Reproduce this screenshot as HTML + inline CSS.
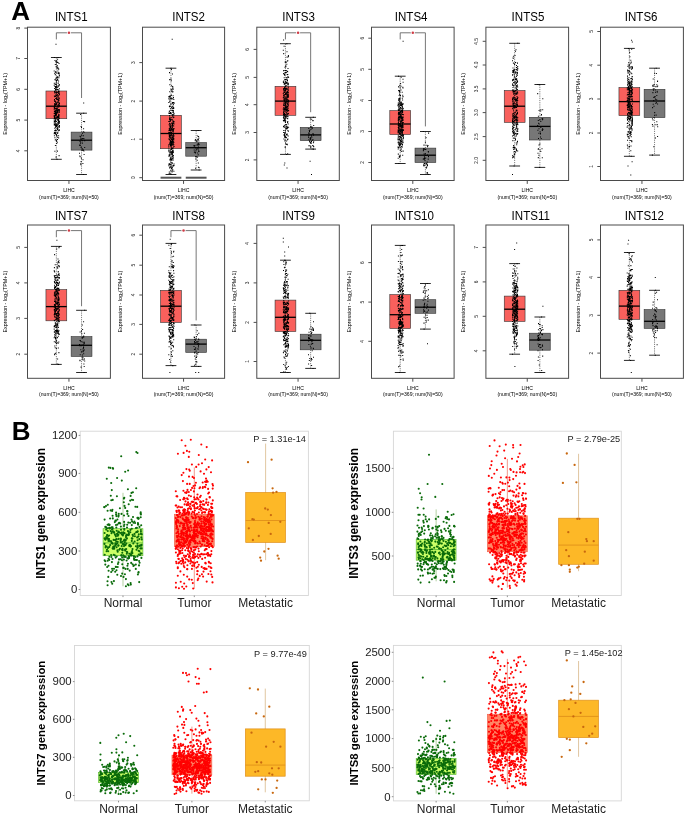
<!DOCTYPE html>
<html><head><meta charset="utf-8"><style>
html,body{margin:0;padding:0;background:#fff;width:685px;height:814px;overflow:hidden}
svg{display:block;will-change:transform;filter:blur(0.3px)}
</style></head><body><svg width="685" height="814" viewBox="0 0 685 814" font-family='"Liberation Sans", sans-serif'><text transform="translate(54.9,20.7) scale(0.94,1)" font-size="12.3" fill="#000">INTS1</text><line x1="24.3" y1="28.1" x2="27.5" y2="28.1" stroke="#222" stroke-width="0.8"/><text transform="translate(19.7,28.1) rotate(-90)" font-size="4.8" text-anchor="middle" fill="#222">8</text><line x1="24.3" y1="58.5" x2="27.5" y2="58.5" stroke="#222" stroke-width="0.8"/><text transform="translate(19.7,58.5) rotate(-90)" font-size="4.8" text-anchor="middle" fill="#222">7</text><line x1="24.3" y1="89.3" x2="27.5" y2="89.3" stroke="#222" stroke-width="0.8"/><text transform="translate(19.7,89.3) rotate(-90)" font-size="4.8" text-anchor="middle" fill="#222">6</text><line x1="24.3" y1="120.1" x2="27.5" y2="120.1" stroke="#222" stroke-width="0.8"/><text transform="translate(19.7,120.1) rotate(-90)" font-size="4.8" text-anchor="middle" fill="#222">5</text><line x1="24.3" y1="150.8" x2="27.5" y2="150.8" stroke="#222" stroke-width="0.8"/><text transform="translate(19.7,150.8) rotate(-90)" font-size="4.8" text-anchor="middle" fill="#222">4</text><text transform="translate(6.7,103.85) rotate(-90)" font-size="5.4" text-anchor="middle" fill="#000">Expression - log<tspan font-size="3.6" dy="1">2</tspan><tspan dy="-1">(TPM+1)</tspan></text><line x1="68.95" y1="180.5" x2="68.95" y2="183.9" stroke="#222" stroke-width="0.8"/><text x="68.95" y="192.1" font-size="5.1" text-anchor="middle" fill="#000">LIHC</text><text x="68.95" y="198.6" font-size="5.1" text-anchor="middle" fill="#000">(num(T)=369; num(N)=50)</text><line x1="56.35" y1="57.5" x2="56.35" y2="91" stroke="#000" stroke-width="0.5" stroke-dasharray="1.2,1"/><line x1="56.35" y1="118.7" x2="56.35" y2="159.3" stroke="#000" stroke-width="0.5" stroke-dasharray="1.2,1"/><line x1="50.95" y1="57.5" x2="61.75" y2="57.5" stroke="#000" stroke-width="0.85"/><line x1="50.95" y1="159.3" x2="61.75" y2="159.3" stroke="#000" stroke-width="0.85"/><rect x="45.95" y="91" width="20.8" height="27.7" fill="#F9605C" stroke="#333" stroke-width="0.6"/><line x1="45.95" y1="106.2" x2="66.75" y2="106.2" stroke="#000" stroke-width="1.3"/><path d="M57.6 57.5h1M56.6 159.3h1M54.7 101.1h1M56.2 99.1h1M58.7 85.2h1M54.2 101.4h1M58.1 126.8h1M56.0 114.1h1M56.3 125.4h1M58.2 110.8h1M55.8 113.5h1M56.4 109.6h1M57.4 68.7h1M59.0 122.0h1M55.5 115.6h1M58.1 115.4h1M57.5 68.1h1M57.1 66.9h1M55.8 86.2h1M55.5 95.6h1M53.9 111.9h1M54.4 105.2h1M54.0 115.9h1M57.7 91.7h1M55.0 111.9h1M54.5 113.5h1M54.1 91.3h1M58.2 138.0h1M58.4 116.5h1M57.3 128.4h1M55.2 92.2h1M55.0 89.5h1M55.2 98.4h1M56.1 103.8h1M54.5 117.9h1M56.1 110.8h1M55.1 96.1h1M58.8 84.6h1M58.9 94.5h1M56.6 128.8h1M55.0 88.0h1M58.9 110.7h1M55.3 114.1h1M55.6 72.6h1M53.7 107.1h1M55.7 130.4h1M56.2 60.8h1M56.4 99.0h1M54.7 103.8h1M56.4 87.8h1M53.7 115.4h1M55.1 104.8h1M54.1 73.2h1M55.8 121.5h1M53.9 118.6h1M53.8 123.7h1M55.3 132.9h1M54.9 112.9h1M56.8 108.4h1M56.5 76.9h1M57.7 117.6h1M57.2 92.4h1M57.5 96.0h1M58.4 77.7h1M55.8 84.4h1M55.4 94.2h1M59.0 130.1h1M54.5 60.4h1M57.6 73.4h1M57.1 110.6h1M53.9 132.9h1M58.2 116.9h1M58.5 63.4h1M57.0 112.8h1M57.6 89.6h1M58.0 81.0h1M54.4 124.3h1M56.5 126.6h1M56.4 109.1h1M58.2 110.8h1M58.0 114.2h1M58.1 135.7h1M56.8 117.7h1M58.5 115.8h1M57.3 116.4h1M57.4 70.9h1M54.9 130.0h1M53.8 123.9h1M54.4 116.0h1M55.6 61.7h1M54.2 91.9h1M58.2 121.8h1M56.7 65.4h1M57.0 102.1h1M57.0 125.1h1M57.3 76.7h1M56.3 136.0h1M53.7 116.4h1M58.0 102.8h1M57.7 112.2h1M56.4 118.2h1M56.5 108.4h1M57.2 127.4h1M54.0 91.3h1M57.6 96.9h1M55.0 125.5h1M54.1 106.7h1M55.1 86.4h1M57.6 123.7h1M54.8 133.4h1M57.6 96.2h1M58.9 75.1h1M56.3 103.2h1M55.7 102.8h1M56.2 99.5h1M57.3 132.2h1M57.8 83.1h1M57.0 129.6h1M57.1 77.6h1M54.1 88.5h1M54.4 117.9h1M55.0 127.1h1M57.7 122.1h1M55.3 112.6h1M56.7 108.8h1M53.7 109.0h1M54.0 116.9h1M55.1 102.2h1M57.3 111.3h1M57.4 116.8h1M57.3 106.2h1M55.2 120.4h1M56.4 116.7h1M56.2 143.5h1M56.2 112.2h1M54.3 96.6h1M58.5 97.8h1M54.7 105.9h1M58.9 123.3h1M58.7 98.6h1M53.7 113.4h1M56.1 140.2h1M58.1 80.9h1M58.9 110.7h1M56.1 113.6h1M55.1 110.6h1M54.8 96.5h1M58.8 118.3h1M54.8 111.4h1M56.8 94.4h1M54.4 151.2h1M56.5 112.8h1M58.8 93.7h1M54.4 104.0h1M58.1 101.1h1M56.4 104.8h1M58.4 95.2h1M57.4 124.9h1M54.9 79.9h1M58.5 104.7h1M56.3 123.9h1M53.8 122.1h1M53.7 133.8h1M56.3 67.9h1M56.1 98.2h1M55.3 98.5h1M54.4 117.8h1M55.5 126.4h1M55.4 126.4h1M58.2 73.6h1M53.7 118.9h1M57.7 72.6h1M58.2 109.5h1M54.3 128.3h1M58.7 102.8h1M57.5 109.7h1M58.5 121.0h1M55.2 108.8h1M55.7 104.2h1M55.8 134.6h1M59.0 125.6h1M56.8 99.6h1M55.6 157.1h1M56.0 80.4h1M55.1 123.1h1M53.9 100.2h1M54.2 108.7h1M58.2 119.3h1M55.2 110.3h1M58.7 118.0h1M55.0 71.8h1M55.1 72.2h1M56.4 117.6h1M54.7 84.5h1M55.7 83.1h1M58.8 73.1h1M58.4 129.7h1M58.0 120.0h1M57.1 133.5h1M58.6 85.1h1M58.7 106.2h1M56.6 80.5h1M57.5 120.4h1M53.9 135.7h1M57.6 86.1h1M56.1 135.1h1M57.7 124.5h1M57.1 102.2h1M55.2 61.8h1M53.9 132.3h1M58.7 104.0h1M54.3 92.6h1M56.2 113.6h1M55.5 113.8h1M55.3 134.0h1M57.6 83.2h1M58.9 127.3h1M55.1 133.8h1M57.2 133.1h1M55.3 102.1h1M56.7 89.4h1M55.8 125.1h1M54.6 108.3h1M54.5 108.5h1M54.8 132.6h1M58.5 100.3h1M56.3 97.5h1M54.8 64.4h1M58.5 121.4h1M59.0 112.1h1M56.1 92.4h1M54.4 106.0h1M54.7 121.6h1M54.1 107.7h1M55.5 130.8h1M54.1 104.8h1M54.9 125.5h1M55.0 133.8h1M56.7 136.0h1M58.4 91.1h1M57.7 122.5h1M55.9 63.9h1M55.9 81.8h1M56.5 62.0h1M55.7 126.0h1M55.5 78.4h1M54.0 105.9h1M55.1 101.9h1M58.9 105.6h1M54.3 92.9h1M56.4 110.5h1M57.0 139.4h1M58.3 107.0h1M54.8 116.0h1M55.1 124.7h1M55.0 101.7h1M55.8 77.8h1M56.1 93.7h1M58.8 126.1h1M58.2 69.1h1M58.4 92.7h1M53.8 124.9h1M53.8 120.9h1M57.5 106.3h1M58.5 121.1h1M56.2 109.3h1M56.8 79.6h1M53.7 71.0h1M55.8 91.8h1M58.7 123.3h1M58.1 93.5h1M58.3 85.9h1M58.9 88.8h1M55.0 71.7h1M54.2 103.6h1M54.5 79.6h1M56.5 112.9h1M57.3 112.3h1M58.7 91.7h1M57.5 62.4h1M57.1 119.6h1M57.8 100.0h1M56.1 86.5h1M56.6 111.6h1M53.9 95.9h1M57.9 120.7h1M54.9 120.1h1M58.6 118.5h1M57.1 112.3h1M55.3 130.9h1M54.3 118.4h1M55.0 114.6h1M57.1 59.2h1M57.4 122.8h1M54.3 130.5h1M54.0 99.5h1M56.5 95.6h1M56.8 142.2h1M55.7 66.6h1M54.9 114.9h1M56.9 151.1h1M53.7 85.3h1M55.3 119.0h1M56.1 141.2h1M58.8 103.5h1M57.1 116.6h1M58.4 122.9h1M56.2 85.8h1M54.9 104.2h1M55.0 111.6h1M58.8 121.5h1M57.5 105.4h1M55.3 101.8h1M53.8 83.3h1M56.3 98.1h1M57.3 122.7h1M55.9 108.1h1M55.0 87.0h1M57.3 87.2h1M58.6 155.6h1M54.9 127.3h1M53.8 118.0h1M55.5 117.7h1M55.9 115.1h1M57.3 137.4h1M54.7 114.1h1M58.0 104.7h1M57.6 115.9h1M56.4 62.4h1M54.8 125.3h1M58.9 112.2h1M55.3 90.4h1M58.1 130.8h1M54.9 139.7h1M54.8 74.6h1M57.8 91.2h1M55.2 111.6h1M58.8 109.6h1M56.3 97.2h1M54.7 84.2h1M54.9 145.5h1M55.9 125.4h1M57.2 79.3h1M58.8 75.9h1M54.4 137.8h1M55.8 124.5h1M54.8 139.9h1M58.9 121.2h1M54.4 86.5h1M53.9 111.0h1M54.0 57.5h1M55.8 89.3h1M58.5 104.9h1M58.4 115.9h1M57.6 89.8h1M59.0 103.4h1M58.7 114.7h1M55.4 113.2h1M54.7 118.0h1M58.7 110.1h1M57.7 98.9h1M53.8 120.8h1M57.2 107.1h1M55.7 87.6h1M55.7 92.1h1M55.4 106.2h1M54.6 103.7h1M53.7 109.1h1M55.2 106.2h1M55.5 44.3h1" stroke="#000" stroke-width="1.05" fill="none"/><line x1="81.55" y1="113.2" x2="81.55" y2="132.1" stroke="#000" stroke-width="0.5" stroke-dasharray="1.2,1"/><line x1="81.55" y1="150.1" x2="81.55" y2="174.5" stroke="#000" stroke-width="0.5" stroke-dasharray="1.2,1"/><line x1="76.15" y1="113.2" x2="86.95" y2="113.2" stroke="#000" stroke-width="0.85"/><line x1="76.15" y1="174.5" x2="86.95" y2="174.5" stroke="#000" stroke-width="0.85"/><rect x="71.15" y="132.1" width="20.8" height="18" fill="#777777" stroke="#333" stroke-width="0.6"/><line x1="71.15" y1="140.2" x2="91.95" y2="140.2" stroke="#000" stroke-width="1.3"/><path d="M83.2 113.2h1M82.8 174.5h1M83.3 138.5h1M83.0 150.0h1M82.1 138.4h1M80.6 126.4h1M80.6 161.6h1M80.8 147.0h1M83.1 128.7h1M79.3 156.0h1M79.9 145.3h1M82.9 121.4h1M80.2 163.8h1M79.2 145.1h1M79.0 153.3h1M81.8 143.1h1M80.6 138.4h1M84.1 121.6h1M83.6 154.5h1M84.2 140.6h1M80.3 136.8h1M79.3 145.4h1M79.4 141.3h1M81.5 150.1h1M82.7 135.7h1M81.3 139.8h1M80.1 114.5h1M81.1 135.1h1M82.2 150.1h1M82.5 159.8h1M82.9 135.8h1M83.4 138.7h1M82.4 163.4h1M79.5 136.3h1M83.4 151.0h1M80.4 164.8h1M81.9 140.8h1M80.9 158.2h1M82.8 131.7h1M79.9 143.2h1M80.2 139.3h1M80.2 141.9h1M79.7 156.8h1M83.6 132.2h1M82.0 133.3h1M80.6 147.5h1M81.0 127.5h1M84.2 147.5h1M81.6 148.6h1M80.1 136.9h1M83.2 103.0h1" stroke="#000" stroke-width="1.05" fill="none"/><path d="M56.35 39.4V32.8H81.55V98" fill="none" stroke="#666" stroke-width="0.9"/><circle cx="68.95" cy="32.8" r="2.1" fill="#fff"/><circle cx="68.95" cy="32.8" r="1.25" fill="#d03a44"/><rect x="27.5" y="27.2" width="82.9" height="153.3" fill="none" stroke="#4a4a4a" stroke-width="1"/><text transform="translate(172.2,20.7) scale(0.94,1)" font-size="12.3" fill="#000">INTS2</text><line x1="139.3" y1="62.6" x2="142.5" y2="62.6" stroke="#222" stroke-width="0.8"/><text transform="translate(134.7,62.6) rotate(-90)" font-size="4.8" text-anchor="middle" fill="#222">3</text><line x1="139.3" y1="101.1" x2="142.5" y2="101.1" stroke="#222" stroke-width="0.8"/><text transform="translate(134.7,101.1) rotate(-90)" font-size="4.8" text-anchor="middle" fill="#222">2</text><line x1="139.3" y1="139.2" x2="142.5" y2="139.2" stroke="#222" stroke-width="0.8"/><text transform="translate(134.7,139.2) rotate(-90)" font-size="4.8" text-anchor="middle" fill="#222">1</text><line x1="139.3" y1="177.7" x2="142.5" y2="177.7" stroke="#222" stroke-width="0.8"/><text transform="translate(134.7,177.7) rotate(-90)" font-size="4.8" text-anchor="middle" fill="#222">0</text><text transform="translate(121.7,103.85) rotate(-90)" font-size="5.4" text-anchor="middle" fill="#000">Expression - log<tspan font-size="3.6" dy="1">2</tspan><tspan dy="-1">(TPM+1)</tspan></text><line x1="183.55" y1="180.5" x2="183.55" y2="183.9" stroke="#222" stroke-width="0.8"/><text x="183.55" y="192.1" font-size="5.1" text-anchor="middle" fill="#000">LIHC</text><text x="183.55" y="198.6" font-size="5.1" text-anchor="middle" fill="#000">(num(T)=369; num(N)=50)</text><line x1="170.95" y1="68.2" x2="170.95" y2="115.3" stroke="#000" stroke-width="0.5" stroke-dasharray="1.2,1"/><line x1="170.95" y1="148.7" x2="170.95" y2="174.5" stroke="#000" stroke-width="0.5" stroke-dasharray="1.2,1"/><line x1="165.55" y1="68.2" x2="176.35" y2="68.2" stroke="#000" stroke-width="0.85"/><line x1="165.55" y1="174.5" x2="176.35" y2="174.5" stroke="#000" stroke-width="0.85"/><rect x="160.55" y="115.3" width="20.8" height="33.4" fill="#F9605C" stroke="#333" stroke-width="0.6"/><line x1="160.55" y1="133.5" x2="181.35" y2="133.5" stroke="#000" stroke-width="1.3"/><path d="M170.5 68.2h1M170.6 174.5h1M172.4 148.8h1M170.1 151.7h1M172.1 86.6h1M171.2 139.1h1M169.4 129.5h1M172.9 129.8h1M168.7 144.4h1M172.7 155.9h1M169.2 79.6h1M168.3 102.4h1M169.3 95.9h1M172.4 166.0h1M173.5 113.6h1M168.3 139.0h1M170.9 142.9h1M170.9 69.4h1M172.6 157.4h1M169.2 152.2h1M170.9 119.7h1M170.1 120.6h1M172.7 123.4h1M169.7 142.6h1M173.3 138.4h1M169.8 150.1h1M169.4 101.7h1M172.0 110.6h1M170.9 134.5h1M168.8 136.8h1M171.7 114.5h1M168.7 163.5h1M172.5 141.2h1M172.0 151.4h1M172.5 145.1h1M171.6 171.9h1M170.2 124.2h1M170.4 130.6h1M170.4 151.7h1M173.1 146.9h1M168.7 96.9h1M173.0 121.6h1M168.4 144.8h1M169.4 140.8h1M169.7 124.2h1M173.1 107.4h1M171.0 128.7h1M170.3 152.4h1M173.0 152.2h1M169.5 126.7h1M170.7 110.3h1M171.1 123.2h1M172.3 86.8h1M172.3 156.1h1M171.7 154.9h1M170.1 133.0h1M170.0 145.3h1M169.1 167.9h1M172.8 134.2h1M171.8 135.8h1M172.3 152.8h1M169.2 117.1h1M170.6 143.3h1M172.4 108.6h1M171.4 152.1h1M168.9 113.4h1M170.7 135.5h1M173.0 136.8h1M169.5 96.9h1M169.3 121.2h1M169.9 141.7h1M172.0 127.2h1M172.8 114.8h1M169.1 115.5h1M169.1 118.4h1M169.6 133.1h1M170.0 126.7h1M171.1 160.3h1M169.1 143.2h1M170.0 127.7h1M169.3 84.8h1M173.5 135.9h1M172.2 148.1h1M168.8 129.8h1M173.4 171.3h1M168.8 172.0h1M170.3 159.1h1M173.6 128.8h1M172.5 150.4h1M172.2 89.0h1M170.6 165.1h1M169.3 96.9h1M171.7 99.0h1M168.8 154.6h1M169.4 166.9h1M170.3 137.5h1M168.4 156.1h1M170.4 157.6h1M172.5 91.8h1M172.0 140.0h1M171.0 147.9h1M171.7 107.2h1M170.8 149.5h1M169.0 123.2h1M171.5 141.2h1M170.4 134.2h1M172.3 169.7h1M173.2 138.7h1M170.6 128.8h1M171.3 91.5h1M172.3 116.2h1M170.5 143.7h1M169.5 156.0h1M172.1 154.1h1M173.0 97.5h1M172.4 121.8h1M172.0 123.8h1M172.9 155.6h1M171.9 108.8h1M171.7 119.4h1M170.7 117.6h1M169.9 108.8h1M171.6 128.1h1M168.8 135.4h1M170.5 110.5h1M172.5 112.2h1M172.1 137.0h1M171.6 171.6h1M169.6 138.2h1M170.5 104.2h1M170.7 144.4h1M171.6 156.6h1M170.5 142.7h1M171.9 140.9h1M173.3 122.8h1M169.2 137.7h1M171.8 103.4h1M172.5 143.1h1M170.3 164.5h1M170.9 141.6h1M173.5 165.4h1M168.5 151.6h1M171.2 138.2h1M169.1 101.7h1M172.5 158.6h1M173.3 142.4h1M171.1 85.8h1M168.8 171.9h1M171.4 162.6h1M171.2 167.1h1M172.1 170.1h1M171.0 132.4h1M171.7 139.4h1M172.7 117.2h1M171.1 159.6h1M170.5 129.9h1M173.4 117.3h1M169.4 153.7h1M171.9 167.7h1M170.4 141.0h1M172.4 129.3h1M168.9 106.6h1M173.6 164.0h1M170.2 159.5h1M168.6 173.8h1M169.7 125.7h1M170.4 174.4h1M168.3 150.0h1M170.5 154.4h1M170.5 147.0h1M172.0 124.6h1M170.2 130.9h1M169.7 160.2h1M169.5 130.4h1M172.3 139.1h1M173.3 139.0h1M171.1 145.7h1M169.4 164.8h1M172.6 117.7h1M170.4 144.3h1M169.4 123.5h1M168.9 135.9h1M172.4 120.5h1M172.6 95.8h1M171.7 126.1h1M170.8 98.6h1M171.3 168.8h1M169.5 100.1h1M173.5 121.4h1M170.2 141.3h1M171.7 125.0h1M172.7 165.2h1M172.7 131.8h1M170.8 95.5h1M169.8 158.3h1M171.2 125.9h1M168.9 111.0h1M172.8 121.6h1M170.2 135.7h1M172.8 104.5h1M169.7 150.0h1M170.3 166.8h1M169.6 173.3h1M170.6 146.0h1M169.3 132.6h1M168.3 165.7h1M172.1 163.3h1M169.8 129.9h1M169.6 121.4h1M169.9 113.5h1M170.8 139.4h1M170.6 133.6h1M171.7 151.9h1M171.8 158.7h1M170.2 104.0h1M173.3 144.7h1M172.9 143.0h1M168.6 124.7h1M172.7 138.2h1M173.1 166.0h1M172.5 135.1h1M169.0 133.7h1M172.7 125.7h1M171.7 141.9h1M168.3 121.5h1M168.3 146.1h1M173.4 102.4h1M171.8 115.5h1M169.6 142.4h1M168.8 163.7h1M169.0 119.2h1M169.5 135.4h1M172.4 149.0h1M170.1 125.7h1M169.1 139.5h1M173.1 141.7h1M172.5 98.2h1M169.2 91.8h1M173.1 138.1h1M171.5 106.7h1M172.5 133.1h1M171.9 136.9h1M173.1 112.2h1M172.5 106.1h1M172.8 110.6h1M169.3 159.7h1M172.0 73.9h1M171.1 151.8h1M172.3 131.4h1M170.6 113.2h1M173.0 139.1h1M171.2 128.9h1M169.7 106.5h1M169.5 128.1h1M169.0 134.1h1M170.9 141.3h1M168.6 134.1h1M170.8 129.3h1M169.0 72.6h1M170.9 113.3h1M170.9 142.9h1M171.2 145.2h1M172.9 108.5h1M168.3 113.3h1M172.8 102.4h1M170.8 95.1h1M171.3 142.3h1M171.8 150.8h1M172.8 130.9h1M170.3 140.3h1M170.5 163.7h1M173.4 103.3h1M168.7 132.8h1M171.7 130.5h1M171.7 154.3h1M168.4 96.5h1M171.5 90.2h1M171.9 141.5h1M173.3 115.0h1M170.0 138.2h1M173.6 146.4h1M171.0 143.6h1M170.9 153.3h1M173.1 138.4h1M168.4 133.4h1M172.1 91.9h1M171.6 153.5h1M170.1 98.4h1M172.9 130.1h1M170.2 162.0h1M170.8 89.7h1M171.1 149.0h1M172.4 112.5h1M169.4 130.4h1M170.6 89.6h1M170.5 79.1h1M171.2 143.1h1M172.7 150.9h1M169.8 135.2h1M172.7 136.7h1M170.4 170.6h1M171.0 168.6h1M169.7 118.3h1M171.0 107.7h1M173.5 124.0h1M171.8 148.2h1M172.5 160.1h1M170.0 112.6h1M170.0 119.5h1M169.9 96.1h1M171.4 158.7h1M171.7 129.5h1M172.5 152.1h1M168.5 98.2h1M172.2 148.6h1M173.0 110.9h1M171.2 127.9h1M168.5 98.9h1M169.9 126.9h1M168.3 148.0h1M169.3 125.7h1M173.2 125.9h1M171.5 144.2h1M171.8 125.5h1M172.5 144.1h1M173.2 135.3h1M171.6 152.2h1M171.6 122.8h1M171.6 136.9h1M172.0 137.7h1M171.5 166.9h1M171.9 142.5h1M169.4 105.7h1M171.9 102.4h1M170.7 132.7h1M172.4 123.6h1M168.8 111.9h1M169.2 119.7h1M168.4 150.7h1M172.4 88.0h1M173.2 140.0h1M171.8 127.2h1M170.2 167.2h1M172.7 89.3h1M172.5 143.6h1M171.3 129.1h1M169.6 136.5h1M169.9 144.1h1M170.5 142.9h1M170.0 145.6h1M170.6 98.1h1M171.7 148.0h1M173.3 99.5h1M168.5 130.6h1M171.3 143.6h1M168.5 164.5h1M168.9 155.4h1M172.6 139.0h1M171.4 152.5h1M173.2 128.6h1M170.7 135.6h1M168.3 132.6h1M170.3 151.8h1M171.4 128.0h1M173.3 108.2h1M173.5 103.5h1M170.8 80.8h1M170.5 132.3h1M168.8 128.5h1M171.7 39.3h1" stroke="#000" stroke-width="1.05" fill="none"/><line x1="196.15" y1="130.5" x2="196.15" y2="142.6" stroke="#000" stroke-width="0.5" stroke-dasharray="1.2,1"/><line x1="196.15" y1="156.2" x2="196.15" y2="170" stroke="#000" stroke-width="0.5" stroke-dasharray="1.2,1"/><line x1="190.75" y1="130.5" x2="201.55" y2="130.5" stroke="#000" stroke-width="0.85"/><line x1="190.75" y1="170" x2="201.55" y2="170" stroke="#000" stroke-width="0.85"/><rect x="185.75" y="142.6" width="20.8" height="13.6" fill="#777777" stroke="#333" stroke-width="0.6"/><line x1="185.75" y1="147.7" x2="206.55" y2="147.7" stroke="#000" stroke-width="1.3"/><path d="M197.7 130.5h1M198.6 170.0h1M197.7 154.7h1M196.5 148.9h1M195.0 147.8h1M193.8 146.1h1M198.7 144.2h1M197.2 153.0h1M197.9 147.0h1M195.2 152.2h1M196.7 144.8h1M198.7 167.7h1M197.9 149.9h1M196.7 148.7h1M195.1 168.2h1M195.8 149.2h1M198.2 151.4h1M195.5 150.7h1M197.1 135.9h1M196.7 160.2h1M198.3 138.1h1M197.8 163.0h1M195.0 156.7h1M193.5 145.6h1M194.9 139.6h1M195.7 156.5h1M196.6 145.3h1M197.9 167.2h1M198.2 145.0h1M193.7 149.9h1M197.9 147.9h1M197.8 139.6h1M198.1 136.4h1M196.5 157.2h1M194.9 152.9h1M198.0 147.1h1M197.8 143.2h1M197.1 157.0h1M198.4 141.0h1M195.3 158.9h1M193.9 152.1h1M196.4 140.5h1M197.8 144.0h1M194.5 145.8h1M197.5 143.9h1M198.5 151.2h1M194.7 140.8h1M196.7 141.2h1M197.1 139.3h1M196.0 141.2h1" stroke="#000" stroke-width="1.05" fill="none"/><line x1="160.55" y1="177.7" x2="181.35" y2="177.7" stroke="#555" stroke-width="2"/><line x1="185.75" y1="177.7" x2="206.55" y2="177.7" stroke="#555" stroke-width="2"/><rect x="142.5" y="27.2" width="82.1" height="153.3" fill="none" stroke="#4a4a4a" stroke-width="1"/><text transform="translate(282.2,20.7) scale(0.94,1)" font-size="12.3" fill="#000">INTS3</text><line x1="253.6" y1="49.4" x2="256.8" y2="49.4" stroke="#222" stroke-width="0.8"/><text transform="translate(249,49.4) rotate(-90)" font-size="4.8" text-anchor="middle" fill="#222">6</text><line x1="253.6" y1="77.4" x2="256.8" y2="77.4" stroke="#222" stroke-width="0.8"/><text transform="translate(249,77.4) rotate(-90)" font-size="4.8" text-anchor="middle" fill="#222">5</text><line x1="253.6" y1="104.7" x2="256.8" y2="104.7" stroke="#222" stroke-width="0.8"/><text transform="translate(249,104.7) rotate(-90)" font-size="4.8" text-anchor="middle" fill="#222">4</text><line x1="253.6" y1="132.5" x2="256.8" y2="132.5" stroke="#222" stroke-width="0.8"/><text transform="translate(249,132.5) rotate(-90)" font-size="4.8" text-anchor="middle" fill="#222">3</text><line x1="253.6" y1="159.9" x2="256.8" y2="159.9" stroke="#222" stroke-width="0.8"/><text transform="translate(249,159.9) rotate(-90)" font-size="4.8" text-anchor="middle" fill="#222">2</text><text transform="translate(236,103.85) rotate(-90)" font-size="5.4" text-anchor="middle" fill="#000">Expression - log<tspan font-size="3.6" dy="1">2</tspan><tspan dy="-1">(TPM+1)</tspan></text><line x1="298.05" y1="180.5" x2="298.05" y2="183.9" stroke="#222" stroke-width="0.8"/><text x="298.05" y="192.1" font-size="5.1" text-anchor="middle" fill="#000">LIHC</text><text x="298.05" y="198.6" font-size="5.1" text-anchor="middle" fill="#000">(num(T)=369; num(N)=50)</text><line x1="285.45" y1="43.7" x2="285.45" y2="86.3" stroke="#000" stroke-width="0.5" stroke-dasharray="1.2,1"/><line x1="285.45" y1="115.3" x2="285.45" y2="154.4" stroke="#000" stroke-width="0.5" stroke-dasharray="1.2,1"/><line x1="280.05" y1="43.7" x2="290.85" y2="43.7" stroke="#000" stroke-width="0.85"/><line x1="280.05" y1="154.4" x2="290.85" y2="154.4" stroke="#000" stroke-width="0.85"/><rect x="275.05" y="86.3" width="20.8" height="29" fill="#F9605C" stroke="#333" stroke-width="0.6"/><line x1="275.05" y1="101.1" x2="295.85" y2="101.1" stroke="#000" stroke-width="1.3"/><path d="M286.4 43.7h1M286.1 154.4h1M287.3 116.6h1M287.2 101.4h1M285.5 62.2h1M286.7 92.0h1M286.8 103.4h1M286.9 113.7h1M285.3 65.7h1M287.0 104.1h1M286.6 128.7h1M287.7 136.0h1M283.4 73.6h1M287.5 76.4h1M282.8 97.7h1M286.9 89.1h1M285.9 93.5h1M285.4 105.8h1M287.9 113.5h1M285.8 94.8h1M285.0 81.2h1M287.0 80.6h1M287.5 92.3h1M286.0 88.7h1M284.8 99.8h1M285.2 121.0h1M285.2 93.8h1M286.7 108.2h1M284.3 75.2h1M284.9 72.5h1M285.7 116.9h1M284.8 124.7h1M284.5 86.2h1M287.0 122.2h1M287.3 106.6h1M285.4 101.8h1M285.1 143.2h1M283.7 98.4h1M284.4 72.8h1M283.5 103.4h1M285.9 98.3h1M285.9 137.6h1M283.2 53.6h1M287.7 124.0h1M284.5 105.3h1M287.3 60.8h1M287.3 116.8h1M287.9 97.3h1M283.9 114.8h1M285.1 104.4h1M287.7 104.8h1M282.8 109.1h1M283.0 126.6h1M285.8 109.6h1M285.4 117.1h1M287.7 83.5h1M286.9 144.8h1M285.7 85.4h1M288.1 127.2h1M285.5 112.3h1M285.5 92.2h1M286.5 107.5h1M284.9 116.8h1M284.7 96.8h1M286.0 72.2h1M284.6 88.7h1M287.9 131.3h1M286.4 92.3h1M285.6 82.4h1M283.3 115.4h1M284.8 130.5h1M284.9 147.2h1M285.8 116.0h1M285.8 100.3h1M287.5 116.8h1M288.0 105.0h1M285.4 72.8h1M285.1 137.5h1M286.1 134.2h1M288.1 77.5h1M284.6 136.5h1M285.6 111.9h1M287.2 93.2h1M283.7 70.5h1M284.5 108.2h1M288.0 100.4h1M287.2 122.8h1M285.5 129.0h1M283.3 130.5h1M287.6 88.8h1M286.5 92.2h1M287.2 128.0h1M288.1 101.6h1M287.5 90.8h1M285.0 93.5h1M283.6 115.6h1M284.3 118.2h1M285.5 118.1h1M285.5 108.7h1M283.8 114.6h1M283.7 120.8h1M286.2 125.9h1M286.0 134.5h1M284.7 103.7h1M288.1 103.0h1M286.2 106.5h1M283.0 114.5h1M285.0 94.3h1M287.0 139.8h1M284.4 83.3h1M286.5 109.9h1M282.8 93.4h1M284.4 91.7h1M287.3 104.2h1M285.9 137.6h1M286.4 82.9h1M283.8 84.4h1M285.4 83.7h1M285.7 79.3h1M284.2 134.2h1M286.2 70.5h1M285.6 105.3h1M288.1 110.4h1M285.9 112.7h1M285.0 132.3h1M283.4 112.7h1M283.6 89.5h1M286.9 97.1h1M283.3 112.5h1M283.3 88.6h1M283.7 90.2h1M285.6 107.5h1M287.2 95.5h1M286.1 141.0h1M287.1 94.4h1M283.1 112.1h1M282.8 81.9h1M286.9 102.1h1M284.5 109.6h1M286.6 94.9h1M284.7 108.2h1M283.7 100.1h1M284.2 125.8h1M283.3 81.1h1M287.6 106.9h1M285.9 124.4h1M284.6 97.3h1M285.2 116.9h1M284.8 107.1h1M283.0 120.2h1M287.6 96.7h1M285.9 109.6h1M287.9 96.6h1M285.1 89.6h1M286.1 144.5h1M284.1 132.8h1M283.0 113.1h1M287.8 84.7h1M287.4 139.1h1M284.4 104.9h1M287.6 94.6h1M287.2 110.8h1M284.4 140.9h1M286.0 101.6h1M287.9 87.2h1M285.4 98.8h1M287.9 56.7h1M284.1 119.5h1M284.9 106.5h1M286.6 128.0h1M283.9 109.7h1M284.4 111.2h1M287.5 105.4h1M285.4 66.8h1M287.0 103.9h1M284.1 109.2h1M283.7 125.7h1M284.7 116.2h1M283.8 83.6h1M288.0 101.6h1M284.3 109.0h1M285.8 129.0h1M283.4 90.6h1M285.6 62.4h1M284.8 88.3h1M284.9 93.8h1M283.1 132.4h1M283.4 114.8h1M287.2 71.7h1M284.6 119.5h1M284.1 137.2h1M283.8 114.2h1M284.3 79.6h1M284.0 135.9h1M282.9 117.3h1M286.3 81.9h1M284.6 147.1h1M283.6 105.6h1M286.6 57.1h1M283.3 107.4h1M284.2 99.7h1M287.3 114.5h1M283.4 111.0h1M285.1 82.8h1M287.3 111.6h1M287.1 118.5h1M283.6 99.3h1M284.7 99.9h1M286.7 77.4h1M284.8 98.1h1M287.9 90.0h1M283.9 100.0h1M287.9 92.2h1M285.5 61.7h1M284.0 113.4h1M285.2 86.7h1M283.5 95.9h1M286.6 80.2h1M284.2 101.2h1M287.6 93.3h1M285.9 137.5h1M284.7 62.1h1M284.1 74.8h1M286.0 101.9h1M283.9 74.4h1M287.5 95.9h1M283.4 108.2h1M285.5 103.3h1M285.7 114.3h1M284.2 113.9h1M286.9 110.7h1M284.8 103.2h1M286.3 96.2h1M285.8 127.9h1M284.4 119.7h1M284.9 102.4h1M283.2 104.8h1M283.7 77.8h1M287.3 84.3h1M284.5 67.3h1M286.3 96.2h1M283.3 135.0h1M285.8 126.7h1M284.7 99.7h1M285.5 94.6h1M284.4 118.7h1M283.1 118.3h1M284.4 83.3h1M284.0 101.0h1M283.4 116.6h1M286.6 116.0h1M284.3 119.5h1M284.9 122.5h1M287.7 108.7h1M286.9 91.6h1M287.5 68.5h1M287.4 85.0h1M283.5 121.3h1M284.2 134.9h1M282.9 120.4h1M286.4 92.8h1M286.3 64.2h1M284.6 120.4h1M285.0 79.4h1M286.3 97.6h1M286.5 135.1h1M284.1 87.4h1M287.3 92.5h1M284.7 114.4h1M286.1 89.1h1M283.7 120.5h1M283.4 138.9h1M287.7 96.4h1M286.7 134.1h1M286.6 80.1h1M283.0 105.1h1M283.0 95.1h1M283.6 46.2h1M283.8 95.1h1M284.4 115.7h1M284.8 94.4h1M283.0 73.7h1M284.4 115.1h1M286.2 83.3h1M283.7 120.6h1M287.3 121.4h1M285.8 110.6h1M286.6 96.6h1M284.1 101.0h1M285.1 136.7h1M286.4 143.9h1M284.6 109.3h1M282.8 50.2h1M287.3 74.4h1M286.9 71.4h1M284.3 133.8h1M283.0 70.8h1M287.4 130.6h1M286.0 107.6h1M283.0 97.8h1M284.1 132.7h1M283.4 97.1h1M287.0 127.1h1M283.9 127.2h1M287.7 87.1h1M286.8 101.0h1M283.2 126.6h1M286.5 51.8h1M284.9 122.0h1M286.8 96.7h1M287.2 118.6h1M284.3 94.4h1M283.2 92.2h1M287.9 55.6h1M285.0 70.5h1M287.8 83.8h1M286.5 99.6h1M286.7 74.6h1M287.2 106.5h1M286.1 107.6h1M285.2 109.8h1M283.0 113.0h1M286.5 114.0h1M285.1 86.0h1M285.5 110.7h1M287.8 101.5h1M283.4 110.1h1M286.9 60.9h1M283.0 89.1h1M286.5 79.1h1M287.1 82.9h1M284.2 92.5h1M285.7 89.2h1M288.0 95.1h1M286.2 77.5h1M285.7 72.2h1M284.1 92.1h1M283.1 82.5h1M284.7 104.6h1M285.0 101.8h1M283.8 116.0h1M284.4 79.6h1M283.5 99.4h1M286.6 98.2h1M286.4 99.4h1M284.0 74.9h1M284.1 134.6h1M285.5 103.0h1M285.2 127.9h1M287.8 83.2h1M284.6 102.0h1M284.4 118.7h1M287.5 99.7h1M283.5 102.8h1M285.8 88.3h1M284.6 140.0h1M287.2 118.5h1M285.7 93.8h1M286.9 103.9h1M283.7 83.1h1M286.3 115.8h1M286.0 100.1h1M285.2 90.6h1M286.9 109.4h1M287.2 153.7h1M283.4 100.2h1M284.3 88.4h1M284.7 90.5h1M283.9 117.9h1M283.1 40.0h1M284.3 163.0h1M283.8 165.0h1M286.5 168.0h1" stroke="#000" stroke-width="1.05" fill="none"/><line x1="310.65" y1="117.3" x2="310.65" y2="127.4" stroke="#000" stroke-width="0.5" stroke-dasharray="1.2,1"/><line x1="310.65" y1="140.6" x2="310.65" y2="149.1" stroke="#000" stroke-width="0.5" stroke-dasharray="1.2,1"/><line x1="305.25" y1="117.3" x2="316.05" y2="117.3" stroke="#000" stroke-width="0.85"/><line x1="305.25" y1="149.1" x2="316.05" y2="149.1" stroke="#000" stroke-width="0.85"/><rect x="300.25" y="127.4" width="20.8" height="13.2" fill="#777777" stroke="#333" stroke-width="0.6"/><line x1="300.25" y1="134.9" x2="321.05" y2="134.9" stroke="#000" stroke-width="1.3"/><path d="M312.8 117.3h1M313.1 149.1h1M310.6 129.3h1M310.6 143.4h1M308.8 130.5h1M309.6 138.8h1M311.1 136.0h1M308.4 135.4h1M311.7 149.0h1M308.8 134.0h1M310.3 146.5h1M313.2 141.7h1M308.4 145.7h1M308.2 133.1h1M310.3 142.5h1M309.0 141.1h1M311.9 128.3h1M308.0 137.1h1M312.5 133.5h1M312.6 134.5h1M312.2 145.5h1M310.2 127.2h1M309.5 130.0h1M311.5 128.0h1M310.7 135.0h1M310.2 139.5h1M309.8 137.4h1M310.3 138.7h1M311.5 127.0h1M312.4 139.6h1M312.8 146.0h1M308.8 145.8h1M309.5 142.2h1M310.3 147.8h1M311.0 141.6h1M309.8 118.9h1M309.0 131.6h1M308.4 139.7h1M309.7 138.3h1M310.4 126.2h1M313.2 125.4h1M312.9 142.8h1M312.6 120.6h1M313.2 146.6h1M313.1 135.1h1M311.3 137.3h1M312.3 120.6h1M308.3 128.5h1M311.6 140.5h1M311.2 119.2h1M309.6 161.3h1M311.0 174.5h1" stroke="#000" stroke-width="1.05" fill="none"/><path d="M285.45 39.4V32.8H310.65V112.2" fill="none" stroke="#666" stroke-width="0.9"/><circle cx="298.05" cy="32.8" r="2.1" fill="#fff"/><circle cx="298.05" cy="32.8" r="1.25" fill="#d03a44"/><rect x="256.8" y="27.2" width="82.5" height="153.3" fill="none" stroke="#4a4a4a" stroke-width="1"/><text transform="translate(394.8,20.7) scale(0.94,1)" font-size="12.3" fill="#000">INTS4</text><line x1="368.3" y1="38.2" x2="371.5" y2="38.2" stroke="#222" stroke-width="0.8"/><text transform="translate(363.7,38.2) rotate(-90)" font-size="4.8" text-anchor="middle" fill="#222">6</text><line x1="368.3" y1="69.3" x2="371.5" y2="69.3" stroke="#222" stroke-width="0.8"/><text transform="translate(363.7,69.3) rotate(-90)" font-size="4.8" text-anchor="middle" fill="#222">5</text><line x1="368.3" y1="100.5" x2="371.5" y2="100.5" stroke="#222" stroke-width="0.8"/><text transform="translate(363.7,100.5) rotate(-90)" font-size="4.8" text-anchor="middle" fill="#222">4</text><line x1="368.3" y1="131.5" x2="371.5" y2="131.5" stroke="#222" stroke-width="0.8"/><text transform="translate(363.7,131.5) rotate(-90)" font-size="4.8" text-anchor="middle" fill="#222">3</text><line x1="368.3" y1="162.5" x2="371.5" y2="162.5" stroke="#222" stroke-width="0.8"/><text transform="translate(363.7,162.5) rotate(-90)" font-size="4.8" text-anchor="middle" fill="#222">2</text><text transform="translate(350.7,103.85) rotate(-90)" font-size="5.4" text-anchor="middle" fill="#000">Expression - log<tspan font-size="3.6" dy="1">2</tspan><tspan dy="-1">(TPM+1)</tspan></text><line x1="412.8" y1="180.5" x2="412.8" y2="183.9" stroke="#222" stroke-width="0.8"/><text x="412.8" y="192.1" font-size="5.1" text-anchor="middle" fill="#000">LIHC</text><text x="412.8" y="198.6" font-size="5.1" text-anchor="middle" fill="#000">(num(T)=369; num(N)=50)</text><line x1="400.2" y1="76.2" x2="400.2" y2="110.6" stroke="#000" stroke-width="0.5" stroke-dasharray="1.2,1"/><line x1="400.2" y1="134.5" x2="400.2" y2="163.5" stroke="#000" stroke-width="0.5" stroke-dasharray="1.2,1"/><line x1="394.8" y1="76.2" x2="405.6" y2="76.2" stroke="#000" stroke-width="0.85"/><line x1="394.8" y1="163.5" x2="405.6" y2="163.5" stroke="#000" stroke-width="0.85"/><rect x="389.8" y="110.6" width="20.8" height="23.9" fill="#F9605C" stroke="#333" stroke-width="0.6"/><line x1="389.8" y1="124" x2="410.6" y2="124" stroke="#000" stroke-width="1.3"/><path d="M398.0 76.2h1M398.4 163.5h1M401.2 113.9h1M398.0 110.6h1M399.3 101.1h1M402.5 151.0h1M401.4 133.9h1M402.3 125.8h1M402.8 114.6h1M397.7 104.5h1M398.8 143.7h1M401.8 135.7h1M401.2 105.8h1M397.7 138.8h1M400.2 102.9h1M398.8 133.6h1M399.8 105.7h1M398.1 116.1h1M397.6 131.4h1M402.9 130.5h1M399.2 139.1h1M402.2 108.0h1M398.2 147.6h1M400.1 144.1h1M398.2 123.8h1M399.8 131.0h1M398.5 109.2h1M401.2 121.1h1M398.3 98.8h1M401.5 125.3h1M400.2 127.0h1M398.1 144.1h1M399.4 138.2h1M400.2 136.2h1M402.5 117.1h1M399.4 119.7h1M398.7 117.5h1M402.7 127.3h1M402.3 87.2h1M401.4 135.5h1M399.0 94.1h1M398.5 114.2h1M398.9 124.3h1M397.9 114.2h1M397.7 148.9h1M400.2 122.1h1M399.7 147.5h1M400.5 141.5h1M399.5 114.5h1M397.6 130.0h1M401.2 143.4h1M401.0 117.6h1M400.4 125.3h1M400.5 113.4h1M401.2 124.9h1M402.8 117.3h1M402.2 125.2h1M401.4 139.0h1M399.7 144.8h1M399.2 126.0h1M399.8 127.0h1M402.8 136.8h1M399.6 118.5h1M399.6 103.8h1M399.7 140.6h1M398.3 106.2h1M402.9 137.9h1M397.5 105.6h1M400.8 151.4h1M402.5 104.1h1M398.9 136.7h1M400.8 146.4h1M399.5 105.7h1M398.8 146.2h1M398.6 108.3h1M398.1 90.4h1M402.1 134.8h1M401.7 134.5h1M402.4 120.1h1M397.8 123.0h1M401.2 118.2h1M399.3 116.8h1M401.0 118.5h1M400.5 89.9h1M399.2 113.2h1M402.7 150.9h1M397.5 147.1h1M401.5 117.1h1M402.1 110.4h1M400.3 129.9h1M400.7 139.9h1M402.9 134.8h1M398.8 101.7h1M400.9 126.4h1M401.5 126.1h1M399.5 145.5h1M401.3 141.9h1M399.6 131.8h1M400.3 142.2h1M400.8 116.5h1M401.2 147.0h1M399.2 115.9h1M400.9 129.9h1M400.4 137.7h1M398.7 106.6h1M400.8 110.6h1M398.9 90.5h1M402.4 126.5h1M400.1 123.0h1M401.4 117.8h1M400.3 131.4h1M400.1 83.6h1M398.7 123.5h1M398.3 125.3h1M402.5 118.9h1M400.4 135.9h1M400.3 150.2h1M400.3 115.5h1M401.9 106.1h1M398.8 112.5h1M398.4 125.4h1M401.9 132.8h1M400.0 107.6h1M401.0 138.9h1M402.0 104.5h1M402.3 136.4h1M402.2 130.4h1M397.7 130.9h1M399.6 156.2h1M402.0 119.0h1M401.9 120.8h1M398.2 131.1h1M398.3 136.9h1M398.9 98.5h1M398.1 128.1h1M399.4 109.9h1M401.8 133.4h1M400.3 144.5h1M399.9 124.8h1M398.0 122.0h1M399.6 126.7h1M402.9 135.5h1M401.3 132.4h1M399.9 126.5h1M400.1 116.4h1M401.8 110.1h1M401.6 120.6h1M398.3 142.1h1M401.2 122.0h1M399.5 144.1h1M400.3 115.2h1M398.8 128.1h1M399.5 123.7h1M399.3 92.3h1M399.6 111.3h1M397.6 142.7h1M398.6 99.4h1M400.6 105.1h1M397.8 103.1h1M398.5 113.5h1M401.4 133.6h1M399.0 132.9h1M399.2 85.3h1M398.8 145.8h1M402.0 112.7h1M398.0 112.8h1M400.9 148.9h1M402.1 122.4h1M398.6 100.4h1M399.8 111.8h1M401.8 110.1h1M400.8 104.7h1M399.5 117.6h1M397.7 137.1h1M399.9 129.2h1M399.5 97.7h1M401.3 105.1h1M399.1 125.7h1M399.7 124.5h1M401.0 135.4h1M401.9 117.7h1M399.4 130.8h1M399.6 155.5h1M400.6 125.4h1M402.5 103.4h1M398.5 128.9h1M402.7 108.7h1M401.3 116.9h1M399.5 126.8h1M401.1 129.0h1M399.3 118.6h1M397.9 136.7h1M401.6 120.3h1M399.5 99.1h1M400.3 137.1h1M400.2 117.1h1M402.4 142.1h1M401.6 111.5h1M397.6 132.6h1M400.7 128.7h1M400.0 95.5h1M400.0 102.7h1M402.0 145.0h1M399.7 88.0h1M400.1 137.7h1M402.3 140.3h1M399.9 131.4h1M400.2 134.1h1M400.3 114.5h1M402.0 123.8h1M401.1 127.4h1M401.5 130.3h1M399.7 134.6h1M397.7 120.1h1M401.2 110.6h1M400.5 113.3h1M401.7 130.1h1M401.7 92.3h1M398.1 100.1h1M398.7 116.1h1M397.9 113.5h1M401.9 118.8h1M398.0 117.5h1M398.0 119.2h1M401.6 135.6h1M400.5 86.2h1M397.8 118.2h1M401.2 131.1h1M401.3 131.3h1M400.1 141.9h1M397.8 139.8h1M401.2 104.0h1M399.8 133.5h1M400.7 117.6h1M402.9 108.7h1M401.9 146.9h1M402.2 112.0h1M398.3 107.7h1M399.3 116.2h1M400.3 107.7h1M397.5 139.1h1M402.8 129.7h1M399.0 145.0h1M398.9 130.2h1M399.2 112.3h1M398.9 139.7h1M402.1 111.5h1M400.5 115.2h1M400.3 120.8h1M399.8 124.6h1M397.8 141.9h1M399.1 112.4h1M402.2 129.3h1M401.8 123.5h1M402.1 99.9h1M398.9 103.1h1M398.6 119.8h1M397.8 130.1h1M400.4 128.8h1M399.5 131.2h1M400.0 124.7h1M400.1 115.4h1M400.7 130.4h1M399.5 104.8h1M401.8 98.3h1M398.6 117.6h1M402.5 96.6h1M400.5 114.2h1M397.8 109.7h1M399.2 113.4h1M400.4 123.1h1M399.7 108.7h1M400.6 115.9h1M399.2 91.3h1M399.0 126.2h1M401.8 107.1h1M399.1 130.1h1M401.3 108.6h1M401.8 127.6h1M400.7 77.2h1M400.0 117.1h1M402.5 125.4h1M399.9 125.5h1M402.2 95.3h1M397.8 127.4h1M399.8 126.2h1M401.0 105.4h1M397.8 135.2h1M402.2 123.1h1M397.9 124.3h1M400.7 115.4h1M398.5 132.2h1M402.5 125.5h1M400.5 141.1h1M401.8 130.8h1M400.2 112.2h1M401.1 119.7h1M401.1 137.8h1M399.1 117.0h1M398.6 129.8h1M402.0 131.8h1M398.3 120.6h1M402.5 79.3h1M398.6 126.0h1M398.0 127.2h1M398.0 126.0h1M401.7 109.4h1M402.6 142.2h1M399.7 121.4h1M401.1 112.0h1M398.9 110.2h1M402.4 129.4h1M401.2 103.0h1M398.3 104.8h1M397.8 154.1h1M401.3 143.7h1M397.7 139.9h1M402.0 144.5h1M399.1 133.0h1M398.8 91.6h1M400.6 142.0h1M399.2 142.7h1M400.5 131.4h1M398.3 86.4h1M402.4 142.7h1M399.3 144.6h1M402.0 114.5h1M398.3 125.9h1M401.8 135.7h1M402.8 122.4h1M399.6 140.6h1M397.7 125.2h1M399.6 134.4h1M401.0 125.3h1M398.7 95.5h1M400.4 104.8h1M398.0 128.2h1M400.0 143.8h1M401.4 141.2h1M399.8 149.9h1M401.2 132.4h1M398.1 112.5h1M402.0 124.3h1M398.2 87.0h1M402.5 120.4h1M402.9 137.7h1M402.6 82.3h1M400.3 127.0h1M399.1 136.4h1M399.4 144.0h1M401.6 106.2h1M400.2 111.4h1M402.5 87.9h1M398.0 104.4h1M400.1 132.1h1M402.2 155.3h1M400.7 101.9h1M400.4 144.8h1M398.0 130.5h1M398.3 114.5h1M399.0 157.2h1M402.3 122.7h1M402.1 127.3h1M398.7 156.2h1M402.5 151.2h1M397.7 158.2h1M400.7 126.0h1M402.7 138.8h1M399.4 144.6h1M402.6 41.3h1" stroke="#000" stroke-width="1.05" fill="none"/><line x1="425.4" y1="131.5" x2="425.4" y2="148.1" stroke="#000" stroke-width="0.5" stroke-dasharray="1.2,1"/><line x1="425.4" y1="162.5" x2="425.4" y2="174.5" stroke="#000" stroke-width="0.5" stroke-dasharray="1.2,1"/><line x1="420" y1="131.5" x2="430.8" y2="131.5" stroke="#000" stroke-width="0.85"/><line x1="420" y1="174.5" x2="430.8" y2="174.5" stroke="#000" stroke-width="0.85"/><rect x="415" y="148.1" width="20.8" height="14.4" fill="#777777" stroke="#333" stroke-width="0.6"/><line x1="415" y1="155.2" x2="435.8" y2="155.2" stroke="#000" stroke-width="1.3"/><path d="M422.8 131.5h1M427.8 174.5h1M425.3 149.5h1M427.0 165.5h1M425.8 155.5h1M426.4 173.0h1M423.9 163.4h1M426.8 172.4h1M423.5 154.0h1M424.1 159.1h1M422.9 150.8h1M424.8 153.5h1M425.5 137.6h1M424.3 149.3h1M427.5 145.5h1M423.2 148.6h1M425.8 167.9h1M424.0 157.9h1M425.9 168.0h1M426.9 164.2h1M426.5 164.8h1M423.0 165.7h1M424.0 149.1h1M425.9 163.6h1M428.0 151.9h1M422.9 149.8h1M426.0 167.7h1M426.4 145.3h1M427.1 173.3h1M424.5 163.9h1M427.1 146.6h1M425.2 158.1h1M427.7 159.1h1M422.8 159.1h1M427.8 151.6h1M424.9 142.2h1M424.9 155.5h1M423.2 164.2h1M424.0 163.4h1M426.7 162.1h1M426.4 166.7h1M423.5 145.1h1M424.6 154.8h1M423.5 158.8h1M423.8 165.6h1M423.9 156.8h1M424.5 160.6h1M428.0 156.6h1M428.1 133.1h1M427.0 155.0h1" stroke="#000" stroke-width="1.05" fill="none"/><path d="M400.2 39.4V32.8H425.4V126.4" fill="none" stroke="#666" stroke-width="0.9"/><circle cx="412.8" cy="32.8" r="2.1" fill="#fff"/><circle cx="412.8" cy="32.8" r="1.25" fill="#d03a44"/><rect x="371.5" y="27.2" width="82.6" height="153.3" fill="none" stroke="#4a4a4a" stroke-width="1"/><text transform="translate(511.6,20.7) scale(0.94,1)" font-size="12.3" fill="#000">INTS5</text><line x1="482.7" y1="41.3" x2="485.9" y2="41.3" stroke="#222" stroke-width="0.8"/><text transform="translate(478.1,41.3) rotate(-90)" font-size="4.8" text-anchor="middle" fill="#222">4.5</text><line x1="482.7" y1="65" x2="485.9" y2="65" stroke="#222" stroke-width="0.8"/><text transform="translate(478.1,65) rotate(-90)" font-size="4.8" text-anchor="middle" fill="#222">4.0</text><line x1="482.7" y1="88.9" x2="485.9" y2="88.9" stroke="#222" stroke-width="0.8"/><text transform="translate(478.1,88.9) rotate(-90)" font-size="4.8" text-anchor="middle" fill="#222">3.5</text><line x1="482.7" y1="112.6" x2="485.9" y2="112.6" stroke="#222" stroke-width="0.8"/><text transform="translate(478.1,112.6) rotate(-90)" font-size="4.8" text-anchor="middle" fill="#222">3.0</text><line x1="482.7" y1="136.6" x2="485.9" y2="136.6" stroke="#222" stroke-width="0.8"/><text transform="translate(478.1,136.6) rotate(-90)" font-size="4.8" text-anchor="middle" fill="#222">2.5</text><line x1="482.7" y1="160.3" x2="485.9" y2="160.3" stroke="#222" stroke-width="0.8"/><text transform="translate(478.1,160.3) rotate(-90)" font-size="4.8" text-anchor="middle" fill="#222">2.0</text><text transform="translate(465.1,103.85) rotate(-90)" font-size="5.4" text-anchor="middle" fill="#000">Expression - log<tspan font-size="3.6" dy="1">2</tspan><tspan dy="-1">(TPM+1)</tspan></text><line x1="527.25" y1="180.5" x2="527.25" y2="183.9" stroke="#222" stroke-width="0.8"/><text x="527.25" y="192.1" font-size="5.1" text-anchor="middle" fill="#000">LIHC</text><text x="527.25" y="198.6" font-size="5.1" text-anchor="middle" fill="#000">(num(T)=369; num(N)=50)</text><line x1="514.65" y1="43.3" x2="514.65" y2="90.5" stroke="#000" stroke-width="0.5" stroke-dasharray="1.2,1"/><line x1="514.65" y1="122.4" x2="514.65" y2="166" stroke="#000" stroke-width="0.5" stroke-dasharray="1.2,1"/><line x1="509.25" y1="43.3" x2="520.05" y2="43.3" stroke="#000" stroke-width="0.85"/><line x1="509.25" y1="166" x2="520.05" y2="166" stroke="#000" stroke-width="0.85"/><rect x="504.25" y="90.5" width="20.8" height="31.9" fill="#F9605C" stroke="#333" stroke-width="0.6"/><line x1="504.25" y1="106.2" x2="525.05" y2="106.2" stroke="#000" stroke-width="1.3"/><path d="M517.3 43.3h1M513.6 166.0h1M512.2 115.8h1M512.9 56.2h1M513.9 106.5h1M516.8 73.1h1M516.3 116.8h1M514.4 138.1h1M512.5 130.1h1M512.5 72.5h1M512.8 138.1h1M516.1 127.1h1M514.5 98.1h1M517.3 117.8h1M516.9 141.3h1M516.2 98.8h1M514.5 105.9h1M516.4 93.7h1M512.6 132.9h1M512.5 58.0h1M515.0 139.0h1M514.7 84.5h1M513.1 127.6h1M513.3 69.8h1M512.1 85.2h1M516.9 92.8h1M515.8 125.3h1M517.1 69.9h1M517.2 120.1h1M514.3 92.0h1M515.9 134.9h1M514.0 99.2h1M516.3 117.4h1M516.5 102.4h1M512.7 147.6h1M512.0 98.1h1M513.1 105.6h1M515.1 152.1h1M514.0 108.0h1M512.0 122.1h1M516.4 89.7h1M516.2 110.8h1M514.5 55.4h1M512.2 108.6h1M516.8 91.7h1M514.8 72.5h1M512.3 74.5h1M513.7 132.6h1M515.3 116.1h1M516.7 72.2h1M514.6 148.1h1M515.4 90.6h1M513.1 97.9h1M513.3 111.9h1M516.8 80.7h1M514.0 70.0h1M512.5 89.5h1M515.1 133.5h1M512.6 128.2h1M513.0 70.8h1M514.4 134.0h1M515.1 107.0h1M515.4 117.8h1M515.8 107.4h1M514.3 115.8h1M512.3 83.8h1M515.9 85.8h1M512.2 90.5h1M514.5 97.9h1M514.1 120.5h1M515.6 79.0h1M515.8 143.0h1M513.2 92.0h1M515.5 93.0h1M515.7 122.5h1M514.5 116.2h1M512.7 98.6h1M516.9 82.2h1M515.2 83.8h1M512.3 70.4h1M513.2 132.6h1M517.3 131.2h1M513.2 149.4h1M514.1 117.7h1M516.2 113.9h1M516.4 123.7h1M515.4 128.2h1M516.0 100.4h1M512.2 114.3h1M512.5 156.0h1M517.2 68.3h1M516.3 74.7h1M512.2 84.6h1M512.2 123.6h1M513.2 133.7h1M517.0 98.6h1M513.1 121.7h1M515.6 105.1h1M517.0 113.1h1M515.4 94.1h1M516.9 105.6h1M513.4 106.1h1M512.8 132.3h1M512.0 157.8h1M516.0 65.5h1M512.5 118.5h1M517.2 106.1h1M515.8 128.6h1M513.0 130.7h1M516.3 124.2h1M512.8 124.9h1M514.7 84.9h1M512.5 68.0h1M516.2 144.8h1M516.8 134.2h1M516.9 84.9h1M512.0 136.0h1M516.5 121.6h1M515.0 51.2h1M516.4 127.0h1M514.7 84.1h1M515.3 133.2h1M515.2 90.9h1M516.3 89.5h1M512.4 71.6h1M512.2 101.3h1M514.9 129.7h1M513.5 91.1h1M514.1 64.5h1M512.0 155.8h1M516.0 148.9h1M512.1 122.2h1M516.4 94.1h1M516.3 79.0h1M514.4 69.5h1M512.6 119.1h1M515.5 136.3h1M513.1 82.4h1M514.3 106.2h1M512.5 100.0h1M517.2 100.4h1M514.9 117.8h1M513.9 154.6h1M512.5 91.9h1M515.9 125.9h1M516.5 131.4h1M516.5 99.8h1M512.5 102.9h1M513.9 76.1h1M513.6 131.2h1M516.1 94.3h1M512.7 91.5h1M515.2 107.8h1M517.2 86.9h1M516.1 82.8h1M512.0 99.5h1M512.4 140.6h1M512.6 101.6h1M515.7 118.4h1M515.2 73.3h1M514.8 62.5h1M514.4 148.3h1M514.1 97.3h1M515.2 71.7h1M515.5 103.8h1M516.9 120.3h1M515.9 67.4h1M516.3 86.4h1M516.9 112.2h1M516.5 85.5h1M515.8 124.7h1M512.1 128.5h1M515.6 116.5h1M516.5 96.6h1M514.3 105.2h1M516.7 92.0h1M512.9 103.3h1M517.0 113.6h1M514.3 99.5h1M515.8 128.8h1M513.3 93.9h1M513.6 114.2h1M513.8 125.3h1M513.7 121.1h1M512.5 100.9h1M514.3 95.4h1M517.2 129.5h1M515.5 120.7h1M517.0 117.9h1M516.1 88.1h1M516.5 120.8h1M517.3 124.6h1M516.0 102.0h1M513.4 121.2h1M513.3 156.6h1M514.2 64.0h1M512.1 120.3h1M513.2 79.9h1M516.7 75.5h1M516.9 100.9h1M513.7 118.9h1M516.1 107.4h1M516.1 80.0h1M516.8 73.8h1M516.2 93.7h1M514.8 106.5h1M512.5 87.5h1M516.4 72.4h1M513.6 146.9h1M515.3 87.3h1M513.9 102.7h1M514.9 93.9h1M517.2 93.0h1M512.8 107.1h1M514.8 99.5h1M515.5 120.6h1M514.9 79.5h1M517.0 72.7h1M514.2 151.5h1M516.9 104.5h1M515.7 124.1h1M517.2 133.6h1M512.4 119.1h1M513.1 107.0h1M513.5 71.2h1M516.8 70.1h1M512.0 128.9h1M513.4 121.9h1M515.8 119.4h1M517.3 68.8h1M512.9 58.2h1M514.3 82.4h1M515.7 79.6h1M515.7 109.9h1M516.0 83.2h1M516.0 143.0h1M513.3 92.2h1M513.3 93.5h1M512.1 126.3h1M515.7 113.8h1M513.1 85.9h1M513.4 125.3h1M517.2 151.0h1M515.4 78.5h1M515.1 100.6h1M515.5 81.9h1M515.2 62.4h1M515.7 120.8h1M513.6 122.5h1M512.3 128.9h1M512.3 116.2h1M512.0 60.7h1M513.9 105.6h1M512.7 91.1h1M512.6 79.6h1M514.6 81.2h1M517.2 124.0h1M515.7 99.5h1M513.4 152.0h1M516.1 117.2h1M512.9 63.1h1M512.5 127.1h1M513.6 135.3h1M514.2 106.9h1M515.7 78.8h1M514.4 147.5h1M515.9 76.5h1M512.5 104.3h1M517.0 63.1h1M513.8 77.8h1M516.4 67.7h1M512.1 131.6h1M516.4 133.7h1M513.2 97.0h1M516.6 75.5h1M516.3 104.8h1M515.6 115.1h1M513.4 71.6h1M512.0 80.0h1M513.0 103.9h1M516.8 122.7h1M512.8 107.9h1M515.5 116.7h1M515.1 77.9h1M515.5 49.7h1M512.9 113.5h1M512.7 85.4h1M512.5 103.4h1M517.3 97.6h1M514.0 117.5h1M515.5 88.7h1M515.0 140.0h1M513.2 106.9h1M512.3 118.6h1M512.0 120.9h1M516.6 130.5h1M512.7 115.7h1M517.2 66.4h1M513.9 91.9h1M515.9 149.8h1M512.7 117.3h1M516.2 119.4h1M513.3 117.2h1M513.9 91.6h1M514.8 90.8h1M512.6 91.5h1M513.3 133.4h1M516.2 114.8h1M513.5 148.0h1M514.0 117.9h1M516.1 150.6h1M513.2 117.0h1M513.0 79.3h1M513.1 147.1h1M514.0 114.1h1M513.9 134.2h1M515.4 111.2h1M514.5 98.7h1M516.6 110.2h1M512.2 80.6h1M515.5 79.0h1M516.5 85.9h1M513.2 94.2h1M512.1 75.3h1M514.3 103.8h1M512.6 113.4h1M514.4 154.0h1M515.8 149.6h1M512.5 105.1h1M512.6 127.0h1M514.5 101.2h1M512.9 115.4h1M513.2 105.4h1M514.3 93.8h1M512.6 108.0h1M512.3 72.4h1M513.9 116.6h1M514.5 99.6h1M517.0 81.4h1M514.9 98.0h1M512.3 119.3h1M513.2 90.7h1M516.0 117.4h1M515.0 119.7h1M516.6 143.0h1M517.1 81.3h1M516.6 103.7h1M512.5 118.3h1M517.0 141.7h1M514.8 112.4h1M513.2 124.0h1M512.9 72.6h1M516.6 92.8h1M513.1 145.5h1M512.4 99.7h1M513.4 157.4h1M516.9 89.5h1M514.4 99.8h1M515.9 69.6h1M512.4 121.2h1M514.4 112.5h1M513.7 154.0h1M513.1 110.1h1M515.5 100.5h1M513.9 73.9h1M512.6 104.3h1M517.3 128.6h1M514.6 123.7h1M512.9 135.3h1M512.0 174.5h1" stroke="#000" stroke-width="1.05" fill="none"/><line x1="539.85" y1="84.5" x2="539.85" y2="117.3" stroke="#000" stroke-width="0.5" stroke-dasharray="1.2,1"/><line x1="539.85" y1="140" x2="539.85" y2="167.4" stroke="#000" stroke-width="0.5" stroke-dasharray="1.2,1"/><line x1="534.45" y1="84.5" x2="545.25" y2="84.5" stroke="#000" stroke-width="0.85"/><line x1="534.45" y1="167.4" x2="545.25" y2="167.4" stroke="#000" stroke-width="0.85"/><rect x="529.45" y="117.3" width="20.8" height="22.7" fill="#777777" stroke="#333" stroke-width="0.6"/><line x1="529.45" y1="126.4" x2="550.25" y2="126.4" stroke="#000" stroke-width="1.3"/><path d="M537.3 84.5h1M539.2 167.4h1M538.0 148.9h1M541.6 129.9h1M537.2 125.4h1M540.4 109.7h1M538.5 128.8h1M539.6 150.0h1M540.2 110.9h1M541.0 114.4h1M537.9 148.7h1M538.4 155.2h1M537.8 157.6h1M542.3 119.0h1M538.0 138.5h1M537.9 116.3h1M540.0 136.9h1M540.3 121.5h1M541.9 130.3h1M537.5 153.3h1M538.4 133.2h1M538.1 123.2h1M540.3 127.5h1M539.6 131.7h1M539.4 119.5h1M541.9 130.5h1M540.7 138.4h1M541.8 157.7h1M542.3 98.7h1M538.6 110.4h1M542.2 109.8h1M539.4 144.0h1M537.4 130.3h1M542.1 128.8h1M537.7 149.2h1M537.2 93.6h1M538.7 124.0h1M538.7 84.6h1M542.4 129.5h1M541.9 119.6h1M539.4 119.9h1M540.0 133.2h1M541.7 118.6h1M541.5 148.7h1M540.7 126.4h1M539.9 134.0h1M537.8 120.4h1M538.5 145.0h1M540.7 115.3h1M540.3 151.4h1" stroke="#000" stroke-width="1.05" fill="none"/><rect x="485.9" y="27.2" width="82.7" height="153.3" fill="none" stroke="#4a4a4a" stroke-width="1"/><text transform="translate(624.8,20.7) scale(0.94,1)" font-size="12.3" fill="#000">INTS6</text><line x1="597.3" y1="31.5" x2="600.5" y2="31.5" stroke="#222" stroke-width="0.8"/><text transform="translate(592.7,31.5) rotate(-90)" font-size="4.8" text-anchor="middle" fill="#222">5</text><line x1="597.3" y1="65.2" x2="600.5" y2="65.2" stroke="#222" stroke-width="0.8"/><text transform="translate(592.7,65.2) rotate(-90)" font-size="4.8" text-anchor="middle" fill="#222">4</text><line x1="597.3" y1="99" x2="600.5" y2="99" stroke="#222" stroke-width="0.8"/><text transform="translate(592.7,99) rotate(-90)" font-size="4.8" text-anchor="middle" fill="#222">3</text><line x1="597.3" y1="133" x2="600.5" y2="133" stroke="#222" stroke-width="0.8"/><text transform="translate(592.7,133) rotate(-90)" font-size="4.8" text-anchor="middle" fill="#222">2</text><line x1="597.3" y1="166.5" x2="600.5" y2="166.5" stroke="#222" stroke-width="0.8"/><text transform="translate(592.7,166.5) rotate(-90)" font-size="4.8" text-anchor="middle" fill="#222">1</text><text transform="translate(579.7,103.85) rotate(-90)" font-size="5.4" text-anchor="middle" fill="#000">Expression - log<tspan font-size="3.6" dy="1">2</tspan><tspan dy="-1">(TPM+1)</tspan></text><line x1="641.95" y1="180.5" x2="641.95" y2="183.9" stroke="#222" stroke-width="0.8"/><text x="641.95" y="192.1" font-size="5.1" text-anchor="middle" fill="#000">LIHC</text><text x="641.95" y="198.6" font-size="5.1" text-anchor="middle" fill="#000">(num(T)=369; num(N)=50)</text><line x1="629.35" y1="48.4" x2="629.35" y2="87.5" stroke="#000" stroke-width="0.5" stroke-dasharray="1.2,1"/><line x1="629.35" y1="115.6" x2="629.35" y2="156.3" stroke="#000" stroke-width="0.5" stroke-dasharray="1.2,1"/><line x1="623.95" y1="48.4" x2="634.75" y2="48.4" stroke="#000" stroke-width="0.85"/><line x1="623.95" y1="156.3" x2="634.75" y2="156.3" stroke="#000" stroke-width="0.85"/><rect x="618.95" y="87.5" width="20.8" height="28.1" fill="#F9605C" stroke="#333" stroke-width="0.6"/><line x1="618.95" y1="101.6" x2="639.75" y2="101.6" stroke="#000" stroke-width="1.3"/><path d="M627.9 48.4h1M630.7 156.3h1M631.0 114.8h1M627.8 98.4h1M631.4 140.9h1M632.0 122.0h1M629.0 89.6h1M628.7 95.9h1M630.5 95.9h1M631.7 86.6h1M627.7 103.3h1M628.3 121.4h1M628.4 70.5h1M630.6 96.9h1M627.7 132.2h1M629.6 116.8h1M629.4 84.8h1M630.3 85.0h1M627.4 84.0h1M631.8 68.5h1M632.0 125.1h1M629.7 103.0h1M630.9 87.2h1M627.6 72.1h1M631.6 93.7h1M629.6 91.1h1M630.8 136.8h1M631.3 92.1h1M628.6 104.0h1M631.6 123.5h1M627.8 115.3h1M626.8 97.9h1M629.4 56.7h1M631.5 130.2h1M631.5 113.8h1M631.8 92.7h1M629.4 99.8h1M631.7 81.9h1M629.7 83.1h1M627.4 71.1h1M630.1 111.8h1M631.0 112.2h1M628.9 105.2h1M629.9 117.5h1M628.0 112.5h1M628.1 104.1h1M628.9 83.4h1M629.4 113.7h1M629.2 125.8h1M627.1 114.5h1M626.7 127.1h1M628.5 91.9h1M630.5 81.5h1M630.7 127.1h1M627.9 89.6h1M628.0 106.6h1M629.4 97.7h1M627.6 102.0h1M629.9 96.0h1M631.5 90.5h1M627.7 65.0h1M629.8 140.4h1M630.5 105.7h1M630.7 62.1h1M630.5 83.0h1M630.5 78.5h1M628.1 86.4h1M631.2 49.3h1M631.6 113.3h1M626.9 135.0h1M631.7 96.6h1M629.0 116.7h1M627.1 113.8h1M627.0 76.1h1M631.0 126.4h1M630.3 67.0h1M627.4 89.8h1M629.1 94.2h1M630.1 127.2h1M632.0 104.0h1M628.5 99.1h1M630.8 85.1h1M628.0 103.4h1M627.7 102.5h1M627.5 116.5h1M628.9 130.0h1M630.0 116.6h1M628.3 102.0h1M627.5 98.5h1M627.8 134.2h1M627.1 105.7h1M627.7 101.3h1M628.4 138.1h1M629.4 133.5h1M627.6 113.2h1M629.2 99.4h1M629.0 88.6h1M631.9 123.3h1M629.3 92.3h1M631.8 121.1h1M629.2 85.6h1M627.7 103.7h1M629.8 109.8h1M627.4 104.5h1M627.6 106.4h1M627.0 109.3h1M630.4 78.6h1M631.9 78.9h1M628.8 98.6h1M628.6 138.2h1M628.9 99.1h1M628.6 82.7h1M630.4 88.1h1M628.8 102.3h1M627.5 125.6h1M631.3 90.0h1M629.7 113.0h1M626.7 105.4h1M631.2 94.3h1M630.6 82.3h1M628.6 98.5h1M630.1 86.8h1M631.6 112.5h1M628.8 65.6h1M629.0 124.5h1M628.3 117.0h1M629.6 113.3h1M630.2 132.0h1M630.6 113.8h1M631.8 66.7h1M627.4 102.7h1M628.6 110.7h1M631.2 87.6h1M630.9 78.5h1M629.8 110.4h1M630.3 112.0h1M628.5 92.9h1M631.8 96.7h1M629.6 91.3h1M628.8 90.0h1M627.6 100.4h1M627.3 123.4h1M631.5 68.8h1M631.0 94.7h1M626.8 134.3h1M628.4 108.0h1M629.2 104.7h1M629.3 118.5h1M628.6 81.1h1M631.5 76.9h1M628.5 67.8h1M629.5 71.9h1M631.7 106.6h1M630.1 118.8h1M629.2 93.1h1M628.4 87.7h1M628.7 109.8h1M629.9 114.0h1M630.9 106.8h1M628.1 62.8h1M628.7 90.5h1M628.7 50.0h1M628.6 106.5h1M631.6 84.3h1M629.6 88.2h1M628.1 132.0h1M628.4 128.3h1M631.1 111.3h1M627.5 107.2h1M630.4 105.1h1M626.8 89.7h1M627.7 100.6h1M627.0 140.3h1M631.0 83.8h1M627.4 88.1h1M627.9 104.9h1M627.0 119.6h1M628.1 118.4h1M630.6 81.9h1M630.5 99.0h1M631.6 96.2h1M631.8 76.5h1M629.6 103.2h1M631.6 91.8h1M627.1 120.2h1M631.6 110.3h1M629.0 85.7h1M627.7 103.2h1M630.7 94.3h1M631.3 88.7h1M628.7 91.7h1M627.2 123.1h1M631.4 93.2h1M630.7 66.7h1M629.9 85.9h1M631.9 117.9h1M626.9 145.1h1M627.0 80.2h1M627.3 94.4h1M626.8 94.9h1M630.5 73.0h1M630.1 109.7h1M627.3 100.6h1M627.5 107.2h1M627.6 146.8h1M629.9 96.2h1M630.3 117.6h1M631.9 118.4h1M628.6 88.7h1M631.9 89.6h1M629.0 133.0h1M628.8 116.0h1M628.0 104.5h1M627.9 79.4h1M631.9 119.4h1M632.0 112.3h1M630.5 146.0h1M627.6 131.4h1M627.6 117.8h1M627.5 107.0h1M628.5 102.9h1M630.6 90.4h1M627.0 107.8h1M629.5 106.5h1M630.3 114.8h1M626.8 123.5h1M629.0 107.9h1M630.9 90.6h1M629.8 117.9h1M629.1 132.9h1M631.4 84.6h1M629.9 110.1h1M628.5 112.7h1M628.8 112.4h1M631.7 111.8h1M631.3 99.8h1M631.6 99.5h1M629.7 135.6h1M627.4 136.6h1M627.6 73.1h1M628.7 50.0h1M630.4 110.4h1M626.7 87.9h1M631.0 91.1h1M630.9 69.2h1M629.4 108.7h1M626.7 100.5h1M631.0 90.6h1M628.9 119.7h1M630.3 150.7h1M629.7 131.4h1M630.6 125.3h1M628.9 93.2h1M631.8 114.9h1M631.8 100.8h1M631.7 124.9h1M630.0 113.3h1M628.4 100.9h1M628.7 112.8h1M628.1 87.0h1M631.5 117.6h1M630.9 131.9h1M630.9 94.3h1M631.1 112.8h1M632.0 67.8h1M630.4 120.5h1M628.4 119.3h1M630.7 80.9h1M628.1 136.8h1M629.9 103.9h1M627.5 66.5h1M631.3 73.8h1M629.3 119.2h1M628.1 96.1h1M631.6 123.9h1M627.1 70.1h1M631.7 99.6h1M630.7 121.3h1M627.5 87.8h1M630.8 115.3h1M629.7 94.3h1M631.5 108.5h1M629.8 108.1h1M629.0 146.6h1M631.7 76.5h1M627.1 117.3h1M630.8 128.1h1M627.2 78.8h1M628.1 103.2h1M627.3 148.2h1M631.4 122.8h1M629.0 96.8h1M630.6 66.9h1M628.0 107.7h1M630.6 86.9h1M630.2 90.2h1M627.2 84.6h1M629.3 107.5h1M630.5 92.1h1M627.8 83.2h1M630.2 97.0h1M628.2 109.8h1M628.7 84.2h1M631.6 124.0h1M631.7 67.9h1M632.0 109.8h1M629.0 93.7h1M629.7 133.3h1M631.0 88.5h1M630.7 88.1h1M629.1 74.4h1M631.3 141.6h1M628.8 114.1h1M631.8 79.6h1M629.2 94.8h1M627.3 82.2h1M630.7 132.3h1M627.4 110.0h1M630.3 60.2h1M626.9 105.8h1M632.0 120.1h1M629.6 101.6h1M630.6 111.1h1M627.4 99.4h1M630.1 105.8h1M628.7 105.9h1M628.0 87.2h1M631.1 108.6h1M626.8 104.9h1M629.2 100.8h1M627.1 87.7h1M631.2 81.0h1M631.5 106.6h1M626.8 118.3h1M629.2 52.5h1M629.2 90.7h1M630.5 128.9h1M630.6 120.1h1M628.5 87.1h1M631.7 128.9h1M627.7 81.6h1M627.4 85.6h1M631.0 140.7h1M627.3 92.7h1M627.7 97.2h1M629.4 68.1h1M628.5 81.1h1M627.5 77.7h1M631.7 98.8h1M629.2 64.3h1M630.9 123.0h1M628.0 94.4h1M631.6 89.3h1M627.8 88.7h1M631.5 116.6h1M630.0 132.6h1M631.9 93.3h1M630.8 134.2h1M630.1 134.1h1M629.5 128.7h1M631.3 107.6h1M629.0 71.3h1M627.2 115.2h1M631.6 93.3h1M631.0 105.5h1M630.3 63.3h1M630.7 95.9h1M627.9 106.3h1M629.2 82.6h1M631.1 40.3h1M631.8 42.0h1M631.6 161.8h1M627.5 166.0h1M630.3 175.0h1" stroke="#000" stroke-width="1.05" fill="none"/><line x1="654.55" y1="68.2" x2="654.55" y2="89.3" stroke="#000" stroke-width="0.5" stroke-dasharray="1.2,1"/><line x1="654.55" y1="117.6" x2="654.55" y2="155.1" stroke="#000" stroke-width="0.5" stroke-dasharray="1.2,1"/><line x1="649.15" y1="68.2" x2="659.95" y2="68.2" stroke="#000" stroke-width="0.85"/><line x1="649.15" y1="155.1" x2="659.95" y2="155.1" stroke="#000" stroke-width="0.85"/><rect x="644.15" y="89.3" width="20.8" height="28.3" fill="#777777" stroke="#333" stroke-width="0.6"/><line x1="644.15" y1="101" x2="664.95" y2="101" stroke="#000" stroke-width="1.3"/><path d="M655.7 68.2h1M651.9 155.1h1M652.1 107.6h1M654.2 112.6h1M657.1 81.1h1M653.5 106.3h1M654.9 99.1h1M651.9 124.4h1M654.1 73.3h1M656.7 91.2h1M655.0 92.3h1M656.3 95.5h1M651.9 118.8h1M652.9 90.1h1M652.8 88.7h1M656.3 121.7h1M652.4 126.1h1M656.9 124.7h1M653.3 97.5h1M656.6 86.6h1M654.6 96.6h1M653.6 117.4h1M657.1 104.0h1M654.0 115.3h1M655.6 115.1h1M652.2 85.7h1M656.3 84.8h1M657.1 136.5h1M652.4 92.6h1M655.9 73.5h1M653.3 146.8h1M652.6 86.5h1M653.8 84.8h1M655.4 124.8h1M657.0 81.4h1M657.2 85.9h1M657.2 126.8h1M655.2 86.8h1M655.4 103.4h1M652.7 104.2h1M655.8 102.4h1M654.8 89.9h1M653.8 97.1h1M656.7 92.3h1M653.2 100.6h1M652.6 120.0h1M652.7 78.9h1M652.7 85.1h1M655.0 138.0h1M656.2 99.7h1" stroke="#000" stroke-width="1.05" fill="none"/><rect x="600.5" y="27.2" width="82.9" height="153.3" fill="none" stroke="#4a4a4a" stroke-width="1"/><text transform="translate(54.9,219.5) scale(0.94,1)" font-size="12.3" fill="#000">INTS7</text><line x1="24.3" y1="247.4" x2="27.5" y2="247.4" stroke="#222" stroke-width="0.8"/><text transform="translate(19.7,247.4) rotate(-90)" font-size="4.8" text-anchor="middle" fill="#222">5</text><line x1="24.3" y1="282.9" x2="27.5" y2="282.9" stroke="#222" stroke-width="0.8"/><text transform="translate(19.7,282.9) rotate(-90)" font-size="4.8" text-anchor="middle" fill="#222">4</text><line x1="24.3" y1="318.4" x2="27.5" y2="318.4" stroke="#222" stroke-width="0.8"/><text transform="translate(19.7,318.4) rotate(-90)" font-size="4.8" text-anchor="middle" fill="#222">3</text><line x1="24.3" y1="354.2" x2="27.5" y2="354.2" stroke="#222" stroke-width="0.8"/><text transform="translate(19.7,354.2) rotate(-90)" font-size="4.8" text-anchor="middle" fill="#222">2</text><text transform="translate(6.7,301.65) rotate(-90)" font-size="5.4" text-anchor="middle" fill="#000">Expression - log<tspan font-size="3.6" dy="1">2</tspan><tspan dy="-1">(TPM+1)</tspan></text><line x1="68.95" y1="378.3" x2="68.95" y2="381.7" stroke="#222" stroke-width="0.8"/><text x="68.95" y="389.9" font-size="5.1" text-anchor="middle" fill="#000">LIHC</text><text x="68.95" y="396.4" font-size="5.1" text-anchor="middle" fill="#000">(num(T)=369; num(N)=50)</text><line x1="56.35" y1="246.4" x2="56.35" y2="289.6" stroke="#000" stroke-width="0.5" stroke-dasharray="1.2,1"/><line x1="56.35" y1="320.8" x2="56.35" y2="364.4" stroke="#000" stroke-width="0.5" stroke-dasharray="1.2,1"/><line x1="50.95" y1="246.4" x2="61.75" y2="246.4" stroke="#000" stroke-width="0.85"/><line x1="50.95" y1="364.4" x2="61.75" y2="364.4" stroke="#000" stroke-width="0.85"/><rect x="45.95" y="289.6" width="20.8" height="31.2" fill="#F9605C" stroke="#333" stroke-width="0.6"/><line x1="45.95" y1="306.6" x2="66.75" y2="306.6" stroke="#000" stroke-width="1.3"/><path d="M58.9 246.4h1M58.1 364.4h1M57.2 277.8h1M54.2 292.0h1M57.0 279.7h1M53.8 320.3h1M58.7 313.9h1M58.9 307.3h1M57.6 290.2h1M55.1 313.8h1M58.2 307.3h1M54.6 287.9h1M58.1 313.6h1M56.5 289.8h1M53.7 326.6h1M58.5 319.8h1M56.0 289.3h1M58.1 319.0h1M57.4 308.0h1M56.5 288.8h1M58.3 283.6h1M54.7 264.7h1M58.5 278.1h1M55.5 313.9h1M53.8 332.0h1M55.5 290.8h1M54.0 310.0h1M54.0 313.8h1M57.0 323.0h1M54.3 315.9h1M54.5 332.4h1M55.2 322.7h1M55.2 287.4h1M58.6 315.0h1M58.5 247.6h1M58.3 302.1h1M59.0 307.0h1M56.0 318.8h1M57.9 299.0h1M55.2 324.1h1M58.7 334.4h1M58.0 285.4h1M57.6 292.9h1M54.9 312.1h1M54.1 316.9h1M58.6 309.6h1M56.6 324.1h1M57.0 276.8h1M58.3 322.9h1M54.4 331.2h1M57.4 330.0h1M56.2 315.6h1M57.9 300.6h1M56.1 315.0h1M54.7 304.7h1M58.8 266.6h1M55.2 291.3h1M57.7 305.6h1M58.1 293.6h1M55.0 283.1h1M57.4 300.8h1M55.8 297.2h1M54.9 308.1h1M54.8 305.4h1M58.8 310.2h1M55.6 327.5h1M56.4 309.5h1M56.4 315.2h1M53.8 275.8h1M57.7 296.5h1M57.7 320.9h1M58.4 298.0h1M55.6 290.9h1M54.8 275.4h1M55.5 325.4h1M57.6 293.3h1M57.2 311.8h1M55.8 330.4h1M56.5 317.9h1M54.5 353.8h1M58.6 303.3h1M56.2 326.7h1M56.4 321.2h1M57.9 290.1h1M54.7 307.6h1M57.6 292.4h1M55.6 280.8h1M58.0 312.9h1M54.2 287.1h1M55.1 342.0h1M57.1 287.9h1M56.3 292.9h1M55.7 308.5h1M56.8 293.5h1M54.8 307.7h1M56.0 291.3h1M53.7 270.8h1M58.0 274.1h1M55.0 338.6h1M58.1 316.0h1M56.6 309.8h1M56.9 294.9h1M57.0 302.9h1M54.3 312.9h1M57.8 271.6h1M55.2 286.5h1M58.3 284.2h1M57.9 333.1h1M57.3 280.0h1M58.1 331.3h1M56.0 294.9h1M57.3 364.0h1M58.8 304.6h1M54.7 307.3h1M54.2 335.0h1M55.9 325.0h1M56.4 326.4h1M54.5 279.7h1M54.8 330.5h1M58.3 342.0h1M55.7 304.0h1M54.5 294.4h1M54.6 279.1h1M56.8 328.0h1M54.7 312.8h1M56.2 306.7h1M56.6 275.5h1M56.0 340.7h1M56.4 325.0h1M58.2 306.1h1M53.7 337.7h1M58.7 282.6h1M54.7 325.2h1M53.9 281.4h1M57.8 336.3h1M56.7 299.7h1M56.6 332.3h1M54.8 296.1h1M57.9 315.0h1M55.3 330.6h1M57.6 283.9h1M54.9 308.6h1M56.7 285.5h1M57.2 324.5h1M55.7 291.4h1M56.2 297.2h1M54.0 301.5h1M57.1 331.1h1M57.4 280.4h1M54.5 306.0h1M56.6 298.3h1M57.6 292.7h1M54.2 286.8h1M58.2 302.6h1M58.4 310.7h1M53.9 267.6h1M55.0 311.5h1M54.1 276.8h1M55.0 306.9h1M54.1 354.6h1M56.3 282.2h1M55.0 304.9h1M55.3 300.2h1M56.1 327.3h1M55.7 294.6h1M57.9 261.6h1M57.6 266.0h1M54.3 310.3h1M54.9 311.9h1M53.7 329.1h1M55.4 293.1h1M54.2 320.6h1M57.4 279.8h1M57.9 333.9h1M59.0 304.8h1M54.8 289.5h1M53.8 310.3h1M57.7 343.3h1M55.9 285.2h1M58.7 275.4h1M55.8 281.0h1M55.3 277.5h1M54.0 305.3h1M58.8 314.0h1M56.4 302.5h1M56.0 310.7h1M56.0 331.6h1M57.8 299.3h1M58.1 275.0h1M56.2 249.0h1M54.6 311.7h1M55.8 289.5h1M58.5 300.3h1M55.9 315.2h1M57.2 316.3h1M56.7 267.1h1M56.1 282.5h1M56.8 308.2h1M55.0 303.0h1M56.7 330.7h1M58.3 294.0h1M54.1 254.6h1M55.6 331.2h1M58.4 265.4h1M58.9 282.1h1M53.7 314.8h1M57.0 279.9h1M57.1 359.0h1M58.2 311.6h1M56.2 317.9h1M54.4 295.6h1M55.3 353.3h1M57.5 318.0h1M57.6 288.5h1M54.8 333.0h1M57.1 264.0h1M57.2 291.8h1M57.2 312.7h1M53.8 309.5h1M56.0 282.4h1M55.4 339.9h1M56.9 337.6h1M55.5 283.0h1M54.3 314.5h1M57.3 290.6h1M55.2 295.7h1M57.9 327.4h1M55.3 309.3h1M56.6 303.9h1M58.0 308.8h1M54.3 277.1h1M57.6 332.3h1M54.0 287.7h1M58.7 334.1h1M53.8 295.1h1M57.6 295.1h1M55.6 337.9h1M54.6 310.6h1M55.8 290.5h1M56.4 293.1h1M55.9 319.3h1M54.3 346.0h1M56.5 319.5h1M55.3 296.7h1M58.9 278.3h1M55.7 289.6h1M56.0 303.6h1M54.9 311.8h1M58.9 290.1h1M55.4 333.5h1M57.1 282.5h1M58.1 288.6h1M55.8 317.1h1M57.7 316.7h1M55.2 296.8h1M54.2 326.8h1M53.9 271.1h1M56.1 341.0h1M58.4 352.6h1M54.7 347.7h1M56.0 309.1h1M57.8 348.0h1M55.1 307.7h1M54.5 334.6h1M56.5 301.6h1M55.9 310.7h1M58.7 317.6h1M58.5 262.6h1M54.9 301.4h1M56.7 342.8h1M55.9 314.7h1M53.8 326.0h1M56.0 313.5h1M58.6 310.7h1M55.3 335.8h1M56.8 313.7h1M57.5 258.9h1M54.0 282.8h1M58.6 299.1h1M54.2 309.6h1M55.3 295.3h1M57.5 304.0h1M53.8 341.7h1M55.7 330.8h1M54.3 326.3h1M56.2 319.3h1M53.7 306.9h1M54.5 307.9h1M54.9 314.3h1M54.1 311.7h1M54.1 288.4h1M54.7 323.0h1M56.4 285.8h1M54.4 305.6h1M58.1 297.6h1M55.9 277.6h1M55.0 319.3h1M55.0 304.9h1M58.2 277.3h1M53.9 304.6h1M57.7 271.9h1M54.2 336.8h1M58.8 317.5h1M55.9 348.4h1M56.9 292.3h1M58.3 321.4h1M54.2 282.2h1M54.0 285.2h1M57.4 304.4h1M56.8 315.2h1M57.5 326.0h1M55.2 299.9h1M56.3 329.8h1M54.7 326.9h1M56.0 284.6h1M55.2 302.1h1M56.8 283.6h1M55.3 342.4h1M55.1 292.8h1M57.1 325.2h1M54.1 325.8h1M58.0 300.2h1M56.3 294.4h1M54.9 313.8h1M54.3 287.1h1M56.4 274.8h1M56.4 282.3h1M57.5 313.7h1M55.7 310.6h1M55.9 343.6h1M58.5 260.7h1M55.1 317.2h1M58.9 277.6h1M58.5 330.8h1M59.0 321.2h1M58.7 309.3h1M55.0 337.5h1M58.0 297.2h1M57.0 293.3h1M54.8 280.2h1M59.0 290.1h1M57.1 309.0h1M58.0 320.7h1M56.7 333.4h1M54.1 299.9h1M58.3 288.3h1M54.6 298.2h1M55.0 295.8h1M57.0 294.9h1M54.7 296.5h1M56.1 284.8h1M57.5 305.3h1M54.2 293.8h1M57.2 302.4h1M54.2 271.9h1M56.2 309.6h1M57.2 318.6h1M57.4 320.2h1M53.9 292.9h1M54.7 278.1h1M58.8 274.0h1M55.8 277.2h1M55.9 290.5h1M55.7 298.8h1M57.4 262.2h1M57.6 320.6h1M57.2 268.1h1M55.8 289.4h1M56.7 288.5h1M56.4 240.3h1" stroke="#000" stroke-width="1.05" fill="none"/><line x1="81.55" y1="310.3" x2="81.55" y2="336.6" stroke="#000" stroke-width="0.5" stroke-dasharray="1.2,1"/><line x1="81.55" y1="356.5" x2="81.55" y2="372.5" stroke="#000" stroke-width="0.5" stroke-dasharray="1.2,1"/><line x1="76.15" y1="310.3" x2="86.95" y2="310.3" stroke="#000" stroke-width="0.85"/><line x1="76.15" y1="372.5" x2="86.95" y2="372.5" stroke="#000" stroke-width="0.85"/><rect x="71.15" y="336.6" width="20.8" height="19.9" fill="#777777" stroke="#333" stroke-width="0.6"/><line x1="71.15" y1="345.3" x2="91.95" y2="345.3" stroke="#000" stroke-width="1.3"/><path d="M84.2 310.3h1M83.6 372.5h1M79.5 340.4h1M83.4 363.9h1M79.0 344.6h1M82.7 351.8h1M83.2 337.2h1M82.6 344.4h1M81.8 324.9h1M83.2 336.1h1M79.7 354.8h1M81.8 338.3h1M80.3 349.7h1M81.0 331.1h1M79.9 340.6h1M82.7 360.0h1M81.9 355.0h1M83.1 321.7h1M82.2 359.1h1M82.1 329.4h1M83.8 349.9h1M83.2 353.8h1M81.9 337.2h1M80.6 341.6h1M83.9 342.2h1M80.9 351.9h1M79.4 360.2h1M80.6 367.1h1M82.7 350.6h1M83.9 333.3h1M82.3 342.0h1M82.4 357.7h1M83.9 343.7h1M83.1 346.9h1M81.3 333.7h1M81.3 351.7h1M83.0 347.9h1M80.6 345.0h1M79.4 345.6h1M82.2 356.9h1M83.2 343.0h1M80.2 345.2h1M82.5 349.0h1M83.7 366.5h1M79.5 360.6h1M79.6 332.0h1M81.5 337.8h1M80.7 345.6h1M84.0 358.9h1M84.2 361.0h1" stroke="#000" stroke-width="1.05" fill="none"/><path d="M56.35 237.2V230.6H81.55V306.2" fill="none" stroke="#666" stroke-width="0.9"/><circle cx="68.95" cy="230.6" r="2.1" fill="#fff"/><circle cx="68.95" cy="230.6" r="1.25" fill="#d03a44"/><rect x="27.5" y="225" width="82.9" height="153.3" fill="none" stroke="#4a4a4a" stroke-width="1"/><text transform="translate(172.2,219.5) scale(0.94,1)" font-size="12.3" fill="#000">INTS8</text><line x1="139.3" y1="235.2" x2="142.5" y2="235.2" stroke="#222" stroke-width="0.8"/><text transform="translate(134.7,235.2) rotate(-90)" font-size="4.8" text-anchor="middle" fill="#222">6</text><line x1="139.3" y1="265.2" x2="142.5" y2="265.2" stroke="#222" stroke-width="0.8"/><text transform="translate(134.7,265.2) rotate(-90)" font-size="4.8" text-anchor="middle" fill="#222">5</text><line x1="139.3" y1="295" x2="142.5" y2="295" stroke="#222" stroke-width="0.8"/><text transform="translate(134.7,295) rotate(-90)" font-size="4.8" text-anchor="middle" fill="#222">4</text><line x1="139.3" y1="324.4" x2="142.5" y2="324.4" stroke="#222" stroke-width="0.8"/><text transform="translate(134.7,324.4) rotate(-90)" font-size="4.8" text-anchor="middle" fill="#222">3</text><line x1="139.3" y1="354.2" x2="142.5" y2="354.2" stroke="#222" stroke-width="0.8"/><text transform="translate(134.7,354.2) rotate(-90)" font-size="4.8" text-anchor="middle" fill="#222">2</text><text transform="translate(121.7,301.65) rotate(-90)" font-size="5.4" text-anchor="middle" fill="#000">Expression - log<tspan font-size="3.6" dy="1">2</tspan><tspan dy="-1">(TPM+1)</tspan></text><line x1="183.55" y1="378.3" x2="183.55" y2="381.7" stroke="#222" stroke-width="0.8"/><text x="183.55" y="389.9" font-size="5.1" text-anchor="middle" fill="#000">LIHC</text><text x="183.55" y="396.4" font-size="5.1" text-anchor="middle" fill="#000">(num(T)=369; num(N)=50)</text><line x1="170.95" y1="243.4" x2="170.95" y2="290.4" stroke="#000" stroke-width="0.5" stroke-dasharray="1.2,1"/><line x1="170.95" y1="322.4" x2="170.95" y2="365.6" stroke="#000" stroke-width="0.5" stroke-dasharray="1.2,1"/><line x1="165.55" y1="243.4" x2="176.35" y2="243.4" stroke="#000" stroke-width="0.85"/><line x1="165.55" y1="365.6" x2="176.35" y2="365.6" stroke="#000" stroke-width="0.85"/><rect x="160.55" y="290.4" width="20.8" height="32" fill="#F9605C" stroke="#333" stroke-width="0.6"/><line x1="160.55" y1="306.2" x2="181.35" y2="306.2" stroke="#000" stroke-width="1.3"/><path d="M171.2 243.4h1M172.3 365.6h1M170.9 320.5h1M168.4 296.4h1M172.4 295.6h1M169.4 320.8h1M170.8 303.6h1M168.3 329.6h1M169.6 318.3h1M171.8 333.5h1M172.4 309.3h1M171.7 256.7h1M170.6 337.5h1M172.2 267.1h1M171.9 330.3h1M169.4 312.1h1M171.1 275.6h1M171.5 307.8h1M172.2 326.6h1M169.3 282.7h1M169.9 307.5h1M170.1 289.2h1M168.8 284.2h1M170.1 292.0h1M172.2 335.6h1M171.4 322.4h1M169.2 305.9h1M172.2 304.3h1M168.9 309.4h1M172.3 312.9h1M169.0 310.7h1M168.8 266.8h1M169.6 327.5h1M171.0 286.5h1M169.7 248.5h1M173.0 322.8h1M173.3 279.6h1M169.8 302.9h1M172.3 304.4h1M172.0 292.6h1M171.3 318.7h1M169.6 299.9h1M173.4 300.3h1M173.4 284.3h1M168.3 300.2h1M170.0 282.4h1M170.0 307.4h1M169.3 337.4h1M170.6 329.5h1M173.1 316.3h1M168.4 276.1h1M172.8 330.5h1M169.9 327.8h1M168.3 354.8h1M173.1 256.3h1M169.7 306.6h1M169.4 299.0h1M168.9 331.9h1M170.2 282.2h1M168.9 297.5h1M169.2 359.4h1M169.6 329.7h1M171.4 262.0h1M170.7 306.7h1M169.9 337.7h1M171.1 292.0h1M172.4 320.1h1M172.2 308.5h1M170.1 273.8h1M173.2 291.8h1M172.5 332.4h1M171.3 334.2h1M170.8 293.0h1M170.0 332.8h1M169.0 290.5h1M173.0 312.0h1M171.5 305.9h1M168.8 277.4h1M173.2 313.8h1M173.0 297.2h1M168.4 245.2h1M172.0 287.1h1M169.5 287.5h1M171.1 287.0h1M172.8 284.6h1M170.1 290.3h1M170.9 251.7h1M171.8 327.2h1M169.3 308.0h1M171.6 312.2h1M170.5 300.4h1M173.6 307.7h1M169.3 300.5h1M172.1 281.1h1M168.5 272.5h1M169.7 308.0h1M168.9 329.7h1M169.1 311.7h1M171.1 343.3h1M169.2 274.8h1M172.5 300.5h1M168.8 292.0h1M171.6 334.6h1M172.9 346.2h1M168.9 294.7h1M169.4 323.5h1M172.4 300.9h1M170.8 283.2h1M173.3 303.9h1M170.1 282.2h1M170.4 341.9h1M173.4 320.1h1M170.1 333.6h1M173.5 314.7h1M173.1 252.0h1M169.3 325.2h1M171.2 308.4h1M173.3 251.3h1M168.9 308.7h1M172.8 330.1h1M172.4 345.6h1M172.3 282.6h1M171.5 324.4h1M168.8 314.1h1M173.4 302.5h1M168.8 299.7h1M172.5 318.5h1M172.2 319.8h1M170.0 321.4h1M171.9 296.8h1M170.5 276.8h1M172.3 337.3h1M168.5 336.1h1M173.3 293.2h1M170.3 305.6h1M172.6 325.3h1M170.8 267.0h1M172.6 318.0h1M169.9 361.9h1M171.2 312.6h1M168.4 290.5h1M170.9 354.5h1M168.7 306.5h1M172.9 311.2h1M171.9 296.8h1M170.5 310.5h1M173.5 266.1h1M173.4 276.7h1M173.4 273.2h1M168.7 327.5h1M172.1 304.2h1M172.2 333.4h1M171.5 260.6h1M168.3 292.4h1M173.2 339.8h1M170.6 287.9h1M171.5 264.5h1M172.6 289.0h1M169.7 298.5h1M168.4 305.9h1M173.2 336.2h1M169.7 337.6h1M168.5 342.0h1M169.0 319.9h1M173.6 295.0h1M172.2 294.8h1M169.4 273.1h1M169.0 336.3h1M173.1 335.1h1M171.8 308.3h1M171.4 286.3h1M169.0 322.1h1M170.5 317.5h1M173.4 309.8h1M168.3 280.2h1M170.5 311.9h1M168.6 293.5h1M173.6 323.7h1M168.8 320.0h1M173.4 316.6h1M172.8 296.7h1M172.2 342.2h1M168.5 324.1h1M172.0 336.1h1M170.9 325.6h1M170.9 321.9h1M169.0 315.3h1M171.0 281.6h1M172.6 265.4h1M169.0 284.7h1M173.0 320.4h1M170.5 327.7h1M169.7 310.5h1M169.5 308.3h1M170.7 348.5h1M171.7 297.1h1M171.3 266.2h1M173.1 270.6h1M171.0 299.0h1M171.0 322.7h1M173.6 323.2h1M169.4 301.1h1M168.3 325.1h1M170.0 305.1h1M169.9 290.0h1M168.9 297.5h1M170.5 323.6h1M168.4 328.7h1M173.2 281.0h1M170.9 283.5h1M173.0 309.1h1M172.0 356.3h1M172.2 280.0h1M172.3 277.4h1M169.9 315.9h1M172.2 318.2h1M169.4 292.5h1M171.2 305.6h1M171.5 317.4h1M172.4 266.1h1M169.2 305.7h1M170.1 320.4h1M172.7 327.5h1M172.6 333.7h1M173.5 304.6h1M168.9 273.1h1M169.4 337.1h1M168.8 324.4h1M172.2 291.9h1M172.3 330.6h1M171.7 330.1h1M172.5 303.0h1M171.0 253.2h1M171.3 295.4h1M173.2 289.2h1M171.8 287.0h1M171.8 304.4h1M171.4 281.4h1M170.9 315.2h1M172.3 350.7h1M171.3 279.5h1M168.9 330.7h1M170.5 294.3h1M170.5 319.0h1M170.6 303.4h1M171.3 336.4h1M170.2 290.3h1M170.4 323.5h1M170.6 288.8h1M170.3 311.6h1M173.5 305.9h1M168.7 331.8h1M168.3 270.8h1M172.1 275.2h1M170.4 338.3h1M170.7 315.3h1M171.4 345.3h1M170.2 282.6h1M169.5 311.1h1M168.3 320.4h1M173.0 346.9h1M173.3 305.0h1M169.8 296.2h1M170.8 323.0h1M170.0 303.9h1M168.6 289.0h1M173.1 323.8h1M172.8 262.5h1M169.6 283.4h1M169.6 338.2h1M172.0 295.0h1M172.6 298.8h1M170.8 314.8h1M170.3 332.6h1M169.5 318.4h1M172.6 284.1h1M172.9 293.5h1M172.9 330.9h1M168.9 303.5h1M171.5 291.7h1M173.6 326.3h1M172.1 333.0h1M170.7 356.3h1M169.0 281.6h1M168.6 290.3h1M172.2 290.3h1M168.6 314.4h1M172.6 295.3h1M171.8 331.9h1M170.8 244.6h1M173.1 328.4h1M173.3 291.5h1M171.6 300.0h1M168.8 319.5h1M171.4 310.9h1M170.5 283.0h1M169.6 340.8h1M173.3 319.7h1M172.2 295.2h1M168.9 311.1h1M169.5 281.4h1M170.1 278.1h1M171.3 299.5h1M170.0 314.8h1M170.6 308.5h1M172.6 288.5h1M169.2 275.1h1M172.1 267.8h1M170.0 343.0h1M173.4 314.9h1M173.4 288.2h1M170.0 334.0h1M171.5 318.6h1M168.8 296.8h1M170.5 292.4h1M171.6 332.9h1M171.7 313.7h1M170.1 344.5h1M168.4 314.6h1M168.9 292.8h1M171.3 292.8h1M169.2 290.1h1M169.9 312.1h1M171.6 312.2h1M173.1 320.2h1M171.0 316.8h1M169.6 282.6h1M171.4 301.5h1M169.7 285.1h1M172.5 317.5h1M169.1 276.7h1M169.7 292.9h1M170.6 286.9h1M173.2 292.1h1M169.1 300.4h1M169.3 341.6h1M169.0 300.5h1M169.4 273.5h1M170.0 299.4h1M170.4 323.7h1M172.4 319.0h1M170.4 311.8h1M170.8 352.1h1M170.4 332.2h1M172.4 308.3h1M173.1 334.6h1M170.5 276.1h1M173.2 302.3h1M169.6 286.7h1M173.5 310.4h1M171.1 343.5h1M171.9 294.9h1M170.3 342.9h1M169.7 282.9h1M169.0 339.1h1M173.0 267.6h1M170.2 287.1h1M172.0 329.5h1M170.7 304.1h1M171.1 309.6h1M169.4 305.9h1M169.2 310.4h1M170.1 302.2h1M171.9 283.9h1M171.2 299.7h1M168.3 308.8h1M172.1 286.0h1M170.6 317.1h1M168.6 346.8h1M169.7 239.3h1M169.4 372.5h1" stroke="#000" stroke-width="1.05" fill="none"/><line x1="196.15" y1="325" x2="196.15" y2="339.2" stroke="#000" stroke-width="0.5" stroke-dasharray="1.2,1"/><line x1="196.15" y1="352.4" x2="196.15" y2="366.4" stroke="#000" stroke-width="0.5" stroke-dasharray="1.2,1"/><line x1="190.75" y1="325" x2="201.55" y2="325" stroke="#000" stroke-width="0.85"/><line x1="190.75" y1="366.4" x2="201.55" y2="366.4" stroke="#000" stroke-width="0.85"/><rect x="185.75" y="339.2" width="20.8" height="13.2" fill="#777777" stroke="#333" stroke-width="0.6"/><line x1="185.75" y1="344.1" x2="206.55" y2="344.1" stroke="#000" stroke-width="1.3"/><path d="M194.4 325.0h1M198.2 366.4h1M194.0 341.6h1M194.4 352.3h1M194.8 342.6h1M196.2 353.7h1M196.0 336.8h1M196.4 362.0h1M197.4 348.7h1M198.3 333.2h1M196.0 357.5h1M193.7 337.1h1M197.9 346.9h1M193.5 346.5h1M195.2 349.0h1M194.2 352.3h1M196.7 330.8h1M197.7 341.7h1M194.1 337.5h1M195.0 340.1h1M198.0 345.8h1M197.2 344.3h1M194.0 337.5h1M197.2 354.0h1M197.7 343.6h1M195.7 357.4h1M194.3 356.1h1M197.0 334.7h1M195.2 364.3h1M194.2 343.1h1M194.3 349.5h1M195.6 351.1h1M194.1 365.2h1M195.5 361.6h1M196.4 342.7h1M196.4 341.6h1M195.6 338.7h1M197.8 343.7h1M193.9 349.3h1M195.2 347.7h1M198.5 343.9h1M198.1 339.0h1M198.4 339.7h1M197.6 349.2h1M196.3 356.2h1M197.7 352.5h1M196.5 341.8h1M194.1 353.0h1M194.8 359.0h1M194.0 339.3h1M198.2 372.5h1M195.2 372.5h1" stroke="#000" stroke-width="1.05" fill="none"/><path d="M170.95 237.2V230.6H196.15V320.4" fill="none" stroke="#666" stroke-width="0.9"/><circle cx="183.55" cy="230.6" r="2.1" fill="#fff"/><circle cx="183.55" cy="230.6" r="1.25" fill="#d03a44"/><rect x="142.5" y="225" width="82.1" height="153.3" fill="none" stroke="#4a4a4a" stroke-width="1"/><text transform="translate(282.2,219.5) scale(0.94,1)" font-size="12.3" fill="#000">INTS9</text><line x1="253.6" y1="243.4" x2="256.8" y2="243.4" stroke="#222" stroke-width="0.8"/><text transform="translate(249,243.4) rotate(-90)" font-size="4.8" text-anchor="middle" fill="#222">4</text><line x1="253.6" y1="282.9" x2="256.8" y2="282.9" stroke="#222" stroke-width="0.8"/><text transform="translate(249,282.9) rotate(-90)" font-size="4.8" text-anchor="middle" fill="#222">3</text><line x1="253.6" y1="322.4" x2="256.8" y2="322.4" stroke="#222" stroke-width="0.8"/><text transform="translate(249,322.4) rotate(-90)" font-size="4.8" text-anchor="middle" fill="#222">2</text><line x1="253.6" y1="361.5" x2="256.8" y2="361.5" stroke="#222" stroke-width="0.8"/><text transform="translate(249,361.5) rotate(-90)" font-size="4.8" text-anchor="middle" fill="#222">1</text><text transform="translate(236,301.65) rotate(-90)" font-size="5.4" text-anchor="middle" fill="#000">Expression - log<tspan font-size="3.6" dy="1">2</tspan><tspan dy="-1">(TPM+1)</tspan></text><line x1="298.05" y1="378.3" x2="298.05" y2="381.7" stroke="#222" stroke-width="0.8"/><text x="298.05" y="389.9" font-size="5.1" text-anchor="middle" fill="#000">LIHC</text><text x="298.05" y="396.4" font-size="5.1" text-anchor="middle" fill="#000">(num(T)=369; num(N)=50)</text><line x1="285.45" y1="260.2" x2="285.45" y2="300.1" stroke="#000" stroke-width="0.5" stroke-dasharray="1.2,1"/><line x1="285.45" y1="331.5" x2="285.45" y2="372.5" stroke="#000" stroke-width="0.5" stroke-dasharray="1.2,1"/><line x1="280.05" y1="260.2" x2="290.85" y2="260.2" stroke="#000" stroke-width="0.85"/><line x1="280.05" y1="372.5" x2="290.85" y2="372.5" stroke="#000" stroke-width="0.85"/><rect x="275.05" y="300.1" width="20.8" height="31.4" fill="#F9605C" stroke="#333" stroke-width="0.6"/><line x1="275.05" y1="317.3" x2="295.85" y2="317.3" stroke="#000" stroke-width="1.3"/><path d="M284.0 260.2h1M287.4 372.5h1M283.4 331.7h1M284.5 343.8h1M282.8 336.8h1M288.1 327.9h1M285.0 273.7h1M286.9 330.8h1M287.1 302.2h1M285.9 339.1h1M288.1 345.5h1M286.9 308.7h1M287.8 294.3h1M288.0 309.2h1M283.2 327.4h1M286.8 328.8h1M284.0 292.6h1M284.5 324.6h1M284.6 295.8h1M288.1 304.1h1M283.1 340.1h1M285.1 315.8h1M283.4 264.5h1M288.1 293.6h1M285.4 343.1h1M286.5 275.6h1M285.6 341.1h1M286.9 319.0h1M284.6 284.9h1M285.0 304.1h1M286.8 330.1h1M286.5 345.7h1M287.5 287.0h1M284.4 313.7h1M287.3 325.6h1M286.7 335.7h1M285.8 368.4h1M285.0 354.5h1M285.8 326.7h1M283.2 285.4h1M283.3 311.4h1M284.4 291.9h1M283.4 310.9h1M283.0 306.9h1M286.6 313.4h1M286.7 325.9h1M286.1 311.6h1M283.9 337.5h1M286.6 341.4h1M287.2 288.0h1M286.1 281.5h1M284.0 296.5h1M285.8 262.2h1M284.9 320.2h1M284.2 318.3h1M283.6 320.3h1M287.4 353.8h1M286.2 332.2h1M287.8 338.5h1M283.7 318.9h1M284.2 302.6h1M285.5 263.3h1M283.1 307.9h1M284.4 316.9h1M285.7 291.6h1M285.4 296.9h1M287.7 319.5h1M285.9 353.0h1M286.2 306.4h1M285.9 308.1h1M287.0 297.6h1M284.7 313.9h1M282.8 288.0h1M288.0 323.3h1M287.0 294.2h1M283.4 340.8h1M283.4 291.1h1M284.0 286.1h1M286.3 325.6h1M283.5 326.0h1M282.9 287.8h1M285.4 319.8h1M282.8 316.5h1M284.1 343.9h1M284.8 293.0h1M283.9 267.7h1M282.8 320.0h1M284.2 328.6h1M284.1 332.7h1M284.5 306.6h1M285.0 271.0h1M284.7 260.3h1M284.5 365.7h1M282.9 312.7h1M287.3 311.1h1M286.7 323.3h1M285.4 323.2h1M282.8 297.0h1M284.0 307.7h1M287.6 315.4h1M285.2 340.2h1M283.9 357.9h1M287.2 339.0h1M287.6 331.5h1M283.4 289.6h1M285.5 296.7h1M285.8 323.5h1M283.4 298.5h1M284.5 303.1h1M286.1 369.3h1M286.4 307.5h1M286.1 310.3h1M286.1 270.1h1M284.8 326.9h1M283.1 322.2h1M282.8 309.8h1M287.3 326.3h1M287.4 346.1h1M287.6 344.2h1M283.2 261.8h1M286.9 319.9h1M283.7 332.0h1M284.6 334.0h1M283.8 319.8h1M287.4 341.5h1M287.2 326.3h1M287.2 305.4h1M284.8 347.2h1M287.8 285.4h1M284.2 304.4h1M285.9 304.5h1M286.4 349.9h1M284.0 302.2h1M284.8 279.8h1M283.3 289.3h1M287.1 321.5h1M283.7 315.7h1M283.5 323.2h1M284.3 282.8h1M286.2 323.5h1M286.2 333.6h1M285.6 355.7h1M287.4 347.2h1M286.8 282.9h1M283.9 327.1h1M285.6 290.3h1M283.7 324.8h1M284.1 332.3h1M283.5 311.6h1M283.2 319.1h1M284.6 318.8h1M287.5 303.0h1M286.3 332.8h1M283.2 307.1h1M283.9 310.1h1M285.9 327.9h1M285.6 298.0h1M282.9 333.1h1M283.3 304.9h1M285.8 311.9h1M286.0 329.6h1M283.2 344.7h1M286.9 310.0h1M284.0 320.8h1M285.9 309.1h1M285.6 277.4h1M284.6 306.3h1M287.9 366.5h1M284.9 311.2h1M285.0 333.5h1M285.7 329.7h1M287.3 343.3h1M288.1 317.1h1M286.9 332.8h1M285.7 312.1h1M286.6 367.5h1M286.2 325.4h1M287.9 314.5h1M288.0 344.2h1M286.9 295.9h1M283.9 338.5h1M285.8 364.0h1M285.1 292.3h1M284.0 328.9h1M287.0 303.6h1M283.9 319.0h1M286.6 312.9h1M285.4 264.3h1M285.1 342.7h1M286.6 316.6h1M286.7 337.4h1M288.1 301.0h1M288.1 308.1h1M287.1 307.7h1M284.2 281.5h1M286.4 356.4h1M285.4 343.9h1M287.8 346.6h1M285.2 331.4h1M284.7 309.1h1M282.9 326.9h1M285.3 351.9h1M285.6 324.5h1M284.4 290.4h1M283.3 332.7h1M285.4 340.5h1M283.1 303.3h1M283.7 312.5h1M285.1 342.4h1M284.6 351.1h1M285.5 312.5h1M285.6 293.6h1M284.8 274.3h1M283.5 289.9h1M282.8 331.9h1M285.8 325.5h1M288.0 303.5h1M284.3 320.3h1M284.6 312.9h1M284.5 284.8h1M286.8 309.6h1M285.4 346.1h1M287.0 355.1h1M282.8 302.2h1M283.5 322.3h1M283.9 288.3h1M284.7 332.2h1M284.9 315.5h1M284.8 318.0h1M288.0 345.1h1M285.1 335.5h1M285.9 328.2h1M288.0 329.2h1M286.2 332.1h1M286.0 269.9h1M287.2 326.9h1M284.6 306.6h1M282.9 352.6h1M287.9 318.4h1M285.6 297.6h1M285.9 303.2h1M283.1 339.5h1M286.8 319.9h1M284.8 319.6h1M286.2 345.2h1M284.3 331.6h1M287.7 315.2h1M284.7 346.2h1M284.2 332.0h1M287.6 329.0h1M284.0 326.7h1M284.2 340.2h1M285.4 307.3h1M288.0 333.7h1M283.4 302.3h1M283.9 319.2h1M287.0 284.9h1M283.2 336.1h1M285.0 296.9h1M287.0 350.9h1M286.6 321.2h1M287.0 326.2h1M283.4 297.8h1M287.6 297.2h1M284.7 325.9h1M287.1 311.4h1M285.3 316.4h1M287.6 279.3h1M285.3 308.1h1M284.1 325.3h1M283.6 284.5h1M285.4 289.5h1M283.0 288.9h1M283.6 321.4h1M287.5 303.6h1M285.8 285.1h1M287.4 302.8h1M283.6 323.6h1M285.3 285.9h1M285.3 323.3h1M283.3 371.7h1M284.2 267.2h1M287.7 296.0h1M286.7 309.4h1M285.5 322.4h1M286.0 346.6h1M287.4 315.9h1M287.9 298.1h1M286.0 282.0h1M283.0 270.5h1M287.5 348.7h1M283.6 283.1h1M284.0 329.2h1M283.5 326.8h1M285.5 304.5h1M285.9 275.8h1M285.2 367.3h1M285.3 333.8h1M283.5 324.5h1M286.6 275.6h1M285.7 322.4h1M284.4 277.2h1M287.3 274.3h1M287.8 316.6h1M287.7 316.1h1M288.1 322.5h1M283.1 319.8h1M284.8 311.9h1M285.2 319.4h1M284.1 281.7h1M286.8 311.4h1M287.6 329.5h1M283.5 356.9h1M285.5 261.9h1M288.0 344.9h1M287.5 295.1h1M285.2 340.1h1M283.3 298.1h1M285.2 312.1h1M285.5 317.7h1M287.0 315.1h1M283.8 317.3h1M284.3 335.8h1M288.1 335.6h1M282.8 297.0h1M286.0 334.6h1M283.3 321.3h1M286.8 281.5h1M285.0 287.8h1M287.7 345.6h1M284.0 340.5h1M287.5 293.3h1M284.0 333.6h1M283.0 293.2h1M283.2 328.1h1M283.2 364.4h1M284.8 313.9h1M288.0 347.2h1M284.7 296.8h1M286.6 313.0h1M282.9 303.9h1M285.5 356.0h1M285.7 326.0h1M283.3 300.6h1M285.9 285.4h1M285.2 309.6h1M284.5 332.6h1M287.2 340.1h1M286.5 302.3h1M283.4 336.4h1M283.3 319.7h1M283.0 311.7h1M284.2 323.7h1M286.2 362.3h1M288.0 309.7h1M288.0 318.1h1M287.4 315.1h1M283.4 306.5h1M287.0 322.4h1M286.9 310.3h1M285.3 271.4h1M288.1 326.4h1M286.0 273.5h1M283.4 319.8h1M283.9 319.7h1M283.5 351.1h1M286.0 339.6h1M286.1 329.4h1M287.4 290.3h1M282.8 238.3h1M282.8 242.0h1M288.0 247.0h1M284.2 252.0h1M284.2 256.0h1" stroke="#000" stroke-width="1.05" fill="none"/><line x1="310.65" y1="313.3" x2="310.65" y2="334.2" stroke="#000" stroke-width="0.5" stroke-dasharray="1.2,1"/><line x1="310.65" y1="349.8" x2="310.65" y2="368.4" stroke="#000" stroke-width="0.5" stroke-dasharray="1.2,1"/><line x1="305.25" y1="313.3" x2="316.05" y2="313.3" stroke="#000" stroke-width="0.85"/><line x1="305.25" y1="368.4" x2="316.05" y2="368.4" stroke="#000" stroke-width="0.85"/><rect x="300.25" y="334.2" width="20.8" height="15.6" fill="#777777" stroke="#333" stroke-width="0.6"/><line x1="300.25" y1="340.3" x2="321.05" y2="340.3" stroke="#000" stroke-width="1.3"/><path d="M309.3 313.3h1M312.5 368.4h1M312.8 348.3h1M313.0 321.7h1M309.3 328.9h1M308.3 335.6h1M311.4 359.5h1M308.1 341.0h1M312.6 328.6h1M311.6 330.1h1M309.8 335.9h1M310.3 339.8h1M311.6 343.8h1M308.8 360.5h1M309.9 346.2h1M312.2 343.5h1M311.6 340.2h1M311.1 365.4h1M308.5 332.2h1M309.1 337.9h1M309.3 358.4h1M308.1 337.6h1M311.4 341.6h1M311.0 358.4h1M312.9 348.6h1M310.9 333.5h1M312.9 329.4h1M310.5 347.7h1M310.7 360.3h1M309.5 339.3h1M310.5 348.1h1M313.0 357.2h1M310.6 335.9h1M308.0 354.7h1M309.9 339.9h1M309.0 338.5h1M311.3 332.5h1M310.7 339.9h1M310.5 326.7h1M313.0 330.5h1M312.1 327.8h1M308.4 344.4h1M308.1 338.6h1M311.7 350.8h1M311.2 329.2h1M311.5 339.6h1M310.7 344.3h1M308.1 363.9h1M310.4 331.8h1M312.5 340.3h1" stroke="#000" stroke-width="1.05" fill="none"/><rect x="256.8" y="225" width="82.5" height="153.3" fill="none" stroke="#4a4a4a" stroke-width="1"/><text transform="translate(394.8,219.5) scale(0.94,1)" font-size="12.3" fill="#000">INTS10</text><line x1="368.3" y1="262.6" x2="371.5" y2="262.6" stroke="#222" stroke-width="0.8"/><text transform="translate(363.7,262.6) rotate(-90)" font-size="4.8" text-anchor="middle" fill="#222">6</text><line x1="368.3" y1="302.1" x2="371.5" y2="302.1" stroke="#222" stroke-width="0.8"/><text transform="translate(363.7,302.1) rotate(-90)" font-size="4.8" text-anchor="middle" fill="#222">5</text><line x1="368.3" y1="341.3" x2="371.5" y2="341.3" stroke="#222" stroke-width="0.8"/><text transform="translate(363.7,341.3) rotate(-90)" font-size="4.8" text-anchor="middle" fill="#222">4</text><text transform="translate(350.7,301.65) rotate(-90)" font-size="5.4" text-anchor="middle" fill="#000">Expression - log<tspan font-size="3.6" dy="1">2</tspan><tspan dy="-1">(TPM+1)</tspan></text><line x1="412.8" y1="378.3" x2="412.8" y2="381.7" stroke="#222" stroke-width="0.8"/><text x="412.8" y="389.9" font-size="5.1" text-anchor="middle" fill="#000">LIHC</text><text x="412.8" y="396.4" font-size="5.1" text-anchor="middle" fill="#000">(num(T)=369; num(N)=50)</text><line x1="400.2" y1="245.4" x2="400.2" y2="294.6" stroke="#000" stroke-width="0.5" stroke-dasharray="1.2,1"/><line x1="400.2" y1="328.5" x2="400.2" y2="372.5" stroke="#000" stroke-width="0.5" stroke-dasharray="1.2,1"/><line x1="394.8" y1="245.4" x2="405.6" y2="245.4" stroke="#000" stroke-width="0.85"/><line x1="394.8" y1="372.5" x2="405.6" y2="372.5" stroke="#000" stroke-width="0.85"/><rect x="389.8" y="294.6" width="20.8" height="33.9" fill="#F9605C" stroke="#333" stroke-width="0.6"/><line x1="389.8" y1="314.7" x2="410.6" y2="314.7" stroke="#000" stroke-width="1.3"/><path d="M400.7 245.4h1M398.9 372.5h1M402.4 346.2h1M402.7 346.0h1M402.6 297.5h1M399.3 309.7h1M401.9 296.5h1M401.2 249.4h1M402.0 334.2h1M401.8 282.5h1M400.0 317.8h1M399.6 302.8h1M401.8 261.8h1M401.0 323.2h1M400.4 305.7h1M402.2 324.3h1M397.7 335.9h1M397.6 279.9h1M400.0 322.1h1M398.0 315.0h1M402.0 245.5h1M398.0 288.7h1M402.3 269.7h1M398.7 273.6h1M398.2 335.9h1M401.6 331.1h1M401.2 322.3h1M399.7 331.4h1M400.7 328.2h1M400.5 333.1h1M402.6 343.4h1M400.2 323.3h1M400.4 275.5h1M400.0 263.3h1M399.7 315.6h1M401.2 303.0h1M398.1 332.1h1M401.2 287.3h1M402.5 336.6h1M401.6 301.2h1M400.4 342.6h1M399.4 330.3h1M398.0 342.0h1M398.0 366.8h1M400.4 252.4h1M402.3 299.0h1M402.2 288.2h1M398.5 315.5h1M401.5 290.2h1M401.9 274.8h1M400.1 291.5h1M402.1 318.8h1M398.5 273.3h1M399.3 330.2h1M400.3 316.3h1M401.4 326.6h1M399.9 271.3h1M399.1 317.7h1M402.2 329.6h1M399.6 321.3h1M399.8 330.6h1M398.7 310.5h1M400.1 317.1h1M401.3 289.5h1M399.5 335.0h1M401.1 326.8h1M400.2 338.9h1M397.6 277.0h1M402.7 345.2h1M399.1 324.2h1M400.4 289.9h1M402.7 291.2h1M398.6 296.2h1M397.8 283.6h1M398.6 327.6h1M398.3 343.5h1M402.1 326.9h1M400.3 327.5h1M397.7 330.5h1M399.0 283.7h1M400.3 267.9h1M398.4 311.4h1M399.2 285.4h1M402.4 315.7h1M399.9 308.7h1M398.8 312.7h1M400.7 309.7h1M398.1 319.4h1M400.3 359.4h1M401.0 313.0h1M398.0 304.8h1M400.5 300.3h1M399.2 324.9h1M401.5 295.5h1M400.8 324.7h1M402.4 274.0h1M400.8 276.0h1M398.5 284.7h1M398.5 308.5h1M401.3 353.3h1M401.9 266.4h1M397.8 301.5h1M399.8 323.1h1M399.0 295.4h1M400.0 290.8h1M402.2 325.0h1M400.5 351.7h1M401.5 334.1h1M401.6 301.1h1M399.0 282.9h1M400.8 255.8h1M399.5 297.5h1M400.1 332.1h1M400.4 322.9h1M401.1 300.3h1M398.4 280.7h1M402.0 291.6h1M398.4 315.0h1M399.2 319.8h1M402.1 344.7h1M402.8 276.7h1M399.5 355.2h1M402.6 359.0h1M397.7 269.0h1M402.7 308.7h1M398.6 339.0h1M397.7 330.0h1M401.6 326.5h1M398.4 336.2h1M401.6 325.6h1M397.5 348.1h1M398.2 301.2h1M399.4 299.0h1M398.0 327.1h1M400.0 320.8h1M399.4 310.6h1M401.5 337.3h1M400.2 266.2h1M402.7 360.3h1M402.1 335.8h1M398.4 296.7h1M402.5 291.2h1M402.3 278.3h1M400.6 327.4h1M400.3 255.6h1M398.4 304.6h1M399.2 329.1h1M398.7 298.5h1M398.6 350.2h1M400.8 316.6h1M399.3 288.6h1M401.6 279.9h1M400.6 322.0h1M402.0 318.4h1M398.0 330.3h1M402.1 297.8h1M400.2 324.1h1M400.9 324.5h1M398.8 342.0h1M401.3 339.0h1M399.7 324.6h1M401.4 313.5h1M400.7 297.3h1M398.3 318.0h1M399.1 331.3h1M401.6 267.9h1M397.6 345.4h1M400.9 299.3h1M400.4 261.6h1M401.4 298.3h1M399.3 324.7h1M400.1 275.3h1M400.1 305.6h1M401.5 298.4h1M397.9 300.8h1M400.3 330.1h1M398.9 337.2h1M400.7 274.4h1M398.9 290.6h1M398.6 321.5h1M398.8 317.4h1M402.3 309.1h1M399.5 321.9h1M402.3 333.0h1M401.5 306.0h1M399.0 270.0h1M400.5 340.7h1M397.5 273.5h1M402.5 306.1h1M400.9 283.9h1M398.1 323.1h1M400.3 330.6h1M400.2 308.3h1M401.1 281.1h1M399.1 309.3h1M402.4 322.0h1M400.9 323.6h1M397.9 261.4h1M401.9 312.5h1M402.3 305.2h1M399.1 317.7h1M401.3 324.9h1M402.1 308.3h1M402.3 319.3h1M397.9 308.7h1M402.0 304.8h1M398.8 301.2h1M401.8 312.7h1M401.2 336.1h1M400.0 315.4h1M402.4 282.9h1M401.8 288.4h1M402.9 324.9h1M402.7 290.7h1M400.6 311.6h1M401.5 327.4h1M401.1 309.1h1M399.7 332.1h1M400.2 333.8h1M400.2 286.4h1M398.7 341.0h1M398.9 344.5h1M402.1 322.3h1M402.1 269.8h1M401.3 350.0h1M401.2 304.9h1M400.3 335.4h1M400.6 299.6h1M401.1 337.7h1M397.5 306.1h1M399.9 344.6h1M402.7 275.0h1M398.6 331.6h1M400.0 306.2h1M397.9 336.5h1M398.9 270.3h1M402.0 298.0h1M397.7 296.5h1M401.8 288.9h1M401.8 323.3h1M402.2 319.8h1M398.9 322.6h1M402.5 325.1h1M399.5 326.9h1M399.9 342.2h1M402.6 279.5h1M400.4 352.3h1M401.2 316.2h1M398.1 330.0h1M397.5 319.4h1M398.9 325.1h1M398.1 298.5h1M401.9 279.0h1M398.8 314.3h1M402.7 352.0h1M401.2 300.5h1M398.5 286.5h1M401.3 280.7h1M399.2 287.4h1M400.3 302.5h1M397.9 318.0h1M402.0 267.2h1M401.8 351.9h1M400.6 284.9h1M401.2 335.5h1M399.3 344.7h1M398.2 333.3h1M399.3 327.7h1M401.5 293.0h1M400.5 289.9h1M398.2 332.4h1M398.8 314.4h1M400.1 328.7h1M397.6 336.2h1M397.7 337.2h1M399.9 310.3h1M398.2 355.2h1M402.3 300.5h1M398.2 351.4h1M401.5 295.3h1M401.8 325.4h1M399.2 316.4h1M400.4 355.9h1M402.9 305.6h1M400.8 283.8h1M399.6 287.1h1M402.8 285.8h1M398.9 323.1h1M402.7 330.4h1M399.2 335.1h1M399.8 312.3h1M399.2 325.0h1M401.0 333.1h1M402.3 286.4h1M401.2 326.9h1M398.5 297.2h1M402.8 293.4h1M401.4 303.6h1M400.2 321.5h1M402.1 296.9h1M398.1 292.0h1M400.7 284.4h1M401.7 309.1h1M401.7 322.1h1M401.1 278.6h1M397.8 316.8h1M400.1 320.4h1M399.0 296.4h1M400.8 321.6h1M399.6 330.7h1M400.0 319.5h1M400.4 294.2h1M400.7 309.6h1M402.3 309.0h1M399.0 342.6h1M399.0 330.6h1M398.5 300.1h1M398.1 314.9h1M402.1 322.9h1M402.5 285.2h1M398.2 331.2h1M399.4 283.7h1M402.4 326.4h1M402.2 355.5h1M402.8 326.1h1M402.9 290.6h1M399.1 301.5h1M397.9 310.6h1M398.8 327.6h1M400.2 350.6h1M397.6 291.6h1M398.9 285.4h1M400.1 333.9h1M401.2 295.9h1M398.3 308.2h1M398.2 347.3h1M399.3 321.6h1M398.0 328.5h1M398.2 337.2h1M398.1 319.0h1M401.8 315.2h1M402.2 330.0h1M397.7 340.3h1M401.8 255.1h1M402.1 295.3h1M401.0 284.1h1M399.1 366.0h1M401.9 319.0h1M397.9 256.0h1M397.8 317.5h1M402.7 352.2h1M398.7 324.8h1M402.4 294.1h1M401.6 316.9h1M397.8 304.9h1M398.0 319.2h1M401.0 296.4h1M398.3 304.5h1M401.1 309.2h1M401.1 297.1h1M398.7 299.5h1M400.1 276.3h1M398.6 297.3h1M402.2 302.0h1M400.9 344.5h1M401.2 264.3h1M400.9 340.8h1M397.8 330.5h1M402.3 269.6h1" stroke="#000" stroke-width="1.05" fill="none"/><line x1="425.4" y1="283.5" x2="425.4" y2="299.7" stroke="#000" stroke-width="0.5" stroke-dasharray="1.2,1"/><line x1="425.4" y1="313.3" x2="425.4" y2="329.1" stroke="#000" stroke-width="0.5" stroke-dasharray="1.2,1"/><line x1="420" y1="283.5" x2="430.8" y2="283.5" stroke="#000" stroke-width="0.85"/><line x1="420" y1="329.1" x2="430.8" y2="329.1" stroke="#000" stroke-width="0.85"/><rect x="415" y="299.7" width="20.8" height="13.6" fill="#777777" stroke="#333" stroke-width="0.6"/><line x1="415" y1="307.2" x2="435.8" y2="307.2" stroke="#000" stroke-width="1.3"/><path d="M426.8 283.5h1M423.6 329.1h1M424.7 296.3h1M422.7 300.2h1M423.8 307.6h1M424.5 293.5h1M423.7 304.9h1M425.3 317.9h1M423.4 307.4h1M426.2 308.1h1M424.9 284.9h1M424.0 304.3h1M426.4 305.7h1M424.5 299.7h1M422.8 292.5h1M427.2 306.4h1M426.8 296.4h1M427.4 301.3h1M424.3 290.3h1M424.1 306.2h1M426.5 315.2h1M423.5 298.1h1M427.9 310.1h1M426.2 290.8h1M425.7 312.3h1M423.0 312.0h1M424.2 303.2h1M425.0 315.0h1M428.0 297.9h1M423.5 307.6h1M425.9 321.9h1M423.1 307.0h1M427.9 295.3h1M426.7 317.4h1M427.1 311.9h1M426.7 304.2h1M423.7 287.9h1M424.0 286.8h1M422.9 291.1h1M425.7 320.3h1M423.1 309.8h1M423.7 298.0h1M423.6 317.3h1M427.7 320.1h1M427.0 298.3h1M424.2 311.5h1M427.9 289.7h1M423.6 310.5h1M423.5 323.1h1M424.8 291.9h1M427.0 343.7h1" stroke="#000" stroke-width="1.05" fill="none"/><rect x="371.5" y="225" width="82.6" height="153.3" fill="none" stroke="#4a4a4a" stroke-width="1"/><text transform="translate(511.6,219.5) scale(0.94,1)" font-size="12.3" fill="#000">INTS11</text><line x1="482.7" y1="247.4" x2="485.9" y2="247.4" stroke="#222" stroke-width="0.8"/><text transform="translate(478.1,247.4) rotate(-90)" font-size="4.8" text-anchor="middle" fill="#222">7</text><line x1="482.7" y1="281.9" x2="485.9" y2="281.9" stroke="#222" stroke-width="0.8"/><text transform="translate(478.1,281.9) rotate(-90)" font-size="4.8" text-anchor="middle" fill="#222">6</text><line x1="482.7" y1="316.3" x2="485.9" y2="316.3" stroke="#222" stroke-width="0.8"/><text transform="translate(478.1,316.3) rotate(-90)" font-size="4.8" text-anchor="middle" fill="#222">5</text><line x1="482.7" y1="350.8" x2="485.9" y2="350.8" stroke="#222" stroke-width="0.8"/><text transform="translate(478.1,350.8) rotate(-90)" font-size="4.8" text-anchor="middle" fill="#222">4</text><text transform="translate(465.1,301.65) rotate(-90)" font-size="5.4" text-anchor="middle" fill="#000">Expression - log<tspan font-size="3.6" dy="1">2</tspan><tspan dy="-1">(TPM+1)</tspan></text><line x1="527.25" y1="378.3" x2="527.25" y2="381.7" stroke="#222" stroke-width="0.8"/><text x="527.25" y="389.9" font-size="5.1" text-anchor="middle" fill="#000">LIHC</text><text x="527.25" y="396.4" font-size="5.1" text-anchor="middle" fill="#000">(num(T)=369; num(N)=50)</text><line x1="514.65" y1="263.6" x2="514.65" y2="296.1" stroke="#000" stroke-width="0.5" stroke-dasharray="1.2,1"/><line x1="514.65" y1="321.4" x2="514.65" y2="354.2" stroke="#000" stroke-width="0.5" stroke-dasharray="1.2,1"/><line x1="509.25" y1="263.6" x2="520.05" y2="263.6" stroke="#000" stroke-width="0.85"/><line x1="509.25" y1="354.2" x2="520.05" y2="354.2" stroke="#000" stroke-width="0.85"/><rect x="504.25" y="296.1" width="20.8" height="25.3" fill="#F9605C" stroke="#333" stroke-width="0.6"/><line x1="504.25" y1="309.2" x2="525.05" y2="309.2" stroke="#000" stroke-width="1.3"/><path d="M516.6 263.6h1M512.0 354.2h1M512.6 275.8h1M512.0 299.7h1M514.9 306.3h1M514.8 313.7h1M513.2 332.8h1M514.8 326.1h1M512.0 276.2h1M512.1 307.7h1M517.1 313.8h1M516.7 323.1h1M512.3 317.6h1M515.5 343.5h1M514.7 305.9h1M514.9 298.4h1M516.5 308.4h1M515.4 303.8h1M517.0 294.6h1M515.6 312.1h1M516.9 311.8h1M512.6 278.4h1M516.4 304.0h1M513.7 297.4h1M516.9 334.1h1M516.2 316.1h1M517.2 308.3h1M516.0 306.7h1M514.1 329.6h1M514.8 274.0h1M516.2 294.1h1M512.3 325.9h1M514.9 283.4h1M515.0 273.2h1M515.8 295.4h1M513.8 290.3h1M515.2 311.7h1M515.9 286.8h1M514.0 331.5h1M515.6 313.9h1M516.8 294.2h1M513.9 317.6h1M514.8 298.4h1M514.6 317.1h1M516.5 297.0h1M513.4 337.0h1M513.5 324.2h1M514.1 295.1h1M515.5 314.5h1M512.8 300.9h1M517.2 277.3h1M514.7 306.0h1M515.9 312.7h1M514.2 290.3h1M512.1 331.9h1M514.0 349.2h1M515.0 287.3h1M512.4 291.3h1M517.2 303.8h1M515.1 316.5h1M514.4 291.3h1M512.1 300.7h1M513.3 329.8h1M513.8 290.9h1M515.5 310.0h1M512.9 284.0h1M514.6 309.4h1M513.4 298.8h1M515.0 333.0h1M515.7 308.6h1M514.7 298.9h1M516.0 302.0h1M515.3 333.0h1M512.4 324.5h1M515.5 304.9h1M514.6 280.7h1M516.0 308.5h1M517.0 330.1h1M513.8 312.1h1M516.5 281.6h1M513.2 315.8h1M515.5 304.7h1M512.0 309.7h1M516.4 306.1h1M514.4 292.2h1M514.4 292.2h1M514.6 326.0h1M514.0 317.7h1M513.2 290.0h1M515.7 275.2h1M515.3 328.3h1M512.2 319.3h1M513.4 311.7h1M517.0 299.9h1M513.5 342.6h1M513.5 280.5h1M515.1 301.9h1M514.0 319.5h1M517.1 317.0h1M517.3 319.3h1M512.6 282.6h1M513.2 323.0h1M512.9 330.5h1M514.4 299.6h1M513.5 327.5h1M515.6 303.3h1M516.7 309.0h1M512.3 308.9h1M512.1 305.6h1M512.6 311.1h1M513.6 331.4h1M512.7 333.5h1M514.3 320.7h1M513.9 319.3h1M515.9 285.8h1M517.2 305.3h1M517.2 317.8h1M514.2 310.9h1M515.4 300.4h1M512.7 291.5h1M515.2 326.5h1M516.7 320.5h1M516.7 320.1h1M512.7 312.6h1M512.8 329.6h1M516.8 319.6h1M515.7 339.6h1M516.1 300.9h1M512.3 326.4h1M515.3 323.8h1M512.1 275.7h1M515.9 348.0h1M516.2 302.1h1M513.7 283.7h1M512.0 308.3h1M515.9 328.6h1M517.3 290.5h1M515.3 306.0h1M513.9 301.4h1M513.7 305.9h1M516.3 334.7h1M517.2 290.6h1M513.9 321.9h1M513.1 309.9h1M517.3 273.7h1M514.3 307.6h1M514.3 290.2h1M513.6 306.1h1M515.9 296.6h1M517.3 306.6h1M514.5 306.9h1M516.6 313.2h1M514.1 319.7h1M514.2 290.2h1M516.3 332.9h1M517.2 345.9h1M516.0 314.0h1M515.8 346.4h1M516.4 333.4h1M516.9 332.9h1M517.1 300.8h1M514.8 332.4h1M514.0 270.3h1M512.0 273.0h1M514.8 320.7h1M513.9 340.0h1M512.0 316.0h1M517.3 289.1h1M513.6 282.2h1M517.0 313.7h1M512.0 315.3h1M513.9 283.0h1M516.2 305.4h1M515.6 304.5h1M515.6 297.9h1M514.6 288.0h1M512.4 308.5h1M516.4 342.7h1M516.1 335.4h1M514.5 302.1h1M515.0 290.4h1M516.3 316.1h1M514.6 299.4h1M514.5 311.1h1M514.6 322.3h1M515.9 315.8h1M515.9 327.1h1M513.8 343.6h1M516.1 283.5h1M514.0 337.3h1M515.6 270.9h1M514.0 293.2h1M516.8 331.9h1M517.0 290.7h1M516.1 295.4h1M514.0 313.5h1M513.8 293.8h1M514.3 302.6h1M515.2 311.7h1M512.1 304.1h1M514.9 297.7h1M517.0 295.8h1M512.3 287.9h1M516.8 320.1h1M515.0 302.4h1M517.3 278.8h1M515.9 344.7h1M515.8 330.5h1M516.0 302.7h1M514.2 297.3h1M512.6 304.2h1M516.6 314.3h1M516.7 287.5h1M515.8 312.3h1M513.1 265.5h1M514.6 287.8h1M514.7 288.2h1M513.9 299.4h1M514.6 306.1h1M514.4 302.5h1M517.2 310.9h1M515.3 330.6h1M517.2 301.6h1M516.9 315.9h1M512.9 302.9h1M516.1 311.7h1M514.0 298.3h1M515.2 300.5h1M515.0 314.4h1M515.9 334.4h1M513.6 311.9h1M515.6 307.7h1M513.9 303.6h1M516.2 284.2h1M514.6 289.0h1M515.4 310.8h1M517.3 326.0h1M513.5 310.4h1M512.0 291.8h1M516.8 306.6h1M514.8 325.7h1M515.4 308.5h1M516.4 327.9h1M516.8 280.0h1M514.0 315.0h1M517.3 287.5h1M514.1 271.8h1M515.9 309.3h1M516.4 318.7h1M513.9 317.9h1M514.2 330.2h1M513.9 310.9h1M513.8 322.2h1M514.2 325.9h1M516.5 300.9h1M512.3 300.1h1M517.3 309.4h1M516.2 309.6h1M515.0 285.7h1M515.4 327.5h1M513.6 341.4h1M516.1 320.6h1M516.7 312.3h1M514.0 318.0h1M514.6 318.4h1M513.1 320.1h1M513.3 313.4h1M516.6 292.2h1M515.4 312.4h1M514.4 307.6h1M515.4 310.4h1M513.0 324.7h1M512.0 314.1h1M513.9 301.8h1M515.1 290.6h1M512.9 273.2h1M514.9 341.5h1M513.7 303.5h1M513.4 328.9h1M515.9 315.7h1M513.9 311.0h1M516.0 318.2h1M516.0 310.5h1M514.0 338.7h1M512.1 300.1h1M516.5 304.5h1M514.9 307.6h1M515.1 315.7h1M515.7 336.3h1M514.9 294.6h1M516.8 317.2h1M512.0 321.4h1M517.2 307.4h1M515.3 308.9h1M514.1 321.0h1M516.8 291.1h1M516.8 290.4h1M515.2 275.9h1M512.0 305.3h1M515.3 292.6h1M514.2 306.1h1M515.0 286.0h1M516.4 267.9h1M512.7 329.1h1M516.5 315.6h1M513.6 328.4h1M513.3 332.3h1M512.2 275.5h1M512.5 323.6h1M513.4 285.4h1M514.8 266.2h1M517.0 286.3h1M512.9 296.7h1M513.5 341.4h1M514.0 303.6h1M515.4 304.4h1M513.9 316.4h1M515.6 315.0h1M512.8 305.9h1M512.2 346.5h1M515.1 288.3h1M515.9 284.2h1M512.7 269.0h1M512.2 284.1h1M515.6 289.1h1M512.3 297.9h1M516.9 301.4h1M515.7 335.4h1M512.8 323.4h1M514.2 299.6h1M512.3 312.0h1M512.4 295.0h1M513.9 303.7h1M516.7 306.1h1M516.9 346.1h1M516.0 285.5h1M515.4 287.4h1M515.1 317.1h1M514.7 290.2h1M515.5 289.5h1M514.6 315.0h1M514.1 288.1h1M516.5 333.7h1M513.6 320.6h1M514.1 298.3h1M515.6 305.9h1M517.2 296.1h1M513.8 336.7h1M514.3 310.6h1M514.1 311.9h1M513.1 292.1h1M513.9 338.0h1M516.2 308.2h1M513.0 295.0h1M514.5 336.8h1M513.5 314.7h1M515.1 300.3h1M516.1 325.6h1M512.6 298.3h1M514.6 306.3h1M513.0 326.6h1M515.4 285.8h1M515.6 305.0h1M513.1 307.3h1M513.2 315.3h1M513.6 288.2h1M513.7 286.6h1M516.8 302.6h1M516.7 290.8h1M516.2 243.0h1M514.1 249.4h1M514.4 366.4h1" stroke="#000" stroke-width="1.05" fill="none"/><line x1="539.85" y1="317" x2="539.85" y2="333.2" stroke="#000" stroke-width="0.5" stroke-dasharray="1.2,1"/><line x1="539.85" y1="350.2" x2="539.85" y2="372.5" stroke="#000" stroke-width="0.5" stroke-dasharray="1.2,1"/><line x1="534.45" y1="317" x2="545.25" y2="317" stroke="#000" stroke-width="0.85"/><line x1="534.45" y1="372.5" x2="545.25" y2="372.5" stroke="#000" stroke-width="0.85"/><rect x="529.45" y="333.2" width="20.8" height="17" fill="#777777" stroke="#333" stroke-width="0.6"/><line x1="529.45" y1="340" x2="550.25" y2="340" stroke="#000" stroke-width="1.3"/><path d="M541.1 317.0h1M540.5 372.5h1M542.1 346.3h1M537.5 338.7h1M538.9 334.8h1M538.0 346.1h1M540.6 347.2h1M538.3 332.9h1M537.3 336.7h1M537.9 340.4h1M538.1 335.6h1M540.1 328.7h1M539.6 347.6h1M539.7 324.7h1M537.2 339.7h1M540.0 332.1h1M538.5 339.9h1M537.6 360.4h1M537.5 350.8h1M538.0 337.8h1M539.3 328.4h1M538.1 337.4h1M539.7 344.6h1M538.0 323.6h1M541.1 334.2h1M541.9 345.1h1M538.9 344.6h1M537.5 335.5h1M542.4 329.6h1M537.6 344.0h1M540.7 330.0h1M541.2 370.5h1M539.8 337.7h1M542.0 334.6h1M537.9 356.9h1M541.0 330.6h1M542.0 334.3h1M542.0 349.8h1M541.7 325.7h1M539.5 344.8h1M539.9 333.0h1M541.7 327.4h1M539.2 339.6h1M538.5 338.4h1M537.3 339.1h1M538.3 346.3h1M537.9 329.8h1M542.2 356.1h1M538.8 365.0h1M539.1 324.5h1M542.4 306.2h1" stroke="#000" stroke-width="1.05" fill="none"/><rect x="485.9" y="225" width="82.7" height="153.3" fill="none" stroke="#4a4a4a" stroke-width="1"/><text transform="translate(624.8,219.5) scale(0.94,1)" font-size="12.3" fill="#000">INTS12</text><line x1="597.3" y1="239.9" x2="600.5" y2="239.9" stroke="#222" stroke-width="0.8"/><text transform="translate(592.7,239.9) rotate(-90)" font-size="4.8" text-anchor="middle" fill="#222">5</text><line x1="597.3" y1="277.4" x2="600.5" y2="277.4" stroke="#222" stroke-width="0.8"/><text transform="translate(592.7,277.4) rotate(-90)" font-size="4.8" text-anchor="middle" fill="#222">4</text><line x1="597.3" y1="315.3" x2="600.5" y2="315.3" stroke="#222" stroke-width="0.8"/><text transform="translate(592.7,315.3) rotate(-90)" font-size="4.8" text-anchor="middle" fill="#222">3</text><line x1="597.3" y1="353.1" x2="600.5" y2="353.1" stroke="#222" stroke-width="0.8"/><text transform="translate(592.7,353.1) rotate(-90)" font-size="4.8" text-anchor="middle" fill="#222">2</text><text transform="translate(579.7,301.65) rotate(-90)" font-size="5.4" text-anchor="middle" fill="#000">Expression - log<tspan font-size="3.6" dy="1">2</tspan><tspan dy="-1">(TPM+1)</tspan></text><line x1="641.95" y1="378.3" x2="641.95" y2="381.7" stroke="#222" stroke-width="0.8"/><text x="641.95" y="389.9" font-size="5.1" text-anchor="middle" fill="#000">LIHC</text><text x="641.95" y="396.4" font-size="5.1" text-anchor="middle" fill="#000">(num(T)=369; num(N)=50)</text><line x1="629.35" y1="252.5" x2="629.35" y2="290.3" stroke="#000" stroke-width="0.5" stroke-dasharray="1.2,1"/><line x1="629.35" y1="319.3" x2="629.35" y2="360.4" stroke="#000" stroke-width="0.5" stroke-dasharray="1.2,1"/><line x1="623.95" y1="252.5" x2="634.75" y2="252.5" stroke="#000" stroke-width="0.85"/><line x1="623.95" y1="360.4" x2="634.75" y2="360.4" stroke="#000" stroke-width="0.85"/><rect x="618.95" y="290.3" width="20.8" height="29" fill="#F9605C" stroke="#333" stroke-width="0.6"/><line x1="618.95" y1="306.1" x2="639.75" y2="306.1" stroke="#000" stroke-width="1.3"/><path d="M626.9 252.5h1M630.1 360.4h1M630.4 282.8h1M627.3 320.8h1M628.9 317.6h1M631.3 291.6h1M628.1 352.2h1M629.5 331.2h1M628.5 305.2h1M629.6 312.2h1M628.8 312.3h1M628.5 300.6h1M631.6 312.3h1M630.4 275.5h1M632.0 296.7h1M628.5 342.4h1M629.2 330.3h1M628.6 253.6h1M631.3 286.1h1M628.6 323.3h1M630.3 296.5h1M627.6 292.5h1M629.6 270.8h1M628.1 303.2h1M631.6 301.9h1M628.6 291.1h1M631.8 269.4h1M629.7 309.1h1M628.5 314.3h1M629.6 328.5h1M631.7 316.2h1M630.4 335.9h1M631.1 329.6h1M629.7 338.8h1M630.0 303.6h1M627.4 281.5h1M631.1 314.6h1M630.1 324.9h1M630.2 269.7h1M628.3 277.1h1M630.8 319.6h1M629.5 293.1h1M628.4 334.7h1M632.0 310.3h1M630.8 293.1h1M630.3 274.9h1M631.2 317.8h1M630.4 265.6h1M628.7 275.4h1M631.8 275.3h1M631.5 339.5h1M630.3 339.6h1M629.0 300.9h1M629.4 297.1h1M626.9 319.8h1M631.5 330.5h1M631.1 287.1h1M629.9 349.3h1M629.2 301.2h1M631.0 328.3h1M626.8 304.8h1M628.8 289.7h1M628.0 345.1h1M629.9 301.0h1M628.6 276.1h1M629.9 344.4h1M631.5 290.0h1M628.9 306.0h1M627.3 276.7h1M626.7 319.4h1M631.2 309.9h1M629.2 299.3h1M629.0 296.6h1M626.8 292.7h1M627.2 289.2h1M626.7 273.0h1M631.5 329.8h1M626.9 323.6h1M628.4 273.4h1M629.2 278.7h1M629.7 314.1h1M627.9 350.6h1M630.1 301.3h1M630.1 298.7h1M632.0 300.2h1M627.2 311.0h1M628.2 302.0h1M627.2 327.4h1M628.2 325.4h1M627.8 316.9h1M626.8 337.0h1M631.0 300.6h1M628.1 293.1h1M630.7 260.7h1M631.0 269.4h1M630.9 313.1h1M626.8 280.9h1M629.8 326.9h1M631.2 256.7h1M630.1 302.8h1M629.9 296.9h1M628.9 280.7h1M631.1 328.0h1M629.5 296.7h1M628.6 314.9h1M629.3 293.7h1M629.2 309.0h1M627.7 295.5h1M630.3 307.5h1M631.2 303.7h1M630.2 290.1h1M626.7 314.7h1M628.8 301.7h1M630.8 283.3h1M627.4 281.4h1M629.4 314.8h1M630.3 332.2h1M629.5 275.2h1M628.4 296.2h1M626.7 314.9h1M630.5 326.5h1M627.5 320.1h1M629.9 278.2h1M629.5 306.8h1M630.6 323.7h1M627.3 310.8h1M631.9 300.8h1M630.7 278.3h1M631.4 309.3h1M627.6 304.6h1M630.5 306.7h1M628.7 335.6h1M630.4 329.4h1M630.4 287.4h1M628.9 310.6h1M631.8 298.8h1M629.0 308.0h1M629.2 338.2h1M630.5 324.1h1M627.5 306.9h1M631.5 290.6h1M628.4 302.2h1M631.4 313.2h1M627.4 294.3h1M627.3 327.7h1M629.8 306.5h1M627.9 278.3h1M629.0 346.3h1M627.7 299.7h1M630.6 303.2h1M630.6 325.5h1M630.4 328.0h1M627.4 334.7h1M626.9 336.7h1M629.8 312.3h1M627.1 308.3h1M630.5 326.1h1M629.6 305.5h1M631.7 276.4h1M631.1 295.4h1M630.2 319.1h1M631.1 318.1h1M629.4 280.1h1M628.2 329.6h1M627.0 312.2h1M630.4 270.8h1M630.2 315.3h1M630.1 325.8h1M629.4 316.6h1M629.1 298.8h1M631.6 287.2h1M628.7 328.1h1M627.4 310.5h1M631.8 305.9h1M630.8 296.7h1M631.5 281.8h1M632.0 262.0h1M629.0 298.0h1M627.5 327.9h1M629.3 321.1h1M629.3 290.0h1M628.7 336.1h1M630.9 300.7h1M628.0 282.4h1M631.9 325.3h1M627.8 333.3h1M628.2 296.9h1M631.1 277.4h1M627.9 304.6h1M630.6 307.1h1M628.1 336.0h1M628.9 311.5h1M629.2 288.8h1M628.0 320.0h1M631.1 294.5h1M631.7 331.0h1M631.6 297.7h1M627.5 346.2h1M626.8 297.8h1M629.0 309.9h1M630.6 284.0h1M629.6 276.0h1M631.8 312.9h1M632.0 313.0h1M630.3 283.2h1M628.1 317.1h1M628.8 296.4h1M627.0 293.1h1M628.8 304.4h1M630.7 313.8h1M628.4 320.4h1M627.6 330.4h1M629.6 313.6h1M631.5 289.0h1M630.1 290.0h1M627.2 313.4h1M629.0 278.0h1M627.9 302.1h1M631.0 297.1h1M628.9 303.8h1M629.0 309.7h1M631.4 326.5h1M628.3 338.3h1M629.1 323.5h1M631.9 325.9h1M628.3 281.0h1M629.6 326.4h1M630.2 331.6h1M628.5 274.3h1M630.0 355.7h1M628.9 292.8h1M631.1 340.7h1M629.7 307.4h1M630.6 287.3h1M629.7 292.6h1M630.4 327.1h1M628.8 311.1h1M627.4 297.3h1M628.6 328.7h1M628.4 284.1h1M626.7 286.1h1M630.8 292.9h1M629.5 288.5h1M629.2 319.6h1M630.5 300.7h1M627.0 281.4h1M627.3 295.3h1M630.5 259.5h1M626.9 309.4h1M631.3 308.1h1M629.4 318.1h1M631.9 300.6h1M631.3 313.9h1M628.9 284.1h1M628.5 306.6h1M629.0 309.1h1M630.8 277.5h1M629.1 317.6h1M630.5 308.9h1M632.0 307.1h1M630.7 294.9h1M629.4 345.4h1M630.7 306.1h1M629.3 288.1h1M629.8 286.1h1M628.9 317.7h1M631.7 301.2h1M632.0 287.6h1M629.7 289.1h1M629.7 324.4h1M627.2 307.8h1M629.7 326.8h1M631.7 305.7h1M628.0 278.3h1M630.8 323.1h1M628.0 312.3h1M630.5 290.7h1M628.2 298.8h1M629.9 283.3h1M630.8 322.4h1M626.8 296.3h1M631.2 315.5h1M629.5 311.2h1M628.0 300.0h1M628.3 313.4h1M629.6 300.3h1M630.7 278.4h1M627.6 296.3h1M627.0 278.4h1M627.9 320.9h1M630.1 318.9h1M628.8 292.4h1M630.8 318.2h1M630.6 310.9h1M628.6 325.2h1M629.8 284.2h1M627.4 306.6h1M629.9 282.8h1M630.1 290.1h1M627.9 332.9h1M630.2 259.0h1M627.4 284.6h1M631.9 315.7h1M629.6 321.3h1M631.6 287.7h1M630.3 258.5h1M627.8 265.8h1M630.6 313.3h1M630.0 327.7h1M628.7 323.9h1M630.4 288.9h1M630.8 332.5h1M630.3 301.7h1M627.8 318.1h1M631.9 301.6h1M631.6 337.3h1M629.0 294.0h1M631.7 255.8h1M632.0 298.7h1M628.5 309.8h1M627.7 311.5h1M628.0 289.3h1M629.3 300.7h1M627.4 279.5h1M627.9 300.6h1M630.6 307.8h1M626.8 310.8h1M630.0 338.3h1M628.9 259.2h1M630.5 316.2h1M628.0 314.6h1M629.2 279.0h1M627.8 307.5h1M626.7 305.9h1M631.3 282.6h1M628.6 320.2h1M628.2 343.5h1M631.7 319.3h1M628.6 321.3h1M629.6 326.9h1M627.4 303.1h1M628.9 325.1h1M631.4 287.2h1M631.1 309.6h1M631.1 319.9h1M631.6 331.6h1M627.9 299.4h1M626.9 299.3h1M627.4 315.2h1M630.2 304.2h1M629.6 308.8h1M628.6 321.8h1M630.5 288.2h1M627.8 323.2h1M629.9 313.5h1M628.9 299.9h1M627.4 276.8h1M630.8 291.4h1M627.6 305.1h1M631.0 324.4h1M630.8 260.1h1M629.0 320.0h1M629.1 309.9h1M627.8 279.7h1M627.4 322.8h1M630.4 313.8h1M628.7 314.6h1M629.7 283.3h1M628.6 280.2h1M628.1 240.3h1M627.5 244.0h1M630.8 372.4h1" stroke="#000" stroke-width="1.05" fill="none"/><line x1="654.55" y1="290.3" x2="654.55" y2="309.6" stroke="#000" stroke-width="0.5" stroke-dasharray="1.2,1"/><line x1="654.55" y1="328.4" x2="654.55" y2="355.2" stroke="#000" stroke-width="0.5" stroke-dasharray="1.2,1"/><line x1="649.15" y1="290.3" x2="659.95" y2="290.3" stroke="#000" stroke-width="0.85"/><line x1="649.15" y1="355.2" x2="659.95" y2="355.2" stroke="#000" stroke-width="0.85"/><rect x="644.15" y="309.6" width="20.8" height="18.8" fill="#777777" stroke="#333" stroke-width="0.6"/><line x1="644.15" y1="321.3" x2="664.95" y2="321.3" stroke="#000" stroke-width="1.3"/><path d="M655.1 290.3h1M654.8 355.2h1M652.1 323.8h1M652.5 325.6h1M654.1 314.1h1M652.6 322.1h1M654.8 327.4h1M655.1 293.3h1M655.2 310.3h1M656.6 344.8h1M655.1 325.9h1M656.0 311.7h1M652.5 304.9h1M656.6 326.6h1M656.9 328.1h1M655.0 325.9h1M656.3 327.2h1M654.8 311.0h1M654.2 337.5h1M652.7 302.1h1M654.4 326.4h1M655.7 316.7h1M656.1 292.2h1M656.7 330.6h1M654.6 316.4h1M657.0 328.6h1M653.9 334.2h1M652.0 323.0h1M654.2 309.9h1M654.8 317.6h1M656.0 319.9h1M653.1 336.2h1M652.0 329.9h1M655.8 337.7h1M652.9 328.9h1M656.4 308.3h1M654.9 330.7h1M652.6 331.3h1M654.7 319.0h1M656.0 326.1h1M653.1 315.7h1M657.0 299.8h1M652.2 319.5h1M652.7 329.2h1M655.1 315.0h1M655.5 307.6h1M655.1 332.5h1M656.8 323.5h1M652.9 332.9h1M652.1 308.3h1M654.8 277.4h1" stroke="#000" stroke-width="1.05" fill="none"/><rect x="600.5" y="225" width="82.9" height="153.3" fill="none" stroke="#4a4a4a" stroke-width="1"/><text x="11.3" y="19.6" font-size="26" font-weight="bold" fill="#000">A</text><text x="11.7" y="439.7" font-size="26" font-weight="bold" fill="#000">B</text><rect x="80.2" y="431.2" width="228.2" height="164.3" fill="none" stroke="#d6d6d6" stroke-width="0.9"/><line x1="78.6" y1="589.5" x2="80.2" y2="589.5" stroke="#777" stroke-width="0.8"/><text x="77.3" y="593.3" font-size="11.4" text-anchor="end" fill="#222">0</text><line x1="78.6" y1="551" x2="80.2" y2="551" stroke="#777" stroke-width="0.8"/><text x="77.3" y="554.8" font-size="11.4" text-anchor="end" fill="#222">300</text><line x1="78.6" y1="512.3" x2="80.2" y2="512.3" stroke="#777" stroke-width="0.8"/><text x="77.3" y="516.1" font-size="11.4" text-anchor="end" fill="#222">600</text><line x1="78.6" y1="473.4" x2="80.2" y2="473.4" stroke="#777" stroke-width="0.8"/><text x="77.3" y="477.2" font-size="11.4" text-anchor="end" fill="#222">900</text><line x1="78.6" y1="435.4" x2="80.2" y2="435.4" stroke="#777" stroke-width="0.8"/><text x="77.3" y="439.2" font-size="11.4" text-anchor="end" fill="#222">1200</text><line x1="122.99" y1="595.5" x2="122.99" y2="597.1" stroke="#777" stroke-width="0.8"/><text x="122.99" y="607.4" font-size="12" text-anchor="middle" fill="#222">Normal</text><line x1="194.3" y1="595.5" x2="194.3" y2="597.1" stroke="#777" stroke-width="0.8"/><text x="194.3" y="607.4" font-size="12" text-anchor="middle" fill="#222">Tumor</text><line x1="265.61" y1="595.5" x2="265.61" y2="597.1" stroke="#777" stroke-width="0.8"/><text x="265.61" y="607.4" font-size="12" text-anchor="middle" fill="#222">Metastatic</text><text transform="translate(45.2,513.35) rotate(-90)" font-size="11.9" font-weight="bold" text-anchor="middle" fill="#000">INTS1 gene expression</text><text x="305.9" y="442.2" font-size="9.2" text-anchor="end" fill="#222">P = 1.31e-14</text><line x1="122.99" y1="492.8" x2="122.99" y2="586.3" stroke="#9fc48a" stroke-width="0.8"/><rect x="103.09" y="528.7" width="39.8" height="27" fill="#CCFF66" stroke="#5DBB3A" stroke-width="0.7"/><line x1="103.09" y1="542.9" x2="142.89" y2="542.9" stroke="#5DBB3A" stroke-width="0.9"/><g fill="#0a6b0a"><circle cx="136.3" cy="452.0" r="1.05"/><circle cx="125.9" cy="586.3" r="1.05"/><circle cx="114.2" cy="548.7" r="1.05"/><circle cx="112.2" cy="583.8" r="1.05"/><circle cx="125.2" cy="471.8" r="1.05"/><circle cx="123.3" cy="567.9" r="1.05"/><circle cx="138.2" cy="518.8" r="1.05"/><circle cx="110.6" cy="510.4" r="1.05"/><circle cx="121.7" cy="532.6" r="1.05"/><circle cx="121.0" cy="576.0" r="1.05"/><circle cx="118.4" cy="534.7" r="1.05"/><circle cx="111.2" cy="483.0" r="1.05"/><circle cx="118.6" cy="531.5" r="1.05"/><circle cx="124.6" cy="533.3" r="1.05"/><circle cx="111.5" cy="582.0" r="1.05"/><circle cx="116.2" cy="544.3" r="1.05"/><circle cx="124.0" cy="526.1" r="1.05"/><circle cx="139.5" cy="526.9" r="1.05"/><circle cx="122.3" cy="552.8" r="1.05"/><circle cx="117.2" cy="534.0" r="1.05"/><circle cx="105.5" cy="539.1" r="1.05"/><circle cx="123.7" cy="567.9" r="1.05"/><circle cx="117.1" cy="478.0" r="1.05"/><circle cx="108.5" cy="565.8" r="1.05"/><circle cx="122.0" cy="560.2" r="1.05"/><circle cx="127.4" cy="513.9" r="1.05"/><circle cx="117.4" cy="550.4" r="1.05"/><circle cx="131.8" cy="555.5" r="1.05"/><circle cx="127.9" cy="531.1" r="1.05"/><circle cx="106.5" cy="537.3" r="1.05"/><circle cx="106.0" cy="506.0" r="1.05"/><circle cx="123.9" cy="540.8" r="1.05"/><circle cx="126.9" cy="534.6" r="1.05"/><circle cx="125.1" cy="545.2" r="1.05"/><circle cx="112.8" cy="468.1" r="1.05"/><circle cx="117.1" cy="533.7" r="1.05"/><circle cx="131.2" cy="562.9" r="1.05"/><circle cx="119.1" cy="532.6" r="1.05"/><circle cx="124.1" cy="521.9" r="1.05"/><circle cx="112.8" cy="518.4" r="1.05"/><circle cx="127.8" cy="584.2" r="1.05"/><circle cx="122.2" cy="557.4" r="1.05"/><circle cx="104.3" cy="507.0" r="1.05"/><circle cx="132.6" cy="564.2" r="1.05"/><circle cx="134.4" cy="521.5" r="1.05"/><circle cx="141.3" cy="537.4" r="1.05"/><circle cx="139.6" cy="562.8" r="1.05"/><circle cx="130.6" cy="583.1" r="1.05"/><circle cx="121.7" cy="546.1" r="1.05"/><circle cx="114.2" cy="548.0" r="1.05"/><circle cx="130.6" cy="495.9" r="1.05"/><circle cx="119.9" cy="508.2" r="1.05"/><circle cx="116.3" cy="527.5" r="1.05"/><circle cx="108.6" cy="570.7" r="1.05"/><circle cx="127.0" cy="527.5" r="1.05"/><circle cx="130.9" cy="546.1" r="1.05"/><circle cx="133.1" cy="500.0" r="1.05"/><circle cx="109.9" cy="527.8" r="1.05"/><circle cx="111.9" cy="562.1" r="1.05"/><circle cx="128.1" cy="470.5" r="1.05"/><circle cx="109.1" cy="535.5" r="1.05"/><circle cx="137.5" cy="453.0" r="1.05"/><circle cx="139.1" cy="561.0" r="1.05"/><circle cx="127.9" cy="489.2" r="1.05"/><circle cx="114.0" cy="568.7" r="1.05"/><circle cx="125.3" cy="540.5" r="1.05"/><circle cx="133.0" cy="536.0" r="1.05"/><circle cx="117.2" cy="543.4" r="1.05"/><circle cx="128.6" cy="534.8" r="1.05"/><circle cx="126.8" cy="553.7" r="1.05"/><circle cx="138.4" cy="536.4" r="1.05"/><circle cx="133.4" cy="566.0" r="1.05"/><circle cx="129.3" cy="545.9" r="1.05"/><circle cx="124.7" cy="556.2" r="1.05"/><circle cx="137.6" cy="540.3" r="1.05"/><circle cx="126.8" cy="551.7" r="1.05"/><circle cx="130.1" cy="522.8" r="1.05"/><circle cx="115.9" cy="520.8" r="1.05"/><circle cx="108.2" cy="551.2" r="1.05"/><circle cx="125.2" cy="550.6" r="1.05"/><circle cx="112.6" cy="527.3" r="1.05"/><circle cx="140.6" cy="513.5" r="1.05"/><circle cx="112.5" cy="559.0" r="1.05"/><circle cx="137.9" cy="523.1" r="1.05"/><circle cx="116.7" cy="556.5" r="1.05"/><circle cx="111.4" cy="543.1" r="1.05"/><circle cx="125.9" cy="537.1" r="1.05"/><circle cx="116.3" cy="541.5" r="1.05"/><circle cx="141.6" cy="553.5" r="1.05"/><circle cx="127.4" cy="565.7" r="1.05"/><circle cx="108.0" cy="547.9" r="1.05"/><circle cx="115.8" cy="566.8" r="1.05"/><circle cx="108.4" cy="539.4" r="1.05"/><circle cx="122.7" cy="550.2" r="1.05"/><circle cx="124.0" cy="546.1" r="1.05"/><circle cx="116.1" cy="512.5" r="1.05"/><circle cx="129.5" cy="545.1" r="1.05"/><circle cx="120.9" cy="526.6" r="1.05"/><circle cx="135.0" cy="559.9" r="1.05"/><circle cx="129.7" cy="570.6" r="1.05"/><circle cx="113.9" cy="532.4" r="1.05"/><circle cx="135.4" cy="506.7" r="1.05"/><circle cx="105.3" cy="561.2" r="1.05"/><circle cx="113.0" cy="548.7" r="1.05"/><circle cx="105.3" cy="526.9" r="1.05"/><circle cx="140.0" cy="555.1" r="1.05"/><circle cx="124.3" cy="497.7" r="1.05"/><circle cx="135.8" cy="564.6" r="1.05"/><circle cx="141.4" cy="534.2" r="1.05"/><circle cx="107.6" cy="510.8" r="1.05"/><circle cx="138.0" cy="524.4" r="1.05"/><circle cx="105.0" cy="538.8" r="1.05"/><circle cx="130.5" cy="546.4" r="1.05"/><circle cx="134.0" cy="558.4" r="1.05"/><circle cx="118.7" cy="538.9" r="1.05"/><circle cx="137.7" cy="547.1" r="1.05"/><circle cx="133.0" cy="517.0" r="1.05"/><circle cx="122.9" cy="535.4" r="1.05"/><circle cx="114.8" cy="522.1" r="1.05"/><circle cx="110.2" cy="545.1" r="1.05"/><circle cx="107.1" cy="528.3" r="1.05"/><circle cx="124.5" cy="505.9" r="1.05"/><circle cx="123.9" cy="498.6" r="1.05"/><circle cx="111.2" cy="541.3" r="1.05"/><circle cx="124.1" cy="556.9" r="1.05"/><circle cx="107.2" cy="567.0" r="1.05"/><circle cx="115.5" cy="545.8" r="1.05"/><circle cx="129.3" cy="553.7" r="1.05"/><circle cx="109.9" cy="541.0" r="1.05"/><circle cx="123.9" cy="559.6" r="1.05"/><circle cx="109.2" cy="559.9" r="1.05"/><circle cx="137.4" cy="543.8" r="1.05"/><circle cx="112.1" cy="568.7" r="1.05"/><circle cx="139.2" cy="582.1" r="1.05"/><circle cx="138.7" cy="554.5" r="1.05"/><circle cx="140.5" cy="553.3" r="1.05"/><circle cx="114.8" cy="555.4" r="1.05"/><circle cx="129.8" cy="545.3" r="1.05"/><circle cx="106.8" cy="478.7" r="1.05"/><circle cx="140.7" cy="517.3" r="1.05"/><circle cx="130.2" cy="545.2" r="1.05"/><circle cx="105.6" cy="547.5" r="1.05"/><circle cx="109.4" cy="556.7" r="1.05"/><circle cx="108.2" cy="538.6" r="1.05"/><circle cx="117.3" cy="574.7" r="1.05"/><circle cx="139.4" cy="551.3" r="1.05"/><circle cx="133.9" cy="556.3" r="1.05"/><circle cx="116.4" cy="539.0" r="1.05"/><circle cx="134.6" cy="541.5" r="1.05"/><circle cx="104.6" cy="538.3" r="1.05"/><circle cx="124.7" cy="542.4" r="1.05"/><circle cx="118.8" cy="523.3" r="1.05"/><circle cx="107.0" cy="549.8" r="1.05"/><circle cx="138.8" cy="534.3" r="1.05"/><circle cx="128.9" cy="533.7" r="1.05"/><circle cx="141.6" cy="544.9" r="1.05"/><circle cx="128.3" cy="522.6" r="1.05"/><circle cx="127.5" cy="558.2" r="1.05"/><circle cx="109.0" cy="528.0" r="1.05"/><circle cx="122.1" cy="549.8" r="1.05"/><circle cx="137.9" cy="574.5" r="1.05"/><circle cx="125.2" cy="507.9" r="1.05"/><circle cx="128.2" cy="558.6" r="1.05"/><circle cx="121.5" cy="513.9" r="1.05"/><circle cx="117.7" cy="541.8" r="1.05"/><circle cx="104.6" cy="519.6" r="1.05"/><circle cx="112.4" cy="509.7" r="1.05"/><circle cx="111.2" cy="572.0" r="1.05"/><circle cx="107.6" cy="585.2" r="1.05"/><circle cx="106.2" cy="527.4" r="1.05"/><circle cx="132.6" cy="534.8" r="1.05"/><circle cx="141.6" cy="534.3" r="1.05"/><circle cx="130.4" cy="529.9" r="1.05"/><circle cx="135.4" cy="557.0" r="1.05"/><circle cx="112.1" cy="510.9" r="1.05"/><circle cx="136.1" cy="532.2" r="1.05"/><circle cx="118.5" cy="545.2" r="1.05"/><circle cx="136.3" cy="560.0" r="1.05"/><circle cx="113.1" cy="468.8" r="1.05"/><circle cx="115.4" cy="535.3" r="1.05"/><circle cx="124.0" cy="515.5" r="1.05"/><circle cx="112.6" cy="548.2" r="1.05"/><circle cx="113.9" cy="581.1" r="1.05"/><circle cx="131.5" cy="492.9" r="1.05"/><circle cx="133.9" cy="556.6" r="1.05"/><circle cx="141.1" cy="545.8" r="1.05"/><circle cx="128.8" cy="531.9" r="1.05"/><circle cx="117.4" cy="519.5" r="1.05"/><circle cx="121.8" cy="534.4" r="1.05"/><circle cx="126.2" cy="549.0" r="1.05"/><circle cx="126.5" cy="535.6" r="1.05"/><circle cx="138.7" cy="518.6" r="1.05"/><circle cx="125.5" cy="568.9" r="1.05"/><circle cx="140.3" cy="545.4" r="1.05"/><circle cx="122.2" cy="573.6" r="1.05"/><circle cx="121.0" cy="542.5" r="1.05"/><circle cx="105.3" cy="564.6" r="1.05"/><circle cx="116.4" cy="516.1" r="1.05"/><circle cx="122.3" cy="564.3" r="1.05"/><circle cx="104.6" cy="533.0" r="1.05"/><circle cx="120.7" cy="559.3" r="1.05"/><circle cx="108.5" cy="540.9" r="1.05"/><circle cx="114.2" cy="532.4" r="1.05"/><circle cx="137.4" cy="517.9" r="1.05"/><circle cx="138.6" cy="550.8" r="1.05"/><circle cx="108.5" cy="558.8" r="1.05"/><circle cx="126.3" cy="543.6" r="1.05"/><circle cx="122.5" cy="548.9" r="1.05"/><circle cx="106.2" cy="529.6" r="1.05"/><circle cx="115.4" cy="543.4" r="1.05"/><circle cx="124.3" cy="528.8" r="1.05"/><circle cx="120.2" cy="523.4" r="1.05"/><circle cx="125.6" cy="540.4" r="1.05"/><circle cx="106.7" cy="546.5" r="1.05"/><circle cx="127.2" cy="524.8" r="1.05"/><circle cx="127.2" cy="511.1" r="1.05"/><circle cx="111.3" cy="500.3" r="1.05"/><circle cx="125.5" cy="545.0" r="1.05"/><circle cx="139.3" cy="545.9" r="1.05"/><circle cx="137.7" cy="531.4" r="1.05"/><circle cx="127.4" cy="511.4" r="1.05"/><circle cx="123.8" cy="502.3" r="1.05"/><circle cx="132.4" cy="538.6" r="1.05"/><circle cx="121.3" cy="555.4" r="1.05"/><circle cx="130.8" cy="584.6" r="1.05"/><circle cx="118.2" cy="532.2" r="1.05"/><circle cx="125.1" cy="549.6" r="1.05"/><circle cx="131.8" cy="528.8" r="1.05"/><circle cx="126.2" cy="535.4" r="1.05"/><circle cx="126.9" cy="538.3" r="1.05"/><circle cx="118.6" cy="515.4" r="1.05"/><circle cx="117.4" cy="524.6" r="1.05"/><circle cx="128.8" cy="556.2" r="1.05"/><circle cx="121.0" cy="529.8" r="1.05"/><circle cx="120.8" cy="538.6" r="1.05"/><circle cx="118.4" cy="516.6" r="1.05"/><circle cx="115.1" cy="540.1" r="1.05"/><circle cx="127.7" cy="568.9" r="1.05"/><circle cx="137.2" cy="537.4" r="1.05"/><circle cx="111.5" cy="533.2" r="1.05"/><circle cx="128.6" cy="585.3" r="1.05"/><circle cx="124.2" cy="533.1" r="1.05"/><circle cx="128.1" cy="535.1" r="1.05"/><circle cx="129.1" cy="557.9" r="1.05"/><circle cx="119.2" cy="522.9" r="1.05"/><circle cx="104.6" cy="560.2" r="1.05"/><circle cx="117.8" cy="535.7" r="1.05"/><circle cx="123.8" cy="544.1" r="1.05"/><circle cx="127.9" cy="563.7" r="1.05"/><circle cx="139.0" cy="565.4" r="1.05"/><circle cx="128.9" cy="556.6" r="1.05"/><circle cx="128.7" cy="534.7" r="1.05"/><circle cx="117.4" cy="535.4" r="1.05"/><circle cx="134.1" cy="559.8" r="1.05"/><circle cx="109.1" cy="539.1" r="1.05"/><circle cx="137.5" cy="556.4" r="1.05"/><circle cx="122.6" cy="544.0" r="1.05"/><circle cx="121.2" cy="456.3" r="1.05"/><circle cx="130.2" cy="500.6" r="1.05"/><circle cx="124.6" cy="539.5" r="1.05"/><circle cx="141.6" cy="548.4" r="1.05"/><circle cx="108.7" cy="524.3" r="1.05"/><circle cx="106.6" cy="551.3" r="1.05"/><circle cx="126.6" cy="560.5" r="1.05"/><circle cx="112.7" cy="528.7" r="1.05"/><circle cx="112.7" cy="543.7" r="1.05"/><circle cx="141.7" cy="539.4" r="1.05"/><circle cx="124.1" cy="540.3" r="1.05"/><circle cx="115.2" cy="571.8" r="1.05"/><circle cx="117.9" cy="564.0" r="1.05"/><circle cx="112.7" cy="499.9" r="1.05"/><circle cx="113.7" cy="554.8" r="1.05"/><circle cx="109.3" cy="546.9" r="1.05"/><circle cx="140.9" cy="530.0" r="1.05"/><circle cx="131.8" cy="540.9" r="1.05"/><circle cx="117.7" cy="567.0" r="1.05"/><circle cx="108.3" cy="576.9" r="1.05"/><circle cx="140.9" cy="514.4" r="1.05"/><circle cx="137.6" cy="545.7" r="1.05"/><circle cx="107.8" cy="531.0" r="1.05"/><circle cx="136.9" cy="560.0" r="1.05"/><circle cx="124.9" cy="574.3" r="1.05"/><circle cx="141.2" cy="525.3" r="1.05"/><circle cx="120.7" cy="533.0" r="1.05"/><circle cx="120.6" cy="540.9" r="1.05"/><circle cx="104.5" cy="543.9" r="1.05"/><circle cx="125.9" cy="579.1" r="1.05"/><circle cx="113.2" cy="546.9" r="1.05"/><circle cx="137.3" cy="531.7" r="1.05"/><circle cx="112.6" cy="570.5" r="1.05"/><circle cx="137.4" cy="547.9" r="1.05"/><circle cx="116.7" cy="530.8" r="1.05"/><circle cx="134.5" cy="533.9" r="1.05"/><circle cx="131.0" cy="554.0" r="1.05"/><circle cx="139.3" cy="539.1" r="1.05"/><circle cx="125.8" cy="557.0" r="1.05"/><circle cx="117.7" cy="551.7" r="1.05"/><circle cx="114.1" cy="546.4" r="1.05"/><circle cx="113.0" cy="531.2" r="1.05"/><circle cx="108.1" cy="536.0" r="1.05"/><circle cx="115.4" cy="544.6" r="1.05"/><circle cx="116.1" cy="514.4" r="1.05"/><circle cx="135.1" cy="523.0" r="1.05"/><circle cx="104.4" cy="507.3" r="1.05"/><circle cx="123.1" cy="533.0" r="1.05"/><circle cx="123.3" cy="555.3" r="1.05"/><circle cx="110.1" cy="518.5" r="1.05"/><circle cx="130.3" cy="532.3" r="1.05"/><circle cx="112.0" cy="529.6" r="1.05"/><circle cx="132.1" cy="551.0" r="1.05"/><circle cx="110.6" cy="531.1" r="1.05"/><circle cx="137.2" cy="506.9" r="1.05"/><circle cx="115.9" cy="536.5" r="1.05"/><circle cx="107.7" cy="560.7" r="1.05"/><circle cx="109.8" cy="528.4" r="1.05"/><circle cx="111.9" cy="532.0" r="1.05"/><circle cx="109.2" cy="525.3" r="1.05"/><circle cx="116.0" cy="525.0" r="1.05"/><circle cx="140.7" cy="512.2" r="1.05"/><circle cx="118.3" cy="545.7" r="1.05"/><circle cx="119.0" cy="559.4" r="1.05"/><circle cx="132.5" cy="549.1" r="1.05"/><circle cx="107.0" cy="538.0" r="1.05"/><circle cx="107.5" cy="581.3" r="1.05"/><circle cx="136.9" cy="532.0" r="1.05"/><circle cx="116.5" cy="570.2" r="1.05"/><circle cx="110.8" cy="495.7" r="1.05"/><circle cx="111.1" cy="555.0" r="1.05"/><circle cx="132.1" cy="521.4" r="1.05"/><circle cx="140.9" cy="533.7" r="1.05"/><circle cx="119.2" cy="549.8" r="1.05"/><circle cx="130.9" cy="555.1" r="1.05"/><circle cx="121.5" cy="555.4" r="1.05"/><circle cx="111.9" cy="542.9" r="1.05"/><circle cx="116.0" cy="567.0" r="1.05"/><circle cx="116.9" cy="496.2" r="1.05"/><circle cx="113.6" cy="539.9" r="1.05"/><circle cx="134.0" cy="565.3" r="1.05"/><circle cx="107.6" cy="524.8" r="1.05"/><circle cx="118.7" cy="513.7" r="1.05"/><circle cx="131.8" cy="538.4" r="1.05"/><circle cx="105.4" cy="539.7" r="1.05"/><circle cx="140.4" cy="548.4" r="1.05"/><circle cx="127.3" cy="552.3" r="1.05"/><circle cx="128.7" cy="504.2" r="1.05"/><circle cx="111.4" cy="557.0" r="1.05"/><circle cx="111.8" cy="490.1" r="1.05"/><circle cx="135.9" cy="528.0" r="1.05"/><circle cx="140.9" cy="531.7" r="1.05"/><circle cx="104.7" cy="554.7" r="1.05"/><circle cx="134.9" cy="536.3" r="1.05"/><circle cx="111.7" cy="527.4" r="1.05"/><circle cx="107.1" cy="535.2" r="1.05"/><circle cx="126.6" cy="538.8" r="1.05"/><circle cx="107.8" cy="504.8" r="1.05"/><circle cx="135.8" cy="568.9" r="1.05"/><circle cx="135.9" cy="546.3" r="1.05"/><circle cx="114.9" cy="534.2" r="1.05"/><circle cx="109.6" cy="524.7" r="1.05"/><circle cx="123.5" cy="576.9" r="1.05"/><circle cx="132.4" cy="553.1" r="1.05"/><circle cx="105.6" cy="546.1" r="1.05"/><circle cx="130.7" cy="555.5" r="1.05"/><circle cx="108.8" cy="467.6" r="1.05"/><circle cx="118.4" cy="562.4" r="1.05"/><circle cx="110.4" cy="467.9" r="1.05"/><circle cx="107.2" cy="535.1" r="1.05"/><circle cx="124.3" cy="529.8" r="1.05"/><circle cx="115.4" cy="520.5" r="1.05"/><circle cx="138.4" cy="572.8" r="1.05"/><circle cx="138.2" cy="517.7" r="1.05"/><circle cx="131.5" cy="552.4" r="1.05"/><circle cx="123.4" cy="532.3" r="1.05"/><circle cx="128.5" cy="516.0" r="1.05"/><circle cx="116.7" cy="539.3" r="1.05"/><circle cx="121.8" cy="480.6" r="1.05"/><circle cx="124.8" cy="544.7" r="1.05"/><circle cx="120.0" cy="548.7" r="1.05"/><circle cx="120.9" cy="539.3" r="1.05"/><circle cx="136.2" cy="488.3" r="1.05"/><circle cx="141.4" cy="557.9" r="1.05"/><circle cx="131.9" cy="499.8" r="1.05"/><circle cx="136.5" cy="549.8" r="1.05"/><circle cx="115.7" cy="557.6" r="1.05"/><circle cx="107.0" cy="538.5" r="1.05"/><circle cx="112.6" cy="515.8" r="1.05"/><circle cx="123.0" cy="534.5" r="1.05"/><circle cx="132.9" cy="492.3" r="1.05"/><circle cx="131.8" cy="525.1" r="1.05"/><circle cx="138.6" cy="572.0" r="1.05"/><circle cx="133.5" cy="522.8" r="1.05"/><circle cx="115.4" cy="540.1" r="1.05"/><circle cx="106.3" cy="537.0" r="1.05"/><circle cx="122.3" cy="541.7" r="1.05"/><circle cx="116.6" cy="547.2" r="1.05"/><circle cx="136.9" cy="527.8" r="1.05"/><circle cx="138.2" cy="524.4" r="1.05"/><circle cx="124.4" cy="524.5" r="1.05"/><circle cx="133.3" cy="543.4" r="1.05"/><circle cx="131.5" cy="519.6" r="1.05"/></g><line x1="194.3" y1="467.4" x2="194.3" y2="588.8" stroke="#f08070" stroke-width="0.8"/><rect x="174.4" y="514.3" width="39.8" height="32.2" fill="#FF8566" stroke="#F26450" stroke-width="0.7"/><line x1="174.4" y1="530" x2="214.2" y2="530" stroke="#F26450" stroke-width="0.9"/><g fill="#FF0000"><circle cx="190.8" cy="439.8" r="1.05"/><circle cx="184.0" cy="588.8" r="1.05"/><circle cx="190.9" cy="509.3" r="1.05"/><circle cx="177.4" cy="545.5" r="1.05"/><circle cx="178.0" cy="539.8" r="1.05"/><circle cx="184.4" cy="520.6" r="1.05"/><circle cx="176.5" cy="522.8" r="1.05"/><circle cx="184.5" cy="538.7" r="1.05"/><circle cx="183.0" cy="543.6" r="1.05"/><circle cx="188.8" cy="536.5" r="1.05"/><circle cx="197.8" cy="507.1" r="1.05"/><circle cx="212.8" cy="500.4" r="1.05"/><circle cx="202.0" cy="544.7" r="1.05"/><circle cx="206.3" cy="533.6" r="1.05"/><circle cx="196.5" cy="526.1" r="1.05"/><circle cx="204.1" cy="504.6" r="1.05"/><circle cx="199.2" cy="509.2" r="1.05"/><circle cx="175.8" cy="491.3" r="1.05"/><circle cx="189.3" cy="512.3" r="1.05"/><circle cx="180.4" cy="550.9" r="1.05"/><circle cx="201.3" cy="444.5" r="1.05"/><circle cx="189.2" cy="469.5" r="1.05"/><circle cx="191.8" cy="530.2" r="1.05"/><circle cx="181.3" cy="531.5" r="1.05"/><circle cx="212.0" cy="511.3" r="1.05"/><circle cx="185.9" cy="556.3" r="1.05"/><circle cx="180.8" cy="544.4" r="1.05"/><circle cx="189.5" cy="530.7" r="1.05"/><circle cx="187.4" cy="565.3" r="1.05"/><circle cx="182.6" cy="518.3" r="1.05"/><circle cx="201.7" cy="530.2" r="1.05"/><circle cx="191.7" cy="538.1" r="1.05"/><circle cx="175.9" cy="582.8" r="1.05"/><circle cx="211.2" cy="533.3" r="1.05"/><circle cx="180.1" cy="551.7" r="1.05"/><circle cx="208.1" cy="520.3" r="1.05"/><circle cx="212.6" cy="538.9" r="1.05"/><circle cx="196.0" cy="547.5" r="1.05"/><circle cx="204.3" cy="541.2" r="1.05"/><circle cx="175.7" cy="505.5" r="1.05"/><circle cx="183.1" cy="519.3" r="1.05"/><circle cx="205.3" cy="509.2" r="1.05"/><circle cx="201.6" cy="507.2" r="1.05"/><circle cx="180.0" cy="542.3" r="1.05"/><circle cx="185.5" cy="536.0" r="1.05"/><circle cx="178.4" cy="558.7" r="1.05"/><circle cx="205.3" cy="562.9" r="1.05"/><circle cx="199.6" cy="541.5" r="1.05"/><circle cx="188.6" cy="550.8" r="1.05"/><circle cx="196.8" cy="527.1" r="1.05"/><circle cx="194.3" cy="566.0" r="1.05"/><circle cx="185.3" cy="521.3" r="1.05"/><circle cx="195.6" cy="517.8" r="1.05"/><circle cx="175.8" cy="518.1" r="1.05"/><circle cx="202.5" cy="528.3" r="1.05"/><circle cx="211.5" cy="519.5" r="1.05"/><circle cx="181.7" cy="530.5" r="1.05"/><circle cx="191.9" cy="464.5" r="1.05"/><circle cx="197.8" cy="566.8" r="1.05"/><circle cx="201.2" cy="521.2" r="1.05"/><circle cx="204.6" cy="522.5" r="1.05"/><circle cx="187.9" cy="518.1" r="1.05"/><circle cx="203.8" cy="537.5" r="1.05"/><circle cx="189.0" cy="522.0" r="1.05"/><circle cx="204.8" cy="519.6" r="1.05"/><circle cx="194.6" cy="527.3" r="1.05"/><circle cx="197.1" cy="508.2" r="1.05"/><circle cx="209.1" cy="520.9" r="1.05"/><circle cx="182.2" cy="586.8" r="1.05"/><circle cx="194.2" cy="497.3" r="1.05"/><circle cx="188.5" cy="561.3" r="1.05"/><circle cx="177.8" cy="575.8" r="1.05"/><circle cx="204.8" cy="569.0" r="1.05"/><circle cx="182.9" cy="481.1" r="1.05"/><circle cx="181.7" cy="475.1" r="1.05"/><circle cx="180.6" cy="561.1" r="1.05"/><circle cx="204.8" cy="554.3" r="1.05"/><circle cx="202.0" cy="534.2" r="1.05"/><circle cx="187.8" cy="499.3" r="1.05"/><circle cx="193.9" cy="550.3" r="1.05"/><circle cx="188.9" cy="556.9" r="1.05"/><circle cx="194.0" cy="530.4" r="1.05"/><circle cx="176.9" cy="515.0" r="1.05"/><circle cx="186.3" cy="493.0" r="1.05"/><circle cx="211.5" cy="546.1" r="1.05"/><circle cx="187.5" cy="539.1" r="1.05"/><circle cx="201.8" cy="518.7" r="1.05"/><circle cx="198.8" cy="564.7" r="1.05"/><circle cx="193.0" cy="501.9" r="1.05"/><circle cx="198.8" cy="551.2" r="1.05"/><circle cx="201.7" cy="566.9" r="1.05"/><circle cx="197.1" cy="543.1" r="1.05"/><circle cx="205.1" cy="557.7" r="1.05"/><circle cx="186.8" cy="520.9" r="1.05"/><circle cx="184.1" cy="515.1" r="1.05"/><circle cx="192.8" cy="538.8" r="1.05"/><circle cx="205.1" cy="524.4" r="1.05"/><circle cx="194.2" cy="533.9" r="1.05"/><circle cx="175.7" cy="548.8" r="1.05"/><circle cx="192.9" cy="517.9" r="1.05"/><circle cx="209.2" cy="544.3" r="1.05"/><circle cx="181.8" cy="546.5" r="1.05"/><circle cx="197.0" cy="556.2" r="1.05"/><circle cx="186.2" cy="523.1" r="1.05"/><circle cx="195.9" cy="547.3" r="1.05"/><circle cx="204.2" cy="504.7" r="1.05"/><circle cx="187.9" cy="530.4" r="1.05"/><circle cx="182.0" cy="507.2" r="1.05"/><circle cx="192.3" cy="557.6" r="1.05"/><circle cx="212.5" cy="534.4" r="1.05"/><circle cx="176.5" cy="496.3" r="1.05"/><circle cx="186.9" cy="450.9" r="1.05"/><circle cx="183.7" cy="540.8" r="1.05"/><circle cx="193.3" cy="518.2" r="1.05"/><circle cx="205.1" cy="512.4" r="1.05"/><circle cx="196.6" cy="524.4" r="1.05"/><circle cx="197.6" cy="527.8" r="1.05"/><circle cx="183.9" cy="532.6" r="1.05"/><circle cx="195.5" cy="503.1" r="1.05"/><circle cx="203.7" cy="508.9" r="1.05"/><circle cx="188.0" cy="502.9" r="1.05"/><circle cx="176.2" cy="521.6" r="1.05"/><circle cx="212.0" cy="546.0" r="1.05"/><circle cx="194.5" cy="557.6" r="1.05"/><circle cx="211.8" cy="512.4" r="1.05"/><circle cx="198.5" cy="499.5" r="1.05"/><circle cx="188.3" cy="520.0" r="1.05"/><circle cx="182.2" cy="558.2" r="1.05"/><circle cx="210.6" cy="514.4" r="1.05"/><circle cx="204.2" cy="526.3" r="1.05"/><circle cx="197.1" cy="497.5" r="1.05"/><circle cx="176.2" cy="561.8" r="1.05"/><circle cx="186.8" cy="548.0" r="1.05"/><circle cx="191.4" cy="549.2" r="1.05"/><circle cx="179.0" cy="542.0" r="1.05"/><circle cx="193.3" cy="547.2" r="1.05"/><circle cx="193.2" cy="588.5" r="1.05"/><circle cx="183.2" cy="529.3" r="1.05"/><circle cx="195.3" cy="515.7" r="1.05"/><circle cx="211.3" cy="529.3" r="1.05"/><circle cx="208.3" cy="530.3" r="1.05"/><circle cx="206.4" cy="531.4" r="1.05"/><circle cx="186.9" cy="505.2" r="1.05"/><circle cx="184.3" cy="513.6" r="1.05"/><circle cx="193.5" cy="486.0" r="1.05"/><circle cx="210.6" cy="514.7" r="1.05"/><circle cx="183.5" cy="499.2" r="1.05"/><circle cx="178.3" cy="546.8" r="1.05"/><circle cx="207.5" cy="553.2" r="1.05"/><circle cx="175.9" cy="548.6" r="1.05"/><circle cx="194.7" cy="538.4" r="1.05"/><circle cx="212.5" cy="582.4" r="1.05"/><circle cx="197.0" cy="514.1" r="1.05"/><circle cx="175.8" cy="546.7" r="1.05"/><circle cx="186.9" cy="532.1" r="1.05"/><circle cx="203.7" cy="517.1" r="1.05"/><circle cx="201.0" cy="529.9" r="1.05"/><circle cx="178.7" cy="554.2" r="1.05"/><circle cx="192.9" cy="557.1" r="1.05"/><circle cx="193.6" cy="537.9" r="1.05"/><circle cx="181.7" cy="515.5" r="1.05"/><circle cx="180.4" cy="571.4" r="1.05"/><circle cx="187.2" cy="569.2" r="1.05"/><circle cx="190.5" cy="542.6" r="1.05"/><circle cx="211.3" cy="574.5" r="1.05"/><circle cx="187.8" cy="554.2" r="1.05"/><circle cx="209.1" cy="562.6" r="1.05"/><circle cx="176.3" cy="505.5" r="1.05"/><circle cx="193.1" cy="554.9" r="1.05"/><circle cx="181.1" cy="533.2" r="1.05"/><circle cx="177.8" cy="536.7" r="1.05"/><circle cx="186.4" cy="539.3" r="1.05"/><circle cx="201.6" cy="536.5" r="1.05"/><circle cx="198.3" cy="578.6" r="1.05"/><circle cx="186.3" cy="586.5" r="1.05"/><circle cx="202.9" cy="487.0" r="1.05"/><circle cx="202.0" cy="513.0" r="1.05"/><circle cx="208.0" cy="540.1" r="1.05"/><circle cx="201.5" cy="528.9" r="1.05"/><circle cx="178.9" cy="541.1" r="1.05"/><circle cx="204.9" cy="517.6" r="1.05"/><circle cx="211.4" cy="525.6" r="1.05"/><circle cx="208.5" cy="554.6" r="1.05"/><circle cx="200.2" cy="502.1" r="1.05"/><circle cx="180.2" cy="523.6" r="1.05"/><circle cx="208.1" cy="526.8" r="1.05"/><circle cx="194.1" cy="530.8" r="1.05"/><circle cx="202.9" cy="539.3" r="1.05"/><circle cx="210.3" cy="544.0" r="1.05"/><circle cx="183.5" cy="537.8" r="1.05"/><circle cx="176.4" cy="533.2" r="1.05"/><circle cx="210.7" cy="535.4" r="1.05"/><circle cx="209.0" cy="511.4" r="1.05"/><circle cx="178.7" cy="516.5" r="1.05"/><circle cx="192.7" cy="565.6" r="1.05"/><circle cx="207.8" cy="543.0" r="1.05"/><circle cx="198.6" cy="464.5" r="1.05"/><circle cx="195.1" cy="522.7" r="1.05"/><circle cx="213.0" cy="531.4" r="1.05"/><circle cx="176.6" cy="541.6" r="1.05"/><circle cx="189.5" cy="522.8" r="1.05"/><circle cx="181.4" cy="535.5" r="1.05"/><circle cx="211.7" cy="530.7" r="1.05"/><circle cx="197.5" cy="494.5" r="1.05"/><circle cx="185.3" cy="540.9" r="1.05"/><circle cx="208.2" cy="493.5" r="1.05"/><circle cx="209.9" cy="527.5" r="1.05"/><circle cx="193.6" cy="527.7" r="1.05"/><circle cx="211.3" cy="526.0" r="1.05"/><circle cx="183.6" cy="533.9" r="1.05"/><circle cx="201.5" cy="516.2" r="1.05"/><circle cx="212.9" cy="515.6" r="1.05"/><circle cx="184.2" cy="519.8" r="1.05"/><circle cx="201.9" cy="544.6" r="1.05"/><circle cx="206.7" cy="534.9" r="1.05"/><circle cx="208.0" cy="545.5" r="1.05"/><circle cx="185.5" cy="501.4" r="1.05"/><circle cx="189.9" cy="506.4" r="1.05"/><circle cx="179.8" cy="526.1" r="1.05"/><circle cx="194.5" cy="531.2" r="1.05"/><circle cx="207.9" cy="504.9" r="1.05"/><circle cx="186.7" cy="504.4" r="1.05"/><circle cx="208.6" cy="519.5" r="1.05"/><circle cx="185.5" cy="514.4" r="1.05"/><circle cx="193.2" cy="536.4" r="1.05"/><circle cx="200.4" cy="501.3" r="1.05"/><circle cx="206.0" cy="484.7" r="1.05"/><circle cx="210.9" cy="537.0" r="1.05"/><circle cx="188.9" cy="527.4" r="1.05"/><circle cx="190.2" cy="535.3" r="1.05"/><circle cx="204.0" cy="531.6" r="1.05"/><circle cx="205.4" cy="534.3" r="1.05"/><circle cx="205.2" cy="459.5" r="1.05"/><circle cx="185.6" cy="521.2" r="1.05"/><circle cx="208.0" cy="535.8" r="1.05"/><circle cx="204.2" cy="541.3" r="1.05"/><circle cx="197.8" cy="554.3" r="1.05"/><circle cx="188.1" cy="502.2" r="1.05"/><circle cx="202.7" cy="504.4" r="1.05"/><circle cx="178.1" cy="529.3" r="1.05"/><circle cx="203.3" cy="530.1" r="1.05"/><circle cx="191.2" cy="551.0" r="1.05"/><circle cx="204.1" cy="523.1" r="1.05"/><circle cx="197.6" cy="537.3" r="1.05"/><circle cx="189.0" cy="476.6" r="1.05"/><circle cx="187.4" cy="528.3" r="1.05"/><circle cx="194.4" cy="535.4" r="1.05"/><circle cx="180.6" cy="537.2" r="1.05"/><circle cx="185.2" cy="533.6" r="1.05"/><circle cx="199.5" cy="531.9" r="1.05"/><circle cx="182.8" cy="527.8" r="1.05"/><circle cx="210.1" cy="536.2" r="1.05"/><circle cx="195.4" cy="518.4" r="1.05"/><circle cx="187.6" cy="512.8" r="1.05"/><circle cx="182.1" cy="550.2" r="1.05"/><circle cx="185.9" cy="541.6" r="1.05"/><circle cx="190.4" cy="563.5" r="1.05"/><circle cx="180.6" cy="536.8" r="1.05"/><circle cx="187.1" cy="483.9" r="1.05"/><circle cx="211.7" cy="524.4" r="1.05"/><circle cx="210.7" cy="544.2" r="1.05"/><circle cx="209.8" cy="522.1" r="1.05"/><circle cx="211.2" cy="511.0" r="1.05"/><circle cx="201.9" cy="574.2" r="1.05"/><circle cx="211.8" cy="524.6" r="1.05"/><circle cx="199.6" cy="532.6" r="1.05"/><circle cx="190.9" cy="508.2" r="1.05"/><circle cx="181.8" cy="534.2" r="1.05"/><circle cx="200.0" cy="497.1" r="1.05"/><circle cx="211.8" cy="507.9" r="1.05"/><circle cx="210.8" cy="534.4" r="1.05"/><circle cx="212.1" cy="503.8" r="1.05"/><circle cx="192.1" cy="487.9" r="1.05"/><circle cx="201.2" cy="532.5" r="1.05"/><circle cx="213.1" cy="526.5" r="1.05"/><circle cx="202.7" cy="533.5" r="1.05"/><circle cx="207.7" cy="481.7" r="1.05"/><circle cx="208.2" cy="514.8" r="1.05"/><circle cx="196.4" cy="536.2" r="1.05"/><circle cx="208.4" cy="502.5" r="1.05"/><circle cx="188.8" cy="547.3" r="1.05"/><circle cx="206.5" cy="526.9" r="1.05"/><circle cx="191.8" cy="579.7" r="1.05"/><circle cx="183.6" cy="452.9" r="1.05"/><circle cx="206.6" cy="568.9" r="1.05"/><circle cx="205.3" cy="520.6" r="1.05"/><circle cx="199.4" cy="554.7" r="1.05"/><circle cx="193.2" cy="536.1" r="1.05"/><circle cx="185.4" cy="520.1" r="1.05"/><circle cx="207.2" cy="539.1" r="1.05"/><circle cx="200.5" cy="534.2" r="1.05"/><circle cx="200.7" cy="546.5" r="1.05"/><circle cx="206.4" cy="518.9" r="1.05"/><circle cx="176.5" cy="520.9" r="1.05"/><circle cx="205.4" cy="568.7" r="1.05"/><circle cx="207.6" cy="519.6" r="1.05"/><circle cx="180.7" cy="581.8" r="1.05"/><circle cx="177.3" cy="540.9" r="1.05"/><circle cx="208.0" cy="555.8" r="1.05"/><circle cx="185.3" cy="550.2" r="1.05"/><circle cx="195.6" cy="536.3" r="1.05"/><circle cx="210.5" cy="571.2" r="1.05"/><circle cx="182.8" cy="562.1" r="1.05"/><circle cx="194.1" cy="529.9" r="1.05"/><circle cx="177.8" cy="567.2" r="1.05"/><circle cx="208.3" cy="522.6" r="1.05"/><circle cx="207.9" cy="553.1" r="1.05"/><circle cx="191.9" cy="568.9" r="1.05"/><circle cx="205.3" cy="533.6" r="1.05"/><circle cx="181.2" cy="539.6" r="1.05"/><circle cx="205.8" cy="537.7" r="1.05"/><circle cx="205.9" cy="528.0" r="1.05"/><circle cx="202.9" cy="538.3" r="1.05"/><circle cx="176.8" cy="547.4" r="1.05"/><circle cx="186.7" cy="533.6" r="1.05"/><circle cx="200.4" cy="508.7" r="1.05"/><circle cx="206.8" cy="480.5" r="1.05"/><circle cx="194.0" cy="478.0" r="1.05"/><circle cx="201.3" cy="510.5" r="1.05"/><circle cx="192.6" cy="540.4" r="1.05"/><circle cx="197.4" cy="523.5" r="1.05"/><circle cx="186.2" cy="535.8" r="1.05"/><circle cx="183.1" cy="561.4" r="1.05"/><circle cx="208.2" cy="530.8" r="1.05"/><circle cx="196.3" cy="529.9" r="1.05"/><circle cx="187.6" cy="510.9" r="1.05"/><circle cx="186.6" cy="534.3" r="1.05"/><circle cx="188.2" cy="548.4" r="1.05"/><circle cx="195.0" cy="554.1" r="1.05"/><circle cx="181.4" cy="533.6" r="1.05"/><circle cx="192.5" cy="551.7" r="1.05"/><circle cx="188.7" cy="546.2" r="1.05"/><circle cx="190.0" cy="522.7" r="1.05"/><circle cx="189.3" cy="451.8" r="1.05"/><circle cx="177.2" cy="537.6" r="1.05"/><circle cx="208.8" cy="528.6" r="1.05"/><circle cx="186.9" cy="512.7" r="1.05"/><circle cx="203.6" cy="534.3" r="1.05"/><circle cx="211.0" cy="528.3" r="1.05"/><circle cx="189.8" cy="470.7" r="1.05"/><circle cx="188.6" cy="528.6" r="1.05"/><circle cx="200.9" cy="533.1" r="1.05"/><circle cx="211.0" cy="472.3" r="1.05"/><circle cx="195.5" cy="527.3" r="1.05"/><circle cx="199.8" cy="517.6" r="1.05"/><circle cx="179.6" cy="544.6" r="1.05"/><circle cx="187.2" cy="576.6" r="1.05"/><circle cx="192.6" cy="476.9" r="1.05"/><circle cx="200.1" cy="543.3" r="1.05"/><circle cx="189.8" cy="552.2" r="1.05"/><circle cx="203.2" cy="521.6" r="1.05"/><circle cx="207.0" cy="542.9" r="1.05"/><circle cx="184.8" cy="498.5" r="1.05"/><circle cx="195.3" cy="525.2" r="1.05"/><circle cx="179.3" cy="510.6" r="1.05"/><circle cx="187.6" cy="524.9" r="1.05"/><circle cx="197.2" cy="574.2" r="1.05"/><circle cx="206.7" cy="581.6" r="1.05"/><circle cx="182.7" cy="548.5" r="1.05"/><circle cx="205.6" cy="534.5" r="1.05"/><circle cx="200.3" cy="527.8" r="1.05"/><circle cx="206.4" cy="469.4" r="1.05"/><circle cx="178.0" cy="535.8" r="1.05"/><circle cx="194.9" cy="510.5" r="1.05"/><circle cx="180.9" cy="522.5" r="1.05"/><circle cx="204.6" cy="545.3" r="1.05"/><circle cx="201.0" cy="554.2" r="1.05"/><circle cx="184.2" cy="523.9" r="1.05"/><circle cx="212.7" cy="488.6" r="1.05"/><circle cx="209.2" cy="528.4" r="1.05"/><circle cx="190.2" cy="541.2" r="1.05"/><circle cx="183.6" cy="526.9" r="1.05"/><circle cx="204.6" cy="568.1" r="1.05"/><circle cx="188.2" cy="550.3" r="1.05"/><circle cx="207.9" cy="531.0" r="1.05"/><circle cx="185.9" cy="559.1" r="1.05"/><circle cx="207.6" cy="520.2" r="1.05"/><circle cx="188.8" cy="492.0" r="1.05"/><circle cx="197.6" cy="498.4" r="1.05"/><circle cx="187.3" cy="544.8" r="1.05"/><circle cx="198.8" cy="512.5" r="1.05"/><circle cx="177.7" cy="556.0" r="1.05"/><circle cx="189.1" cy="508.2" r="1.05"/><circle cx="188.8" cy="543.1" r="1.05"/><circle cx="197.7" cy="580.1" r="1.05"/><circle cx="205.7" cy="563.4" r="1.05"/><circle cx="194.1" cy="512.4" r="1.05"/><circle cx="211.3" cy="506.9" r="1.05"/><circle cx="181.3" cy="533.8" r="1.05"/><circle cx="203.1" cy="554.4" r="1.05"/><circle cx="190.4" cy="503.9" r="1.05"/><circle cx="183.5" cy="563.8" r="1.05"/><circle cx="188.1" cy="519.9" r="1.05"/><circle cx="189.6" cy="544.3" r="1.05"/><circle cx="193.8" cy="531.5" r="1.05"/><circle cx="193.9" cy="491.4" r="1.05"/><circle cx="205.3" cy="487.3" r="1.05"/><circle cx="205.3" cy="537.5" r="1.05"/><circle cx="190.5" cy="536.9" r="1.05"/><circle cx="204.4" cy="528.9" r="1.05"/><circle cx="197.9" cy="543.5" r="1.05"/><circle cx="176.8" cy="525.9" r="1.05"/><circle cx="206.6" cy="549.1" r="1.05"/><circle cx="208.8" cy="561.9" r="1.05"/><circle cx="199.6" cy="518.5" r="1.05"/><circle cx="194.5" cy="499.2" r="1.05"/><circle cx="209.7" cy="544.0" r="1.05"/><circle cx="212.4" cy="508.0" r="1.05"/><circle cx="197.4" cy="571.0" r="1.05"/><circle cx="177.6" cy="515.0" r="1.05"/><circle cx="194.9" cy="525.7" r="1.05"/><circle cx="183.1" cy="525.4" r="1.05"/><circle cx="193.1" cy="562.5" r="1.05"/><circle cx="198.1" cy="524.1" r="1.05"/><circle cx="183.8" cy="535.2" r="1.05"/><circle cx="177.9" cy="554.8" r="1.05"/><circle cx="194.1" cy="504.9" r="1.05"/><circle cx="201.1" cy="526.2" r="1.05"/><circle cx="195.2" cy="562.7" r="1.05"/><circle cx="206.2" cy="524.1" r="1.05"/><circle cx="213.0" cy="485.6" r="1.05"/><circle cx="212.1" cy="514.9" r="1.05"/><circle cx="188.1" cy="527.5" r="1.05"/><circle cx="192.4" cy="501.9" r="1.05"/><circle cx="197.2" cy="562.1" r="1.05"/><circle cx="183.7" cy="545.0" r="1.05"/><circle cx="210.8" cy="516.6" r="1.05"/><circle cx="204.4" cy="512.2" r="1.05"/><circle cx="211.8" cy="538.1" r="1.05"/><circle cx="190.0" cy="531.6" r="1.05"/><circle cx="194.4" cy="488.3" r="1.05"/><circle cx="195.1" cy="485.4" r="1.05"/><circle cx="179.4" cy="513.9" r="1.05"/><circle cx="185.2" cy="562.4" r="1.05"/><circle cx="200.2" cy="556.6" r="1.05"/><circle cx="210.3" cy="534.4" r="1.05"/><circle cx="177.9" cy="453.7" r="1.05"/><circle cx="188.1" cy="512.1" r="1.05"/><circle cx="194.7" cy="537.0" r="1.05"/><circle cx="190.9" cy="496.3" r="1.05"/><circle cx="185.4" cy="529.2" r="1.05"/><circle cx="182.0" cy="523.4" r="1.05"/><circle cx="187.2" cy="526.0" r="1.05"/><circle cx="177.7" cy="532.5" r="1.05"/><circle cx="186.1" cy="536.4" r="1.05"/><circle cx="177.9" cy="549.3" r="1.05"/><circle cx="208.6" cy="544.8" r="1.05"/><circle cx="199.8" cy="527.0" r="1.05"/><circle cx="194.2" cy="540.0" r="1.05"/><circle cx="187.6" cy="535.9" r="1.05"/><circle cx="201.0" cy="525.8" r="1.05"/><circle cx="188.4" cy="514.7" r="1.05"/><circle cx="207.0" cy="529.8" r="1.05"/><circle cx="207.3" cy="546.0" r="1.05"/><circle cx="184.3" cy="525.4" r="1.05"/><circle cx="194.9" cy="527.4" r="1.05"/><circle cx="189.2" cy="579.4" r="1.05"/><circle cx="212.5" cy="515.0" r="1.05"/><circle cx="184.4" cy="542.9" r="1.05"/><circle cx="177.0" cy="519.6" r="1.05"/><circle cx="183.9" cy="539.1" r="1.05"/><circle cx="210.9" cy="528.1" r="1.05"/><circle cx="198.8" cy="455.0" r="1.05"/><circle cx="203.1" cy="540.7" r="1.05"/><circle cx="193.9" cy="532.5" r="1.05"/><circle cx="202.0" cy="463.3" r="1.05"/><circle cx="191.6" cy="513.6" r="1.05"/><circle cx="195.2" cy="556.6" r="1.05"/><circle cx="200.0" cy="519.3" r="1.05"/><circle cx="205.4" cy="539.0" r="1.05"/><circle cx="210.9" cy="543.6" r="1.05"/><circle cx="199.5" cy="488.3" r="1.05"/><circle cx="206.5" cy="509.7" r="1.05"/><circle cx="181.6" cy="542.3" r="1.05"/><circle cx="183.2" cy="560.0" r="1.05"/><circle cx="209.8" cy="497.4" r="1.05"/><circle cx="177.9" cy="517.1" r="1.05"/><circle cx="192.8" cy="517.9" r="1.05"/><circle cx="184.6" cy="557.3" r="1.05"/><circle cx="196.0" cy="517.3" r="1.05"/><circle cx="186.9" cy="532.1" r="1.05"/><circle cx="209.5" cy="529.7" r="1.05"/><circle cx="179.4" cy="512.2" r="1.05"/><circle cx="206.5" cy="499.4" r="1.05"/><circle cx="211.4" cy="551.1" r="1.05"/><circle cx="190.7" cy="522.0" r="1.05"/><circle cx="205.8" cy="521.1" r="1.05"/><circle cx="198.7" cy="525.4" r="1.05"/><circle cx="184.0" cy="497.7" r="1.05"/><circle cx="195.0" cy="521.1" r="1.05"/><circle cx="180.3" cy="547.9" r="1.05"/><circle cx="187.1" cy="498.4" r="1.05"/><circle cx="178.3" cy="521.1" r="1.05"/><circle cx="182.3" cy="532.8" r="1.05"/><circle cx="208.8" cy="524.3" r="1.05"/><circle cx="194.6" cy="514.1" r="1.05"/><circle cx="208.0" cy="527.3" r="1.05"/><circle cx="192.8" cy="583.1" r="1.05"/><circle cx="187.1" cy="535.1" r="1.05"/><circle cx="193.9" cy="541.4" r="1.05"/><circle cx="189.1" cy="529.8" r="1.05"/><circle cx="212.2" cy="541.2" r="1.05"/><circle cx="176.8" cy="512.1" r="1.05"/><circle cx="182.9" cy="515.5" r="1.05"/><circle cx="183.8" cy="566.0" r="1.05"/><circle cx="194.6" cy="536.0" r="1.05"/><circle cx="190.1" cy="553.7" r="1.05"/><circle cx="180.1" cy="536.6" r="1.05"/><circle cx="198.4" cy="557.9" r="1.05"/><circle cx="208.7" cy="554.7" r="1.05"/><circle cx="196.0" cy="502.9" r="1.05"/><circle cx="188.2" cy="504.9" r="1.05"/><circle cx="194.3" cy="547.0" r="1.05"/><circle cx="184.8" cy="545.8" r="1.05"/><circle cx="177.1" cy="527.4" r="1.05"/><circle cx="186.9" cy="522.3" r="1.05"/><circle cx="189.9" cy="556.7" r="1.05"/><circle cx="204.7" cy="550.3" r="1.05"/><circle cx="190.9" cy="560.7" r="1.05"/><circle cx="208.4" cy="574.0" r="1.05"/><circle cx="179.9" cy="545.4" r="1.05"/><circle cx="187.3" cy="524.4" r="1.05"/><circle cx="182.1" cy="560.5" r="1.05"/><circle cx="205.1" cy="481.8" r="1.05"/><circle cx="181.8" cy="531.4" r="1.05"/><circle cx="196.7" cy="508.3" r="1.05"/><circle cx="194.5" cy="540.9" r="1.05"/><circle cx="203.1" cy="576.6" r="1.05"/><circle cx="195.3" cy="542.2" r="1.05"/><circle cx="186.3" cy="519.0" r="1.05"/><circle cx="211.2" cy="503.7" r="1.05"/><circle cx="193.7" cy="552.7" r="1.05"/><circle cx="181.7" cy="440.3" r="1.05"/><circle cx="196.0" cy="535.2" r="1.05"/><circle cx="194.8" cy="508.2" r="1.05"/><circle cx="179.1" cy="550.5" r="1.05"/><circle cx="177.0" cy="540.5" r="1.05"/><circle cx="194.2" cy="524.2" r="1.05"/><circle cx="202.5" cy="526.4" r="1.05"/><circle cx="189.0" cy="513.6" r="1.05"/><circle cx="199.7" cy="575.9" r="1.05"/><circle cx="185.2" cy="542.0" r="1.05"/><circle cx="202.8" cy="536.2" r="1.05"/><circle cx="205.4" cy="530.5" r="1.05"/><circle cx="195.6" cy="541.3" r="1.05"/><circle cx="210.1" cy="529.9" r="1.05"/><circle cx="190.9" cy="490.0" r="1.05"/><circle cx="189.7" cy="534.3" r="1.05"/><circle cx="175.9" cy="522.6" r="1.05"/><circle cx="189.7" cy="483.9" r="1.05"/><circle cx="204.2" cy="532.2" r="1.05"/><circle cx="204.5" cy="524.0" r="1.05"/><circle cx="191.7" cy="501.7" r="1.05"/><circle cx="192.2" cy="565.8" r="1.05"/><circle cx="198.3" cy="516.7" r="1.05"/><circle cx="177.6" cy="531.8" r="1.05"/><circle cx="195.1" cy="543.5" r="1.05"/><circle cx="207.3" cy="540.8" r="1.05"/><circle cx="180.3" cy="512.8" r="1.05"/><circle cx="178.4" cy="521.4" r="1.05"/><circle cx="194.2" cy="564.0" r="1.05"/><circle cx="198.5" cy="548.6" r="1.05"/><circle cx="189.7" cy="544.9" r="1.05"/><circle cx="191.2" cy="561.7" r="1.05"/><circle cx="210.7" cy="563.3" r="1.05"/><circle cx="212.8" cy="547.3" r="1.05"/><circle cx="212.4" cy="514.7" r="1.05"/><circle cx="182.0" cy="545.9" r="1.05"/><circle cx="187.5" cy="559.8" r="1.05"/><circle cx="185.4" cy="542.7" r="1.05"/><circle cx="209.6" cy="497.0" r="1.05"/><circle cx="198.7" cy="533.3" r="1.05"/><circle cx="196.4" cy="567.8" r="1.05"/><circle cx="178.8" cy="533.9" r="1.05"/><circle cx="205.4" cy="549.3" r="1.05"/><circle cx="212.2" cy="576.9" r="1.05"/><circle cx="184.1" cy="546.8" r="1.05"/><circle cx="186.4" cy="542.1" r="1.05"/><circle cx="175.9" cy="587.4" r="1.05"/><circle cx="207.2" cy="520.7" r="1.05"/><circle cx="184.4" cy="510.4" r="1.05"/><circle cx="181.9" cy="546.7" r="1.05"/><circle cx="208.2" cy="522.3" r="1.05"/><circle cx="200.9" cy="528.2" r="1.05"/><circle cx="192.2" cy="536.7" r="1.05"/><circle cx="184.6" cy="546.1" r="1.05"/><circle cx="211.5" cy="507.2" r="1.05"/><circle cx="188.4" cy="530.5" r="1.05"/><circle cx="203.3" cy="501.0" r="1.05"/><circle cx="199.6" cy="523.6" r="1.05"/><circle cx="190.1" cy="536.6" r="1.05"/><circle cx="212.1" cy="460.4" r="1.05"/><circle cx="191.1" cy="540.3" r="1.05"/><circle cx="185.2" cy="527.7" r="1.05"/><circle cx="184.0" cy="523.5" r="1.05"/><circle cx="176.8" cy="536.0" r="1.05"/><circle cx="192.5" cy="505.6" r="1.05"/><circle cx="210.5" cy="523.3" r="1.05"/><circle cx="202.9" cy="512.2" r="1.05"/><circle cx="188.5" cy="551.2" r="1.05"/><circle cx="186.9" cy="492.0" r="1.05"/><circle cx="205.7" cy="481.6" r="1.05"/><circle cx="206.4" cy="509.6" r="1.05"/><circle cx="187.2" cy="538.1" r="1.05"/><circle cx="184.9" cy="512.0" r="1.05"/><circle cx="185.4" cy="445.7" r="1.05"/><circle cx="206.0" cy="478.6" r="1.05"/><circle cx="193.5" cy="557.9" r="1.05"/><circle cx="200.9" cy="528.2" r="1.05"/><circle cx="201.0" cy="525.2" r="1.05"/><circle cx="205.6" cy="520.4" r="1.05"/><circle cx="195.9" cy="499.2" r="1.05"/><circle cx="176.4" cy="528.4" r="1.05"/><circle cx="200.4" cy="504.5" r="1.05"/><circle cx="184.6" cy="504.4" r="1.05"/><circle cx="207.6" cy="516.8" r="1.05"/><circle cx="197.5" cy="532.2" r="1.05"/><circle cx="201.4" cy="538.3" r="1.05"/><circle cx="201.3" cy="502.0" r="1.05"/><circle cx="207.5" cy="516.2" r="1.05"/><circle cx="206.2" cy="548.9" r="1.05"/><circle cx="210.0" cy="555.3" r="1.05"/><circle cx="206.5" cy="554.3" r="1.05"/><circle cx="185.1" cy="492.5" r="1.05"/><circle cx="203.5" cy="568.2" r="1.05"/><circle cx="188.7" cy="520.0" r="1.05"/><circle cx="203.8" cy="538.9" r="1.05"/><circle cx="196.5" cy="525.4" r="1.05"/><circle cx="197.1" cy="546.5" r="1.05"/><circle cx="179.0" cy="543.9" r="1.05"/><circle cx="182.4" cy="513.8" r="1.05"/><circle cx="180.3" cy="507.2" r="1.05"/><circle cx="179.2" cy="562.4" r="1.05"/><circle cx="208.1" cy="488.9" r="1.05"/><circle cx="209.7" cy="518.0" r="1.05"/><circle cx="188.7" cy="535.9" r="1.05"/><circle cx="192.6" cy="562.2" r="1.05"/><circle cx="197.1" cy="530.1" r="1.05"/><circle cx="201.6" cy="553.8" r="1.05"/><circle cx="178.7" cy="510.7" r="1.05"/><circle cx="212.1" cy="530.4" r="1.05"/><circle cx="176.6" cy="526.3" r="1.05"/><circle cx="179.8" cy="545.3" r="1.05"/><circle cx="202.7" cy="482.5" r="1.05"/><circle cx="187.9" cy="537.9" r="1.05"/><circle cx="199.5" cy="519.7" r="1.05"/><circle cx="196.5" cy="531.0" r="1.05"/><circle cx="193.6" cy="555.3" r="1.05"/><circle cx="195.0" cy="541.1" r="1.05"/><circle cx="206.1" cy="523.8" r="1.05"/><circle cx="190.7" cy="525.9" r="1.05"/><circle cx="204.3" cy="518.9" r="1.05"/><circle cx="197.6" cy="571.2" r="1.05"/><circle cx="208.8" cy="566.5" r="1.05"/><circle cx="179.5" cy="543.6" r="1.05"/><circle cx="186.6" cy="538.2" r="1.05"/><circle cx="176.4" cy="510.9" r="1.05"/><circle cx="176.6" cy="545.5" r="1.05"/><circle cx="195.9" cy="482.7" r="1.05"/><circle cx="192.6" cy="511.9" r="1.05"/><circle cx="182.4" cy="553.0" r="1.05"/><circle cx="181.3" cy="563.8" r="1.05"/><circle cx="183.0" cy="559.8" r="1.05"/><circle cx="209.0" cy="492.5" r="1.05"/><circle cx="196.6" cy="534.0" r="1.05"/><circle cx="191.2" cy="527.8" r="1.05"/><circle cx="196.9" cy="503.9" r="1.05"/><circle cx="191.8" cy="516.5" r="1.05"/><circle cx="194.0" cy="533.2" r="1.05"/><circle cx="178.3" cy="510.5" r="1.05"/><circle cx="212.5" cy="484.1" r="1.05"/><circle cx="197.5" cy="531.3" r="1.05"/><circle cx="202.7" cy="488.0" r="1.05"/><circle cx="209.3" cy="520.2" r="1.05"/><circle cx="179.3" cy="552.1" r="1.05"/><circle cx="177.8" cy="568.3" r="1.05"/><circle cx="183.9" cy="555.6" r="1.05"/><circle cx="181.9" cy="537.7" r="1.05"/><circle cx="182.8" cy="537.2" r="1.05"/><circle cx="190.3" cy="540.4" r="1.05"/><circle cx="206.7" cy="447.1" r="1.05"/><circle cx="197.8" cy="522.3" r="1.05"/><circle cx="202.6" cy="541.0" r="1.05"/><circle cx="194.2" cy="506.6" r="1.05"/><circle cx="210.3" cy="521.3" r="1.05"/><circle cx="208.6" cy="513.0" r="1.05"/><circle cx="180.4" cy="517.1" r="1.05"/><circle cx="200.8" cy="495.8" r="1.05"/><circle cx="211.3" cy="554.3" r="1.05"/><circle cx="206.3" cy="546.0" r="1.05"/><circle cx="196.2" cy="466.9" r="1.05"/><circle cx="190.4" cy="537.2" r="1.05"/><circle cx="178.9" cy="539.2" r="1.05"/><circle cx="185.7" cy="519.9" r="1.05"/><circle cx="178.9" cy="588.3" r="1.05"/><circle cx="178.1" cy="531.4" r="1.05"/><circle cx="204.8" cy="525.5" r="1.05"/><circle cx="194.5" cy="523.5" r="1.05"/><circle cx="189.3" cy="555.5" r="1.05"/><circle cx="202.2" cy="558.9" r="1.05"/><circle cx="187.5" cy="489.9" r="1.05"/><circle cx="209.9" cy="531.0" r="1.05"/><circle cx="184.2" cy="509.4" r="1.05"/><circle cx="183.0" cy="560.6" r="1.05"/><circle cx="183.8" cy="574.8" r="1.05"/><circle cx="211.4" cy="568.0" r="1.05"/><circle cx="208.7" cy="467.1" r="1.05"/><circle cx="183.1" cy="510.2" r="1.05"/><circle cx="210.4" cy="524.8" r="1.05"/><circle cx="176.8" cy="540.8" r="1.05"/><circle cx="201.7" cy="523.4" r="1.05"/><circle cx="192.8" cy="535.4" r="1.05"/><circle cx="184.0" cy="509.7" r="1.05"/><circle cx="197.9" cy="535.6" r="1.05"/><circle cx="183.9" cy="511.9" r="1.05"/><circle cx="195.3" cy="549.6" r="1.05"/><circle cx="203.5" cy="571.6" r="1.05"/><circle cx="191.3" cy="540.0" r="1.05"/><circle cx="209.4" cy="509.3" r="1.05"/><circle cx="209.1" cy="547.3" r="1.05"/><circle cx="182.4" cy="539.2" r="1.05"/><circle cx="183.4" cy="472.7" r="1.05"/><circle cx="175.9" cy="552.5" r="1.05"/><circle cx="188.8" cy="456.9" r="1.05"/><circle cx="178.3" cy="536.1" r="1.05"/><circle cx="186.9" cy="531.1" r="1.05"/><circle cx="180.1" cy="500.0" r="1.05"/><circle cx="193.6" cy="532.2" r="1.05"/><circle cx="185.2" cy="509.8" r="1.05"/><circle cx="210.3" cy="556.1" r="1.05"/><circle cx="205.5" cy="534.4" r="1.05"/><circle cx="188.9" cy="495.5" r="1.05"/><circle cx="195.7" cy="533.9" r="1.05"/><circle cx="178.7" cy="506.6" r="1.05"/><circle cx="177.8" cy="520.0" r="1.05"/><circle cx="206.3" cy="502.3" r="1.05"/><circle cx="178.8" cy="559.0" r="1.05"/><circle cx="189.3" cy="541.4" r="1.05"/><circle cx="184.4" cy="567.2" r="1.05"/><circle cx="183.4" cy="512.1" r="1.05"/><circle cx="183.7" cy="545.0" r="1.05"/><circle cx="183.8" cy="529.4" r="1.05"/><circle cx="210.6" cy="567.4" r="1.05"/><circle cx="184.5" cy="527.9" r="1.05"/><circle cx="200.0" cy="506.0" r="1.05"/><circle cx="184.5" cy="542.0" r="1.05"/><circle cx="210.5" cy="537.6" r="1.05"/><circle cx="209.1" cy="530.6" r="1.05"/><circle cx="194.7" cy="508.2" r="1.05"/><circle cx="211.0" cy="511.3" r="1.05"/><circle cx="202.8" cy="508.5" r="1.05"/><circle cx="209.2" cy="526.1" r="1.05"/><circle cx="195.2" cy="531.5" r="1.05"/><circle cx="178.5" cy="563.2" r="1.05"/><circle cx="178.4" cy="522.5" r="1.05"/><circle cx="207.1" cy="521.8" r="1.05"/><circle cx="211.6" cy="516.6" r="1.05"/><circle cx="191.2" cy="548.6" r="1.05"/><circle cx="208.9" cy="541.4" r="1.05"/><circle cx="209.6" cy="528.4" r="1.05"/><circle cx="187.3" cy="569.1" r="1.05"/><circle cx="204.0" cy="473.8" r="1.05"/><circle cx="204.8" cy="486.8" r="1.05"/><circle cx="200.6" cy="471.4" r="1.05"/><circle cx="184.2" cy="583.5" r="1.05"/><circle cx="177.5" cy="507.5" r="1.05"/><circle cx="188.0" cy="508.9" r="1.05"/><circle cx="185.6" cy="513.9" r="1.05"/><circle cx="195.1" cy="557.1" r="1.05"/><circle cx="188.8" cy="561.1" r="1.05"/><circle cx="190.6" cy="558.9" r="1.05"/><circle cx="187.3" cy="540.6" r="1.05"/><circle cx="180.7" cy="553.3" r="1.05"/><circle cx="186.0" cy="531.8" r="1.05"/><circle cx="200.6" cy="506.7" r="1.05"/><circle cx="186.1" cy="517.3" r="1.05"/><circle cx="209.1" cy="522.3" r="1.05"/><circle cx="208.3" cy="526.8" r="1.05"/><circle cx="192.8" cy="537.6" r="1.05"/><circle cx="186.6" cy="517.6" r="1.05"/><circle cx="200.1" cy="487.2" r="1.05"/><circle cx="208.9" cy="514.0" r="1.05"/><circle cx="206.2" cy="529.4" r="1.05"/><circle cx="183.4" cy="490.8" r="1.05"/><circle cx="183.5" cy="499.3" r="1.05"/><circle cx="177.3" cy="496.4" r="1.05"/><circle cx="210.9" cy="510.8" r="1.05"/><circle cx="186.0" cy="555.7" r="1.05"/><circle cx="190.3" cy="503.7" r="1.05"/><circle cx="204.3" cy="519.9" r="1.05"/><circle cx="186.4" cy="469.1" r="1.05"/><circle cx="202.6" cy="531.2" r="1.05"/><circle cx="176.1" cy="524.1" r="1.05"/><circle cx="190.8" cy="548.1" r="1.05"/><circle cx="176.5" cy="563.3" r="1.05"/><circle cx="206.3" cy="481.9" r="1.05"/><circle cx="186.2" cy="513.5" r="1.05"/><circle cx="206.1" cy="503.0" r="1.05"/><circle cx="203.9" cy="528.2" r="1.05"/><circle cx="179.7" cy="553.5" r="1.05"/></g><line x1="265.61" y1="443.6" x2="265.61" y2="560.2" stroke="#d8b888" stroke-width="0.8"/><rect x="245.71" y="492.5" width="39.8" height="49.9" fill="#FDB827" stroke="#E0901A" stroke-width="0.7"/><line x1="245.71" y1="520.5" x2="285.51" y2="520.5" stroke="#E0901A" stroke-width="0.9"/><g fill="#C8680F"><circle cx="272.6" cy="488.3" r="1.15"/><circle cx="273.1" cy="492.7" r="1.15"/><circle cx="276.5" cy="491.9" r="1.15"/><circle cx="265.2" cy="508.5" r="1.15"/><circle cx="267.8" cy="509.6" r="1.15"/><circle cx="270.9" cy="515.1" r="1.15"/><circle cx="252.4" cy="519.2" r="1.15"/><circle cx="253.8" cy="519.6" r="1.15"/><circle cx="268.7" cy="522.9" r="1.15"/><circle cx="280.3" cy="521.8" r="1.15"/><circle cx="248.8" cy="528.3" r="1.15"/><circle cx="270.7" cy="533.9" r="1.15"/><circle cx="258.8" cy="536.0" r="1.15"/><circle cx="252.9" cy="540.0" r="1.15"/><circle cx="268.5" cy="548.8" r="1.15"/><circle cx="264.3" cy="551.5" r="1.15"/><circle cx="260.2" cy="557.6" r="1.15"/><circle cx="261.0" cy="560.7" r="1.15"/><circle cx="277.6" cy="555.7" r="1.15"/><circle cx="278.7" cy="558.7" r="1.15"/><circle cx="248.0" cy="462.2" r="1.15"/><circle cx="271.6" cy="459.7" r="1.15"/></g><rect x="393.4" y="431.2" width="227.9" height="164.3" fill="none" stroke="#d6d6d6" stroke-width="0.9"/><line x1="391.8" y1="556" x2="393.4" y2="556" stroke="#777" stroke-width="0.8"/><text x="390.5" y="559.8" font-size="11.4" text-anchor="end" fill="#222">500</text><line x1="391.8" y1="512.3" x2="393.4" y2="512.3" stroke="#777" stroke-width="0.8"/><text x="390.5" y="516.1" font-size="11.4" text-anchor="end" fill="#222">1000</text><line x1="391.8" y1="468.4" x2="393.4" y2="468.4" stroke="#777" stroke-width="0.8"/><text x="390.5" y="472.2" font-size="11.4" text-anchor="end" fill="#222">1500</text><line x1="436.13" y1="595.5" x2="436.13" y2="597.1" stroke="#777" stroke-width="0.8"/><text x="436.13" y="607.4" font-size="12" text-anchor="middle" fill="#222">Normal</text><line x1="507.35" y1="595.5" x2="507.35" y2="597.1" stroke="#777" stroke-width="0.8"/><text x="507.35" y="607.4" font-size="12" text-anchor="middle" fill="#222">Tumor</text><line x1="578.57" y1="595.5" x2="578.57" y2="597.1" stroke="#777" stroke-width="0.8"/><text x="578.57" y="607.4" font-size="12" text-anchor="middle" fill="#222">Metastatic</text><text transform="translate(358.3,513.35) rotate(-90)" font-size="11.9" font-weight="bold" text-anchor="middle" fill="#000">INTS3 gene expression</text><text x="620.2" y="442.2" font-size="9.2" text-anchor="end" fill="#222">P = 2.79e-25</text><line x1="436.13" y1="509.4" x2="436.13" y2="581.3" stroke="#9fc48a" stroke-width="0.8"/><rect x="416.23" y="539.6" width="39.8" height="20.6" fill="#CCFF66" stroke="#5DBB3A" stroke-width="0.7"/><line x1="416.23" y1="549.6" x2="456.03" y2="549.6" stroke="#5DBB3A" stroke-width="0.9"/><g fill="#0a6b0a"><circle cx="442.3" cy="484.0" r="1.05"/><circle cx="420.6" cy="582.6" r="1.05"/><circle cx="451.5" cy="554.5" r="1.05"/><circle cx="453.7" cy="546.3" r="1.05"/><circle cx="451.9" cy="539.3" r="1.05"/><circle cx="420.4" cy="575.8" r="1.05"/><circle cx="425.4" cy="558.9" r="1.05"/><circle cx="429.2" cy="552.6" r="1.05"/><circle cx="423.9" cy="526.1" r="1.05"/><circle cx="427.0" cy="556.2" r="1.05"/><circle cx="421.0" cy="569.4" r="1.05"/><circle cx="439.4" cy="540.0" r="1.05"/><circle cx="450.1" cy="571.2" r="1.05"/><circle cx="429.9" cy="547.1" r="1.05"/><circle cx="448.7" cy="560.0" r="1.05"/><circle cx="449.9" cy="555.6" r="1.05"/><circle cx="438.9" cy="553.1" r="1.05"/><circle cx="449.8" cy="543.0" r="1.05"/><circle cx="426.9" cy="543.3" r="1.05"/><circle cx="440.3" cy="539.2" r="1.05"/><circle cx="441.6" cy="550.3" r="1.05"/><circle cx="417.5" cy="525.5" r="1.05"/><circle cx="454.4" cy="542.4" r="1.05"/><circle cx="427.1" cy="558.9" r="1.05"/><circle cx="436.8" cy="546.5" r="1.05"/><circle cx="447.1" cy="561.6" r="1.05"/><circle cx="435.3" cy="496.9" r="1.05"/><circle cx="422.1" cy="529.0" r="1.05"/><circle cx="454.5" cy="553.6" r="1.05"/><circle cx="450.0" cy="557.9" r="1.05"/><circle cx="435.9" cy="566.3" r="1.05"/><circle cx="429.5" cy="560.6" r="1.05"/><circle cx="417.5" cy="538.4" r="1.05"/><circle cx="429.1" cy="543.3" r="1.05"/><circle cx="454.2" cy="559.9" r="1.05"/><circle cx="445.8" cy="530.8" r="1.05"/><circle cx="422.9" cy="575.6" r="1.05"/><circle cx="441.7" cy="536.4" r="1.05"/><circle cx="420.6" cy="549.2" r="1.05"/><circle cx="435.8" cy="526.6" r="1.05"/><circle cx="453.2" cy="551.1" r="1.05"/><circle cx="418.3" cy="579.6" r="1.05"/><circle cx="436.2" cy="568.2" r="1.05"/><circle cx="453.7" cy="570.5" r="1.05"/><circle cx="421.0" cy="549.9" r="1.05"/><circle cx="434.2" cy="571.1" r="1.05"/><circle cx="447.5" cy="543.7" r="1.05"/><circle cx="449.0" cy="554.0" r="1.05"/><circle cx="437.5" cy="535.5" r="1.05"/><circle cx="439.1" cy="548.5" r="1.05"/><circle cx="437.7" cy="542.1" r="1.05"/><circle cx="442.6" cy="562.9" r="1.05"/><circle cx="454.1" cy="557.4" r="1.05"/><circle cx="442.1" cy="559.4" r="1.05"/><circle cx="425.8" cy="562.6" r="1.05"/><circle cx="426.1" cy="546.8" r="1.05"/><circle cx="435.8" cy="557.0" r="1.05"/><circle cx="442.4" cy="553.8" r="1.05"/><circle cx="447.2" cy="553.5" r="1.05"/><circle cx="427.6" cy="484.0" r="1.05"/><circle cx="424.5" cy="544.7" r="1.05"/><circle cx="420.7" cy="534.9" r="1.05"/><circle cx="445.9" cy="541.7" r="1.05"/><circle cx="418.5" cy="549.3" r="1.05"/><circle cx="417.7" cy="507.8" r="1.05"/><circle cx="433.9" cy="573.2" r="1.05"/><circle cx="447.7" cy="511.7" r="1.05"/><circle cx="454.2" cy="558.1" r="1.05"/><circle cx="427.4" cy="540.0" r="1.05"/><circle cx="430.5" cy="553.7" r="1.05"/><circle cx="421.4" cy="556.5" r="1.05"/><circle cx="422.3" cy="559.3" r="1.05"/><circle cx="424.7" cy="569.2" r="1.05"/><circle cx="447.2" cy="519.0" r="1.05"/><circle cx="444.0" cy="580.3" r="1.05"/><circle cx="443.6" cy="521.7" r="1.05"/><circle cx="446.4" cy="565.1" r="1.05"/><circle cx="424.9" cy="545.3" r="1.05"/><circle cx="453.8" cy="571.9" r="1.05"/><circle cx="437.3" cy="533.1" r="1.05"/><circle cx="427.3" cy="558.7" r="1.05"/><circle cx="447.6" cy="552.0" r="1.05"/><circle cx="426.7" cy="547.4" r="1.05"/><circle cx="418.0" cy="552.6" r="1.05"/><circle cx="445.9" cy="566.9" r="1.05"/><circle cx="422.2" cy="531.3" r="1.05"/><circle cx="454.6" cy="563.5" r="1.05"/><circle cx="448.9" cy="542.3" r="1.05"/><circle cx="429.9" cy="551.4" r="1.05"/><circle cx="453.7" cy="543.1" r="1.05"/><circle cx="439.6" cy="543.5" r="1.05"/><circle cx="437.8" cy="534.0" r="1.05"/><circle cx="428.0" cy="573.6" r="1.05"/><circle cx="451.2" cy="560.2" r="1.05"/><circle cx="440.4" cy="561.3" r="1.05"/><circle cx="428.2" cy="564.7" r="1.05"/><circle cx="429.1" cy="519.4" r="1.05"/><circle cx="428.6" cy="560.2" r="1.05"/><circle cx="429.7" cy="558.9" r="1.05"/><circle cx="452.6" cy="559.7" r="1.05"/><circle cx="439.0" cy="542.2" r="1.05"/><circle cx="440.9" cy="558.9" r="1.05"/><circle cx="445.3" cy="550.3" r="1.05"/><circle cx="419.7" cy="514.7" r="1.05"/><circle cx="440.0" cy="561.3" r="1.05"/><circle cx="446.8" cy="557.4" r="1.05"/><circle cx="420.4" cy="541.5" r="1.05"/><circle cx="452.3" cy="575.6" r="1.05"/><circle cx="435.8" cy="518.9" r="1.05"/><circle cx="418.0" cy="552.6" r="1.05"/><circle cx="453.9" cy="552.0" r="1.05"/><circle cx="432.7" cy="527.9" r="1.05"/><circle cx="448.4" cy="540.5" r="1.05"/><circle cx="454.1" cy="555.8" r="1.05"/><circle cx="418.6" cy="547.1" r="1.05"/><circle cx="427.6" cy="564.2" r="1.05"/><circle cx="435.8" cy="576.6" r="1.05"/><circle cx="428.6" cy="541.2" r="1.05"/><circle cx="444.1" cy="554.4" r="1.05"/><circle cx="431.0" cy="555.5" r="1.05"/><circle cx="435.3" cy="557.0" r="1.05"/><circle cx="432.8" cy="552.3" r="1.05"/><circle cx="446.6" cy="522.7" r="1.05"/><circle cx="437.7" cy="530.6" r="1.05"/><circle cx="431.8" cy="545.3" r="1.05"/><circle cx="450.1" cy="558.7" r="1.05"/><circle cx="433.9" cy="555.6" r="1.05"/><circle cx="454.6" cy="526.5" r="1.05"/><circle cx="422.2" cy="543.6" r="1.05"/><circle cx="420.8" cy="563.7" r="1.05"/><circle cx="443.5" cy="537.9" r="1.05"/><circle cx="450.7" cy="536.3" r="1.05"/><circle cx="419.2" cy="533.6" r="1.05"/><circle cx="430.2" cy="553.8" r="1.05"/><circle cx="444.7" cy="545.5" r="1.05"/><circle cx="444.4" cy="575.1" r="1.05"/><circle cx="438.2" cy="561.0" r="1.05"/><circle cx="443.1" cy="547.3" r="1.05"/><circle cx="450.1" cy="533.9" r="1.05"/><circle cx="439.1" cy="538.0" r="1.05"/><circle cx="431.6" cy="541.1" r="1.05"/><circle cx="425.1" cy="549.2" r="1.05"/><circle cx="429.9" cy="560.1" r="1.05"/><circle cx="448.1" cy="528.2" r="1.05"/><circle cx="449.6" cy="539.6" r="1.05"/><circle cx="431.0" cy="560.4" r="1.05"/><circle cx="426.2" cy="558.9" r="1.05"/><circle cx="454.1" cy="525.9" r="1.05"/><circle cx="419.4" cy="549.3" r="1.05"/><circle cx="431.9" cy="579.2" r="1.05"/><circle cx="432.6" cy="558.4" r="1.05"/><circle cx="443.6" cy="561.5" r="1.05"/><circle cx="418.8" cy="557.8" r="1.05"/><circle cx="442.9" cy="555.5" r="1.05"/><circle cx="418.8" cy="535.9" r="1.05"/><circle cx="425.1" cy="539.5" r="1.05"/><circle cx="434.0" cy="555.8" r="1.05"/><circle cx="446.1" cy="517.1" r="1.05"/><circle cx="424.6" cy="542.7" r="1.05"/><circle cx="441.9" cy="538.8" r="1.05"/><circle cx="418.2" cy="569.4" r="1.05"/><circle cx="423.2" cy="556.7" r="1.05"/><circle cx="428.9" cy="529.5" r="1.05"/><circle cx="420.2" cy="558.3" r="1.05"/><circle cx="447.7" cy="548.2" r="1.05"/><circle cx="439.0" cy="537.1" r="1.05"/><circle cx="448.5" cy="553.9" r="1.05"/><circle cx="434.9" cy="563.3" r="1.05"/><circle cx="438.3" cy="516.7" r="1.05"/><circle cx="418.4" cy="514.7" r="1.05"/><circle cx="452.4" cy="544.2" r="1.05"/><circle cx="429.1" cy="542.0" r="1.05"/><circle cx="441.5" cy="532.1" r="1.05"/><circle cx="449.3" cy="559.8" r="1.05"/><circle cx="432.6" cy="569.4" r="1.05"/><circle cx="430.3" cy="567.7" r="1.05"/><circle cx="446.0" cy="567.3" r="1.05"/><circle cx="447.6" cy="556.9" r="1.05"/><circle cx="451.6" cy="515.0" r="1.05"/><circle cx="432.5" cy="573.8" r="1.05"/><circle cx="430.1" cy="558.3" r="1.05"/><circle cx="436.3" cy="529.4" r="1.05"/><circle cx="439.7" cy="543.3" r="1.05"/><circle cx="442.6" cy="556.5" r="1.05"/><circle cx="448.5" cy="558.5" r="1.05"/><circle cx="441.0" cy="548.7" r="1.05"/><circle cx="426.8" cy="563.9" r="1.05"/><circle cx="446.4" cy="563.9" r="1.05"/><circle cx="446.5" cy="545.9" r="1.05"/><circle cx="448.8" cy="558.8" r="1.05"/><circle cx="421.1" cy="532.3" r="1.05"/><circle cx="432.4" cy="528.4" r="1.05"/><circle cx="449.4" cy="559.4" r="1.05"/><circle cx="432.0" cy="549.3" r="1.05"/><circle cx="423.4" cy="552.5" r="1.05"/><circle cx="418.7" cy="554.9" r="1.05"/><circle cx="443.8" cy="564.8" r="1.05"/><circle cx="418.5" cy="520.3" r="1.05"/><circle cx="430.3" cy="560.2" r="1.05"/><circle cx="434.6" cy="568.0" r="1.05"/><circle cx="423.7" cy="522.6" r="1.05"/><circle cx="434.5" cy="577.8" r="1.05"/><circle cx="445.0" cy="553.6" r="1.05"/><circle cx="420.0" cy="565.5" r="1.05"/><circle cx="429.5" cy="568.5" r="1.05"/><circle cx="442.4" cy="550.8" r="1.05"/><circle cx="440.6" cy="580.2" r="1.05"/><circle cx="438.5" cy="561.2" r="1.05"/><circle cx="428.0" cy="559.0" r="1.05"/><circle cx="430.7" cy="545.0" r="1.05"/><circle cx="452.4" cy="577.1" r="1.05"/><circle cx="435.5" cy="577.7" r="1.05"/><circle cx="428.2" cy="525.7" r="1.05"/><circle cx="435.0" cy="559.0" r="1.05"/><circle cx="421.7" cy="527.6" r="1.05"/><circle cx="438.8" cy="563.3" r="1.05"/><circle cx="452.7" cy="552.3" r="1.05"/><circle cx="441.8" cy="543.6" r="1.05"/><circle cx="417.5" cy="565.9" r="1.05"/><circle cx="449.0" cy="519.4" r="1.05"/><circle cx="424.8" cy="530.2" r="1.05"/><circle cx="418.7" cy="559.0" r="1.05"/><circle cx="427.8" cy="572.5" r="1.05"/><circle cx="437.4" cy="558.4" r="1.05"/><circle cx="417.4" cy="531.6" r="1.05"/><circle cx="454.5" cy="541.6" r="1.05"/><circle cx="432.6" cy="561.0" r="1.05"/><circle cx="417.7" cy="563.6" r="1.05"/><circle cx="443.0" cy="568.3" r="1.05"/><circle cx="454.1" cy="581.9" r="1.05"/><circle cx="418.2" cy="543.2" r="1.05"/><circle cx="423.3" cy="520.9" r="1.05"/><circle cx="421.7" cy="567.0" r="1.05"/><circle cx="431.0" cy="556.7" r="1.05"/><circle cx="431.7" cy="566.8" r="1.05"/><circle cx="418.5" cy="557.2" r="1.05"/><circle cx="453.5" cy="569.8" r="1.05"/><circle cx="446.2" cy="582.4" r="1.05"/><circle cx="428.0" cy="539.6" r="1.05"/><circle cx="441.0" cy="530.3" r="1.05"/><circle cx="435.3" cy="551.9" r="1.05"/><circle cx="447.4" cy="543.4" r="1.05"/><circle cx="426.4" cy="553.0" r="1.05"/><circle cx="453.3" cy="536.8" r="1.05"/><circle cx="444.8" cy="575.9" r="1.05"/><circle cx="440.9" cy="560.7" r="1.05"/><circle cx="438.6" cy="540.1" r="1.05"/><circle cx="441.8" cy="536.4" r="1.05"/><circle cx="418.2" cy="544.4" r="1.05"/><circle cx="450.8" cy="546.2" r="1.05"/><circle cx="435.7" cy="534.3" r="1.05"/><circle cx="424.8" cy="561.9" r="1.05"/><circle cx="430.8" cy="533.2" r="1.05"/><circle cx="444.5" cy="528.9" r="1.05"/><circle cx="446.8" cy="562.6" r="1.05"/><circle cx="425.5" cy="558.0" r="1.05"/><circle cx="431.8" cy="540.5" r="1.05"/><circle cx="454.5" cy="545.0" r="1.05"/><circle cx="419.7" cy="533.6" r="1.05"/><circle cx="432.1" cy="552.0" r="1.05"/><circle cx="453.2" cy="550.0" r="1.05"/><circle cx="444.5" cy="567.3" r="1.05"/><circle cx="436.9" cy="564.2" r="1.05"/><circle cx="434.2" cy="547.8" r="1.05"/><circle cx="420.0" cy="556.0" r="1.05"/><circle cx="445.6" cy="518.2" r="1.05"/><circle cx="430.1" cy="552.6" r="1.05"/><circle cx="420.1" cy="493.3" r="1.05"/><circle cx="453.7" cy="549.5" r="1.05"/><circle cx="420.6" cy="561.2" r="1.05"/><circle cx="435.0" cy="567.6" r="1.05"/><circle cx="443.5" cy="541.0" r="1.05"/><circle cx="437.7" cy="568.9" r="1.05"/><circle cx="432.2" cy="535.5" r="1.05"/><circle cx="445.1" cy="569.1" r="1.05"/><circle cx="426.5" cy="551.6" r="1.05"/><circle cx="443.7" cy="552.1" r="1.05"/><circle cx="433.1" cy="569.6" r="1.05"/><circle cx="453.6" cy="539.9" r="1.05"/><circle cx="449.4" cy="525.9" r="1.05"/><circle cx="425.7" cy="519.2" r="1.05"/><circle cx="450.9" cy="534.8" r="1.05"/><circle cx="434.0" cy="553.2" r="1.05"/><circle cx="430.1" cy="535.4" r="1.05"/><circle cx="422.9" cy="554.0" r="1.05"/><circle cx="423.9" cy="562.7" r="1.05"/><circle cx="418.7" cy="534.3" r="1.05"/><circle cx="425.6" cy="516.6" r="1.05"/><circle cx="431.9" cy="556.1" r="1.05"/><circle cx="443.0" cy="552.0" r="1.05"/><circle cx="451.4" cy="543.7" r="1.05"/><circle cx="443.3" cy="559.3" r="1.05"/><circle cx="453.5" cy="514.3" r="1.05"/><circle cx="452.9" cy="553.0" r="1.05"/><circle cx="450.0" cy="542.7" r="1.05"/><circle cx="428.2" cy="527.0" r="1.05"/><circle cx="419.0" cy="527.7" r="1.05"/><circle cx="439.6" cy="552.6" r="1.05"/><circle cx="431.1" cy="538.1" r="1.05"/><circle cx="454.2" cy="526.2" r="1.05"/><circle cx="418.3" cy="539.0" r="1.05"/><circle cx="452.9" cy="554.6" r="1.05"/><circle cx="427.9" cy="569.5" r="1.05"/><circle cx="442.9" cy="553.8" r="1.05"/><circle cx="444.7" cy="566.8" r="1.05"/><circle cx="435.4" cy="567.1" r="1.05"/><circle cx="446.4" cy="576.0" r="1.05"/><circle cx="448.9" cy="531.4" r="1.05"/><circle cx="422.0" cy="570.6" r="1.05"/><circle cx="448.0" cy="573.5" r="1.05"/><circle cx="454.4" cy="541.4" r="1.05"/><circle cx="448.3" cy="545.1" r="1.05"/><circle cx="439.6" cy="542.1" r="1.05"/><circle cx="439.8" cy="540.3" r="1.05"/><circle cx="421.0" cy="544.8" r="1.05"/><circle cx="438.4" cy="544.1" r="1.05"/><circle cx="428.5" cy="526.2" r="1.05"/><circle cx="426.1" cy="562.1" r="1.05"/><circle cx="452.3" cy="537.9" r="1.05"/><circle cx="427.0" cy="521.4" r="1.05"/><circle cx="424.8" cy="541.7" r="1.05"/><circle cx="449.6" cy="539.1" r="1.05"/><circle cx="437.5" cy="527.6" r="1.05"/><circle cx="450.3" cy="532.4" r="1.05"/><circle cx="423.9" cy="560.1" r="1.05"/><circle cx="451.2" cy="558.7" r="1.05"/><circle cx="433.1" cy="566.8" r="1.05"/><circle cx="450.6" cy="530.4" r="1.05"/><circle cx="440.3" cy="569.1" r="1.05"/><circle cx="430.1" cy="573.2" r="1.05"/><circle cx="430.7" cy="539.9" r="1.05"/><circle cx="421.5" cy="499.5" r="1.05"/><circle cx="438.1" cy="562.1" r="1.05"/><circle cx="420.1" cy="551.5" r="1.05"/><circle cx="451.4" cy="572.0" r="1.05"/><circle cx="427.0" cy="550.2" r="1.05"/><circle cx="429.3" cy="552.5" r="1.05"/><circle cx="431.8" cy="564.5" r="1.05"/><circle cx="435.3" cy="541.6" r="1.05"/><circle cx="452.1" cy="560.4" r="1.05"/><circle cx="420.3" cy="560.9" r="1.05"/><circle cx="430.6" cy="543.2" r="1.05"/><circle cx="437.7" cy="526.9" r="1.05"/><circle cx="436.7" cy="537.8" r="1.05"/><circle cx="450.2" cy="555.4" r="1.05"/><circle cx="437.7" cy="546.8" r="1.05"/><circle cx="442.4" cy="563.3" r="1.05"/><circle cx="442.5" cy="557.6" r="1.05"/><circle cx="431.3" cy="559.9" r="1.05"/><circle cx="434.0" cy="556.6" r="1.05"/><circle cx="425.2" cy="550.3" r="1.05"/><circle cx="421.6" cy="552.6" r="1.05"/><circle cx="453.4" cy="555.9" r="1.05"/><circle cx="442.7" cy="560.9" r="1.05"/><circle cx="421.7" cy="497.3" r="1.05"/><circle cx="449.1" cy="552.9" r="1.05"/><circle cx="432.7" cy="538.5" r="1.05"/><circle cx="432.9" cy="537.1" r="1.05"/><circle cx="447.0" cy="568.7" r="1.05"/><circle cx="428.5" cy="559.4" r="1.05"/><circle cx="443.0" cy="554.0" r="1.05"/><circle cx="446.7" cy="581.0" r="1.05"/><circle cx="442.5" cy="539.5" r="1.05"/><circle cx="423.6" cy="508.5" r="1.05"/><circle cx="421.9" cy="566.7" r="1.05"/><circle cx="445.6" cy="546.1" r="1.05"/><circle cx="440.2" cy="554.5" r="1.05"/><circle cx="431.0" cy="540.5" r="1.05"/><circle cx="452.6" cy="569.6" r="1.05"/><circle cx="438.1" cy="537.7" r="1.05"/><circle cx="454.5" cy="545.1" r="1.05"/><circle cx="424.2" cy="533.6" r="1.05"/><circle cx="448.5" cy="570.1" r="1.05"/><circle cx="454.3" cy="549.5" r="1.05"/><circle cx="423.7" cy="514.8" r="1.05"/><circle cx="424.9" cy="546.7" r="1.05"/><circle cx="435.1" cy="536.2" r="1.05"/><circle cx="429.3" cy="553.8" r="1.05"/><circle cx="439.4" cy="548.4" r="1.05"/><circle cx="421.3" cy="550.5" r="1.05"/><circle cx="418.7" cy="488.8" r="1.05"/><circle cx="420.9" cy="545.1" r="1.05"/><circle cx="421.5" cy="546.0" r="1.05"/><circle cx="430.1" cy="549.6" r="1.05"/><circle cx="447.0" cy="517.4" r="1.05"/><circle cx="439.2" cy="526.1" r="1.05"/><circle cx="423.5" cy="564.3" r="1.05"/><circle cx="439.8" cy="539.8" r="1.05"/><circle cx="454.3" cy="552.2" r="1.05"/><circle cx="453.5" cy="537.0" r="1.05"/><circle cx="422.5" cy="551.9" r="1.05"/><circle cx="443.6" cy="568.9" r="1.05"/><circle cx="420.5" cy="566.4" r="1.05"/><circle cx="449.8" cy="539.0" r="1.05"/><circle cx="429.5" cy="545.6" r="1.05"/><circle cx="441.1" cy="563.4" r="1.05"/><circle cx="451.7" cy="551.2" r="1.05"/><circle cx="434.2" cy="568.8" r="1.05"/><circle cx="429.3" cy="582.3" r="1.05"/><circle cx="419.5" cy="545.9" r="1.05"/><circle cx="429.0" cy="454.7" r="1.05"/></g><line x1="507.35" y1="458.9" x2="507.35" y2="587.6" stroke="#f08070" stroke-width="0.8"/><rect x="487.45" y="515.8" width="39.8" height="35.9" fill="#FF8566" stroke="#F26450" stroke-width="0.7"/><line x1="487.45" y1="533" x2="527.25" y2="533" stroke="#F26450" stroke-width="0.9"/><g fill="#FF0000"><circle cx="494.5" cy="440.4" r="1.05"/><circle cx="501.8" cy="589.0" r="1.05"/><circle cx="502.2" cy="515.3" r="1.05"/><circle cx="525.8" cy="520.6" r="1.05"/><circle cx="504.3" cy="539.3" r="1.05"/><circle cx="497.9" cy="547.4" r="1.05"/><circle cx="496.5" cy="552.9" r="1.05"/><circle cx="497.6" cy="539.7" r="1.05"/><circle cx="511.0" cy="573.8" r="1.05"/><circle cx="489.4" cy="524.6" r="1.05"/><circle cx="498.3" cy="514.8" r="1.05"/><circle cx="520.0" cy="469.1" r="1.05"/><circle cx="492.2" cy="550.2" r="1.05"/><circle cx="521.2" cy="552.3" r="1.05"/><circle cx="503.0" cy="547.7" r="1.05"/><circle cx="516.6" cy="585.7" r="1.05"/><circle cx="509.1" cy="543.3" r="1.05"/><circle cx="489.3" cy="514.2" r="1.05"/><circle cx="524.1" cy="505.1" r="1.05"/><circle cx="497.2" cy="533.6" r="1.05"/><circle cx="492.8" cy="534.2" r="1.05"/><circle cx="503.0" cy="467.0" r="1.05"/><circle cx="523.0" cy="546.3" r="1.05"/><circle cx="505.1" cy="520.9" r="1.05"/><circle cx="518.2" cy="520.9" r="1.05"/><circle cx="500.7" cy="530.8" r="1.05"/><circle cx="500.2" cy="482.1" r="1.05"/><circle cx="490.9" cy="528.8" r="1.05"/><circle cx="496.9" cy="469.9" r="1.05"/><circle cx="524.4" cy="549.4" r="1.05"/><circle cx="504.7" cy="538.8" r="1.05"/><circle cx="520.9" cy="559.5" r="1.05"/><circle cx="491.3" cy="465.1" r="1.05"/><circle cx="513.4" cy="517.8" r="1.05"/><circle cx="509.6" cy="480.1" r="1.05"/><circle cx="496.7" cy="506.9" r="1.05"/><circle cx="518.6" cy="528.6" r="1.05"/><circle cx="510.5" cy="550.3" r="1.05"/><circle cx="502.6" cy="560.2" r="1.05"/><circle cx="504.1" cy="528.3" r="1.05"/><circle cx="498.9" cy="530.7" r="1.05"/><circle cx="506.8" cy="499.7" r="1.05"/><circle cx="521.1" cy="560.8" r="1.05"/><circle cx="513.0" cy="520.3" r="1.05"/><circle cx="508.8" cy="544.9" r="1.05"/><circle cx="492.7" cy="495.0" r="1.05"/><circle cx="490.5" cy="488.4" r="1.05"/><circle cx="496.5" cy="569.4" r="1.05"/><circle cx="509.7" cy="585.9" r="1.05"/><circle cx="503.3" cy="573.5" r="1.05"/><circle cx="518.8" cy="547.0" r="1.05"/><circle cx="496.7" cy="507.5" r="1.05"/><circle cx="524.7" cy="511.4" r="1.05"/><circle cx="490.7" cy="521.6" r="1.05"/><circle cx="513.8" cy="570.1" r="1.05"/><circle cx="506.5" cy="555.8" r="1.05"/><circle cx="520.6" cy="525.4" r="1.05"/><circle cx="491.6" cy="512.5" r="1.05"/><circle cx="518.2" cy="528.6" r="1.05"/><circle cx="516.4" cy="489.6" r="1.05"/><circle cx="508.7" cy="519.6" r="1.05"/><circle cx="517.0" cy="461.4" r="1.05"/><circle cx="513.5" cy="495.6" r="1.05"/><circle cx="510.2" cy="546.7" r="1.05"/><circle cx="500.7" cy="562.4" r="1.05"/><circle cx="520.3" cy="512.8" r="1.05"/><circle cx="498.0" cy="541.8" r="1.05"/><circle cx="509.1" cy="534.6" r="1.05"/><circle cx="488.6" cy="504.1" r="1.05"/><circle cx="495.5" cy="494.1" r="1.05"/><circle cx="496.5" cy="523.8" r="1.05"/><circle cx="523.0" cy="550.0" r="1.05"/><circle cx="494.0" cy="547.5" r="1.05"/><circle cx="518.3" cy="570.2" r="1.05"/><circle cx="495.7" cy="535.1" r="1.05"/><circle cx="510.0" cy="588.0" r="1.05"/><circle cx="510.8" cy="518.1" r="1.05"/><circle cx="516.7" cy="552.6" r="1.05"/><circle cx="521.6" cy="506.2" r="1.05"/><circle cx="491.2" cy="519.8" r="1.05"/><circle cx="500.4" cy="577.7" r="1.05"/><circle cx="510.9" cy="506.7" r="1.05"/><circle cx="519.8" cy="567.0" r="1.05"/><circle cx="514.6" cy="503.4" r="1.05"/><circle cx="524.4" cy="509.5" r="1.05"/><circle cx="505.9" cy="535.9" r="1.05"/><circle cx="518.6" cy="516.1" r="1.05"/><circle cx="502.3" cy="519.1" r="1.05"/><circle cx="525.7" cy="493.5" r="1.05"/><circle cx="493.6" cy="516.5" r="1.05"/><circle cx="522.3" cy="505.8" r="1.05"/><circle cx="495.6" cy="516.3" r="1.05"/><circle cx="510.0" cy="510.5" r="1.05"/><circle cx="522.4" cy="555.7" r="1.05"/><circle cx="516.7" cy="558.6" r="1.05"/><circle cx="523.4" cy="513.3" r="1.05"/><circle cx="518.4" cy="496.4" r="1.05"/><circle cx="516.0" cy="475.8" r="1.05"/><circle cx="525.2" cy="529.1" r="1.05"/><circle cx="515.6" cy="547.9" r="1.05"/><circle cx="518.4" cy="510.1" r="1.05"/><circle cx="489.6" cy="542.5" r="1.05"/><circle cx="523.6" cy="538.6" r="1.05"/><circle cx="523.2" cy="533.7" r="1.05"/><circle cx="504.0" cy="545.5" r="1.05"/><circle cx="491.8" cy="477.7" r="1.05"/><circle cx="505.8" cy="444.6" r="1.05"/><circle cx="501.5" cy="551.1" r="1.05"/><circle cx="496.3" cy="514.3" r="1.05"/><circle cx="514.9" cy="528.6" r="1.05"/><circle cx="511.6" cy="569.5" r="1.05"/><circle cx="511.4" cy="523.4" r="1.05"/><circle cx="525.0" cy="473.1" r="1.05"/><circle cx="496.2" cy="569.6" r="1.05"/><circle cx="522.0" cy="518.3" r="1.05"/><circle cx="512.9" cy="518.5" r="1.05"/><circle cx="498.4" cy="520.9" r="1.05"/><circle cx="525.5" cy="543.0" r="1.05"/><circle cx="510.8" cy="536.6" r="1.05"/><circle cx="489.0" cy="520.3" r="1.05"/><circle cx="490.8" cy="542.3" r="1.05"/><circle cx="510.4" cy="490.6" r="1.05"/><circle cx="525.5" cy="555.5" r="1.05"/><circle cx="490.5" cy="540.1" r="1.05"/><circle cx="490.7" cy="541.0" r="1.05"/><circle cx="515.5" cy="584.5" r="1.05"/><circle cx="512.0" cy="458.8" r="1.05"/><circle cx="519.4" cy="550.3" r="1.05"/><circle cx="490.5" cy="520.8" r="1.05"/><circle cx="508.7" cy="552.0" r="1.05"/><circle cx="504.2" cy="450.6" r="1.05"/><circle cx="497.3" cy="560.3" r="1.05"/><circle cx="523.0" cy="546.5" r="1.05"/><circle cx="522.0" cy="533.3" r="1.05"/><circle cx="513.1" cy="580.3" r="1.05"/><circle cx="519.5" cy="524.7" r="1.05"/><circle cx="518.7" cy="573.9" r="1.05"/><circle cx="509.3" cy="532.5" r="1.05"/><circle cx="524.6" cy="520.8" r="1.05"/><circle cx="490.8" cy="537.8" r="1.05"/><circle cx="522.0" cy="524.0" r="1.05"/><circle cx="504.1" cy="490.1" r="1.05"/><circle cx="499.4" cy="521.5" r="1.05"/><circle cx="507.9" cy="482.6" r="1.05"/><circle cx="522.2" cy="524.9" r="1.05"/><circle cx="512.8" cy="538.4" r="1.05"/><circle cx="516.2" cy="559.9" r="1.05"/><circle cx="514.1" cy="518.4" r="1.05"/><circle cx="501.5" cy="555.9" r="1.05"/><circle cx="518.2" cy="457.0" r="1.05"/><circle cx="510.9" cy="549.6" r="1.05"/><circle cx="493.8" cy="545.6" r="1.05"/><circle cx="495.0" cy="551.7" r="1.05"/><circle cx="492.6" cy="526.7" r="1.05"/><circle cx="504.9" cy="569.2" r="1.05"/><circle cx="494.5" cy="526.2" r="1.05"/><circle cx="510.0" cy="523.2" r="1.05"/><circle cx="492.8" cy="569.0" r="1.05"/><circle cx="517.3" cy="528.6" r="1.05"/><circle cx="521.1" cy="533.9" r="1.05"/><circle cx="519.0" cy="523.3" r="1.05"/><circle cx="499.0" cy="544.7" r="1.05"/><circle cx="514.6" cy="524.8" r="1.05"/><circle cx="502.0" cy="521.8" r="1.05"/><circle cx="503.0" cy="560.2" r="1.05"/><circle cx="494.0" cy="524.2" r="1.05"/><circle cx="518.3" cy="502.0" r="1.05"/><circle cx="505.0" cy="560.0" r="1.05"/><circle cx="496.0" cy="558.5" r="1.05"/><circle cx="499.1" cy="553.1" r="1.05"/><circle cx="496.5" cy="455.5" r="1.05"/><circle cx="507.6" cy="533.8" r="1.05"/><circle cx="520.5" cy="517.9" r="1.05"/><circle cx="526.1" cy="498.7" r="1.05"/><circle cx="508.0" cy="531.3" r="1.05"/><circle cx="494.3" cy="473.8" r="1.05"/><circle cx="518.8" cy="536.0" r="1.05"/><circle cx="518.9" cy="566.6" r="1.05"/><circle cx="492.3" cy="529.2" r="1.05"/><circle cx="514.2" cy="534.9" r="1.05"/><circle cx="511.3" cy="548.1" r="1.05"/><circle cx="509.8" cy="537.0" r="1.05"/><circle cx="492.6" cy="555.0" r="1.05"/><circle cx="522.4" cy="537.9" r="1.05"/><circle cx="508.2" cy="567.6" r="1.05"/><circle cx="507.8" cy="544.4" r="1.05"/><circle cx="496.8" cy="507.1" r="1.05"/><circle cx="498.9" cy="518.9" r="1.05"/><circle cx="510.8" cy="522.6" r="1.05"/><circle cx="497.8" cy="505.5" r="1.05"/><circle cx="513.5" cy="471.9" r="1.05"/><circle cx="517.0" cy="534.7" r="1.05"/><circle cx="525.2" cy="545.7" r="1.05"/><circle cx="515.8" cy="496.8" r="1.05"/><circle cx="507.1" cy="552.0" r="1.05"/><circle cx="516.9" cy="524.1" r="1.05"/><circle cx="502.4" cy="537.1" r="1.05"/><circle cx="524.4" cy="528.6" r="1.05"/><circle cx="502.9" cy="540.4" r="1.05"/><circle cx="498.9" cy="578.5" r="1.05"/><circle cx="522.8" cy="506.0" r="1.05"/><circle cx="513.2" cy="479.1" r="1.05"/><circle cx="494.3" cy="515.6" r="1.05"/><circle cx="500.5" cy="554.2" r="1.05"/><circle cx="499.7" cy="497.4" r="1.05"/><circle cx="489.5" cy="511.8" r="1.05"/><circle cx="489.9" cy="514.9" r="1.05"/><circle cx="523.3" cy="471.7" r="1.05"/><circle cx="511.1" cy="554.1" r="1.05"/><circle cx="493.6" cy="545.6" r="1.05"/><circle cx="506.8" cy="520.9" r="1.05"/><circle cx="520.1" cy="509.4" r="1.05"/><circle cx="494.9" cy="504.5" r="1.05"/><circle cx="498.6" cy="578.6" r="1.05"/><circle cx="507.2" cy="517.2" r="1.05"/><circle cx="504.3" cy="548.9" r="1.05"/><circle cx="525.9" cy="498.5" r="1.05"/><circle cx="502.5" cy="524.9" r="1.05"/><circle cx="511.3" cy="524.5" r="1.05"/><circle cx="492.6" cy="526.7" r="1.05"/><circle cx="496.9" cy="529.5" r="1.05"/><circle cx="521.7" cy="542.7" r="1.05"/><circle cx="497.5" cy="513.3" r="1.05"/><circle cx="488.8" cy="519.6" r="1.05"/><circle cx="516.9" cy="532.3" r="1.05"/><circle cx="524.7" cy="464.4" r="1.05"/><circle cx="500.6" cy="492.0" r="1.05"/><circle cx="499.6" cy="535.7" r="1.05"/><circle cx="507.4" cy="508.8" r="1.05"/><circle cx="507.5" cy="551.2" r="1.05"/><circle cx="502.9" cy="583.9" r="1.05"/><circle cx="513.9" cy="532.3" r="1.05"/><circle cx="519.4" cy="525.2" r="1.05"/><circle cx="488.7" cy="515.8" r="1.05"/><circle cx="503.8" cy="526.1" r="1.05"/><circle cx="507.6" cy="501.6" r="1.05"/><circle cx="519.6" cy="453.5" r="1.05"/><circle cx="491.1" cy="511.4" r="1.05"/><circle cx="525.0" cy="530.6" r="1.05"/><circle cx="501.0" cy="571.1" r="1.05"/><circle cx="492.0" cy="541.0" r="1.05"/><circle cx="502.9" cy="499.8" r="1.05"/><circle cx="491.0" cy="542.3" r="1.05"/><circle cx="501.0" cy="547.5" r="1.05"/><circle cx="489.6" cy="579.3" r="1.05"/><circle cx="500.8" cy="569.6" r="1.05"/><circle cx="503.6" cy="538.2" r="1.05"/><circle cx="513.2" cy="555.0" r="1.05"/><circle cx="522.4" cy="472.5" r="1.05"/><circle cx="509.7" cy="549.9" r="1.05"/><circle cx="519.3" cy="575.7" r="1.05"/><circle cx="496.7" cy="544.7" r="1.05"/><circle cx="494.9" cy="519.2" r="1.05"/><circle cx="519.6" cy="535.0" r="1.05"/><circle cx="518.5" cy="538.4" r="1.05"/><circle cx="505.0" cy="553.0" r="1.05"/><circle cx="517.6" cy="514.8" r="1.05"/><circle cx="490.6" cy="518.4" r="1.05"/><circle cx="520.5" cy="537.6" r="1.05"/><circle cx="498.6" cy="527.4" r="1.05"/><circle cx="505.4" cy="522.0" r="1.05"/><circle cx="491.8" cy="530.7" r="1.05"/><circle cx="521.0" cy="538.2" r="1.05"/><circle cx="520.5" cy="540.9" r="1.05"/><circle cx="491.2" cy="567.6" r="1.05"/><circle cx="511.4" cy="565.4" r="1.05"/><circle cx="496.9" cy="543.0" r="1.05"/><circle cx="505.6" cy="513.6" r="1.05"/><circle cx="509.4" cy="524.4" r="1.05"/><circle cx="524.5" cy="552.6" r="1.05"/><circle cx="505.8" cy="516.6" r="1.05"/><circle cx="492.9" cy="525.4" r="1.05"/><circle cx="505.0" cy="532.6" r="1.05"/><circle cx="509.7" cy="509.5" r="1.05"/><circle cx="488.8" cy="537.6" r="1.05"/><circle cx="523.4" cy="493.2" r="1.05"/><circle cx="517.6" cy="526.9" r="1.05"/><circle cx="510.6" cy="541.2" r="1.05"/><circle cx="499.1" cy="508.5" r="1.05"/><circle cx="503.4" cy="513.5" r="1.05"/><circle cx="502.6" cy="528.1" r="1.05"/><circle cx="523.6" cy="544.5" r="1.05"/><circle cx="496.5" cy="558.2" r="1.05"/><circle cx="518.8" cy="564.6" r="1.05"/><circle cx="520.8" cy="573.0" r="1.05"/><circle cx="497.7" cy="520.8" r="1.05"/><circle cx="524.4" cy="541.4" r="1.05"/><circle cx="521.3" cy="524.4" r="1.05"/><circle cx="513.1" cy="445.1" r="1.05"/><circle cx="522.4" cy="558.9" r="1.05"/><circle cx="506.4" cy="520.9" r="1.05"/><circle cx="493.7" cy="578.9" r="1.05"/><circle cx="502.6" cy="533.2" r="1.05"/><circle cx="501.8" cy="571.5" r="1.05"/><circle cx="524.1" cy="581.4" r="1.05"/><circle cx="509.2" cy="486.3" r="1.05"/><circle cx="513.3" cy="533.3" r="1.05"/><circle cx="492.9" cy="580.7" r="1.05"/><circle cx="502.7" cy="530.7" r="1.05"/><circle cx="520.6" cy="545.2" r="1.05"/><circle cx="491.5" cy="520.2" r="1.05"/><circle cx="491.2" cy="541.6" r="1.05"/><circle cx="501.7" cy="514.3" r="1.05"/><circle cx="499.5" cy="534.0" r="1.05"/><circle cx="508.3" cy="504.0" r="1.05"/><circle cx="524.0" cy="566.2" r="1.05"/><circle cx="517.7" cy="544.0" r="1.05"/><circle cx="514.7" cy="552.7" r="1.05"/><circle cx="506.6" cy="528.1" r="1.05"/><circle cx="506.3" cy="505.2" r="1.05"/><circle cx="508.3" cy="556.9" r="1.05"/><circle cx="520.3" cy="534.3" r="1.05"/><circle cx="518.5" cy="523.7" r="1.05"/><circle cx="501.2" cy="518.0" r="1.05"/><circle cx="491.7" cy="541.5" r="1.05"/><circle cx="501.3" cy="561.5" r="1.05"/><circle cx="505.3" cy="550.2" r="1.05"/><circle cx="525.8" cy="547.0" r="1.05"/><circle cx="495.5" cy="507.2" r="1.05"/><circle cx="490.4" cy="522.8" r="1.05"/><circle cx="509.6" cy="553.5" r="1.05"/><circle cx="491.7" cy="569.0" r="1.05"/><circle cx="510.5" cy="562.4" r="1.05"/><circle cx="498.8" cy="487.8" r="1.05"/><circle cx="515.9" cy="543.0" r="1.05"/><circle cx="504.0" cy="540.7" r="1.05"/><circle cx="498.6" cy="514.7" r="1.05"/><circle cx="514.7" cy="509.3" r="1.05"/><circle cx="500.9" cy="538.7" r="1.05"/><circle cx="502.8" cy="531.1" r="1.05"/><circle cx="518.5" cy="552.1" r="1.05"/><circle cx="492.7" cy="517.4" r="1.05"/><circle cx="519.1" cy="577.1" r="1.05"/><circle cx="505.3" cy="523.3" r="1.05"/><circle cx="522.0" cy="569.5" r="1.05"/><circle cx="496.7" cy="537.8" r="1.05"/><circle cx="496.1" cy="545.2" r="1.05"/><circle cx="495.3" cy="545.4" r="1.05"/><circle cx="497.0" cy="532.8" r="1.05"/><circle cx="495.5" cy="554.5" r="1.05"/><circle cx="509.2" cy="521.2" r="1.05"/><circle cx="518.8" cy="518.5" r="1.05"/><circle cx="494.0" cy="505.1" r="1.05"/><circle cx="506.4" cy="477.4" r="1.05"/><circle cx="523.1" cy="498.4" r="1.05"/><circle cx="508.9" cy="542.1" r="1.05"/><circle cx="522.8" cy="493.1" r="1.05"/><circle cx="517.0" cy="552.3" r="1.05"/><circle cx="488.8" cy="475.9" r="1.05"/><circle cx="500.2" cy="556.7" r="1.05"/><circle cx="521.0" cy="563.2" r="1.05"/><circle cx="502.9" cy="570.5" r="1.05"/><circle cx="520.1" cy="560.0" r="1.05"/><circle cx="509.6" cy="511.7" r="1.05"/><circle cx="490.1" cy="529.1" r="1.05"/><circle cx="496.8" cy="556.6" r="1.05"/><circle cx="493.3" cy="527.6" r="1.05"/><circle cx="505.5" cy="562.4" r="1.05"/><circle cx="519.1" cy="543.9" r="1.05"/><circle cx="507.6" cy="535.5" r="1.05"/><circle cx="488.9" cy="548.4" r="1.05"/><circle cx="519.4" cy="483.5" r="1.05"/><circle cx="488.8" cy="531.2" r="1.05"/><circle cx="522.2" cy="549.6" r="1.05"/><circle cx="513.0" cy="547.7" r="1.05"/><circle cx="503.6" cy="531.7" r="1.05"/><circle cx="501.7" cy="530.8" r="1.05"/><circle cx="499.0" cy="524.5" r="1.05"/><circle cx="503.3" cy="541.7" r="1.05"/><circle cx="507.8" cy="546.7" r="1.05"/><circle cx="525.6" cy="506.5" r="1.05"/><circle cx="497.6" cy="504.3" r="1.05"/><circle cx="519.6" cy="536.6" r="1.05"/><circle cx="521.8" cy="511.0" r="1.05"/><circle cx="512.4" cy="491.3" r="1.05"/><circle cx="522.3" cy="556.1" r="1.05"/><circle cx="512.1" cy="507.8" r="1.05"/><circle cx="521.3" cy="549.8" r="1.05"/><circle cx="492.9" cy="532.6" r="1.05"/><circle cx="504.0" cy="506.4" r="1.05"/><circle cx="516.3" cy="507.7" r="1.05"/><circle cx="523.3" cy="552.6" r="1.05"/><circle cx="496.2" cy="530.8" r="1.05"/><circle cx="511.8" cy="511.9" r="1.05"/><circle cx="506.6" cy="531.5" r="1.05"/><circle cx="498.6" cy="533.4" r="1.05"/><circle cx="507.4" cy="541.1" r="1.05"/><circle cx="507.9" cy="525.9" r="1.05"/><circle cx="491.9" cy="522.8" r="1.05"/><circle cx="515.0" cy="520.6" r="1.05"/><circle cx="510.3" cy="469.0" r="1.05"/><circle cx="513.6" cy="554.0" r="1.05"/><circle cx="497.4" cy="516.9" r="1.05"/><circle cx="489.5" cy="509.4" r="1.05"/><circle cx="508.9" cy="551.0" r="1.05"/><circle cx="525.9" cy="534.5" r="1.05"/><circle cx="510.5" cy="576.4" r="1.05"/><circle cx="497.2" cy="562.4" r="1.05"/><circle cx="513.6" cy="516.4" r="1.05"/><circle cx="489.8" cy="528.0" r="1.05"/><circle cx="493.0" cy="544.0" r="1.05"/><circle cx="492.3" cy="523.1" r="1.05"/><circle cx="495.5" cy="530.2" r="1.05"/><circle cx="523.3" cy="527.0" r="1.05"/><circle cx="510.5" cy="545.3" r="1.05"/><circle cx="514.0" cy="552.7" r="1.05"/><circle cx="503.5" cy="498.6" r="1.05"/><circle cx="491.6" cy="516.4" r="1.05"/><circle cx="512.6" cy="506.2" r="1.05"/><circle cx="500.6" cy="515.5" r="1.05"/><circle cx="496.2" cy="526.3" r="1.05"/><circle cx="491.0" cy="535.4" r="1.05"/><circle cx="522.3" cy="519.1" r="1.05"/><circle cx="516.4" cy="495.4" r="1.05"/><circle cx="502.4" cy="490.1" r="1.05"/><circle cx="496.6" cy="549.3" r="1.05"/><circle cx="525.4" cy="523.6" r="1.05"/><circle cx="524.7" cy="508.8" r="1.05"/><circle cx="509.1" cy="491.2" r="1.05"/><circle cx="503.9" cy="522.1" r="1.05"/><circle cx="519.5" cy="531.4" r="1.05"/><circle cx="510.0" cy="535.4" r="1.05"/><circle cx="501.5" cy="522.0" r="1.05"/><circle cx="525.1" cy="572.9" r="1.05"/><circle cx="523.2" cy="510.3" r="1.05"/><circle cx="498.4" cy="558.7" r="1.05"/><circle cx="525.3" cy="523.9" r="1.05"/><circle cx="520.5" cy="445.0" r="1.05"/><circle cx="525.7" cy="531.2" r="1.05"/><circle cx="524.5" cy="547.9" r="1.05"/><circle cx="500.1" cy="494.3" r="1.05"/><circle cx="518.7" cy="569.7" r="1.05"/><circle cx="495.6" cy="503.7" r="1.05"/><circle cx="495.3" cy="541.1" r="1.05"/><circle cx="498.1" cy="541.3" r="1.05"/><circle cx="499.9" cy="514.1" r="1.05"/><circle cx="500.9" cy="510.4" r="1.05"/><circle cx="520.3" cy="557.3" r="1.05"/><circle cx="512.4" cy="543.7" r="1.05"/><circle cx="489.1" cy="543.0" r="1.05"/><circle cx="519.5" cy="570.0" r="1.05"/><circle cx="494.7" cy="527.7" r="1.05"/><circle cx="518.0" cy="526.4" r="1.05"/><circle cx="497.9" cy="555.2" r="1.05"/><circle cx="524.5" cy="483.9" r="1.05"/><circle cx="512.6" cy="529.1" r="1.05"/><circle cx="511.7" cy="517.7" r="1.05"/><circle cx="499.0" cy="504.7" r="1.05"/><circle cx="520.6" cy="534.9" r="1.05"/><circle cx="491.4" cy="533.7" r="1.05"/><circle cx="519.6" cy="509.3" r="1.05"/><circle cx="509.6" cy="554.2" r="1.05"/><circle cx="503.9" cy="578.6" r="1.05"/><circle cx="503.7" cy="547.0" r="1.05"/><circle cx="489.5" cy="530.5" r="1.05"/><circle cx="507.0" cy="577.8" r="1.05"/><circle cx="506.5" cy="559.3" r="1.05"/><circle cx="502.5" cy="536.5" r="1.05"/><circle cx="496.1" cy="545.9" r="1.05"/><circle cx="510.4" cy="500.5" r="1.05"/><circle cx="505.5" cy="534.9" r="1.05"/><circle cx="496.6" cy="553.0" r="1.05"/><circle cx="497.2" cy="524.8" r="1.05"/><circle cx="495.0" cy="533.4" r="1.05"/><circle cx="489.4" cy="529.2" r="1.05"/><circle cx="515.5" cy="532.4" r="1.05"/><circle cx="495.4" cy="524.9" r="1.05"/><circle cx="514.1" cy="492.3" r="1.05"/><circle cx="502.7" cy="527.9" r="1.05"/><circle cx="492.4" cy="533.5" r="1.05"/><circle cx="496.7" cy="517.6" r="1.05"/><circle cx="515.7" cy="511.1" r="1.05"/><circle cx="500.8" cy="542.9" r="1.05"/><circle cx="509.7" cy="574.0" r="1.05"/><circle cx="491.7" cy="580.5" r="1.05"/><circle cx="524.3" cy="520.7" r="1.05"/><circle cx="505.7" cy="546.6" r="1.05"/><circle cx="518.7" cy="517.3" r="1.05"/><circle cx="496.9" cy="553.8" r="1.05"/><circle cx="523.9" cy="576.8" r="1.05"/><circle cx="497.3" cy="521.8" r="1.05"/><circle cx="514.3" cy="581.3" r="1.05"/><circle cx="522.3" cy="579.8" r="1.05"/><circle cx="512.3" cy="540.4" r="1.05"/><circle cx="492.7" cy="515.3" r="1.05"/><circle cx="521.2" cy="557.8" r="1.05"/><circle cx="518.0" cy="567.4" r="1.05"/><circle cx="514.1" cy="545.0" r="1.05"/><circle cx="511.9" cy="516.7" r="1.05"/><circle cx="490.6" cy="517.0" r="1.05"/><circle cx="499.9" cy="566.5" r="1.05"/><circle cx="501.1" cy="517.8" r="1.05"/><circle cx="497.3" cy="507.8" r="1.05"/><circle cx="518.7" cy="493.4" r="1.05"/><circle cx="493.3" cy="552.4" r="1.05"/><circle cx="498.4" cy="567.6" r="1.05"/><circle cx="495.1" cy="552.7" r="1.05"/><circle cx="495.1" cy="532.4" r="1.05"/><circle cx="521.4" cy="530.0" r="1.05"/><circle cx="490.0" cy="488.1" r="1.05"/><circle cx="490.3" cy="541.2" r="1.05"/><circle cx="517.5" cy="501.6" r="1.05"/><circle cx="499.8" cy="556.2" r="1.05"/><circle cx="499.5" cy="561.4" r="1.05"/><circle cx="494.7" cy="548.2" r="1.05"/><circle cx="511.3" cy="505.4" r="1.05"/><circle cx="492.7" cy="541.5" r="1.05"/><circle cx="504.7" cy="577.1" r="1.05"/><circle cx="512.5" cy="545.2" r="1.05"/><circle cx="488.6" cy="488.6" r="1.05"/><circle cx="505.1" cy="524.7" r="1.05"/><circle cx="493.6" cy="504.1" r="1.05"/><circle cx="490.0" cy="468.5" r="1.05"/><circle cx="518.4" cy="543.9" r="1.05"/><circle cx="489.5" cy="523.7" r="1.05"/><circle cx="495.5" cy="529.9" r="1.05"/><circle cx="524.5" cy="556.5" r="1.05"/><circle cx="490.3" cy="548.5" r="1.05"/><circle cx="505.0" cy="539.2" r="1.05"/><circle cx="515.1" cy="534.5" r="1.05"/><circle cx="509.9" cy="538.8" r="1.05"/><circle cx="525.0" cy="522.6" r="1.05"/><circle cx="504.7" cy="521.0" r="1.05"/><circle cx="521.8" cy="504.0" r="1.05"/><circle cx="498.4" cy="533.0" r="1.05"/><circle cx="503.1" cy="561.6" r="1.05"/><circle cx="526.0" cy="526.7" r="1.05"/><circle cx="504.5" cy="518.0" r="1.05"/><circle cx="511.2" cy="506.7" r="1.05"/><circle cx="520.4" cy="466.8" r="1.05"/><circle cx="521.5" cy="517.2" r="1.05"/><circle cx="523.1" cy="546.4" r="1.05"/><circle cx="489.4" cy="502.9" r="1.05"/><circle cx="502.2" cy="542.5" r="1.05"/><circle cx="523.8" cy="531.3" r="1.05"/><circle cx="502.3" cy="482.8" r="1.05"/><circle cx="497.2" cy="533.4" r="1.05"/><circle cx="497.8" cy="502.7" r="1.05"/><circle cx="520.2" cy="561.3" r="1.05"/><circle cx="509.8" cy="537.5" r="1.05"/><circle cx="503.0" cy="560.0" r="1.05"/><circle cx="495.7" cy="543.3" r="1.05"/><circle cx="498.7" cy="540.1" r="1.05"/><circle cx="497.9" cy="529.2" r="1.05"/><circle cx="507.1" cy="529.5" r="1.05"/><circle cx="490.6" cy="534.7" r="1.05"/><circle cx="508.7" cy="531.2" r="1.05"/><circle cx="511.0" cy="563.5" r="1.05"/><circle cx="516.7" cy="537.7" r="1.05"/><circle cx="509.1" cy="546.8" r="1.05"/><circle cx="517.2" cy="582.5" r="1.05"/><circle cx="494.9" cy="505.4" r="1.05"/><circle cx="519.8" cy="542.9" r="1.05"/><circle cx="496.6" cy="544.2" r="1.05"/><circle cx="501.5" cy="513.7" r="1.05"/><circle cx="511.2" cy="516.3" r="1.05"/><circle cx="492.5" cy="539.0" r="1.05"/><circle cx="519.3" cy="501.2" r="1.05"/><circle cx="519.1" cy="556.0" r="1.05"/><circle cx="515.5" cy="513.8" r="1.05"/><circle cx="501.0" cy="532.7" r="1.05"/><circle cx="495.4" cy="557.4" r="1.05"/><circle cx="495.8" cy="529.2" r="1.05"/><circle cx="497.0" cy="547.1" r="1.05"/><circle cx="512.3" cy="518.5" r="1.05"/><circle cx="497.5" cy="451.6" r="1.05"/><circle cx="509.8" cy="528.4" r="1.05"/><circle cx="517.5" cy="513.1" r="1.05"/><circle cx="521.8" cy="539.2" r="1.05"/><circle cx="516.6" cy="530.2" r="1.05"/><circle cx="500.9" cy="477.5" r="1.05"/><circle cx="515.9" cy="536.0" r="1.05"/><circle cx="524.3" cy="555.5" r="1.05"/><circle cx="513.1" cy="572.5" r="1.05"/><circle cx="491.7" cy="461.3" r="1.05"/><circle cx="508.6" cy="560.9" r="1.05"/><circle cx="506.4" cy="538.9" r="1.05"/><circle cx="489.1" cy="564.3" r="1.05"/><circle cx="499.5" cy="507.9" r="1.05"/><circle cx="520.7" cy="554.8" r="1.05"/><circle cx="506.3" cy="518.3" r="1.05"/><circle cx="523.2" cy="547.1" r="1.05"/><circle cx="520.6" cy="517.3" r="1.05"/><circle cx="506.3" cy="580.2" r="1.05"/><circle cx="508.7" cy="529.9" r="1.05"/><circle cx="495.4" cy="515.9" r="1.05"/><circle cx="513.1" cy="510.5" r="1.05"/><circle cx="494.0" cy="523.8" r="1.05"/><circle cx="508.7" cy="529.7" r="1.05"/><circle cx="506.6" cy="563.1" r="1.05"/><circle cx="514.7" cy="580.6" r="1.05"/><circle cx="515.2" cy="518.6" r="1.05"/><circle cx="523.2" cy="564.6" r="1.05"/><circle cx="522.1" cy="495.3" r="1.05"/><circle cx="520.1" cy="472.3" r="1.05"/><circle cx="494.1" cy="548.8" r="1.05"/><circle cx="505.3" cy="483.8" r="1.05"/><circle cx="515.0" cy="556.6" r="1.05"/><circle cx="504.3" cy="515.0" r="1.05"/><circle cx="488.6" cy="491.7" r="1.05"/><circle cx="510.7" cy="538.9" r="1.05"/><circle cx="492.6" cy="526.6" r="1.05"/><circle cx="489.4" cy="537.3" r="1.05"/><circle cx="494.9" cy="569.0" r="1.05"/><circle cx="497.2" cy="513.5" r="1.05"/><circle cx="496.9" cy="555.0" r="1.05"/><circle cx="503.8" cy="528.5" r="1.05"/><circle cx="516.6" cy="532.5" r="1.05"/><circle cx="511.3" cy="504.1" r="1.05"/><circle cx="503.6" cy="535.4" r="1.05"/><circle cx="502.8" cy="584.0" r="1.05"/><circle cx="505.8" cy="549.1" r="1.05"/><circle cx="501.5" cy="501.0" r="1.05"/><circle cx="521.9" cy="547.5" r="1.05"/><circle cx="503.5" cy="544.4" r="1.05"/><circle cx="516.6" cy="472.4" r="1.05"/><circle cx="509.4" cy="477.6" r="1.05"/><circle cx="505.1" cy="458.2" r="1.05"/><circle cx="510.8" cy="470.0" r="1.05"/><circle cx="517.9" cy="507.6" r="1.05"/><circle cx="506.4" cy="560.6" r="1.05"/><circle cx="513.5" cy="533.2" r="1.05"/><circle cx="499.3" cy="531.8" r="1.05"/><circle cx="513.9" cy="564.4" r="1.05"/><circle cx="497.2" cy="563.1" r="1.05"/><circle cx="499.2" cy="556.0" r="1.05"/><circle cx="523.6" cy="545.9" r="1.05"/><circle cx="514.6" cy="555.5" r="1.05"/><circle cx="512.6" cy="491.5" r="1.05"/><circle cx="499.8" cy="536.7" r="1.05"/><circle cx="510.1" cy="539.5" r="1.05"/><circle cx="499.7" cy="539.9" r="1.05"/><circle cx="496.8" cy="545.2" r="1.05"/><circle cx="512.7" cy="501.2" r="1.05"/><circle cx="493.6" cy="518.5" r="1.05"/><circle cx="489.7" cy="446.0" r="1.05"/><circle cx="513.5" cy="540.3" r="1.05"/><circle cx="502.0" cy="498.1" r="1.05"/><circle cx="501.4" cy="560.5" r="1.05"/><circle cx="512.3" cy="533.6" r="1.05"/><circle cx="521.6" cy="549.3" r="1.05"/><circle cx="513.2" cy="447.5" r="1.05"/><circle cx="493.3" cy="550.2" r="1.05"/><circle cx="517.2" cy="554.7" r="1.05"/><circle cx="509.1" cy="523.0" r="1.05"/><circle cx="523.5" cy="500.0" r="1.05"/><circle cx="492.5" cy="495.6" r="1.05"/><circle cx="501.8" cy="554.7" r="1.05"/><circle cx="491.6" cy="517.0" r="1.05"/><circle cx="499.9" cy="533.5" r="1.05"/><circle cx="505.9" cy="545.5" r="1.05"/><circle cx="505.4" cy="540.2" r="1.05"/><circle cx="501.6" cy="554.4" r="1.05"/><circle cx="516.3" cy="572.4" r="1.05"/><circle cx="523.6" cy="513.9" r="1.05"/><circle cx="510.2" cy="525.0" r="1.05"/><circle cx="505.8" cy="551.6" r="1.05"/><circle cx="518.7" cy="564.3" r="1.05"/><circle cx="511.6" cy="524.2" r="1.05"/><circle cx="511.6" cy="528.7" r="1.05"/><circle cx="498.1" cy="519.3" r="1.05"/><circle cx="509.5" cy="542.8" r="1.05"/><circle cx="514.6" cy="575.2" r="1.05"/><circle cx="493.2" cy="518.0" r="1.05"/><circle cx="510.7" cy="524.8" r="1.05"/><circle cx="511.2" cy="554.1" r="1.05"/><circle cx="510.0" cy="524.3" r="1.05"/><circle cx="514.8" cy="555.7" r="1.05"/><circle cx="523.4" cy="467.0" r="1.05"/><circle cx="524.2" cy="580.1" r="1.05"/><circle cx="523.7" cy="546.3" r="1.05"/><circle cx="519.8" cy="527.0" r="1.05"/><circle cx="494.6" cy="507.4" r="1.05"/><circle cx="515.6" cy="504.9" r="1.05"/><circle cx="515.5" cy="549.0" r="1.05"/><circle cx="508.3" cy="527.0" r="1.05"/><circle cx="505.5" cy="535.1" r="1.05"/><circle cx="502.8" cy="528.6" r="1.05"/><circle cx="502.7" cy="516.1" r="1.05"/><circle cx="503.8" cy="524.5" r="1.05"/><circle cx="496.2" cy="501.1" r="1.05"/><circle cx="519.0" cy="506.4" r="1.05"/><circle cx="510.5" cy="542.3" r="1.05"/><circle cx="525.1" cy="515.9" r="1.05"/><circle cx="507.8" cy="524.0" r="1.05"/><circle cx="524.7" cy="520.5" r="1.05"/><circle cx="524.5" cy="563.5" r="1.05"/><circle cx="492.3" cy="539.7" r="1.05"/><circle cx="508.5" cy="535.5" r="1.05"/><circle cx="512.2" cy="573.7" r="1.05"/><circle cx="522.9" cy="526.7" r="1.05"/><circle cx="504.3" cy="542.8" r="1.05"/><circle cx="517.2" cy="545.3" r="1.05"/><circle cx="498.0" cy="547.6" r="1.05"/><circle cx="501.9" cy="539.1" r="1.05"/><circle cx="503.8" cy="566.9" r="1.05"/><circle cx="511.0" cy="503.1" r="1.05"/><circle cx="498.5" cy="586.4" r="1.05"/><circle cx="494.7" cy="552.0" r="1.05"/><circle cx="489.6" cy="526.5" r="1.05"/><circle cx="494.9" cy="564.6" r="1.05"/><circle cx="521.3" cy="529.5" r="1.05"/><circle cx="520.6" cy="549.9" r="1.05"/><circle cx="500.1" cy="507.6" r="1.05"/><circle cx="505.6" cy="569.1" r="1.05"/><circle cx="503.7" cy="540.4" r="1.05"/><circle cx="509.7" cy="537.8" r="1.05"/><circle cx="497.5" cy="498.3" r="1.05"/><circle cx="490.1" cy="552.6" r="1.05"/><circle cx="509.5" cy="564.1" r="1.05"/><circle cx="524.8" cy="508.2" r="1.05"/><circle cx="519.7" cy="487.6" r="1.05"/><circle cx="511.7" cy="578.1" r="1.05"/><circle cx="493.0" cy="550.4" r="1.05"/><circle cx="504.2" cy="538.8" r="1.05"/><circle cx="507.1" cy="529.7" r="1.05"/><circle cx="525.7" cy="563.5" r="1.05"/><circle cx="511.9" cy="503.9" r="1.05"/><circle cx="515.4" cy="514.7" r="1.05"/><circle cx="506.3" cy="558.0" r="1.05"/><circle cx="516.5" cy="551.4" r="1.05"/><circle cx="495.3" cy="558.3" r="1.05"/><circle cx="525.4" cy="505.0" r="1.05"/><circle cx="524.2" cy="536.2" r="1.05"/><circle cx="513.9" cy="523.9" r="1.05"/><circle cx="503.9" cy="538.9" r="1.05"/><circle cx="520.7" cy="569.7" r="1.05"/><circle cx="488.9" cy="532.1" r="1.05"/><circle cx="497.7" cy="579.6" r="1.05"/><circle cx="511.7" cy="536.9" r="1.05"/><circle cx="519.5" cy="525.9" r="1.05"/><circle cx="499.0" cy="523.8" r="1.05"/><circle cx="514.7" cy="532.0" r="1.05"/><circle cx="522.7" cy="465.3" r="1.05"/><circle cx="518.5" cy="537.5" r="1.05"/><circle cx="507.8" cy="541.9" r="1.05"/><circle cx="518.6" cy="542.0" r="1.05"/><circle cx="521.4" cy="536.9" r="1.05"/><circle cx="505.8" cy="525.0" r="1.05"/><circle cx="497.4" cy="527.9" r="1.05"/><circle cx="501.3" cy="538.0" r="1.05"/><circle cx="502.4" cy="510.0" r="1.05"/><circle cx="524.6" cy="518.9" r="1.05"/><circle cx="488.8" cy="517.1" r="1.05"/><circle cx="512.0" cy="521.0" r="1.05"/><circle cx="495.3" cy="567.3" r="1.05"/><circle cx="495.0" cy="532.0" r="1.05"/><circle cx="502.6" cy="521.6" r="1.05"/><circle cx="504.6" cy="511.7" r="1.05"/><circle cx="517.2" cy="526.4" r="1.05"/><circle cx="498.4" cy="520.2" r="1.05"/><circle cx="514.4" cy="547.1" r="1.05"/><circle cx="490.4" cy="580.8" r="1.05"/><circle cx="501.6" cy="552.4" r="1.05"/><circle cx="500.5" cy="546.8" r="1.05"/><circle cx="493.9" cy="552.0" r="1.05"/><circle cx="508.3" cy="529.8" r="1.05"/><circle cx="501.7" cy="463.7" r="1.05"/><circle cx="499.4" cy="518.1" r="1.05"/><circle cx="499.0" cy="493.2" r="1.05"/><circle cx="517.7" cy="566.2" r="1.05"/><circle cx="502.8" cy="483.7" r="1.05"/><circle cx="514.2" cy="511.2" r="1.05"/><circle cx="514.9" cy="564.3" r="1.05"/><circle cx="519.3" cy="557.1" r="1.05"/><circle cx="519.7" cy="488.3" r="1.05"/><circle cx="514.3" cy="550.4" r="1.05"/><circle cx="507.8" cy="513.6" r="1.05"/><circle cx="501.2" cy="508.0" r="1.05"/><circle cx="524.3" cy="571.7" r="1.05"/><circle cx="491.6" cy="551.1" r="1.05"/><circle cx="492.4" cy="582.6" r="1.05"/><circle cx="492.4" cy="576.4" r="1.05"/><circle cx="503.5" cy="538.2" r="1.05"/><circle cx="521.9" cy="530.4" r="1.05"/><circle cx="523.7" cy="573.7" r="1.05"/><circle cx="514.3" cy="536.1" r="1.05"/><circle cx="523.7" cy="524.0" r="1.05"/><circle cx="497.4" cy="563.7" r="1.05"/><circle cx="509.3" cy="562.6" r="1.05"/><circle cx="501.2" cy="539.6" r="1.05"/><circle cx="509.3" cy="580.6" r="1.05"/><circle cx="521.8" cy="549.9" r="1.05"/><circle cx="494.6" cy="564.3" r="1.05"/><circle cx="507.9" cy="499.9" r="1.05"/><circle cx="491.5" cy="549.3" r="1.05"/><circle cx="493.1" cy="494.5" r="1.05"/><circle cx="501.6" cy="536.6" r="1.05"/><circle cx="507.5" cy="549.5" r="1.05"/><circle cx="489.7" cy="516.2" r="1.05"/><circle cx="519.9" cy="519.7" r="1.05"/><circle cx="489.0" cy="504.7" r="1.05"/><circle cx="517.5" cy="485.9" r="1.05"/><circle cx="499.6" cy="446.2" r="1.05"/><circle cx="502.1" cy="533.0" r="1.05"/><circle cx="519.1" cy="545.2" r="1.05"/><circle cx="489.7" cy="534.6" r="1.05"/><circle cx="506.0" cy="500.7" r="1.05"/><circle cx="494.4" cy="552.3" r="1.05"/><circle cx="516.5" cy="535.3" r="1.05"/></g><line x1="578.57" y1="453.8" x2="578.57" y2="571.2" stroke="#d8b888" stroke-width="0.8"/><rect x="558.67" y="518.2" width="39.8" height="46.1" fill="#FDB827" stroke="#E0901A" stroke-width="0.7"/><line x1="558.67" y1="545.1" x2="598.47" y2="545.1" stroke="#E0901A" stroke-width="0.9"/><g fill="#C8680F"><circle cx="566.8" cy="453.5" r="1.15"/><circle cx="574.6" cy="464.9" r="1.15"/><circle cx="562.9" cy="482.9" r="1.15"/><circle cx="576.4" cy="482.3" r="1.15"/><circle cx="577.3" cy="518.8" r="1.15"/><circle cx="579.4" cy="518.8" r="1.15"/><circle cx="568.3" cy="532.2" r="1.15"/><circle cx="586.3" cy="539.1" r="1.15"/><circle cx="586.9" cy="541.2" r="1.15"/><circle cx="593.7" cy="541.2" r="1.15"/><circle cx="566.2" cy="550.2" r="1.15"/><circle cx="584.8" cy="551.7" r="1.15"/><circle cx="568.9" cy="556.2" r="1.15"/><circle cx="593.7" cy="560.7" r="1.15"/><circle cx="561.4" cy="565.2" r="1.15"/><circle cx="568.9" cy="565.2" r="1.15"/><circle cx="584.2" cy="563.7" r="1.15"/><circle cx="577.3" cy="567.6" r="1.15"/><circle cx="569.8" cy="569.7" r="1.15"/><circle cx="569.8" cy="571.8" r="1.15"/><circle cx="578.8" cy="566.7" r="1.15"/></g><rect x="74.5" y="645.5" width="234.8" height="155.3" fill="none" stroke="#d6d6d6" stroke-width="0.9"/><line x1="72.9" y1="795.5" x2="74.5" y2="795.5" stroke="#777" stroke-width="0.8"/><text x="71.6" y="799.3" font-size="11.4" text-anchor="end" fill="#222">0</text><line x1="72.9" y1="757.3" x2="74.5" y2="757.3" stroke="#777" stroke-width="0.8"/><text x="71.6" y="761.1" font-size="11.4" text-anchor="end" fill="#222">300</text><line x1="72.9" y1="719.3" x2="74.5" y2="719.3" stroke="#777" stroke-width="0.8"/><text x="71.6" y="723.1" font-size="11.4" text-anchor="end" fill="#222">600</text><line x1="72.9" y1="681.6" x2="74.5" y2="681.6" stroke="#777" stroke-width="0.8"/><text x="71.6" y="685.4" font-size="11.4" text-anchor="end" fill="#222">900</text><line x1="118.53" y1="800.8" x2="118.53" y2="802.4" stroke="#777" stroke-width="0.8"/><text x="118.53" y="812.7" font-size="12" text-anchor="middle" fill="#222">Normal</text><line x1="191.9" y1="800.8" x2="191.9" y2="802.4" stroke="#777" stroke-width="0.8"/><text x="191.9" y="812.7" font-size="12" text-anchor="middle" fill="#222">Tumor</text><line x1="265.27" y1="800.8" x2="265.27" y2="802.4" stroke="#777" stroke-width="0.8"/><text x="265.27" y="812.7" font-size="12" text-anchor="middle" fill="#222">Metastatic</text><text transform="translate(45.2,723.15) rotate(-90)" font-size="11.35" font-weight="bold" text-anchor="middle" fill="#000">INTS7 gene expression</text><text x="306.8" y="656.5" font-size="9.2" text-anchor="end" fill="#222">P = 9.77e-49</text><line x1="118.53" y1="757" x2="118.53" y2="794" stroke="#9fc48a" stroke-width="0.8"/><rect x="98.62" y="772.6" width="39.8" height="10" fill="#CCFF66" stroke="#5DBB3A" stroke-width="0.7"/><line x1="98.62" y1="778.1" x2="138.43" y2="778.1" stroke="#5DBB3A" stroke-width="0.9"/><g fill="#0a6b0a"><circle cx="123.7" cy="733.8" r="1.05"/><circle cx="118.6" cy="794.0" r="1.05"/><circle cx="122.3" cy="752.4" r="1.05"/><circle cx="128.1" cy="781.9" r="1.05"/><circle cx="106.4" cy="779.1" r="1.05"/><circle cx="118.7" cy="766.5" r="1.05"/><circle cx="128.3" cy="792.9" r="1.05"/><circle cx="132.9" cy="773.7" r="1.05"/><circle cx="123.6" cy="780.2" r="1.05"/><circle cx="130.2" cy="782.8" r="1.05"/><circle cx="122.6" cy="779.2" r="1.05"/><circle cx="130.5" cy="786.6" r="1.05"/><circle cx="125.7" cy="775.4" r="1.05"/><circle cx="136.7" cy="778.6" r="1.05"/><circle cx="114.6" cy="774.9" r="1.05"/><circle cx="134.9" cy="780.8" r="1.05"/><circle cx="118.1" cy="770.0" r="1.05"/><circle cx="122.2" cy="767.5" r="1.05"/><circle cx="129.0" cy="792.5" r="1.05"/><circle cx="117.3" cy="783.4" r="1.05"/><circle cx="116.0" cy="791.1" r="1.05"/><circle cx="114.7" cy="785.2" r="1.05"/><circle cx="111.3" cy="788.4" r="1.05"/><circle cx="126.1" cy="742.2" r="1.05"/><circle cx="104.9" cy="779.6" r="1.05"/><circle cx="121.5" cy="767.5" r="1.05"/><circle cx="106.9" cy="785.5" r="1.05"/><circle cx="107.1" cy="783.9" r="1.05"/><circle cx="121.9" cy="778.3" r="1.05"/><circle cx="118.5" cy="782.8" r="1.05"/><circle cx="104.6" cy="780.5" r="1.05"/><circle cx="105.3" cy="793.3" r="1.05"/><circle cx="127.9" cy="757.8" r="1.05"/><circle cx="124.1" cy="779.8" r="1.05"/><circle cx="125.6" cy="787.8" r="1.05"/><circle cx="112.0" cy="777.1" r="1.05"/><circle cx="122.0" cy="788.2" r="1.05"/><circle cx="112.1" cy="783.7" r="1.05"/><circle cx="115.2" cy="779.1" r="1.05"/><circle cx="111.2" cy="774.2" r="1.05"/><circle cx="105.8" cy="772.8" r="1.05"/><circle cx="135.2" cy="772.2" r="1.05"/><circle cx="102.9" cy="788.5" r="1.05"/><circle cx="118.2" cy="779.5" r="1.05"/><circle cx="107.6" cy="781.5" r="1.05"/><circle cx="134.9" cy="779.2" r="1.05"/><circle cx="135.8" cy="780.7" r="1.05"/><circle cx="135.3" cy="781.1" r="1.05"/><circle cx="109.8" cy="763.5" r="1.05"/><circle cx="119.1" cy="774.9" r="1.05"/><circle cx="122.8" cy="780.7" r="1.05"/><circle cx="131.4" cy="780.4" r="1.05"/><circle cx="125.3" cy="780.8" r="1.05"/><circle cx="115.2" cy="783.2" r="1.05"/><circle cx="122.2" cy="783.8" r="1.05"/><circle cx="114.5" cy="779.2" r="1.05"/><circle cx="130.0" cy="771.1" r="1.05"/><circle cx="133.9" cy="780.9" r="1.05"/><circle cx="121.0" cy="781.3" r="1.05"/><circle cx="108.4" cy="766.3" r="1.05"/><circle cx="117.7" cy="784.6" r="1.05"/><circle cx="130.4" cy="771.6" r="1.05"/><circle cx="134.0" cy="764.7" r="1.05"/><circle cx="118.3" cy="761.0" r="1.05"/><circle cx="125.2" cy="767.1" r="1.05"/><circle cx="105.4" cy="790.4" r="1.05"/><circle cx="130.8" cy="764.0" r="1.05"/><circle cx="135.1" cy="784.2" r="1.05"/><circle cx="102.4" cy="777.9" r="1.05"/><circle cx="114.6" cy="784.6" r="1.05"/><circle cx="117.4" cy="781.3" r="1.05"/><circle cx="109.2" cy="785.6" r="1.05"/><circle cx="131.4" cy="784.4" r="1.05"/><circle cx="102.0" cy="781.3" r="1.05"/><circle cx="132.7" cy="772.7" r="1.05"/><circle cx="119.2" cy="782.7" r="1.05"/><circle cx="110.8" cy="773.1" r="1.05"/><circle cx="101.2" cy="773.3" r="1.05"/><circle cx="116.8" cy="781.3" r="1.05"/><circle cx="132.2" cy="777.7" r="1.05"/><circle cx="109.8" cy="778.7" r="1.05"/><circle cx="116.8" cy="771.5" r="1.05"/><circle cx="135.4" cy="777.9" r="1.05"/><circle cx="136.0" cy="782.4" r="1.05"/><circle cx="130.7" cy="777.8" r="1.05"/><circle cx="128.6" cy="768.7" r="1.05"/><circle cx="130.4" cy="775.5" r="1.05"/><circle cx="105.9" cy="777.1" r="1.05"/><circle cx="136.5" cy="774.7" r="1.05"/><circle cx="133.5" cy="762.9" r="1.05"/><circle cx="128.7" cy="776.0" r="1.05"/><circle cx="105.2" cy="785.8" r="1.05"/><circle cx="100.4" cy="760.1" r="1.05"/><circle cx="131.1" cy="773.2" r="1.05"/><circle cx="107.5" cy="785.8" r="1.05"/><circle cx="101.7" cy="788.1" r="1.05"/><circle cx="103.8" cy="785.9" r="1.05"/><circle cx="122.7" cy="775.9" r="1.05"/><circle cx="125.8" cy="778.9" r="1.05"/><circle cx="100.6" cy="779.5" r="1.05"/><circle cx="128.0" cy="776.0" r="1.05"/><circle cx="107.8" cy="780.4" r="1.05"/><circle cx="133.0" cy="780.2" r="1.05"/><circle cx="112.1" cy="779.5" r="1.05"/><circle cx="122.9" cy="785.5" r="1.05"/><circle cx="133.9" cy="774.1" r="1.05"/><circle cx="121.9" cy="771.8" r="1.05"/><circle cx="112.1" cy="779.9" r="1.05"/><circle cx="102.3" cy="784.2" r="1.05"/><circle cx="123.4" cy="783.4" r="1.05"/><circle cx="134.6" cy="777.3" r="1.05"/><circle cx="111.8" cy="752.7" r="1.05"/><circle cx="124.0" cy="785.1" r="1.05"/><circle cx="110.1" cy="785.5" r="1.05"/><circle cx="126.6" cy="764.6" r="1.05"/><circle cx="119.6" cy="766.4" r="1.05"/><circle cx="129.1" cy="780.4" r="1.05"/><circle cx="107.4" cy="778.9" r="1.05"/><circle cx="118.2" cy="777.9" r="1.05"/><circle cx="105.4" cy="781.6" r="1.05"/><circle cx="121.4" cy="779.5" r="1.05"/><circle cx="101.1" cy="785.5" r="1.05"/><circle cx="108.2" cy="768.6" r="1.05"/><circle cx="102.6" cy="783.8" r="1.05"/><circle cx="129.2" cy="785.6" r="1.05"/><circle cx="112.9" cy="782.0" r="1.05"/><circle cx="116.5" cy="784.6" r="1.05"/><circle cx="101.6" cy="790.5" r="1.05"/><circle cx="106.8" cy="789.4" r="1.05"/><circle cx="134.9" cy="778.8" r="1.05"/><circle cx="106.8" cy="784.2" r="1.05"/><circle cx="126.5" cy="790.4" r="1.05"/><circle cx="127.3" cy="760.8" r="1.05"/><circle cx="110.9" cy="781.2" r="1.05"/><circle cx="124.2" cy="783.9" r="1.05"/><circle cx="119.4" cy="768.6" r="1.05"/><circle cx="136.1" cy="769.3" r="1.05"/><circle cx="104.6" cy="778.6" r="1.05"/><circle cx="112.0" cy="789.5" r="1.05"/><circle cx="118.7" cy="767.8" r="1.05"/><circle cx="126.4" cy="781.9" r="1.05"/><circle cx="107.8" cy="764.7" r="1.05"/><circle cx="116.7" cy="775.4" r="1.05"/><circle cx="128.7" cy="781.4" r="1.05"/><circle cx="106.8" cy="771.7" r="1.05"/><circle cx="101.0" cy="779.9" r="1.05"/><circle cx="105.5" cy="777.3" r="1.05"/><circle cx="118.4" cy="787.7" r="1.05"/><circle cx="117.3" cy="774.7" r="1.05"/><circle cx="135.8" cy="778.5" r="1.05"/><circle cx="101.2" cy="774.4" r="1.05"/><circle cx="118.8" cy="780.7" r="1.05"/><circle cx="103.3" cy="782.4" r="1.05"/><circle cx="108.5" cy="782.9" r="1.05"/><circle cx="108.1" cy="775.7" r="1.05"/><circle cx="121.0" cy="772.7" r="1.05"/><circle cx="119.3" cy="777.8" r="1.05"/><circle cx="133.7" cy="793.2" r="1.05"/><circle cx="108.9" cy="777.1" r="1.05"/><circle cx="124.1" cy="776.3" r="1.05"/><circle cx="126.0" cy="782.3" r="1.05"/><circle cx="122.0" cy="781.9" r="1.05"/><circle cx="128.8" cy="781.9" r="1.05"/><circle cx="109.9" cy="769.9" r="1.05"/><circle cx="106.6" cy="770.4" r="1.05"/><circle cx="104.8" cy="778.9" r="1.05"/><circle cx="100.5" cy="771.2" r="1.05"/><circle cx="136.6" cy="778.1" r="1.05"/><circle cx="105.9" cy="783.8" r="1.05"/><circle cx="118.1" cy="769.0" r="1.05"/><circle cx="121.4" cy="767.6" r="1.05"/><circle cx="108.7" cy="780.9" r="1.05"/><circle cx="132.9" cy="769.1" r="1.05"/><circle cx="109.1" cy="780.8" r="1.05"/><circle cx="133.1" cy="776.4" r="1.05"/><circle cx="127.2" cy="780.2" r="1.05"/><circle cx="122.0" cy="777.2" r="1.05"/><circle cx="122.9" cy="772.5" r="1.05"/><circle cx="102.3" cy="774.0" r="1.05"/><circle cx="125.9" cy="776.5" r="1.05"/><circle cx="101.9" cy="778.5" r="1.05"/><circle cx="100.5" cy="754.5" r="1.05"/><circle cx="134.9" cy="771.7" r="1.05"/><circle cx="119.4" cy="783.3" r="1.05"/><circle cx="100.3" cy="742.9" r="1.05"/><circle cx="109.4" cy="772.4" r="1.05"/><circle cx="116.0" cy="770.5" r="1.05"/><circle cx="109.2" cy="780.0" r="1.05"/><circle cx="112.9" cy="781.6" r="1.05"/><circle cx="117.1" cy="788.1" r="1.05"/><circle cx="114.6" cy="773.0" r="1.05"/><circle cx="112.3" cy="771.4" r="1.05"/><circle cx="100.6" cy="772.0" r="1.05"/><circle cx="121.3" cy="778.9" r="1.05"/><circle cx="122.3" cy="779.8" r="1.05"/><circle cx="116.9" cy="775.8" r="1.05"/><circle cx="127.2" cy="783.2" r="1.05"/><circle cx="137.2" cy="755.3" r="1.05"/><circle cx="120.0" cy="772.2" r="1.05"/><circle cx="119.9" cy="768.9" r="1.05"/><circle cx="124.2" cy="772.8" r="1.05"/><circle cx="131.4" cy="778.3" r="1.05"/><circle cx="131.3" cy="774.5" r="1.05"/><circle cx="116.7" cy="770.9" r="1.05"/><circle cx="102.2" cy="781.6" r="1.05"/><circle cx="115.6" cy="774.2" r="1.05"/><circle cx="105.1" cy="777.2" r="1.05"/><circle cx="104.0" cy="770.5" r="1.05"/><circle cx="105.1" cy="777.8" r="1.05"/><circle cx="104.9" cy="776.9" r="1.05"/><circle cx="122.2" cy="779.7" r="1.05"/><circle cx="122.0" cy="782.8" r="1.05"/><circle cx="131.1" cy="780.8" r="1.05"/><circle cx="116.3" cy="772.6" r="1.05"/><circle cx="101.0" cy="777.7" r="1.05"/><circle cx="128.9" cy="786.3" r="1.05"/><circle cx="117.4" cy="781.7" r="1.05"/><circle cx="112.9" cy="772.3" r="1.05"/><circle cx="133.6" cy="772.3" r="1.05"/><circle cx="107.0" cy="781.7" r="1.05"/><circle cx="102.3" cy="781.3" r="1.05"/><circle cx="132.4" cy="769.3" r="1.05"/><circle cx="135.7" cy="783.5" r="1.05"/><circle cx="132.5" cy="768.2" r="1.05"/><circle cx="101.4" cy="779.6" r="1.05"/><circle cx="109.7" cy="783.4" r="1.05"/><circle cx="122.7" cy="759.2" r="1.05"/><circle cx="127.4" cy="763.4" r="1.05"/><circle cx="123.3" cy="761.2" r="1.05"/><circle cx="123.5" cy="775.7" r="1.05"/><circle cx="129.0" cy="781.4" r="1.05"/><circle cx="134.4" cy="777.1" r="1.05"/><circle cx="120.4" cy="781.9" r="1.05"/><circle cx="119.5" cy="767.6" r="1.05"/><circle cx="118.5" cy="735.3" r="1.05"/><circle cx="116.7" cy="762.6" r="1.05"/><circle cx="124.3" cy="759.2" r="1.05"/><circle cx="106.9" cy="783.0" r="1.05"/><circle cx="100.8" cy="790.0" r="1.05"/><circle cx="135.4" cy="778.7" r="1.05"/><circle cx="118.4" cy="778.5" r="1.05"/><circle cx="130.9" cy="779.4" r="1.05"/><circle cx="130.6" cy="781.5" r="1.05"/><circle cx="106.3" cy="767.6" r="1.05"/><circle cx="132.3" cy="783.1" r="1.05"/><circle cx="114.1" cy="779.1" r="1.05"/><circle cx="117.9" cy="782.9" r="1.05"/><circle cx="117.8" cy="759.4" r="1.05"/><circle cx="115.2" cy="783.4" r="1.05"/><circle cx="132.5" cy="780.4" r="1.05"/><circle cx="108.2" cy="777.8" r="1.05"/><circle cx="119.0" cy="763.4" r="1.05"/><circle cx="117.1" cy="779.9" r="1.05"/><circle cx="110.5" cy="788.8" r="1.05"/><circle cx="102.6" cy="780.3" r="1.05"/><circle cx="128.1" cy="781.7" r="1.05"/><circle cx="128.1" cy="774.4" r="1.05"/><circle cx="102.2" cy="764.8" r="1.05"/><circle cx="118.3" cy="773.7" r="1.05"/><circle cx="119.1" cy="763.7" r="1.05"/><circle cx="125.3" cy="770.8" r="1.05"/><circle cx="106.4" cy="766.4" r="1.05"/><circle cx="134.7" cy="780.6" r="1.05"/><circle cx="126.1" cy="778.5" r="1.05"/><circle cx="105.0" cy="770.8" r="1.05"/><circle cx="137.1" cy="775.0" r="1.05"/><circle cx="119.5" cy="780.0" r="1.05"/><circle cx="127.7" cy="778.0" r="1.05"/><circle cx="125.9" cy="785.0" r="1.05"/><circle cx="116.3" cy="737.7" r="1.05"/><circle cx="117.5" cy="776.2" r="1.05"/><circle cx="101.0" cy="780.0" r="1.05"/><circle cx="130.8" cy="779.2" r="1.05"/><circle cx="125.0" cy="769.2" r="1.05"/><circle cx="102.5" cy="784.9" r="1.05"/><circle cx="123.2" cy="788.5" r="1.05"/><circle cx="127.6" cy="781.3" r="1.05"/><circle cx="106.8" cy="786.8" r="1.05"/><circle cx="131.9" cy="778.1" r="1.05"/><circle cx="125.6" cy="792.6" r="1.05"/><circle cx="112.1" cy="777.1" r="1.05"/><circle cx="120.1" cy="789.8" r="1.05"/><circle cx="127.7" cy="760.1" r="1.05"/><circle cx="131.3" cy="765.8" r="1.05"/><circle cx="131.1" cy="779.3" r="1.05"/><circle cx="110.7" cy="773.8" r="1.05"/><circle cx="120.1" cy="784.5" r="1.05"/><circle cx="134.9" cy="779.9" r="1.05"/><circle cx="128.4" cy="774.6" r="1.05"/><circle cx="106.4" cy="784.7" r="1.05"/><circle cx="104.9" cy="772.3" r="1.05"/><circle cx="134.8" cy="781.8" r="1.05"/><circle cx="100.2" cy="780.3" r="1.05"/><circle cx="104.7" cy="777.9" r="1.05"/><circle cx="101.0" cy="784.9" r="1.05"/><circle cx="122.9" cy="777.6" r="1.05"/><circle cx="101.0" cy="781.0" r="1.05"/><circle cx="110.1" cy="793.1" r="1.05"/><circle cx="134.6" cy="781.3" r="1.05"/><circle cx="109.2" cy="788.7" r="1.05"/><circle cx="116.4" cy="749.2" r="1.05"/><circle cx="112.5" cy="776.0" r="1.05"/><circle cx="128.7" cy="779.5" r="1.05"/><circle cx="100.6" cy="777.5" r="1.05"/><circle cx="115.8" cy="774.7" r="1.05"/><circle cx="101.6" cy="777.3" r="1.05"/><circle cx="136.0" cy="773.6" r="1.05"/><circle cx="134.8" cy="776.2" r="1.05"/><circle cx="132.5" cy="775.0" r="1.05"/><circle cx="116.6" cy="782.3" r="1.05"/><circle cx="135.1" cy="768.4" r="1.05"/><circle cx="128.3" cy="780.2" r="1.05"/><circle cx="106.2" cy="778.8" r="1.05"/><circle cx="115.6" cy="792.7" r="1.05"/><circle cx="118.7" cy="780.6" r="1.05"/><circle cx="105.3" cy="773.2" r="1.05"/><circle cx="122.9" cy="782.0" r="1.05"/><circle cx="127.2" cy="771.6" r="1.05"/><circle cx="102.6" cy="777.4" r="1.05"/><circle cx="122.1" cy="780.2" r="1.05"/><circle cx="128.1" cy="781.0" r="1.05"/><circle cx="132.8" cy="777.3" r="1.05"/><circle cx="130.6" cy="779.6" r="1.05"/><circle cx="126.4" cy="770.4" r="1.05"/><circle cx="103.8" cy="785.5" r="1.05"/><circle cx="124.8" cy="781.3" r="1.05"/><circle cx="123.8" cy="770.4" r="1.05"/><circle cx="113.4" cy="776.1" r="1.05"/><circle cx="106.7" cy="778.5" r="1.05"/><circle cx="113.5" cy="771.0" r="1.05"/><circle cx="103.2" cy="767.0" r="1.05"/><circle cx="124.3" cy="771.1" r="1.05"/><circle cx="119.5" cy="775.6" r="1.05"/><circle cx="136.5" cy="782.2" r="1.05"/><circle cx="109.9" cy="766.4" r="1.05"/><circle cx="112.0" cy="782.8" r="1.05"/><circle cx="105.9" cy="779.8" r="1.05"/><circle cx="134.3" cy="745.8" r="1.05"/><circle cx="116.7" cy="778.8" r="1.05"/><circle cx="129.3" cy="777.9" r="1.05"/><circle cx="100.6" cy="791.5" r="1.05"/><circle cx="132.7" cy="782.6" r="1.05"/><circle cx="130.6" cy="777.6" r="1.05"/><circle cx="119.0" cy="774.2" r="1.05"/><circle cx="109.0" cy="774.7" r="1.05"/><circle cx="121.8" cy="781.9" r="1.05"/><circle cx="136.7" cy="790.9" r="1.05"/><circle cx="106.7" cy="772.4" r="1.05"/><circle cx="118.8" cy="777.0" r="1.05"/><circle cx="136.3" cy="770.2" r="1.05"/><circle cx="127.7" cy="780.0" r="1.05"/><circle cx="100.4" cy="774.2" r="1.05"/><circle cx="104.5" cy="784.1" r="1.05"/><circle cx="116.7" cy="779.9" r="1.05"/><circle cx="110.6" cy="792.6" r="1.05"/><circle cx="109.5" cy="765.3" r="1.05"/><circle cx="120.5" cy="777.4" r="1.05"/><circle cx="126.7" cy="775.0" r="1.05"/><circle cx="123.2" cy="792.1" r="1.05"/><circle cx="130.2" cy="736.1" r="1.05"/><circle cx="106.4" cy="774.5" r="1.05"/><circle cx="107.6" cy="781.5" r="1.05"/><circle cx="102.7" cy="781.4" r="1.05"/><circle cx="123.0" cy="760.8" r="1.05"/><circle cx="135.4" cy="783.8" r="1.05"/><circle cx="106.8" cy="777.7" r="1.05"/><circle cx="111.7" cy="783.3" r="1.05"/><circle cx="118.9" cy="780.4" r="1.05"/><circle cx="106.3" cy="779.3" r="1.05"/><circle cx="132.0" cy="764.3" r="1.05"/><circle cx="108.5" cy="775.6" r="1.05"/><circle cx="126.6" cy="779.6" r="1.05"/><circle cx="104.2" cy="786.3" r="1.05"/><circle cx="137.2" cy="771.1" r="1.05"/><circle cx="114.5" cy="761.4" r="1.05"/><circle cx="117.1" cy="778.4" r="1.05"/><circle cx="115.0" cy="771.9" r="1.05"/><circle cx="120.8" cy="793.9" r="1.05"/><circle cx="110.4" cy="781.5" r="1.05"/><circle cx="119.5" cy="780.3" r="1.05"/><circle cx="121.0" cy="781.3" r="1.05"/><circle cx="104.1" cy="777.8" r="1.05"/><circle cx="115.2" cy="778.2" r="1.05"/><circle cx="131.5" cy="773.4" r="1.05"/><circle cx="114.8" cy="774.3" r="1.05"/><circle cx="122.3" cy="784.6" r="1.05"/><circle cx="99.8" cy="775.5" r="1.05"/><circle cx="123.4" cy="775.8" r="1.05"/><circle cx="102.5" cy="778.4" r="1.05"/><circle cx="113.3" cy="782.9" r="1.05"/><circle cx="135.1" cy="777.8" r="1.05"/><circle cx="117.5" cy="777.3" r="1.05"/><circle cx="109.7" cy="780.3" r="1.05"/><circle cx="128.8" cy="778.9" r="1.05"/><circle cx="116.4" cy="752.6" r="1.05"/><circle cx="115.5" cy="774.3" r="1.05"/><circle cx="108.6" cy="783.0" r="1.05"/><circle cx="109.8" cy="765.1" r="1.05"/><circle cx="104.5" cy="766.8" r="1.05"/><circle cx="119.0" cy="755.4" r="1.05"/></g><line x1="191.9" y1="726.6" x2="191.9" y2="793.7" stroke="#f08070" stroke-width="0.8"/><rect x="172" y="755.2" width="39.8" height="19.5" fill="#FF8566" stroke="#F26450" stroke-width="0.7"/><line x1="172" y1="765" x2="211.8" y2="765" stroke="#F26450" stroke-width="0.9"/><g fill="#FF0000"><circle cx="197.7" cy="668.8" r="1.05"/><circle cx="174.6" cy="794.0" r="1.05"/><circle cx="173.7" cy="780.7" r="1.05"/><circle cx="206.0" cy="759.6" r="1.05"/><circle cx="197.5" cy="758.3" r="1.05"/><circle cx="184.3" cy="772.6" r="1.05"/><circle cx="175.3" cy="757.4" r="1.05"/><circle cx="201.9" cy="770.2" r="1.05"/><circle cx="201.2" cy="776.0" r="1.05"/><circle cx="204.3" cy="763.6" r="1.05"/><circle cx="177.8" cy="765.9" r="1.05"/><circle cx="179.0" cy="780.0" r="1.05"/><circle cx="208.9" cy="770.4" r="1.05"/><circle cx="190.7" cy="752.3" r="1.05"/><circle cx="198.2" cy="760.6" r="1.05"/><circle cx="200.4" cy="761.5" r="1.05"/><circle cx="208.8" cy="756.2" r="1.05"/><circle cx="181.0" cy="778.6" r="1.05"/><circle cx="209.0" cy="755.9" r="1.05"/><circle cx="184.0" cy="750.8" r="1.05"/><circle cx="203.0" cy="750.7" r="1.05"/><circle cx="175.1" cy="766.2" r="1.05"/><circle cx="200.1" cy="765.4" r="1.05"/><circle cx="181.9" cy="771.9" r="1.05"/><circle cx="203.1" cy="771.7" r="1.05"/><circle cx="192.6" cy="750.2" r="1.05"/><circle cx="203.1" cy="778.3" r="1.05"/><circle cx="189.1" cy="674.5" r="1.05"/><circle cx="189.7" cy="775.0" r="1.05"/><circle cx="181.0" cy="763.9" r="1.05"/><circle cx="175.4" cy="739.3" r="1.05"/><circle cx="181.1" cy="746.0" r="1.05"/><circle cx="207.5" cy="768.5" r="1.05"/><circle cx="173.6" cy="740.4" r="1.05"/><circle cx="198.6" cy="763.3" r="1.05"/><circle cx="183.6" cy="754.2" r="1.05"/><circle cx="195.9" cy="757.5" r="1.05"/><circle cx="180.3" cy="767.9" r="1.05"/><circle cx="190.8" cy="729.8" r="1.05"/><circle cx="189.4" cy="762.7" r="1.05"/><circle cx="210.1" cy="778.7" r="1.05"/><circle cx="203.7" cy="767.7" r="1.05"/><circle cx="209.9" cy="771.2" r="1.05"/><circle cx="181.2" cy="766.9" r="1.05"/><circle cx="176.1" cy="772.7" r="1.05"/><circle cx="188.3" cy="766.9" r="1.05"/><circle cx="206.6" cy="768.6" r="1.05"/><circle cx="203.5" cy="769.3" r="1.05"/><circle cx="189.3" cy="760.3" r="1.05"/><circle cx="192.3" cy="730.6" r="1.05"/><circle cx="184.7" cy="773.7" r="1.05"/><circle cx="202.2" cy="764.4" r="1.05"/><circle cx="177.4" cy="726.6" r="1.05"/><circle cx="181.0" cy="765.7" r="1.05"/><circle cx="195.6" cy="773.9" r="1.05"/><circle cx="208.6" cy="769.4" r="1.05"/><circle cx="173.6" cy="757.3" r="1.05"/><circle cx="176.3" cy="753.3" r="1.05"/><circle cx="207.7" cy="762.9" r="1.05"/><circle cx="191.8" cy="757.3" r="1.05"/><circle cx="175.6" cy="787.1" r="1.05"/><circle cx="193.3" cy="769.5" r="1.05"/><circle cx="179.1" cy="765.8" r="1.05"/><circle cx="198.8" cy="683.8" r="1.05"/><circle cx="186.3" cy="766.4" r="1.05"/><circle cx="207.7" cy="725.3" r="1.05"/><circle cx="183.2" cy="709.4" r="1.05"/><circle cx="195.3" cy="782.2" r="1.05"/><circle cx="187.9" cy="762.5" r="1.05"/><circle cx="192.6" cy="781.9" r="1.05"/><circle cx="188.5" cy="771.8" r="1.05"/><circle cx="199.9" cy="748.8" r="1.05"/><circle cx="185.5" cy="739.2" r="1.05"/><circle cx="174.5" cy="736.0" r="1.05"/><circle cx="187.5" cy="764.2" r="1.05"/><circle cx="174.0" cy="755.6" r="1.05"/><circle cx="184.7" cy="783.0" r="1.05"/><circle cx="203.6" cy="765.9" r="1.05"/><circle cx="200.8" cy="752.9" r="1.05"/><circle cx="184.3" cy="756.9" r="1.05"/><circle cx="188.6" cy="753.4" r="1.05"/><circle cx="188.3" cy="771.8" r="1.05"/><circle cx="180.1" cy="758.5" r="1.05"/><circle cx="197.1" cy="759.2" r="1.05"/><circle cx="208.0" cy="765.0" r="1.05"/><circle cx="186.3" cy="769.7" r="1.05"/><circle cx="208.9" cy="776.7" r="1.05"/><circle cx="205.0" cy="763.6" r="1.05"/><circle cx="188.7" cy="754.4" r="1.05"/><circle cx="209.1" cy="753.8" r="1.05"/><circle cx="176.2" cy="766.0" r="1.05"/><circle cx="205.6" cy="770.7" r="1.05"/><circle cx="178.9" cy="746.2" r="1.05"/><circle cx="182.8" cy="769.9" r="1.05"/><circle cx="189.3" cy="769.4" r="1.05"/><circle cx="174.4" cy="759.5" r="1.05"/><circle cx="183.9" cy="773.6" r="1.05"/><circle cx="174.4" cy="752.9" r="1.05"/><circle cx="180.1" cy="787.4" r="1.05"/><circle cx="203.3" cy="733.1" r="1.05"/><circle cx="188.4" cy="746.1" r="1.05"/><circle cx="183.3" cy="768.9" r="1.05"/><circle cx="197.7" cy="767.6" r="1.05"/><circle cx="180.8" cy="766.2" r="1.05"/><circle cx="177.3" cy="777.3" r="1.05"/><circle cx="176.9" cy="764.3" r="1.05"/><circle cx="205.4" cy="765.5" r="1.05"/><circle cx="176.3" cy="764.3" r="1.05"/><circle cx="207.0" cy="761.8" r="1.05"/><circle cx="207.4" cy="722.3" r="1.05"/><circle cx="205.8" cy="765.4" r="1.05"/><circle cx="174.1" cy="768.9" r="1.05"/><circle cx="178.3" cy="748.2" r="1.05"/><circle cx="190.7" cy="771.9" r="1.05"/><circle cx="200.8" cy="757.3" r="1.05"/><circle cx="176.6" cy="790.5" r="1.05"/><circle cx="175.1" cy="764.6" r="1.05"/><circle cx="173.8" cy="763.6" r="1.05"/><circle cx="177.3" cy="765.9" r="1.05"/><circle cx="209.5" cy="740.2" r="1.05"/><circle cx="202.9" cy="757.2" r="1.05"/><circle cx="201.7" cy="772.6" r="1.05"/><circle cx="201.0" cy="777.7" r="1.05"/><circle cx="184.1" cy="759.0" r="1.05"/><circle cx="179.3" cy="756.1" r="1.05"/><circle cx="178.8" cy="760.1" r="1.05"/><circle cx="184.4" cy="751.7" r="1.05"/><circle cx="179.0" cy="769.0" r="1.05"/><circle cx="174.9" cy="767.7" r="1.05"/><circle cx="184.2" cy="766.0" r="1.05"/><circle cx="202.0" cy="775.4" r="1.05"/><circle cx="193.0" cy="758.7" r="1.05"/><circle cx="187.9" cy="772.2" r="1.05"/><circle cx="188.0" cy="780.4" r="1.05"/><circle cx="201.1" cy="752.4" r="1.05"/><circle cx="192.6" cy="774.4" r="1.05"/><circle cx="174.6" cy="745.6" r="1.05"/><circle cx="186.6" cy="758.7" r="1.05"/><circle cx="206.4" cy="777.2" r="1.05"/><circle cx="185.4" cy="767.4" r="1.05"/><circle cx="194.0" cy="779.5" r="1.05"/><circle cx="174.7" cy="769.2" r="1.05"/><circle cx="173.2" cy="769.1" r="1.05"/><circle cx="200.2" cy="767.3" r="1.05"/><circle cx="181.2" cy="767.1" r="1.05"/><circle cx="178.6" cy="765.5" r="1.05"/><circle cx="185.7" cy="775.0" r="1.05"/><circle cx="207.3" cy="716.4" r="1.05"/><circle cx="210.1" cy="782.9" r="1.05"/><circle cx="200.0" cy="767.5" r="1.05"/><circle cx="185.4" cy="764.1" r="1.05"/><circle cx="199.4" cy="725.7" r="1.05"/><circle cx="195.9" cy="765.3" r="1.05"/><circle cx="187.7" cy="759.0" r="1.05"/><circle cx="193.5" cy="766.9" r="1.05"/><circle cx="194.7" cy="776.1" r="1.05"/><circle cx="179.1" cy="779.2" r="1.05"/><circle cx="174.9" cy="773.2" r="1.05"/><circle cx="186.6" cy="779.5" r="1.05"/><circle cx="209.1" cy="758.6" r="1.05"/><circle cx="175.6" cy="753.1" r="1.05"/><circle cx="203.2" cy="756.3" r="1.05"/><circle cx="176.8" cy="772.0" r="1.05"/><circle cx="210.2" cy="776.0" r="1.05"/><circle cx="196.4" cy="718.6" r="1.05"/><circle cx="194.9" cy="765.3" r="1.05"/><circle cx="180.7" cy="756.7" r="1.05"/><circle cx="204.1" cy="749.0" r="1.05"/><circle cx="180.3" cy="765.5" r="1.05"/><circle cx="174.7" cy="764.8" r="1.05"/><circle cx="201.7" cy="776.4" r="1.05"/><circle cx="174.6" cy="763.2" r="1.05"/><circle cx="181.2" cy="781.1" r="1.05"/><circle cx="194.3" cy="766.8" r="1.05"/><circle cx="190.2" cy="787.4" r="1.05"/><circle cx="175.0" cy="761.4" r="1.05"/><circle cx="179.7" cy="781.3" r="1.05"/><circle cx="199.2" cy="777.4" r="1.05"/><circle cx="197.0" cy="743.9" r="1.05"/><circle cx="188.3" cy="763.4" r="1.05"/><circle cx="187.5" cy="772.1" r="1.05"/><circle cx="187.7" cy="770.7" r="1.05"/><circle cx="210.0" cy="779.6" r="1.05"/><circle cx="193.7" cy="746.1" r="1.05"/><circle cx="209.5" cy="762.8" r="1.05"/><circle cx="209.8" cy="769.6" r="1.05"/><circle cx="198.1" cy="771.1" r="1.05"/><circle cx="200.3" cy="758.6" r="1.05"/><circle cx="203.9" cy="786.5" r="1.05"/><circle cx="187.4" cy="757.1" r="1.05"/><circle cx="178.5" cy="744.5" r="1.05"/><circle cx="190.5" cy="756.6" r="1.05"/><circle cx="182.7" cy="788.8" r="1.05"/><circle cx="196.2" cy="767.7" r="1.05"/><circle cx="183.0" cy="710.7" r="1.05"/><circle cx="184.3" cy="770.9" r="1.05"/><circle cx="198.3" cy="751.6" r="1.05"/><circle cx="177.9" cy="775.7" r="1.05"/><circle cx="204.0" cy="768.2" r="1.05"/><circle cx="196.7" cy="766.8" r="1.05"/><circle cx="199.7" cy="768.9" r="1.05"/><circle cx="193.3" cy="769.9" r="1.05"/><circle cx="187.8" cy="760.8" r="1.05"/><circle cx="179.4" cy="778.8" r="1.05"/><circle cx="202.4" cy="777.5" r="1.05"/><circle cx="188.5" cy="756.0" r="1.05"/><circle cx="202.0" cy="733.7" r="1.05"/><circle cx="196.4" cy="755.1" r="1.05"/><circle cx="179.9" cy="764.4" r="1.05"/><circle cx="204.4" cy="754.6" r="1.05"/><circle cx="204.3" cy="762.5" r="1.05"/><circle cx="179.9" cy="751.0" r="1.05"/><circle cx="207.8" cy="758.1" r="1.05"/><circle cx="207.2" cy="780.6" r="1.05"/><circle cx="198.0" cy="772.9" r="1.05"/><circle cx="179.1" cy="780.1" r="1.05"/><circle cx="180.3" cy="771.8" r="1.05"/><circle cx="185.8" cy="774.4" r="1.05"/><circle cx="204.2" cy="744.8" r="1.05"/><circle cx="182.8" cy="783.6" r="1.05"/><circle cx="190.6" cy="780.0" r="1.05"/><circle cx="199.9" cy="770.5" r="1.05"/><circle cx="177.4" cy="778.8" r="1.05"/><circle cx="185.8" cy="761.3" r="1.05"/><circle cx="183.0" cy="751.2" r="1.05"/><circle cx="180.1" cy="762.2" r="1.05"/><circle cx="196.4" cy="772.8" r="1.05"/><circle cx="196.8" cy="790.7" r="1.05"/><circle cx="208.1" cy="778.3" r="1.05"/><circle cx="209.4" cy="760.5" r="1.05"/><circle cx="184.2" cy="773.7" r="1.05"/><circle cx="175.8" cy="769.6" r="1.05"/><circle cx="197.4" cy="773.1" r="1.05"/><circle cx="186.0" cy="755.6" r="1.05"/><circle cx="175.0" cy="781.8" r="1.05"/><circle cx="199.1" cy="765.9" r="1.05"/><circle cx="187.1" cy="776.3" r="1.05"/><circle cx="204.4" cy="746.6" r="1.05"/><circle cx="177.9" cy="778.0" r="1.05"/><circle cx="199.2" cy="777.3" r="1.05"/><circle cx="173.8" cy="755.4" r="1.05"/><circle cx="192.5" cy="769.0" r="1.05"/><circle cx="194.8" cy="761.1" r="1.05"/><circle cx="203.5" cy="772.2" r="1.05"/><circle cx="187.7" cy="747.1" r="1.05"/><circle cx="206.7" cy="762.1" r="1.05"/><circle cx="185.9" cy="771.1" r="1.05"/><circle cx="205.8" cy="754.6" r="1.05"/><circle cx="210.5" cy="742.2" r="1.05"/><circle cx="178.7" cy="752.5" r="1.05"/><circle cx="206.2" cy="771.8" r="1.05"/><circle cx="203.1" cy="788.1" r="1.05"/><circle cx="187.1" cy="779.8" r="1.05"/><circle cx="182.7" cy="767.5" r="1.05"/><circle cx="205.2" cy="767.9" r="1.05"/><circle cx="184.8" cy="772.3" r="1.05"/><circle cx="177.7" cy="788.7" r="1.05"/><circle cx="202.6" cy="757.0" r="1.05"/><circle cx="175.4" cy="739.6" r="1.05"/><circle cx="181.0" cy="745.2" r="1.05"/><circle cx="198.1" cy="746.1" r="1.05"/><circle cx="207.0" cy="755.0" r="1.05"/><circle cx="207.4" cy="780.6" r="1.05"/><circle cx="196.4" cy="740.6" r="1.05"/><circle cx="176.0" cy="759.1" r="1.05"/><circle cx="208.1" cy="772.6" r="1.05"/><circle cx="193.2" cy="740.1" r="1.05"/><circle cx="195.7" cy="763.1" r="1.05"/><circle cx="184.3" cy="732.7" r="1.05"/><circle cx="181.6" cy="764.5" r="1.05"/><circle cx="179.5" cy="771.3" r="1.05"/><circle cx="203.9" cy="760.7" r="1.05"/><circle cx="191.6" cy="770.6" r="1.05"/><circle cx="185.0" cy="762.2" r="1.05"/><circle cx="210.4" cy="766.3" r="1.05"/><circle cx="201.5" cy="793.8" r="1.05"/><circle cx="185.9" cy="765.0" r="1.05"/><circle cx="206.8" cy="763.9" r="1.05"/><circle cx="201.0" cy="743.9" r="1.05"/><circle cx="184.0" cy="722.1" r="1.05"/><circle cx="192.3" cy="751.3" r="1.05"/><circle cx="180.5" cy="774.6" r="1.05"/><circle cx="203.7" cy="757.0" r="1.05"/><circle cx="181.1" cy="778.0" r="1.05"/><circle cx="182.9" cy="790.0" r="1.05"/><circle cx="192.7" cy="747.0" r="1.05"/><circle cx="182.1" cy="752.8" r="1.05"/><circle cx="174.8" cy="786.7" r="1.05"/><circle cx="201.2" cy="784.3" r="1.05"/><circle cx="201.3" cy="778.4" r="1.05"/><circle cx="187.1" cy="770.3" r="1.05"/><circle cx="179.8" cy="779.3" r="1.05"/><circle cx="207.7" cy="765.1" r="1.05"/><circle cx="180.9" cy="754.5" r="1.05"/><circle cx="201.1" cy="767.9" r="1.05"/><circle cx="204.9" cy="772.0" r="1.05"/><circle cx="186.5" cy="764.4" r="1.05"/><circle cx="207.0" cy="784.4" r="1.05"/><circle cx="186.4" cy="791.2" r="1.05"/><circle cx="181.1" cy="754.6" r="1.05"/><circle cx="195.9" cy="772.6" r="1.05"/><circle cx="177.4" cy="764.0" r="1.05"/><circle cx="174.3" cy="774.2" r="1.05"/><circle cx="194.5" cy="768.0" r="1.05"/><circle cx="195.6" cy="729.4" r="1.05"/><circle cx="201.5" cy="791.3" r="1.05"/><circle cx="197.7" cy="767.7" r="1.05"/><circle cx="177.6" cy="758.4" r="1.05"/><circle cx="191.7" cy="780.4" r="1.05"/><circle cx="203.4" cy="768.0" r="1.05"/><circle cx="182.0" cy="724.6" r="1.05"/><circle cx="196.0" cy="789.8" r="1.05"/><circle cx="196.1" cy="758.4" r="1.05"/><circle cx="204.1" cy="780.9" r="1.05"/><circle cx="176.0" cy="781.3" r="1.05"/><circle cx="191.8" cy="772.7" r="1.05"/><circle cx="198.6" cy="749.9" r="1.05"/><circle cx="197.7" cy="757.7" r="1.05"/><circle cx="199.4" cy="735.8" r="1.05"/><circle cx="193.4" cy="771.6" r="1.05"/><circle cx="174.5" cy="779.4" r="1.05"/><circle cx="203.2" cy="757.1" r="1.05"/><circle cx="201.2" cy="773.9" r="1.05"/><circle cx="182.4" cy="762.0" r="1.05"/><circle cx="179.6" cy="763.9" r="1.05"/><circle cx="205.2" cy="772.6" r="1.05"/><circle cx="186.9" cy="778.9" r="1.05"/><circle cx="192.7" cy="754.4" r="1.05"/><circle cx="183.9" cy="757.1" r="1.05"/><circle cx="183.2" cy="744.5" r="1.05"/><circle cx="177.9" cy="767.0" r="1.05"/><circle cx="193.7" cy="745.4" r="1.05"/><circle cx="203.3" cy="784.2" r="1.05"/><circle cx="183.0" cy="672.9" r="1.05"/><circle cx="174.5" cy="743.7" r="1.05"/><circle cx="203.7" cy="766.1" r="1.05"/><circle cx="206.1" cy="777.9" r="1.05"/><circle cx="198.8" cy="766.9" r="1.05"/><circle cx="180.1" cy="787.6" r="1.05"/><circle cx="198.9" cy="779.3" r="1.05"/><circle cx="188.1" cy="762.9" r="1.05"/><circle cx="184.2" cy="779.7" r="1.05"/><circle cx="180.5" cy="791.6" r="1.05"/><circle cx="177.3" cy="775.4" r="1.05"/><circle cx="174.4" cy="766.9" r="1.05"/><circle cx="184.0" cy="756.9" r="1.05"/><circle cx="206.6" cy="756.2" r="1.05"/><circle cx="190.0" cy="771.9" r="1.05"/><circle cx="199.4" cy="757.8" r="1.05"/><circle cx="180.2" cy="770.8" r="1.05"/><circle cx="184.4" cy="724.9" r="1.05"/><circle cx="187.2" cy="751.4" r="1.05"/><circle cx="181.4" cy="763.6" r="1.05"/><circle cx="193.2" cy="770.3" r="1.05"/><circle cx="187.2" cy="767.2" r="1.05"/><circle cx="210.7" cy="775.6" r="1.05"/><circle cx="192.3" cy="774.0" r="1.05"/><circle cx="175.6" cy="753.7" r="1.05"/><circle cx="201.6" cy="756.3" r="1.05"/><circle cx="190.4" cy="756.0" r="1.05"/><circle cx="184.2" cy="761.8" r="1.05"/><circle cx="190.8" cy="778.8" r="1.05"/><circle cx="185.4" cy="765.4" r="1.05"/><circle cx="206.0" cy="767.9" r="1.05"/><circle cx="202.0" cy="767.3" r="1.05"/><circle cx="203.8" cy="791.7" r="1.05"/><circle cx="207.3" cy="744.0" r="1.05"/><circle cx="188.5" cy="681.5" r="1.05"/><circle cx="190.2" cy="769.2" r="1.05"/><circle cx="183.8" cy="785.9" r="1.05"/><circle cx="202.8" cy="755.4" r="1.05"/><circle cx="197.9" cy="766.7" r="1.05"/><circle cx="200.3" cy="752.6" r="1.05"/><circle cx="202.3" cy="775.3" r="1.05"/><circle cx="201.1" cy="755.2" r="1.05"/><circle cx="196.5" cy="770.9" r="1.05"/><circle cx="185.7" cy="761.6" r="1.05"/><circle cx="193.0" cy="760.8" r="1.05"/><circle cx="194.3" cy="764.8" r="1.05"/><circle cx="198.9" cy="778.7" r="1.05"/><circle cx="176.2" cy="761.1" r="1.05"/><circle cx="203.8" cy="771.8" r="1.05"/><circle cx="188.2" cy="735.0" r="1.05"/><circle cx="200.9" cy="774.8" r="1.05"/><circle cx="203.6" cy="772.7" r="1.05"/><circle cx="190.2" cy="761.8" r="1.05"/><circle cx="195.9" cy="759.8" r="1.05"/><circle cx="188.8" cy="777.8" r="1.05"/><circle cx="191.8" cy="755.4" r="1.05"/><circle cx="174.5" cy="753.7" r="1.05"/><circle cx="201.4" cy="775.5" r="1.05"/><circle cx="196.9" cy="683.8" r="1.05"/><circle cx="179.3" cy="747.2" r="1.05"/><circle cx="206.0" cy="739.5" r="1.05"/><circle cx="204.2" cy="763.3" r="1.05"/><circle cx="186.0" cy="784.0" r="1.05"/><circle cx="201.9" cy="732.5" r="1.05"/><circle cx="176.7" cy="771.5" r="1.05"/><circle cx="186.1" cy="719.1" r="1.05"/><circle cx="198.9" cy="763.4" r="1.05"/><circle cx="181.4" cy="760.5" r="1.05"/><circle cx="197.4" cy="769.1" r="1.05"/><circle cx="184.3" cy="753.3" r="1.05"/><circle cx="190.4" cy="765.6" r="1.05"/><circle cx="180.3" cy="771.2" r="1.05"/><circle cx="186.4" cy="756.7" r="1.05"/><circle cx="209.1" cy="777.0" r="1.05"/><circle cx="194.6" cy="779.5" r="1.05"/><circle cx="201.0" cy="760.5" r="1.05"/><circle cx="204.7" cy="713.1" r="1.05"/><circle cx="173.3" cy="747.8" r="1.05"/><circle cx="198.6" cy="770.8" r="1.05"/><circle cx="177.7" cy="762.5" r="1.05"/><circle cx="205.6" cy="762.0" r="1.05"/><circle cx="189.4" cy="771.8" r="1.05"/><circle cx="206.2" cy="770.9" r="1.05"/><circle cx="182.0" cy="756.2" r="1.05"/><circle cx="177.5" cy="771.3" r="1.05"/><circle cx="199.1" cy="757.0" r="1.05"/><circle cx="180.0" cy="716.6" r="1.05"/><circle cx="208.7" cy="771.2" r="1.05"/><circle cx="200.3" cy="761.8" r="1.05"/><circle cx="176.7" cy="760.3" r="1.05"/><circle cx="201.7" cy="765.6" r="1.05"/><circle cx="194.4" cy="757.9" r="1.05"/><circle cx="204.9" cy="764.7" r="1.05"/><circle cx="176.7" cy="764.3" r="1.05"/><circle cx="204.7" cy="776.6" r="1.05"/><circle cx="209.9" cy="754.4" r="1.05"/><circle cx="205.4" cy="751.9" r="1.05"/><circle cx="181.5" cy="771.7" r="1.05"/><circle cx="182.0" cy="762.3" r="1.05"/><circle cx="207.9" cy="783.8" r="1.05"/><circle cx="191.8" cy="770.3" r="1.05"/><circle cx="198.4" cy="792.6" r="1.05"/><circle cx="190.8" cy="745.7" r="1.05"/><circle cx="190.2" cy="742.5" r="1.05"/><circle cx="191.3" cy="760.5" r="1.05"/><circle cx="203.6" cy="783.8" r="1.05"/><circle cx="205.4" cy="762.4" r="1.05"/><circle cx="186.6" cy="765.9" r="1.05"/><circle cx="177.5" cy="759.0" r="1.05"/><circle cx="193.9" cy="734.2" r="1.05"/><circle cx="183.3" cy="758.4" r="1.05"/><circle cx="199.1" cy="752.9" r="1.05"/><circle cx="181.8" cy="757.0" r="1.05"/><circle cx="173.8" cy="766.8" r="1.05"/><circle cx="208.3" cy="758.4" r="1.05"/><circle cx="175.6" cy="760.8" r="1.05"/><circle cx="190.2" cy="764.0" r="1.05"/><circle cx="203.5" cy="779.5" r="1.05"/><circle cx="201.7" cy="772.9" r="1.05"/><circle cx="192.5" cy="758.0" r="1.05"/><circle cx="209.5" cy="771.2" r="1.05"/><circle cx="210.0" cy="760.8" r="1.05"/><circle cx="181.5" cy="778.3" r="1.05"/><circle cx="199.1" cy="678.5" r="1.05"/><circle cx="210.6" cy="754.8" r="1.05"/><circle cx="206.4" cy="780.0" r="1.05"/><circle cx="175.7" cy="756.7" r="1.05"/><circle cx="179.2" cy="754.6" r="1.05"/><circle cx="190.3" cy="710.1" r="1.05"/><circle cx="183.6" cy="755.2" r="1.05"/><circle cx="187.0" cy="755.5" r="1.05"/><circle cx="196.3" cy="764.4" r="1.05"/><circle cx="208.0" cy="765.3" r="1.05"/><circle cx="205.1" cy="769.3" r="1.05"/><circle cx="203.6" cy="745.8" r="1.05"/><circle cx="180.7" cy="743.9" r="1.05"/><circle cx="209.0" cy="766.7" r="1.05"/><circle cx="201.9" cy="760.1" r="1.05"/><circle cx="184.9" cy="768.6" r="1.05"/><circle cx="177.4" cy="781.8" r="1.05"/><circle cx="208.8" cy="791.9" r="1.05"/><circle cx="196.0" cy="756.7" r="1.05"/><circle cx="200.8" cy="770.5" r="1.05"/><circle cx="193.5" cy="777.8" r="1.05"/><circle cx="183.4" cy="759.9" r="1.05"/><circle cx="204.5" cy="776.3" r="1.05"/><circle cx="205.3" cy="774.2" r="1.05"/><circle cx="201.9" cy="777.4" r="1.05"/><circle cx="204.1" cy="768.7" r="1.05"/><circle cx="198.4" cy="720.7" r="1.05"/><circle cx="210.7" cy="748.8" r="1.05"/><circle cx="204.4" cy="749.8" r="1.05"/><circle cx="183.7" cy="777.6" r="1.05"/><circle cx="191.8" cy="782.9" r="1.05"/><circle cx="194.9" cy="757.7" r="1.05"/><circle cx="176.0" cy="764.2" r="1.05"/><circle cx="179.6" cy="748.8" r="1.05"/><circle cx="191.3" cy="788.8" r="1.05"/><circle cx="179.3" cy="752.6" r="1.05"/><circle cx="197.3" cy="764.6" r="1.05"/><circle cx="195.5" cy="749.2" r="1.05"/><circle cx="208.4" cy="760.1" r="1.05"/><circle cx="193.9" cy="757.0" r="1.05"/><circle cx="197.8" cy="758.4" r="1.05"/><circle cx="202.1" cy="760.3" r="1.05"/><circle cx="190.5" cy="769.2" r="1.05"/><circle cx="203.4" cy="768.4" r="1.05"/><circle cx="206.2" cy="741.3" r="1.05"/><circle cx="199.5" cy="732.4" r="1.05"/><circle cx="182.7" cy="755.4" r="1.05"/><circle cx="188.2" cy="753.9" r="1.05"/><circle cx="179.3" cy="756.3" r="1.05"/><circle cx="181.7" cy="773.8" r="1.05"/><circle cx="208.1" cy="743.6" r="1.05"/><circle cx="206.1" cy="764.0" r="1.05"/><circle cx="185.1" cy="748.7" r="1.05"/><circle cx="181.5" cy="769.4" r="1.05"/><circle cx="173.3" cy="765.7" r="1.05"/><circle cx="202.0" cy="753.3" r="1.05"/><circle cx="189.7" cy="754.9" r="1.05"/><circle cx="185.4" cy="746.8" r="1.05"/><circle cx="200.3" cy="746.7" r="1.05"/><circle cx="195.7" cy="779.4" r="1.05"/><circle cx="200.1" cy="775.8" r="1.05"/><circle cx="209.2" cy="762.6" r="1.05"/><circle cx="195.2" cy="773.8" r="1.05"/><circle cx="188.8" cy="772.2" r="1.05"/><circle cx="195.4" cy="765.9" r="1.05"/><circle cx="206.1" cy="759.7" r="1.05"/><circle cx="200.3" cy="752.6" r="1.05"/><circle cx="196.7" cy="775.6" r="1.05"/><circle cx="194.6" cy="784.6" r="1.05"/><circle cx="205.4" cy="759.4" r="1.05"/><circle cx="207.8" cy="760.5" r="1.05"/><circle cx="191.2" cy="767.8" r="1.05"/><circle cx="194.6" cy="788.6" r="1.05"/><circle cx="189.9" cy="765.5" r="1.05"/><circle cx="185.0" cy="781.8" r="1.05"/><circle cx="203.7" cy="777.2" r="1.05"/><circle cx="192.4" cy="787.0" r="1.05"/><circle cx="208.0" cy="766.0" r="1.05"/><circle cx="195.0" cy="776.2" r="1.05"/><circle cx="175.9" cy="759.1" r="1.05"/><circle cx="202.3" cy="756.8" r="1.05"/><circle cx="209.0" cy="779.3" r="1.05"/><circle cx="205.8" cy="772.2" r="1.05"/><circle cx="173.4" cy="760.8" r="1.05"/><circle cx="193.8" cy="753.2" r="1.05"/><circle cx="204.9" cy="773.5" r="1.05"/><circle cx="204.3" cy="769.6" r="1.05"/><circle cx="176.0" cy="782.1" r="1.05"/><circle cx="205.8" cy="758.6" r="1.05"/><circle cx="189.9" cy="759.5" r="1.05"/><circle cx="193.5" cy="785.7" r="1.05"/><circle cx="205.8" cy="772.7" r="1.05"/><circle cx="198.2" cy="760.7" r="1.05"/><circle cx="205.5" cy="763.4" r="1.05"/><circle cx="205.2" cy="732.1" r="1.05"/><circle cx="193.6" cy="753.9" r="1.05"/><circle cx="182.8" cy="761.3" r="1.05"/><circle cx="199.9" cy="765.1" r="1.05"/><circle cx="207.0" cy="768.4" r="1.05"/><circle cx="181.7" cy="759.8" r="1.05"/><circle cx="178.4" cy="769.2" r="1.05"/><circle cx="180.1" cy="761.7" r="1.05"/><circle cx="174.5" cy="770.2" r="1.05"/><circle cx="203.7" cy="767.5" r="1.05"/><circle cx="177.5" cy="781.9" r="1.05"/><circle cx="181.9" cy="767.0" r="1.05"/><circle cx="188.5" cy="762.6" r="1.05"/><circle cx="175.5" cy="770.9" r="1.05"/><circle cx="196.9" cy="777.3" r="1.05"/><circle cx="180.7" cy="762.0" r="1.05"/><circle cx="206.3" cy="765.0" r="1.05"/><circle cx="196.3" cy="784.8" r="1.05"/><circle cx="183.3" cy="760.3" r="1.05"/><circle cx="209.4" cy="776.1" r="1.05"/><circle cx="183.8" cy="761.7" r="1.05"/><circle cx="207.4" cy="771.8" r="1.05"/><circle cx="182.9" cy="745.4" r="1.05"/><circle cx="177.8" cy="711.7" r="1.05"/><circle cx="194.7" cy="791.1" r="1.05"/><circle cx="206.6" cy="764.8" r="1.05"/><circle cx="187.9" cy="779.1" r="1.05"/><circle cx="176.0" cy="767.9" r="1.05"/><circle cx="190.4" cy="756.9" r="1.05"/><circle cx="206.7" cy="765.2" r="1.05"/><circle cx="182.8" cy="766.5" r="1.05"/><circle cx="207.7" cy="772.9" r="1.05"/><circle cx="200.1" cy="790.2" r="1.05"/><circle cx="177.6" cy="782.0" r="1.05"/><circle cx="188.2" cy="762.1" r="1.05"/><circle cx="179.8" cy="753.5" r="1.05"/><circle cx="195.9" cy="766.3" r="1.05"/><circle cx="174.4" cy="745.6" r="1.05"/><circle cx="193.3" cy="761.9" r="1.05"/><circle cx="173.6" cy="773.6" r="1.05"/><circle cx="208.8" cy="765.2" r="1.05"/><circle cx="205.4" cy="762.8" r="1.05"/><circle cx="197.2" cy="754.1" r="1.05"/><circle cx="183.2" cy="767.9" r="1.05"/><circle cx="180.3" cy="753.1" r="1.05"/><circle cx="197.2" cy="766.4" r="1.05"/><circle cx="184.2" cy="768.0" r="1.05"/><circle cx="206.6" cy="762.7" r="1.05"/><circle cx="183.1" cy="781.8" r="1.05"/><circle cx="187.2" cy="763.1" r="1.05"/><circle cx="186.8" cy="768.7" r="1.05"/><circle cx="201.2" cy="766.5" r="1.05"/><circle cx="191.9" cy="779.3" r="1.05"/><circle cx="175.0" cy="757.1" r="1.05"/><circle cx="198.5" cy="765.8" r="1.05"/><circle cx="188.4" cy="751.4" r="1.05"/><circle cx="181.1" cy="759.5" r="1.05"/><circle cx="210.4" cy="669.1" r="1.05"/><circle cx="189.5" cy="765.8" r="1.05"/><circle cx="198.9" cy="775.9" r="1.05"/><circle cx="210.1" cy="765.7" r="1.05"/><circle cx="208.4" cy="774.0" r="1.05"/><circle cx="174.4" cy="773.8" r="1.05"/><circle cx="176.3" cy="771.2" r="1.05"/><circle cx="173.8" cy="767.0" r="1.05"/><circle cx="195.7" cy="778.0" r="1.05"/><circle cx="181.8" cy="706.9" r="1.05"/><circle cx="206.1" cy="761.9" r="1.05"/><circle cx="203.6" cy="767.2" r="1.05"/><circle cx="197.8" cy="783.2" r="1.05"/><circle cx="190.9" cy="764.4" r="1.05"/><circle cx="180.0" cy="764.7" r="1.05"/><circle cx="204.9" cy="758.1" r="1.05"/><circle cx="187.1" cy="768.8" r="1.05"/><circle cx="182.7" cy="782.1" r="1.05"/><circle cx="197.2" cy="789.9" r="1.05"/><circle cx="202.3" cy="770.6" r="1.05"/><circle cx="207.9" cy="770.4" r="1.05"/><circle cx="203.8" cy="771.6" r="1.05"/><circle cx="207.1" cy="763.1" r="1.05"/><circle cx="206.5" cy="754.9" r="1.05"/><circle cx="198.6" cy="757.1" r="1.05"/><circle cx="174.2" cy="735.0" r="1.05"/><circle cx="205.4" cy="762.6" r="1.05"/><circle cx="191.7" cy="712.7" r="1.05"/><circle cx="196.6" cy="767.8" r="1.05"/><circle cx="195.5" cy="787.0" r="1.05"/><circle cx="205.8" cy="766.9" r="1.05"/><circle cx="209.5" cy="760.6" r="1.05"/><circle cx="193.3" cy="778.6" r="1.05"/><circle cx="195.8" cy="754.4" r="1.05"/><circle cx="193.0" cy="760.2" r="1.05"/><circle cx="190.9" cy="752.5" r="1.05"/><circle cx="174.9" cy="777.6" r="1.05"/><circle cx="174.2" cy="766.2" r="1.05"/><circle cx="204.0" cy="780.8" r="1.05"/><circle cx="196.8" cy="768.9" r="1.05"/><circle cx="209.6" cy="749.1" r="1.05"/><circle cx="180.1" cy="782.0" r="1.05"/><circle cx="201.9" cy="767.2" r="1.05"/><circle cx="186.2" cy="776.9" r="1.05"/><circle cx="196.7" cy="751.8" r="1.05"/><circle cx="185.9" cy="785.4" r="1.05"/><circle cx="175.4" cy="753.8" r="1.05"/><circle cx="206.2" cy="786.1" r="1.05"/><circle cx="199.3" cy="792.8" r="1.05"/><circle cx="197.1" cy="755.4" r="1.05"/><circle cx="187.6" cy="775.0" r="1.05"/><circle cx="178.2" cy="730.5" r="1.05"/><circle cx="180.6" cy="789.2" r="1.05"/><circle cx="200.1" cy="752.9" r="1.05"/><circle cx="182.2" cy="769.7" r="1.05"/><circle cx="195.6" cy="677.1" r="1.05"/><circle cx="193.2" cy="752.7" r="1.05"/><circle cx="174.7" cy="772.0" r="1.05"/><circle cx="207.4" cy="758.8" r="1.05"/><circle cx="198.7" cy="768.4" r="1.05"/><circle cx="209.8" cy="779.3" r="1.05"/><circle cx="209.5" cy="730.0" r="1.05"/><circle cx="208.3" cy="774.2" r="1.05"/><circle cx="205.3" cy="771.5" r="1.05"/><circle cx="200.4" cy="782.9" r="1.05"/><circle cx="179.8" cy="778.6" r="1.05"/><circle cx="180.4" cy="771.5" r="1.05"/><circle cx="184.6" cy="781.9" r="1.05"/><circle cx="176.2" cy="793.3" r="1.05"/><circle cx="199.5" cy="761.3" r="1.05"/><circle cx="203.0" cy="785.2" r="1.05"/><circle cx="189.4" cy="764.3" r="1.05"/><circle cx="184.3" cy="768.0" r="1.05"/><circle cx="209.9" cy="772.5" r="1.05"/><circle cx="188.0" cy="766.1" r="1.05"/><circle cx="198.6" cy="740.6" r="1.05"/><circle cx="194.7" cy="785.6" r="1.05"/><circle cx="180.4" cy="773.8" r="1.05"/><circle cx="206.0" cy="741.5" r="1.05"/><circle cx="197.2" cy="771.4" r="1.05"/><circle cx="195.5" cy="772.3" r="1.05"/><circle cx="183.5" cy="782.3" r="1.05"/><circle cx="192.9" cy="767.5" r="1.05"/><circle cx="197.3" cy="767.5" r="1.05"/><circle cx="175.5" cy="760.4" r="1.05"/><circle cx="184.1" cy="773.4" r="1.05"/><circle cx="174.7" cy="760.8" r="1.05"/><circle cx="190.2" cy="766.3" r="1.05"/><circle cx="195.2" cy="758.0" r="1.05"/><circle cx="176.8" cy="786.9" r="1.05"/><circle cx="197.7" cy="760.8" r="1.05"/><circle cx="186.0" cy="673.1" r="1.05"/><circle cx="184.1" cy="759.9" r="1.05"/><circle cx="199.4" cy="763.9" r="1.05"/><circle cx="174.4" cy="759.2" r="1.05"/><circle cx="178.2" cy="737.1" r="1.05"/><circle cx="191.8" cy="780.7" r="1.05"/><circle cx="204.2" cy="760.6" r="1.05"/><circle cx="192.6" cy="767.9" r="1.05"/><circle cx="184.0" cy="764.8" r="1.05"/><circle cx="185.5" cy="774.9" r="1.05"/><circle cx="210.1" cy="751.7" r="1.05"/><circle cx="197.0" cy="740.1" r="1.05"/><circle cx="175.5" cy="748.0" r="1.05"/><circle cx="197.6" cy="766.7" r="1.05"/><circle cx="208.2" cy="767.9" r="1.05"/><circle cx="177.8" cy="768.9" r="1.05"/><circle cx="186.4" cy="762.1" r="1.05"/><circle cx="175.3" cy="746.8" r="1.05"/><circle cx="174.9" cy="753.7" r="1.05"/><circle cx="191.9" cy="755.0" r="1.05"/><circle cx="200.4" cy="741.7" r="1.05"/><circle cx="189.6" cy="754.5" r="1.05"/><circle cx="195.2" cy="706.0" r="1.05"/><circle cx="201.8" cy="787.7" r="1.05"/><circle cx="179.9" cy="787.7" r="1.05"/><circle cx="202.9" cy="753.2" r="1.05"/><circle cx="207.0" cy="783.0" r="1.05"/><circle cx="183.0" cy="772.2" r="1.05"/><circle cx="201.1" cy="730.0" r="1.05"/><circle cx="190.9" cy="742.0" r="1.05"/><circle cx="180.7" cy="753.9" r="1.05"/><circle cx="202.7" cy="770.5" r="1.05"/><circle cx="192.4" cy="753.4" r="1.05"/><circle cx="179.1" cy="790.1" r="1.05"/><circle cx="197.7" cy="764.1" r="1.05"/><circle cx="202.4" cy="753.0" r="1.05"/><circle cx="190.1" cy="756.9" r="1.05"/><circle cx="189.6" cy="749.4" r="1.05"/><circle cx="183.2" cy="765.6" r="1.05"/><circle cx="176.1" cy="759.9" r="1.05"/><circle cx="202.6" cy="755.5" r="1.05"/><circle cx="179.2" cy="756.3" r="1.05"/><circle cx="196.5" cy="735.8" r="1.05"/><circle cx="180.1" cy="762.0" r="1.05"/><circle cx="208.1" cy="738.6" r="1.05"/><circle cx="179.6" cy="750.8" r="1.05"/><circle cx="184.8" cy="776.5" r="1.05"/><circle cx="175.1" cy="762.3" r="1.05"/><circle cx="187.1" cy="735.2" r="1.05"/><circle cx="189.3" cy="778.2" r="1.05"/><circle cx="204.9" cy="788.1" r="1.05"/><circle cx="174.8" cy="774.5" r="1.05"/><circle cx="206.6" cy="691.9" r="1.05"/><circle cx="185.4" cy="774.5" r="1.05"/><circle cx="202.7" cy="759.5" r="1.05"/><circle cx="188.3" cy="756.0" r="1.05"/><circle cx="203.8" cy="692.5" r="1.05"/><circle cx="187.7" cy="782.7" r="1.05"/><circle cx="207.5" cy="763.7" r="1.05"/><circle cx="176.4" cy="756.0" r="1.05"/><circle cx="191.9" cy="782.7" r="1.05"/><circle cx="207.1" cy="748.4" r="1.05"/><circle cx="193.7" cy="773.2" r="1.05"/><circle cx="186.1" cy="764.3" r="1.05"/><circle cx="204.9" cy="774.4" r="1.05"/><circle cx="185.2" cy="746.8" r="1.05"/><circle cx="183.1" cy="761.7" r="1.05"/><circle cx="184.7" cy="757.6" r="1.05"/><circle cx="206.5" cy="784.3" r="1.05"/><circle cx="183.2" cy="768.7" r="1.05"/><circle cx="204.5" cy="748.0" r="1.05"/><circle cx="206.7" cy="791.4" r="1.05"/><circle cx="195.0" cy="783.6" r="1.05"/><circle cx="195.4" cy="764.5" r="1.05"/><circle cx="183.3" cy="727.9" r="1.05"/><circle cx="194.9" cy="782.5" r="1.05"/><circle cx="203.4" cy="754.8" r="1.05"/><circle cx="186.2" cy="757.6" r="1.05"/><circle cx="186.9" cy="675.2" r="1.05"/><circle cx="174.1" cy="763.8" r="1.05"/><circle cx="175.4" cy="754.5" r="1.05"/><circle cx="209.9" cy="758.6" r="1.05"/><circle cx="186.9" cy="761.0" r="1.05"/><circle cx="174.1" cy="757.2" r="1.05"/><circle cx="173.5" cy="764.9" r="1.05"/><circle cx="188.5" cy="783.3" r="1.05"/><circle cx="199.9" cy="781.8" r="1.05"/><circle cx="178.3" cy="762.0" r="1.05"/><circle cx="205.7" cy="757.6" r="1.05"/><circle cx="183.6" cy="767.0" r="1.05"/><circle cx="207.3" cy="763.6" r="1.05"/><circle cx="181.1" cy="755.8" r="1.05"/><circle cx="189.2" cy="767.9" r="1.05"/><circle cx="185.4" cy="780.5" r="1.05"/><circle cx="174.3" cy="776.2" r="1.05"/><circle cx="180.1" cy="763.1" r="1.05"/><circle cx="190.5" cy="759.9" r="1.05"/><circle cx="185.8" cy="768.3" r="1.05"/><circle cx="178.9" cy="752.8" r="1.05"/><circle cx="179.0" cy="769.2" r="1.05"/><circle cx="194.4" cy="776.7" r="1.05"/><circle cx="204.1" cy="761.7" r="1.05"/></g><line x1="265.27" y1="688.6" x2="265.27" y2="792.3" stroke="#d8b888" stroke-width="0.8"/><rect x="245.37" y="728.9" width="39.8" height="47.3" fill="#FDB827" stroke="#E0901A" stroke-width="0.7"/><line x1="245.37" y1="765.1" x2="285.17" y2="765.1" stroke="#E0901A" stroke-width="0.9"/><g fill="#C8680F"><circle cx="249.8" cy="688.3" r="1.15"/><circle cx="258.0" cy="689.5" r="1.15"/><circle cx="269.3" cy="706.7" r="1.15"/><circle cx="256.2" cy="713.4" r="1.15"/><circle cx="263.8" cy="716.4" r="1.15"/><circle cx="251.5" cy="732.7" r="1.15"/><circle cx="273.7" cy="741.8" r="1.15"/><circle cx="266.1" cy="746.7" r="1.15"/><circle cx="280.4" cy="746.7" r="1.15"/><circle cx="256.8" cy="762.2" r="1.15"/><circle cx="261.2" cy="762.5" r="1.15"/><circle cx="255.3" cy="771.8" r="1.15"/><circle cx="258.2" cy="771.2" r="1.15"/><circle cx="272.0" cy="768.3" r="1.15"/><circle cx="278.7" cy="768.3" r="1.15"/><circle cx="269.3" cy="773.3" r="1.15"/><circle cx="272.3" cy="774.7" r="1.15"/><circle cx="261.8" cy="779.4" r="1.15"/><circle cx="265.5" cy="779.4" r="1.15"/><circle cx="277.2" cy="780.6" r="1.15"/><circle cx="258.2" cy="789.3" r="1.15"/><circle cx="276.6" cy="787.9" r="1.15"/><circle cx="272.8" cy="792.8" r="1.15"/></g><rect x="393.4" y="645.4" width="227.9" height="155.5" fill="none" stroke="#d6d6d6" stroke-width="0.9"/><line x1="391.8" y1="796.7" x2="393.4" y2="796.7" stroke="#777" stroke-width="0.8"/><text x="390.5" y="800.5" font-size="11.4" text-anchor="end" fill="#222">0</text><line x1="391.8" y1="767.7" x2="393.4" y2="767.7" stroke="#777" stroke-width="0.8"/><text x="390.5" y="771.5" font-size="11.4" text-anchor="end" fill="#222">500</text><line x1="391.8" y1="738.6" x2="393.4" y2="738.6" stroke="#777" stroke-width="0.8"/><text x="390.5" y="742.4" font-size="11.4" text-anchor="end" fill="#222">1000</text><line x1="391.8" y1="709.8" x2="393.4" y2="709.8" stroke="#777" stroke-width="0.8"/><text x="390.5" y="713.6" font-size="11.4" text-anchor="end" fill="#222">1500</text><line x1="391.8" y1="681.3" x2="393.4" y2="681.3" stroke="#777" stroke-width="0.8"/><text x="390.5" y="685.1" font-size="11.4" text-anchor="end" fill="#222">2000</text><line x1="391.8" y1="652.3" x2="393.4" y2="652.3" stroke="#777" stroke-width="0.8"/><text x="390.5" y="656.1" font-size="11.4" text-anchor="end" fill="#222">2500</text><line x1="436.13" y1="800.9" x2="436.13" y2="802.5" stroke="#777" stroke-width="0.8"/><text x="436.13" y="812.8" font-size="12" text-anchor="middle" fill="#222">Normal</text><line x1="507.35" y1="800.9" x2="507.35" y2="802.5" stroke="#777" stroke-width="0.8"/><text x="507.35" y="812.8" font-size="12" text-anchor="middle" fill="#222">Tumor</text><line x1="578.57" y1="800.9" x2="578.57" y2="802.5" stroke="#777" stroke-width="0.8"/><text x="578.57" y="812.8" font-size="12" text-anchor="middle" fill="#222">Metastatic</text><text transform="translate(358.3,723.15) rotate(-90)" font-size="11.35" font-weight="bold" text-anchor="middle" fill="#000">INTS8 gene expression</text><text x="622.6" y="656.4" font-size="9.2" text-anchor="end" fill="#222">P = 1.45e-102</text><line x1="436.13" y1="736.7" x2="436.13" y2="793.7" stroke="#9fc48a" stroke-width="0.8"/><rect x="416.23" y="758.5" width="39.8" height="15.9" fill="#CCFF66" stroke="#5DBB3A" stroke-width="0.7"/><line x1="416.23" y1="766.4" x2="456.03" y2="766.4" stroke="#5DBB3A" stroke-width="0.9"/><g fill="#0a6b0a"><circle cx="449.8" cy="720.5" r="1.05"/><circle cx="453.4" cy="793.7" r="1.05"/><circle cx="448.3" cy="758.8" r="1.05"/><circle cx="427.1" cy="772.7" r="1.05"/><circle cx="431.3" cy="766.7" r="1.05"/><circle cx="443.6" cy="762.0" r="1.05"/><circle cx="430.3" cy="755.7" r="1.05"/><circle cx="445.0" cy="744.2" r="1.05"/><circle cx="451.8" cy="779.2" r="1.05"/><circle cx="450.5" cy="761.2" r="1.05"/><circle cx="447.1" cy="770.4" r="1.05"/><circle cx="442.9" cy="741.4" r="1.05"/><circle cx="436.5" cy="768.9" r="1.05"/><circle cx="440.3" cy="788.1" r="1.05"/><circle cx="450.5" cy="767.7" r="1.05"/><circle cx="443.1" cy="770.2" r="1.05"/><circle cx="454.8" cy="754.7" r="1.05"/><circle cx="439.7" cy="787.2" r="1.05"/><circle cx="432.7" cy="767.0" r="1.05"/><circle cx="447.5" cy="760.1" r="1.05"/><circle cx="435.4" cy="768.8" r="1.05"/><circle cx="435.1" cy="753.2" r="1.05"/><circle cx="428.8" cy="777.6" r="1.05"/><circle cx="422.2" cy="773.4" r="1.05"/><circle cx="430.2" cy="758.9" r="1.05"/><circle cx="431.0" cy="764.6" r="1.05"/><circle cx="420.5" cy="759.0" r="1.05"/><circle cx="432.8" cy="768.2" r="1.05"/><circle cx="448.7" cy="776.0" r="1.05"/><circle cx="444.2" cy="773.7" r="1.05"/><circle cx="453.0" cy="772.1" r="1.05"/><circle cx="425.1" cy="763.8" r="1.05"/><circle cx="418.8" cy="757.6" r="1.05"/><circle cx="423.8" cy="762.4" r="1.05"/><circle cx="426.7" cy="747.5" r="1.05"/><circle cx="423.9" cy="751.7" r="1.05"/><circle cx="424.5" cy="763.1" r="1.05"/><circle cx="428.8" cy="788.2" r="1.05"/><circle cx="435.2" cy="774.1" r="1.05"/><circle cx="421.0" cy="790.2" r="1.05"/><circle cx="451.6" cy="755.4" r="1.05"/><circle cx="429.0" cy="769.8" r="1.05"/><circle cx="419.2" cy="773.5" r="1.05"/><circle cx="438.7" cy="774.1" r="1.05"/><circle cx="427.7" cy="773.8" r="1.05"/><circle cx="426.9" cy="765.5" r="1.05"/><circle cx="437.6" cy="776.2" r="1.05"/><circle cx="428.5" cy="759.7" r="1.05"/><circle cx="432.1" cy="756.6" r="1.05"/><circle cx="430.9" cy="771.4" r="1.05"/><circle cx="454.5" cy="761.7" r="1.05"/><circle cx="439.0" cy="781.9" r="1.05"/><circle cx="443.0" cy="778.7" r="1.05"/><circle cx="439.4" cy="787.8" r="1.05"/><circle cx="442.2" cy="765.4" r="1.05"/><circle cx="445.5" cy="782.9" r="1.05"/><circle cx="417.7" cy="767.0" r="1.05"/><circle cx="438.2" cy="747.3" r="1.05"/><circle cx="433.8" cy="777.7" r="1.05"/><circle cx="428.6" cy="750.5" r="1.05"/><circle cx="424.0" cy="763.0" r="1.05"/><circle cx="428.8" cy="768.0" r="1.05"/><circle cx="432.7" cy="770.6" r="1.05"/><circle cx="425.9" cy="768.0" r="1.05"/><circle cx="429.9" cy="768.9" r="1.05"/><circle cx="453.6" cy="749.9" r="1.05"/><circle cx="439.4" cy="785.7" r="1.05"/><circle cx="454.1" cy="752.9" r="1.05"/><circle cx="438.9" cy="789.1" r="1.05"/><circle cx="435.2" cy="752.9" r="1.05"/><circle cx="425.4" cy="743.0" r="1.05"/><circle cx="419.1" cy="765.8" r="1.05"/><circle cx="451.5" cy="782.8" r="1.05"/><circle cx="417.5" cy="767.4" r="1.05"/><circle cx="445.9" cy="759.4" r="1.05"/><circle cx="447.6" cy="745.3" r="1.05"/><circle cx="430.5" cy="725.3" r="1.05"/><circle cx="427.2" cy="766.8" r="1.05"/><circle cx="430.7" cy="773.1" r="1.05"/><circle cx="433.3" cy="753.3" r="1.05"/><circle cx="425.5" cy="774.8" r="1.05"/><circle cx="439.4" cy="742.6" r="1.05"/><circle cx="443.5" cy="763.7" r="1.05"/><circle cx="427.5" cy="771.7" r="1.05"/><circle cx="443.3" cy="760.5" r="1.05"/><circle cx="423.0" cy="763.4" r="1.05"/><circle cx="427.7" cy="760.9" r="1.05"/><circle cx="444.2" cy="772.6" r="1.05"/><circle cx="445.0" cy="758.4" r="1.05"/><circle cx="430.9" cy="784.2" r="1.05"/><circle cx="432.2" cy="774.8" r="1.05"/><circle cx="450.4" cy="783.1" r="1.05"/><circle cx="443.4" cy="768.5" r="1.05"/><circle cx="435.7" cy="786.2" r="1.05"/><circle cx="449.6" cy="768.9" r="1.05"/><circle cx="445.4" cy="735.9" r="1.05"/><circle cx="423.0" cy="772.6" r="1.05"/><circle cx="434.8" cy="784.3" r="1.05"/><circle cx="454.3" cy="742.2" r="1.05"/><circle cx="418.7" cy="764.9" r="1.05"/><circle cx="452.6" cy="761.6" r="1.05"/><circle cx="452.2" cy="783.3" r="1.05"/><circle cx="422.7" cy="786.1" r="1.05"/><circle cx="424.2" cy="776.1" r="1.05"/><circle cx="427.8" cy="778.0" r="1.05"/><circle cx="444.4" cy="759.4" r="1.05"/><circle cx="422.6" cy="753.5" r="1.05"/><circle cx="443.7" cy="760.9" r="1.05"/><circle cx="425.7" cy="736.2" r="1.05"/><circle cx="446.7" cy="762.7" r="1.05"/><circle cx="424.8" cy="757.7" r="1.05"/><circle cx="423.0" cy="790.4" r="1.05"/><circle cx="447.3" cy="767.4" r="1.05"/><circle cx="417.3" cy="764.9" r="1.05"/><circle cx="434.7" cy="749.8" r="1.05"/><circle cx="433.1" cy="741.6" r="1.05"/><circle cx="433.7" cy="759.3" r="1.05"/><circle cx="419.3" cy="758.7" r="1.05"/><circle cx="425.8" cy="774.2" r="1.05"/><circle cx="439.6" cy="771.8" r="1.05"/><circle cx="429.3" cy="772.7" r="1.05"/><circle cx="454.3" cy="771.0" r="1.05"/><circle cx="439.1" cy="774.2" r="1.05"/><circle cx="420.6" cy="755.6" r="1.05"/><circle cx="432.6" cy="746.9" r="1.05"/><circle cx="431.7" cy="755.7" r="1.05"/><circle cx="426.0" cy="755.2" r="1.05"/><circle cx="429.5" cy="772.0" r="1.05"/><circle cx="431.8" cy="778.7" r="1.05"/><circle cx="443.6" cy="784.0" r="1.05"/><circle cx="418.9" cy="740.5" r="1.05"/><circle cx="442.1" cy="764.4" r="1.05"/><circle cx="427.0" cy="751.7" r="1.05"/><circle cx="439.1" cy="765.6" r="1.05"/><circle cx="443.0" cy="767.8" r="1.05"/><circle cx="429.2" cy="745.9" r="1.05"/><circle cx="452.5" cy="763.2" r="1.05"/><circle cx="420.8" cy="777.3" r="1.05"/><circle cx="424.4" cy="791.0" r="1.05"/><circle cx="443.6" cy="751.1" r="1.05"/><circle cx="420.9" cy="766.6" r="1.05"/><circle cx="449.0" cy="762.1" r="1.05"/><circle cx="439.9" cy="757.6" r="1.05"/><circle cx="443.5" cy="782.6" r="1.05"/><circle cx="443.3" cy="757.7" r="1.05"/><circle cx="426.2" cy="772.0" r="1.05"/><circle cx="439.2" cy="767.2" r="1.05"/><circle cx="440.2" cy="752.2" r="1.05"/><circle cx="446.4" cy="779.4" r="1.05"/><circle cx="452.1" cy="767.5" r="1.05"/><circle cx="437.4" cy="755.1" r="1.05"/><circle cx="453.6" cy="767.4" r="1.05"/><circle cx="431.7" cy="772.1" r="1.05"/><circle cx="443.6" cy="765.1" r="1.05"/><circle cx="422.3" cy="755.1" r="1.05"/><circle cx="444.9" cy="791.7" r="1.05"/><circle cx="427.8" cy="779.6" r="1.05"/><circle cx="448.2" cy="761.5" r="1.05"/><circle cx="425.9" cy="771.3" r="1.05"/><circle cx="428.2" cy="751.4" r="1.05"/><circle cx="423.3" cy="778.5" r="1.05"/><circle cx="445.2" cy="768.2" r="1.05"/><circle cx="441.0" cy="751.5" r="1.05"/><circle cx="425.7" cy="759.0" r="1.05"/><circle cx="420.8" cy="736.8" r="1.05"/><circle cx="431.0" cy="776.5" r="1.05"/><circle cx="423.0" cy="778.4" r="1.05"/><circle cx="453.2" cy="767.4" r="1.05"/><circle cx="437.1" cy="761.8" r="1.05"/><circle cx="448.0" cy="772.9" r="1.05"/><circle cx="418.3" cy="770.6" r="1.05"/><circle cx="446.6" cy="720.9" r="1.05"/><circle cx="438.6" cy="763.2" r="1.05"/><circle cx="428.0" cy="744.4" r="1.05"/><circle cx="424.1" cy="789.2" r="1.05"/><circle cx="422.9" cy="765.9" r="1.05"/><circle cx="444.8" cy="764.5" r="1.05"/><circle cx="443.9" cy="768.8" r="1.05"/><circle cx="452.9" cy="765.2" r="1.05"/><circle cx="448.4" cy="768.8" r="1.05"/><circle cx="421.5" cy="771.1" r="1.05"/><circle cx="449.8" cy="772.7" r="1.05"/><circle cx="442.9" cy="765.5" r="1.05"/><circle cx="445.4" cy="755.8" r="1.05"/><circle cx="436.4" cy="749.9" r="1.05"/><circle cx="427.1" cy="762.0" r="1.05"/><circle cx="440.9" cy="772.1" r="1.05"/><circle cx="419.7" cy="770.2" r="1.05"/><circle cx="435.4" cy="768.9" r="1.05"/><circle cx="419.5" cy="761.9" r="1.05"/><circle cx="428.3" cy="762.6" r="1.05"/><circle cx="427.6" cy="765.0" r="1.05"/><circle cx="440.2" cy="765.3" r="1.05"/><circle cx="418.4" cy="769.3" r="1.05"/><circle cx="432.3" cy="750.0" r="1.05"/><circle cx="419.3" cy="750.1" r="1.05"/><circle cx="432.9" cy="749.6" r="1.05"/><circle cx="449.2" cy="764.0" r="1.05"/><circle cx="449.1" cy="748.3" r="1.05"/><circle cx="439.0" cy="761.1" r="1.05"/><circle cx="432.6" cy="750.1" r="1.05"/><circle cx="447.5" cy="762.0" r="1.05"/><circle cx="421.4" cy="755.9" r="1.05"/><circle cx="447.9" cy="778.0" r="1.05"/><circle cx="424.5" cy="769.8" r="1.05"/><circle cx="425.4" cy="766.1" r="1.05"/><circle cx="451.6" cy="785.7" r="1.05"/><circle cx="439.3" cy="776.4" r="1.05"/><circle cx="426.2" cy="764.2" r="1.05"/><circle cx="432.5" cy="773.6" r="1.05"/><circle cx="437.1" cy="755.0" r="1.05"/><circle cx="432.6" cy="763.0" r="1.05"/><circle cx="444.8" cy="760.8" r="1.05"/><circle cx="443.5" cy="764.8" r="1.05"/><circle cx="427.4" cy="722.1" r="1.05"/><circle cx="453.6" cy="754.0" r="1.05"/><circle cx="446.7" cy="753.0" r="1.05"/><circle cx="424.2" cy="767.7" r="1.05"/><circle cx="449.0" cy="760.0" r="1.05"/><circle cx="438.3" cy="773.2" r="1.05"/><circle cx="440.0" cy="730.8" r="1.05"/><circle cx="419.6" cy="769.0" r="1.05"/><circle cx="434.7" cy="752.9" r="1.05"/><circle cx="422.6" cy="771.4" r="1.05"/><circle cx="423.8" cy="754.4" r="1.05"/><circle cx="446.0" cy="773.4" r="1.05"/><circle cx="449.4" cy="728.3" r="1.05"/><circle cx="439.7" cy="760.4" r="1.05"/><circle cx="454.7" cy="760.0" r="1.05"/><circle cx="420.1" cy="793.4" r="1.05"/><circle cx="442.0" cy="784.3" r="1.05"/><circle cx="421.9" cy="758.6" r="1.05"/><circle cx="434.5" cy="764.6" r="1.05"/><circle cx="446.0" cy="783.1" r="1.05"/><circle cx="425.0" cy="749.2" r="1.05"/><circle cx="451.5" cy="769.3" r="1.05"/><circle cx="420.0" cy="776.1" r="1.05"/><circle cx="448.5" cy="786.9" r="1.05"/><circle cx="442.2" cy="766.2" r="1.05"/><circle cx="422.0" cy="777.1" r="1.05"/><circle cx="445.1" cy="762.6" r="1.05"/><circle cx="442.4" cy="771.5" r="1.05"/><circle cx="449.9" cy="767.1" r="1.05"/><circle cx="446.2" cy="773.9" r="1.05"/><circle cx="422.4" cy="747.6" r="1.05"/><circle cx="443.7" cy="775.3" r="1.05"/><circle cx="426.6" cy="754.5" r="1.05"/><circle cx="434.0" cy="765.8" r="1.05"/><circle cx="444.6" cy="755.0" r="1.05"/><circle cx="435.0" cy="762.0" r="1.05"/><circle cx="443.6" cy="752.2" r="1.05"/><circle cx="445.8" cy="760.3" r="1.05"/><circle cx="430.7" cy="775.6" r="1.05"/><circle cx="430.3" cy="757.5" r="1.05"/><circle cx="418.5" cy="774.0" r="1.05"/><circle cx="420.1" cy="773.2" r="1.05"/><circle cx="422.6" cy="768.6" r="1.05"/><circle cx="434.4" cy="770.5" r="1.05"/><circle cx="454.9" cy="766.5" r="1.05"/><circle cx="448.3" cy="752.5" r="1.05"/><circle cx="449.6" cy="783.9" r="1.05"/><circle cx="443.1" cy="737.6" r="1.05"/><circle cx="450.9" cy="767.4" r="1.05"/><circle cx="436.3" cy="775.7" r="1.05"/><circle cx="427.7" cy="762.5" r="1.05"/><circle cx="450.4" cy="759.0" r="1.05"/><circle cx="423.3" cy="772.6" r="1.05"/><circle cx="433.5" cy="760.1" r="1.05"/><circle cx="443.9" cy="754.3" r="1.05"/><circle cx="427.5" cy="763.3" r="1.05"/><circle cx="432.2" cy="761.3" r="1.05"/><circle cx="441.8" cy="770.8" r="1.05"/><circle cx="454.0" cy="772.8" r="1.05"/><circle cx="419.5" cy="767.1" r="1.05"/><circle cx="439.3" cy="777.9" r="1.05"/><circle cx="425.4" cy="774.8" r="1.05"/><circle cx="430.9" cy="771.1" r="1.05"/><circle cx="453.7" cy="755.6" r="1.05"/><circle cx="444.1" cy="777.2" r="1.05"/><circle cx="430.0" cy="765.6" r="1.05"/><circle cx="439.0" cy="793.5" r="1.05"/><circle cx="448.7" cy="775.9" r="1.05"/><circle cx="433.4" cy="769.3" r="1.05"/><circle cx="451.0" cy="777.7" r="1.05"/><circle cx="436.0" cy="756.5" r="1.05"/><circle cx="417.6" cy="759.8" r="1.05"/><circle cx="432.0" cy="763.1" r="1.05"/><circle cx="436.2" cy="739.0" r="1.05"/><circle cx="433.1" cy="758.6" r="1.05"/><circle cx="437.1" cy="757.1" r="1.05"/><circle cx="452.6" cy="765.5" r="1.05"/><circle cx="439.6" cy="780.6" r="1.05"/><circle cx="418.5" cy="781.0" r="1.05"/><circle cx="424.5" cy="740.0" r="1.05"/><circle cx="420.3" cy="773.0" r="1.05"/><circle cx="421.1" cy="756.3" r="1.05"/><circle cx="425.7" cy="759.4" r="1.05"/><circle cx="429.1" cy="779.1" r="1.05"/><circle cx="439.3" cy="762.4" r="1.05"/><circle cx="419.9" cy="771.3" r="1.05"/><circle cx="427.6" cy="763.7" r="1.05"/><circle cx="418.4" cy="793.5" r="1.05"/><circle cx="418.6" cy="762.8" r="1.05"/><circle cx="437.3" cy="735.6" r="1.05"/><circle cx="454.2" cy="768.0" r="1.05"/><circle cx="442.7" cy="772.8" r="1.05"/><circle cx="439.8" cy="788.8" r="1.05"/><circle cx="424.2" cy="786.4" r="1.05"/><circle cx="437.7" cy="763.9" r="1.05"/><circle cx="449.0" cy="777.9" r="1.05"/><circle cx="426.8" cy="765.3" r="1.05"/><circle cx="423.4" cy="769.6" r="1.05"/><circle cx="419.0" cy="757.8" r="1.05"/><circle cx="434.5" cy="772.8" r="1.05"/><circle cx="430.2" cy="764.3" r="1.05"/><circle cx="452.9" cy="769.7" r="1.05"/><circle cx="448.4" cy="767.8" r="1.05"/><circle cx="438.3" cy="763.2" r="1.05"/><circle cx="433.0" cy="780.1" r="1.05"/><circle cx="438.4" cy="753.2" r="1.05"/><circle cx="454.2" cy="766.9" r="1.05"/><circle cx="445.7" cy="778.7" r="1.05"/><circle cx="420.4" cy="767.0" r="1.05"/><circle cx="449.9" cy="768.6" r="1.05"/><circle cx="423.8" cy="761.3" r="1.05"/><circle cx="422.3" cy="770.6" r="1.05"/><circle cx="419.2" cy="758.2" r="1.05"/><circle cx="440.2" cy="739.1" r="1.05"/><circle cx="447.2" cy="774.6" r="1.05"/><circle cx="441.1" cy="762.7" r="1.05"/><circle cx="445.5" cy="759.0" r="1.05"/><circle cx="451.2" cy="783.0" r="1.05"/><circle cx="432.2" cy="760.2" r="1.05"/><circle cx="421.7" cy="768.8" r="1.05"/><circle cx="445.5" cy="768.7" r="1.05"/><circle cx="443.1" cy="740.3" r="1.05"/><circle cx="435.2" cy="769.6" r="1.05"/><circle cx="429.5" cy="746.6" r="1.05"/><circle cx="436.7" cy="756.7" r="1.05"/><circle cx="437.8" cy="745.3" r="1.05"/><circle cx="451.1" cy="764.1" r="1.05"/><circle cx="452.8" cy="749.7" r="1.05"/><circle cx="445.2" cy="763.4" r="1.05"/><circle cx="423.0" cy="760.1" r="1.05"/><circle cx="437.1" cy="756.2" r="1.05"/><circle cx="424.1" cy="773.0" r="1.05"/><circle cx="423.8" cy="767.0" r="1.05"/><circle cx="421.5" cy="781.4" r="1.05"/><circle cx="424.3" cy="771.1" r="1.05"/><circle cx="432.2" cy="771.9" r="1.05"/><circle cx="447.9" cy="768.9" r="1.05"/><circle cx="452.9" cy="778.4" r="1.05"/><circle cx="439.9" cy="772.9" r="1.05"/><circle cx="435.5" cy="778.5" r="1.05"/><circle cx="434.1" cy="756.8" r="1.05"/><circle cx="426.7" cy="759.2" r="1.05"/><circle cx="421.9" cy="769.4" r="1.05"/><circle cx="424.0" cy="737.6" r="1.05"/><circle cx="417.4" cy="792.0" r="1.05"/><circle cx="431.2" cy="772.6" r="1.05"/><circle cx="441.2" cy="775.8" r="1.05"/><circle cx="427.9" cy="757.4" r="1.05"/><circle cx="432.2" cy="781.7" r="1.05"/><circle cx="446.7" cy="758.9" r="1.05"/><circle cx="439.8" cy="775.0" r="1.05"/><circle cx="422.3" cy="770.4" r="1.05"/><circle cx="426.3" cy="766.3" r="1.05"/><circle cx="434.7" cy="764.9" r="1.05"/><circle cx="418.0" cy="754.1" r="1.05"/><circle cx="436.7" cy="771.8" r="1.05"/><circle cx="421.8" cy="758.4" r="1.05"/><circle cx="449.7" cy="768.0" r="1.05"/><circle cx="423.4" cy="758.1" r="1.05"/><circle cx="429.6" cy="763.0" r="1.05"/><circle cx="431.4" cy="751.9" r="1.05"/><circle cx="438.1" cy="765.6" r="1.05"/><circle cx="433.3" cy="741.0" r="1.05"/><circle cx="420.1" cy="765.3" r="1.05"/><circle cx="449.5" cy="766.4" r="1.05"/><circle cx="441.5" cy="763.5" r="1.05"/><circle cx="426.8" cy="779.8" r="1.05"/><circle cx="433.1" cy="762.5" r="1.05"/><circle cx="443.9" cy="765.5" r="1.05"/><circle cx="425.2" cy="755.1" r="1.05"/><circle cx="450.2" cy="762.1" r="1.05"/><circle cx="426.9" cy="748.4" r="1.05"/><circle cx="425.0" cy="765.3" r="1.05"/><circle cx="449.9" cy="792.6" r="1.05"/><circle cx="429.5" cy="763.7" r="1.05"/><circle cx="420.7" cy="764.9" r="1.05"/><circle cx="449.2" cy="779.8" r="1.05"/><circle cx="451.9" cy="767.3" r="1.05"/><circle cx="440.0" cy="739.2" r="1.05"/><circle cx="443.7" cy="736.1" r="1.05"/><circle cx="420.2" cy="781.2" r="1.05"/><circle cx="424.9" cy="762.3" r="1.05"/><circle cx="423.2" cy="772.2" r="1.05"/><circle cx="445.7" cy="766.0" r="1.05"/><circle cx="440.1" cy="736.5" r="1.05"/><circle cx="419.9" cy="760.8" r="1.05"/><circle cx="422.8" cy="677.6" r="1.05"/><circle cx="444.6" cy="681.5" r="1.05"/></g><line x1="507.35" y1="658.9" x2="507.35" y2="787.6" stroke="#f08070" stroke-width="0.8"/><rect x="487.45" y="714.3" width="39.8" height="38.3" fill="#FF8566" stroke="#F26450" stroke-width="0.7"/><line x1="487.45" y1="735.2" x2="527.25" y2="735.2" stroke="#F26450" stroke-width="0.9"/><g fill="#FF0000"><circle cx="501.7" cy="651.4" r="1.05"/><circle cx="507.6" cy="788.2" r="1.05"/><circle cx="516.0" cy="766.7" r="1.05"/><circle cx="491.8" cy="744.2" r="1.05"/><circle cx="509.1" cy="729.3" r="1.05"/><circle cx="523.4" cy="730.3" r="1.05"/><circle cx="516.5" cy="746.0" r="1.05"/><circle cx="525.4" cy="782.8" r="1.05"/><circle cx="516.9" cy="775.8" r="1.05"/><circle cx="493.8" cy="752.2" r="1.05"/><circle cx="512.8" cy="712.6" r="1.05"/><circle cx="516.5" cy="745.9" r="1.05"/><circle cx="502.1" cy="751.5" r="1.05"/><circle cx="524.9" cy="710.8" r="1.05"/><circle cx="505.5" cy="727.3" r="1.05"/><circle cx="515.2" cy="706.9" r="1.05"/><circle cx="499.7" cy="741.1" r="1.05"/><circle cx="502.0" cy="749.9" r="1.05"/><circle cx="520.7" cy="724.8" r="1.05"/><circle cx="511.5" cy="694.3" r="1.05"/><circle cx="525.3" cy="723.3" r="1.05"/><circle cx="494.3" cy="754.1" r="1.05"/><circle cx="498.4" cy="762.6" r="1.05"/><circle cx="512.6" cy="724.9" r="1.05"/><circle cx="504.5" cy="666.1" r="1.05"/><circle cx="518.4" cy="657.4" r="1.05"/><circle cx="506.3" cy="759.5" r="1.05"/><circle cx="519.1" cy="747.6" r="1.05"/><circle cx="503.1" cy="755.6" r="1.05"/><circle cx="525.3" cy="784.5" r="1.05"/><circle cx="514.5" cy="735.9" r="1.05"/><circle cx="491.3" cy="760.5" r="1.05"/><circle cx="518.1" cy="730.8" r="1.05"/><circle cx="525.1" cy="724.0" r="1.05"/><circle cx="505.2" cy="761.2" r="1.05"/><circle cx="488.7" cy="759.3" r="1.05"/><circle cx="520.1" cy="729.6" r="1.05"/><circle cx="520.8" cy="750.9" r="1.05"/><circle cx="504.9" cy="711.7" r="1.05"/><circle cx="502.2" cy="720.8" r="1.05"/><circle cx="522.3" cy="721.6" r="1.05"/><circle cx="505.8" cy="690.3" r="1.05"/><circle cx="521.0" cy="764.7" r="1.05"/><circle cx="498.4" cy="741.7" r="1.05"/><circle cx="510.7" cy="750.7" r="1.05"/><circle cx="520.8" cy="751.6" r="1.05"/><circle cx="491.7" cy="736.3" r="1.05"/><circle cx="519.3" cy="739.8" r="1.05"/><circle cx="500.3" cy="689.4" r="1.05"/><circle cx="493.4" cy="652.4" r="1.05"/><circle cx="499.3" cy="704.8" r="1.05"/><circle cx="525.1" cy="702.1" r="1.05"/><circle cx="508.7" cy="744.5" r="1.05"/><circle cx="511.2" cy="700.2" r="1.05"/><circle cx="519.6" cy="733.9" r="1.05"/><circle cx="505.3" cy="696.0" r="1.05"/><circle cx="507.1" cy="734.3" r="1.05"/><circle cx="504.5" cy="749.1" r="1.05"/><circle cx="524.1" cy="743.4" r="1.05"/><circle cx="523.9" cy="739.4" r="1.05"/><circle cx="511.0" cy="753.8" r="1.05"/><circle cx="519.6" cy="739.8" r="1.05"/><circle cx="514.6" cy="743.6" r="1.05"/><circle cx="500.9" cy="707.3" r="1.05"/><circle cx="526.0" cy="750.3" r="1.05"/><circle cx="494.0" cy="765.4" r="1.05"/><circle cx="511.5" cy="746.7" r="1.05"/><circle cx="517.1" cy="754.1" r="1.05"/><circle cx="522.4" cy="746.4" r="1.05"/><circle cx="516.4" cy="731.9" r="1.05"/><circle cx="520.3" cy="762.0" r="1.05"/><circle cx="517.8" cy="743.7" r="1.05"/><circle cx="521.9" cy="696.9" r="1.05"/><circle cx="513.7" cy="746.8" r="1.05"/><circle cx="497.9" cy="660.8" r="1.05"/><circle cx="513.2" cy="749.4" r="1.05"/><circle cx="504.7" cy="747.9" r="1.05"/><circle cx="511.6" cy="684.9" r="1.05"/><circle cx="512.0" cy="737.4" r="1.05"/><circle cx="521.5" cy="760.8" r="1.05"/><circle cx="518.2" cy="717.8" r="1.05"/><circle cx="514.3" cy="726.5" r="1.05"/><circle cx="515.1" cy="710.1" r="1.05"/><circle cx="513.8" cy="765.7" r="1.05"/><circle cx="516.6" cy="751.1" r="1.05"/><circle cx="521.2" cy="737.2" r="1.05"/><circle cx="512.5" cy="763.9" r="1.05"/><circle cx="506.2" cy="722.2" r="1.05"/><circle cx="516.3" cy="731.9" r="1.05"/><circle cx="494.1" cy="743.0" r="1.05"/><circle cx="502.5" cy="774.8" r="1.05"/><circle cx="509.7" cy="728.6" r="1.05"/><circle cx="509.5" cy="737.1" r="1.05"/><circle cx="507.9" cy="663.0" r="1.05"/><circle cx="520.9" cy="728.2" r="1.05"/><circle cx="507.8" cy="749.2" r="1.05"/><circle cx="520.2" cy="783.6" r="1.05"/><circle cx="506.0" cy="673.5" r="1.05"/><circle cx="498.5" cy="769.4" r="1.05"/><circle cx="494.6" cy="715.9" r="1.05"/><circle cx="513.1" cy="763.0" r="1.05"/><circle cx="505.5" cy="757.0" r="1.05"/><circle cx="526.0" cy="719.2" r="1.05"/><circle cx="501.4" cy="762.1" r="1.05"/><circle cx="520.0" cy="743.8" r="1.05"/><circle cx="496.5" cy="744.2" r="1.05"/><circle cx="515.8" cy="776.6" r="1.05"/><circle cx="524.4" cy="773.6" r="1.05"/><circle cx="520.0" cy="718.0" r="1.05"/><circle cx="503.9" cy="740.1" r="1.05"/><circle cx="494.0" cy="751.5" r="1.05"/><circle cx="513.3" cy="698.2" r="1.05"/><circle cx="519.1" cy="727.4" r="1.05"/><circle cx="516.2" cy="735.9" r="1.05"/><circle cx="519.5" cy="746.9" r="1.05"/><circle cx="489.0" cy="731.7" r="1.05"/><circle cx="510.0" cy="733.4" r="1.05"/><circle cx="522.7" cy="784.7" r="1.05"/><circle cx="496.1" cy="747.3" r="1.05"/><circle cx="510.3" cy="726.5" r="1.05"/><circle cx="505.3" cy="715.1" r="1.05"/><circle cx="489.4" cy="737.1" r="1.05"/><circle cx="523.5" cy="776.1" r="1.05"/><circle cx="500.6" cy="666.1" r="1.05"/><circle cx="492.7" cy="706.5" r="1.05"/><circle cx="501.5" cy="713.7" r="1.05"/><circle cx="525.9" cy="769.8" r="1.05"/><circle cx="515.8" cy="737.6" r="1.05"/><circle cx="510.2" cy="748.6" r="1.05"/><circle cx="500.0" cy="669.7" r="1.05"/><circle cx="518.0" cy="716.4" r="1.05"/><circle cx="504.6" cy="744.4" r="1.05"/><circle cx="499.4" cy="761.0" r="1.05"/><circle cx="516.0" cy="742.6" r="1.05"/><circle cx="509.0" cy="773.1" r="1.05"/><circle cx="526.1" cy="724.1" r="1.05"/><circle cx="519.8" cy="739.9" r="1.05"/><circle cx="497.0" cy="744.7" r="1.05"/><circle cx="505.2" cy="690.9" r="1.05"/><circle cx="492.1" cy="772.3" r="1.05"/><circle cx="495.7" cy="757.6" r="1.05"/><circle cx="523.4" cy="685.6" r="1.05"/><circle cx="513.8" cy="723.0" r="1.05"/><circle cx="496.3" cy="734.9" r="1.05"/><circle cx="504.4" cy="682.0" r="1.05"/><circle cx="493.8" cy="768.6" r="1.05"/><circle cx="497.1" cy="785.5" r="1.05"/><circle cx="515.8" cy="712.7" r="1.05"/><circle cx="518.6" cy="744.9" r="1.05"/><circle cx="509.2" cy="771.1" r="1.05"/><circle cx="508.4" cy="735.4" r="1.05"/><circle cx="519.7" cy="683.7" r="1.05"/><circle cx="520.4" cy="768.0" r="1.05"/><circle cx="495.4" cy="712.6" r="1.05"/><circle cx="514.3" cy="767.2" r="1.05"/><circle cx="509.2" cy="732.4" r="1.05"/><circle cx="493.9" cy="725.2" r="1.05"/><circle cx="526.1" cy="760.4" r="1.05"/><circle cx="509.8" cy="727.9" r="1.05"/><circle cx="518.2" cy="662.2" r="1.05"/><circle cx="517.5" cy="741.0" r="1.05"/><circle cx="490.9" cy="734.8" r="1.05"/><circle cx="515.4" cy="764.2" r="1.05"/><circle cx="518.5" cy="731.4" r="1.05"/><circle cx="512.0" cy="741.6" r="1.05"/><circle cx="518.3" cy="747.0" r="1.05"/><circle cx="511.7" cy="747.7" r="1.05"/><circle cx="515.4" cy="738.2" r="1.05"/><circle cx="518.1" cy="712.0" r="1.05"/><circle cx="492.6" cy="753.4" r="1.05"/><circle cx="501.9" cy="752.9" r="1.05"/><circle cx="522.9" cy="733.4" r="1.05"/><circle cx="525.5" cy="713.4" r="1.05"/><circle cx="494.2" cy="740.2" r="1.05"/><circle cx="513.5" cy="761.0" r="1.05"/><circle cx="493.5" cy="691.3" r="1.05"/><circle cx="492.1" cy="738.5" r="1.05"/><circle cx="496.9" cy="731.5" r="1.05"/><circle cx="511.6" cy="734.9" r="1.05"/><circle cx="503.1" cy="754.4" r="1.05"/><circle cx="513.3" cy="770.0" r="1.05"/><circle cx="509.9" cy="685.0" r="1.05"/><circle cx="520.0" cy="725.0" r="1.05"/><circle cx="519.6" cy="747.0" r="1.05"/><circle cx="494.7" cy="724.6" r="1.05"/><circle cx="526.1" cy="715.0" r="1.05"/><circle cx="509.8" cy="695.4" r="1.05"/><circle cx="509.3" cy="744.2" r="1.05"/><circle cx="509.0" cy="737.9" r="1.05"/><circle cx="501.9" cy="721.0" r="1.05"/><circle cx="509.2" cy="717.6" r="1.05"/><circle cx="501.4" cy="746.8" r="1.05"/><circle cx="520.5" cy="752.0" r="1.05"/><circle cx="503.8" cy="750.1" r="1.05"/><circle cx="511.9" cy="747.7" r="1.05"/><circle cx="498.2" cy="766.3" r="1.05"/><circle cx="512.4" cy="750.6" r="1.05"/><circle cx="499.1" cy="769.2" r="1.05"/><circle cx="500.6" cy="762.8" r="1.05"/><circle cx="525.7" cy="725.5" r="1.05"/><circle cx="510.6" cy="762.4" r="1.05"/><circle cx="499.3" cy="680.3" r="1.05"/><circle cx="516.4" cy="698.0" r="1.05"/><circle cx="517.7" cy="749.9" r="1.05"/><circle cx="489.9" cy="738.0" r="1.05"/><circle cx="488.7" cy="781.8" r="1.05"/><circle cx="501.2" cy="700.4" r="1.05"/><circle cx="512.2" cy="731.5" r="1.05"/><circle cx="516.8" cy="734.2" r="1.05"/><circle cx="514.7" cy="769.3" r="1.05"/><circle cx="497.3" cy="709.6" r="1.05"/><circle cx="526.1" cy="718.7" r="1.05"/><circle cx="502.1" cy="755.7" r="1.05"/><circle cx="509.2" cy="763.2" r="1.05"/><circle cx="500.5" cy="720.6" r="1.05"/><circle cx="522.4" cy="740.1" r="1.05"/><circle cx="496.4" cy="715.7" r="1.05"/><circle cx="509.0" cy="745.9" r="1.05"/><circle cx="494.8" cy="781.4" r="1.05"/><circle cx="518.5" cy="761.5" r="1.05"/><circle cx="508.3" cy="711.6" r="1.05"/><circle cx="490.0" cy="755.2" r="1.05"/><circle cx="524.5" cy="731.5" r="1.05"/><circle cx="503.7" cy="701.7" r="1.05"/><circle cx="522.6" cy="730.1" r="1.05"/><circle cx="492.3" cy="742.5" r="1.05"/><circle cx="522.0" cy="738.8" r="1.05"/><circle cx="500.8" cy="750.6" r="1.05"/><circle cx="524.5" cy="733.8" r="1.05"/><circle cx="500.9" cy="732.8" r="1.05"/><circle cx="515.0" cy="761.4" r="1.05"/><circle cx="516.7" cy="693.3" r="1.05"/><circle cx="493.3" cy="747.5" r="1.05"/><circle cx="513.9" cy="716.2" r="1.05"/><circle cx="522.4" cy="778.5" r="1.05"/><circle cx="524.1" cy="661.5" r="1.05"/><circle cx="516.7" cy="748.6" r="1.05"/><circle cx="520.7" cy="672.0" r="1.05"/><circle cx="493.2" cy="745.6" r="1.05"/><circle cx="489.1" cy="744.1" r="1.05"/><circle cx="519.7" cy="766.6" r="1.05"/><circle cx="516.8" cy="738.3" r="1.05"/><circle cx="506.0" cy="743.6" r="1.05"/><circle cx="504.4" cy="712.2" r="1.05"/><circle cx="489.5" cy="738.3" r="1.05"/><circle cx="513.6" cy="690.0" r="1.05"/><circle cx="494.5" cy="756.4" r="1.05"/><circle cx="514.3" cy="716.0" r="1.05"/><circle cx="498.4" cy="703.4" r="1.05"/><circle cx="493.1" cy="750.6" r="1.05"/><circle cx="523.2" cy="757.7" r="1.05"/><circle cx="494.3" cy="679.5" r="1.05"/><circle cx="513.5" cy="677.5" r="1.05"/><circle cx="492.0" cy="746.8" r="1.05"/><circle cx="499.4" cy="736.8" r="1.05"/><circle cx="505.9" cy="728.8" r="1.05"/><circle cx="522.0" cy="757.1" r="1.05"/><circle cx="522.8" cy="741.1" r="1.05"/><circle cx="507.2" cy="743.6" r="1.05"/><circle cx="521.6" cy="727.5" r="1.05"/><circle cx="516.1" cy="706.7" r="1.05"/><circle cx="510.0" cy="736.9" r="1.05"/><circle cx="509.5" cy="760.2" r="1.05"/><circle cx="497.7" cy="761.6" r="1.05"/><circle cx="490.5" cy="767.0" r="1.05"/><circle cx="518.5" cy="734.7" r="1.05"/><circle cx="491.7" cy="710.7" r="1.05"/><circle cx="526.0" cy="724.3" r="1.05"/><circle cx="515.9" cy="687.5" r="1.05"/><circle cx="517.9" cy="758.0" r="1.05"/><circle cx="503.3" cy="692.8" r="1.05"/><circle cx="515.4" cy="693.7" r="1.05"/><circle cx="497.3" cy="765.4" r="1.05"/><circle cx="495.0" cy="776.2" r="1.05"/><circle cx="512.7" cy="693.3" r="1.05"/><circle cx="522.5" cy="746.0" r="1.05"/><circle cx="521.1" cy="757.1" r="1.05"/><circle cx="497.4" cy="768.5" r="1.05"/><circle cx="492.0" cy="656.7" r="1.05"/><circle cx="495.5" cy="739.5" r="1.05"/><circle cx="494.4" cy="692.7" r="1.05"/><circle cx="507.7" cy="738.9" r="1.05"/><circle cx="508.1" cy="703.6" r="1.05"/><circle cx="508.9" cy="732.8" r="1.05"/><circle cx="497.5" cy="760.2" r="1.05"/><circle cx="499.9" cy="744.6" r="1.05"/><circle cx="522.2" cy="735.8" r="1.05"/><circle cx="499.2" cy="732.3" r="1.05"/><circle cx="504.8" cy="685.8" r="1.05"/><circle cx="500.1" cy="737.4" r="1.05"/><circle cx="499.3" cy="726.6" r="1.05"/><circle cx="516.9" cy="665.9" r="1.05"/><circle cx="496.5" cy="761.7" r="1.05"/><circle cx="493.9" cy="673.9" r="1.05"/><circle cx="489.5" cy="758.1" r="1.05"/><circle cx="496.6" cy="749.9" r="1.05"/><circle cx="503.7" cy="705.4" r="1.05"/><circle cx="502.0" cy="751.4" r="1.05"/><circle cx="510.5" cy="736.9" r="1.05"/><circle cx="508.1" cy="737.2" r="1.05"/><circle cx="496.2" cy="738.3" r="1.05"/><circle cx="495.6" cy="701.3" r="1.05"/><circle cx="488.8" cy="760.7" r="1.05"/><circle cx="495.4" cy="657.8" r="1.05"/><circle cx="518.0" cy="715.2" r="1.05"/><circle cx="509.3" cy="757.9" r="1.05"/><circle cx="516.8" cy="727.1" r="1.05"/><circle cx="511.4" cy="745.1" r="1.05"/><circle cx="523.4" cy="739.5" r="1.05"/><circle cx="522.5" cy="717.5" r="1.05"/><circle cx="523.9" cy="784.0" r="1.05"/><circle cx="521.6" cy="742.9" r="1.05"/><circle cx="509.9" cy="739.1" r="1.05"/><circle cx="515.0" cy="739.4" r="1.05"/><circle cx="520.0" cy="700.7" r="1.05"/><circle cx="502.8" cy="770.5" r="1.05"/><circle cx="492.7" cy="766.4" r="1.05"/><circle cx="493.3" cy="701.9" r="1.05"/><circle cx="504.0" cy="747.3" r="1.05"/><circle cx="498.5" cy="732.7" r="1.05"/><circle cx="511.7" cy="701.9" r="1.05"/><circle cx="520.2" cy="713.0" r="1.05"/><circle cx="490.4" cy="771.0" r="1.05"/><circle cx="515.3" cy="709.3" r="1.05"/><circle cx="518.5" cy="737.9" r="1.05"/><circle cx="518.2" cy="723.3" r="1.05"/><circle cx="496.0" cy="768.5" r="1.05"/><circle cx="500.8" cy="760.9" r="1.05"/><circle cx="490.6" cy="738.4" r="1.05"/><circle cx="513.5" cy="736.4" r="1.05"/><circle cx="520.2" cy="777.6" r="1.05"/><circle cx="524.3" cy="709.5" r="1.05"/><circle cx="516.1" cy="774.0" r="1.05"/><circle cx="520.5" cy="719.0" r="1.05"/><circle cx="498.6" cy="750.2" r="1.05"/><circle cx="492.3" cy="746.5" r="1.05"/><circle cx="500.7" cy="696.9" r="1.05"/><circle cx="504.7" cy="715.3" r="1.05"/><circle cx="526.0" cy="700.6" r="1.05"/><circle cx="511.2" cy="716.1" r="1.05"/><circle cx="490.2" cy="742.8" r="1.05"/><circle cx="523.5" cy="728.8" r="1.05"/><circle cx="515.1" cy="765.2" r="1.05"/><circle cx="498.1" cy="759.2" r="1.05"/><circle cx="495.0" cy="688.0" r="1.05"/><circle cx="524.3" cy="767.2" r="1.05"/><circle cx="493.5" cy="749.7" r="1.05"/><circle cx="507.2" cy="728.6" r="1.05"/><circle cx="524.1" cy="724.7" r="1.05"/><circle cx="504.6" cy="723.7" r="1.05"/><circle cx="525.8" cy="735.0" r="1.05"/><circle cx="511.0" cy="667.6" r="1.05"/><circle cx="506.8" cy="741.3" r="1.05"/><circle cx="491.8" cy="745.6" r="1.05"/><circle cx="490.7" cy="748.6" r="1.05"/><circle cx="515.4" cy="745.2" r="1.05"/><circle cx="490.4" cy="764.2" r="1.05"/><circle cx="502.3" cy="737.5" r="1.05"/><circle cx="500.4" cy="765.1" r="1.05"/><circle cx="504.6" cy="778.7" r="1.05"/><circle cx="492.0" cy="760.1" r="1.05"/><circle cx="525.7" cy="726.5" r="1.05"/><circle cx="509.7" cy="734.0" r="1.05"/><circle cx="519.1" cy="717.4" r="1.05"/><circle cx="489.1" cy="736.1" r="1.05"/><circle cx="512.3" cy="735.7" r="1.05"/><circle cx="502.4" cy="732.0" r="1.05"/><circle cx="503.4" cy="707.3" r="1.05"/><circle cx="517.0" cy="745.2" r="1.05"/><circle cx="519.6" cy="733.7" r="1.05"/><circle cx="497.7" cy="763.2" r="1.05"/><circle cx="509.6" cy="738.8" r="1.05"/><circle cx="509.8" cy="762.9" r="1.05"/><circle cx="508.8" cy="737.5" r="1.05"/><circle cx="507.3" cy="703.2" r="1.05"/><circle cx="509.7" cy="775.4" r="1.05"/><circle cx="514.6" cy="711.1" r="1.05"/><circle cx="509.3" cy="738.3" r="1.05"/><circle cx="519.4" cy="726.7" r="1.05"/><circle cx="507.6" cy="746.3" r="1.05"/><circle cx="514.8" cy="702.5" r="1.05"/><circle cx="489.2" cy="741.6" r="1.05"/><circle cx="502.9" cy="767.6" r="1.05"/><circle cx="520.9" cy="759.2" r="1.05"/><circle cx="506.7" cy="727.0" r="1.05"/><circle cx="503.4" cy="719.7" r="1.05"/><circle cx="494.9" cy="720.4" r="1.05"/><circle cx="492.4" cy="780.7" r="1.05"/><circle cx="495.7" cy="712.8" r="1.05"/><circle cx="506.0" cy="725.2" r="1.05"/><circle cx="491.7" cy="749.1" r="1.05"/><circle cx="520.3" cy="747.2" r="1.05"/><circle cx="494.5" cy="730.0" r="1.05"/><circle cx="503.8" cy="767.8" r="1.05"/><circle cx="499.8" cy="747.9" r="1.05"/><circle cx="509.4" cy="765.9" r="1.05"/><circle cx="510.8" cy="725.5" r="1.05"/><circle cx="488.9" cy="722.0" r="1.05"/><circle cx="493.2" cy="731.9" r="1.05"/><circle cx="507.3" cy="740.5" r="1.05"/><circle cx="491.9" cy="715.6" r="1.05"/><circle cx="516.3" cy="735.4" r="1.05"/><circle cx="496.9" cy="696.1" r="1.05"/><circle cx="493.7" cy="751.4" r="1.05"/><circle cx="523.7" cy="748.1" r="1.05"/><circle cx="497.3" cy="736.4" r="1.05"/><circle cx="513.2" cy="740.2" r="1.05"/><circle cx="504.0" cy="734.3" r="1.05"/><circle cx="491.8" cy="783.8" r="1.05"/><circle cx="524.7" cy="764.1" r="1.05"/><circle cx="489.9" cy="746.4" r="1.05"/><circle cx="505.8" cy="708.4" r="1.05"/><circle cx="515.5" cy="702.0" r="1.05"/><circle cx="499.9" cy="750.3" r="1.05"/><circle cx="510.4" cy="717.8" r="1.05"/><circle cx="521.3" cy="686.4" r="1.05"/><circle cx="506.0" cy="716.6" r="1.05"/><circle cx="516.0" cy="781.2" r="1.05"/><circle cx="522.4" cy="754.3" r="1.05"/><circle cx="505.1" cy="724.1" r="1.05"/><circle cx="505.6" cy="687.2" r="1.05"/><circle cx="516.9" cy="721.9" r="1.05"/><circle cx="513.7" cy="717.0" r="1.05"/><circle cx="494.9" cy="702.6" r="1.05"/><circle cx="522.3" cy="782.9" r="1.05"/><circle cx="512.3" cy="747.0" r="1.05"/><circle cx="502.9" cy="703.5" r="1.05"/><circle cx="497.9" cy="734.8" r="1.05"/><circle cx="501.0" cy="775.5" r="1.05"/><circle cx="516.3" cy="750.4" r="1.05"/><circle cx="524.0" cy="730.2" r="1.05"/><circle cx="492.6" cy="778.4" r="1.05"/><circle cx="500.6" cy="762.7" r="1.05"/><circle cx="510.1" cy="718.8" r="1.05"/><circle cx="511.0" cy="753.1" r="1.05"/><circle cx="499.0" cy="733.6" r="1.05"/><circle cx="500.5" cy="760.4" r="1.05"/><circle cx="491.4" cy="713.5" r="1.05"/><circle cx="499.3" cy="733.8" r="1.05"/><circle cx="491.5" cy="748.8" r="1.05"/><circle cx="504.2" cy="708.8" r="1.05"/><circle cx="520.9" cy="753.8" r="1.05"/><circle cx="513.4" cy="716.7" r="1.05"/><circle cx="508.1" cy="684.7" r="1.05"/><circle cx="490.4" cy="714.7" r="1.05"/><circle cx="499.2" cy="737.3" r="1.05"/><circle cx="511.2" cy="770.9" r="1.05"/><circle cx="512.7" cy="724.7" r="1.05"/><circle cx="509.1" cy="779.1" r="1.05"/><circle cx="490.1" cy="766.6" r="1.05"/><circle cx="510.5" cy="748.4" r="1.05"/><circle cx="488.7" cy="741.7" r="1.05"/><circle cx="509.8" cy="697.5" r="1.05"/><circle cx="505.8" cy="764.8" r="1.05"/><circle cx="504.0" cy="753.7" r="1.05"/><circle cx="503.4" cy="688.4" r="1.05"/><circle cx="495.6" cy="688.6" r="1.05"/><circle cx="488.6" cy="726.5" r="1.05"/><circle cx="506.8" cy="760.4" r="1.05"/><circle cx="489.6" cy="743.4" r="1.05"/><circle cx="509.6" cy="743.9" r="1.05"/><circle cx="495.2" cy="677.2" r="1.05"/><circle cx="499.2" cy="730.4" r="1.05"/><circle cx="503.9" cy="747.0" r="1.05"/><circle cx="511.4" cy="749.9" r="1.05"/><circle cx="524.1" cy="769.7" r="1.05"/><circle cx="488.7" cy="737.8" r="1.05"/><circle cx="489.8" cy="657.5" r="1.05"/><circle cx="503.1" cy="740.8" r="1.05"/><circle cx="511.9" cy="786.4" r="1.05"/><circle cx="520.8" cy="750.4" r="1.05"/><circle cx="510.8" cy="764.9" r="1.05"/><circle cx="504.5" cy="748.8" r="1.05"/><circle cx="524.7" cy="691.0" r="1.05"/><circle cx="497.8" cy="663.5" r="1.05"/><circle cx="496.4" cy="702.2" r="1.05"/><circle cx="510.3" cy="749.0" r="1.05"/><circle cx="516.8" cy="730.1" r="1.05"/><circle cx="524.6" cy="766.6" r="1.05"/><circle cx="508.1" cy="714.6" r="1.05"/><circle cx="523.2" cy="743.1" r="1.05"/><circle cx="512.4" cy="738.2" r="1.05"/><circle cx="523.3" cy="723.1" r="1.05"/><circle cx="491.5" cy="772.0" r="1.05"/><circle cx="493.5" cy="754.6" r="1.05"/><circle cx="515.6" cy="670.3" r="1.05"/><circle cx="504.2" cy="746.1" r="1.05"/><circle cx="498.7" cy="695.1" r="1.05"/><circle cx="502.9" cy="776.9" r="1.05"/><circle cx="509.7" cy="693.1" r="1.05"/><circle cx="489.3" cy="749.6" r="1.05"/><circle cx="519.1" cy="780.5" r="1.05"/><circle cx="506.7" cy="698.6" r="1.05"/><circle cx="493.2" cy="726.4" r="1.05"/><circle cx="518.7" cy="728.9" r="1.05"/><circle cx="504.3" cy="745.4" r="1.05"/><circle cx="493.5" cy="777.0" r="1.05"/><circle cx="501.9" cy="764.7" r="1.05"/><circle cx="510.2" cy="775.7" r="1.05"/><circle cx="524.1" cy="767.3" r="1.05"/><circle cx="505.7" cy="731.5" r="1.05"/><circle cx="502.3" cy="686.5" r="1.05"/><circle cx="509.8" cy="752.8" r="1.05"/><circle cx="509.1" cy="740.4" r="1.05"/><circle cx="498.0" cy="732.1" r="1.05"/><circle cx="512.1" cy="702.2" r="1.05"/><circle cx="518.0" cy="759.3" r="1.05"/><circle cx="517.1" cy="712.9" r="1.05"/><circle cx="496.8" cy="753.2" r="1.05"/><circle cx="500.3" cy="714.3" r="1.05"/><circle cx="491.0" cy="777.9" r="1.05"/><circle cx="496.2" cy="762.6" r="1.05"/><circle cx="505.2" cy="780.6" r="1.05"/><circle cx="522.1" cy="747.3" r="1.05"/><circle cx="514.0" cy="713.0" r="1.05"/><circle cx="512.2" cy="719.6" r="1.05"/><circle cx="518.8" cy="772.2" r="1.05"/><circle cx="493.3" cy="718.0" r="1.05"/><circle cx="504.7" cy="736.3" r="1.05"/><circle cx="488.9" cy="762.3" r="1.05"/><circle cx="503.6" cy="722.5" r="1.05"/><circle cx="492.0" cy="726.4" r="1.05"/><circle cx="496.6" cy="720.5" r="1.05"/><circle cx="522.3" cy="751.5" r="1.05"/><circle cx="498.7" cy="731.9" r="1.05"/><circle cx="490.0" cy="698.6" r="1.05"/><circle cx="508.5" cy="730.8" r="1.05"/><circle cx="509.6" cy="756.7" r="1.05"/><circle cx="513.6" cy="747.3" r="1.05"/><circle cx="502.0" cy="753.5" r="1.05"/><circle cx="523.1" cy="765.2" r="1.05"/><circle cx="514.8" cy="787.6" r="1.05"/><circle cx="491.2" cy="721.0" r="1.05"/><circle cx="515.8" cy="706.2" r="1.05"/><circle cx="494.4" cy="761.5" r="1.05"/><circle cx="513.0" cy="749.9" r="1.05"/><circle cx="496.7" cy="726.0" r="1.05"/><circle cx="494.9" cy="671.5" r="1.05"/><circle cx="490.7" cy="734.5" r="1.05"/><circle cx="492.0" cy="689.7" r="1.05"/><circle cx="509.8" cy="720.0" r="1.05"/><circle cx="513.6" cy="738.6" r="1.05"/><circle cx="500.7" cy="723.3" r="1.05"/><circle cx="515.8" cy="740.2" r="1.05"/><circle cx="506.8" cy="702.7" r="1.05"/><circle cx="510.5" cy="729.5" r="1.05"/><circle cx="513.3" cy="737.7" r="1.05"/><circle cx="503.1" cy="732.4" r="1.05"/><circle cx="493.0" cy="757.1" r="1.05"/><circle cx="500.0" cy="739.3" r="1.05"/><circle cx="510.8" cy="673.7" r="1.05"/><circle cx="494.3" cy="738.6" r="1.05"/><circle cx="503.1" cy="747.6" r="1.05"/><circle cx="512.4" cy="753.8" r="1.05"/><circle cx="491.1" cy="748.0" r="1.05"/><circle cx="503.6" cy="737.0" r="1.05"/><circle cx="507.4" cy="760.3" r="1.05"/><circle cx="510.6" cy="750.6" r="1.05"/><circle cx="509.7" cy="723.3" r="1.05"/><circle cx="502.2" cy="777.2" r="1.05"/><circle cx="491.8" cy="730.5" r="1.05"/><circle cx="493.0" cy="752.4" r="1.05"/><circle cx="493.1" cy="707.1" r="1.05"/><circle cx="524.7" cy="758.5" r="1.05"/><circle cx="505.2" cy="736.3" r="1.05"/><circle cx="522.3" cy="717.2" r="1.05"/><circle cx="501.3" cy="687.1" r="1.05"/><circle cx="503.1" cy="780.5" r="1.05"/><circle cx="502.7" cy="652.5" r="1.05"/><circle cx="521.0" cy="766.5" r="1.05"/><circle cx="488.6" cy="708.6" r="1.05"/><circle cx="508.1" cy="749.9" r="1.05"/><circle cx="521.0" cy="717.3" r="1.05"/><circle cx="494.2" cy="762.1" r="1.05"/><circle cx="522.6" cy="742.9" r="1.05"/><circle cx="501.6" cy="705.0" r="1.05"/><circle cx="499.9" cy="749.6" r="1.05"/><circle cx="512.7" cy="720.4" r="1.05"/><circle cx="501.6" cy="746.5" r="1.05"/><circle cx="495.2" cy="687.3" r="1.05"/><circle cx="516.1" cy="707.4" r="1.05"/><circle cx="510.7" cy="720.6" r="1.05"/><circle cx="512.9" cy="725.6" r="1.05"/><circle cx="494.2" cy="724.3" r="1.05"/><circle cx="513.6" cy="740.6" r="1.05"/><circle cx="514.1" cy="716.7" r="1.05"/><circle cx="501.6" cy="740.7" r="1.05"/><circle cx="501.1" cy="703.7" r="1.05"/><circle cx="489.6" cy="739.6" r="1.05"/><circle cx="489.9" cy="737.7" r="1.05"/><circle cx="501.0" cy="714.6" r="1.05"/><circle cx="516.5" cy="664.1" r="1.05"/><circle cx="524.8" cy="732.5" r="1.05"/><circle cx="508.5" cy="688.0" r="1.05"/><circle cx="504.9" cy="709.6" r="1.05"/><circle cx="512.8" cy="743.3" r="1.05"/><circle cx="501.7" cy="692.2" r="1.05"/><circle cx="520.0" cy="752.0" r="1.05"/><circle cx="507.4" cy="735.5" r="1.05"/><circle cx="491.8" cy="656.7" r="1.05"/><circle cx="503.1" cy="719.5" r="1.05"/><circle cx="518.7" cy="700.3" r="1.05"/><circle cx="520.2" cy="656.8" r="1.05"/><circle cx="498.9" cy="759.5" r="1.05"/><circle cx="488.9" cy="683.1" r="1.05"/><circle cx="510.8" cy="744.4" r="1.05"/><circle cx="513.2" cy="786.1" r="1.05"/><circle cx="521.8" cy="754.9" r="1.05"/><circle cx="512.6" cy="738.0" r="1.05"/><circle cx="517.8" cy="746.3" r="1.05"/><circle cx="515.6" cy="742.7" r="1.05"/><circle cx="509.8" cy="707.8" r="1.05"/><circle cx="502.4" cy="702.1" r="1.05"/><circle cx="521.1" cy="697.2" r="1.05"/><circle cx="519.9" cy="731.0" r="1.05"/><circle cx="524.0" cy="732.0" r="1.05"/><circle cx="513.4" cy="729.2" r="1.05"/><circle cx="505.0" cy="765.6" r="1.05"/><circle cx="508.8" cy="713.6" r="1.05"/><circle cx="509.2" cy="781.6" r="1.05"/><circle cx="511.2" cy="765.0" r="1.05"/><circle cx="512.5" cy="753.2" r="1.05"/><circle cx="494.2" cy="739.5" r="1.05"/><circle cx="521.2" cy="734.7" r="1.05"/><circle cx="520.6" cy="743.7" r="1.05"/><circle cx="511.3" cy="684.7" r="1.05"/><circle cx="502.1" cy="749.3" r="1.05"/><circle cx="512.0" cy="753.3" r="1.05"/><circle cx="517.4" cy="758.7" r="1.05"/><circle cx="525.9" cy="726.9" r="1.05"/><circle cx="525.4" cy="755.1" r="1.05"/><circle cx="491.2" cy="733.5" r="1.05"/><circle cx="490.4" cy="701.9" r="1.05"/><circle cx="507.2" cy="731.1" r="1.05"/><circle cx="513.8" cy="730.0" r="1.05"/><circle cx="500.5" cy="770.4" r="1.05"/><circle cx="504.0" cy="737.3" r="1.05"/><circle cx="506.7" cy="732.9" r="1.05"/><circle cx="517.6" cy="776.0" r="1.05"/><circle cx="510.1" cy="731.2" r="1.05"/><circle cx="517.2" cy="737.2" r="1.05"/><circle cx="525.5" cy="753.4" r="1.05"/><circle cx="505.0" cy="758.3" r="1.05"/><circle cx="500.3" cy="681.3" r="1.05"/><circle cx="493.9" cy="768.7" r="1.05"/><circle cx="502.7" cy="682.3" r="1.05"/><circle cx="508.2" cy="720.8" r="1.05"/><circle cx="512.1" cy="672.0" r="1.05"/><circle cx="491.1" cy="744.7" r="1.05"/><circle cx="514.2" cy="742.9" r="1.05"/><circle cx="520.6" cy="774.0" r="1.05"/><circle cx="502.0" cy="716.9" r="1.05"/><circle cx="501.8" cy="754.4" r="1.05"/><circle cx="506.2" cy="753.9" r="1.05"/><circle cx="497.3" cy="750.9" r="1.05"/><circle cx="496.4" cy="739.2" r="1.05"/><circle cx="492.5" cy="685.4" r="1.05"/><circle cx="516.6" cy="759.4" r="1.05"/><circle cx="495.7" cy="709.8" r="1.05"/><circle cx="491.5" cy="730.3" r="1.05"/><circle cx="516.8" cy="734.1" r="1.05"/><circle cx="524.5" cy="739.0" r="1.05"/><circle cx="498.5" cy="690.9" r="1.05"/><circle cx="502.7" cy="747.8" r="1.05"/><circle cx="495.0" cy="734.4" r="1.05"/><circle cx="492.0" cy="732.6" r="1.05"/><circle cx="522.3" cy="754.1" r="1.05"/><circle cx="514.3" cy="736.8" r="1.05"/><circle cx="520.4" cy="708.3" r="1.05"/><circle cx="501.9" cy="733.7" r="1.05"/><circle cx="519.3" cy="745.5" r="1.05"/><circle cx="505.4" cy="783.0" r="1.05"/><circle cx="504.9" cy="715.7" r="1.05"/><circle cx="511.6" cy="723.8" r="1.05"/><circle cx="505.6" cy="737.0" r="1.05"/><circle cx="519.7" cy="747.3" r="1.05"/><circle cx="520.0" cy="713.7" r="1.05"/><circle cx="512.0" cy="761.6" r="1.05"/><circle cx="511.3" cy="749.8" r="1.05"/><circle cx="524.1" cy="693.3" r="1.05"/><circle cx="489.1" cy="753.1" r="1.05"/><circle cx="510.8" cy="768.5" r="1.05"/><circle cx="508.3" cy="720.7" r="1.05"/><circle cx="514.1" cy="660.5" r="1.05"/><circle cx="496.4" cy="675.8" r="1.05"/><circle cx="502.2" cy="758.8" r="1.05"/><circle cx="500.0" cy="740.1" r="1.05"/><circle cx="511.4" cy="761.9" r="1.05"/><circle cx="522.0" cy="749.9" r="1.05"/><circle cx="525.8" cy="785.1" r="1.05"/><circle cx="510.9" cy="736.0" r="1.05"/><circle cx="526.0" cy="686.9" r="1.05"/><circle cx="517.0" cy="734.6" r="1.05"/><circle cx="516.7" cy="746.8" r="1.05"/><circle cx="512.5" cy="754.8" r="1.05"/><circle cx="499.3" cy="733.6" r="1.05"/><circle cx="491.3" cy="744.9" r="1.05"/><circle cx="493.3" cy="727.1" r="1.05"/><circle cx="517.3" cy="765.0" r="1.05"/><circle cx="503.5" cy="749.7" r="1.05"/><circle cx="499.1" cy="742.8" r="1.05"/><circle cx="515.6" cy="684.4" r="1.05"/><circle cx="495.6" cy="765.5" r="1.05"/><circle cx="523.9" cy="738.9" r="1.05"/><circle cx="515.6" cy="708.6" r="1.05"/><circle cx="523.3" cy="732.0" r="1.05"/><circle cx="509.4" cy="678.0" r="1.05"/><circle cx="510.7" cy="744.2" r="1.05"/><circle cx="489.3" cy="703.7" r="1.05"/><circle cx="496.1" cy="767.1" r="1.05"/><circle cx="496.8" cy="743.2" r="1.05"/><circle cx="520.8" cy="741.5" r="1.05"/><circle cx="504.6" cy="748.5" r="1.05"/><circle cx="499.7" cy="723.8" r="1.05"/><circle cx="511.4" cy="717.4" r="1.05"/><circle cx="522.1" cy="716.8" r="1.05"/><circle cx="522.4" cy="691.9" r="1.05"/><circle cx="506.2" cy="747.8" r="1.05"/><circle cx="524.3" cy="745.0" r="1.05"/><circle cx="509.6" cy="764.3" r="1.05"/><circle cx="519.9" cy="709.9" r="1.05"/><circle cx="525.0" cy="778.4" r="1.05"/><circle cx="494.0" cy="658.3" r="1.05"/><circle cx="512.5" cy="700.9" r="1.05"/><circle cx="496.6" cy="739.5" r="1.05"/><circle cx="502.6" cy="756.0" r="1.05"/><circle cx="524.1" cy="755.3" r="1.05"/><circle cx="515.1" cy="693.3" r="1.05"/><circle cx="513.8" cy="729.6" r="1.05"/><circle cx="507.8" cy="745.9" r="1.05"/><circle cx="502.2" cy="741.4" r="1.05"/><circle cx="518.9" cy="702.8" r="1.05"/><circle cx="497.9" cy="743.3" r="1.05"/><circle cx="500.4" cy="743.3" r="1.05"/><circle cx="515.7" cy="713.3" r="1.05"/><circle cx="502.2" cy="695.6" r="1.05"/><circle cx="524.9" cy="747.8" r="1.05"/><circle cx="517.2" cy="732.4" r="1.05"/><circle cx="495.7" cy="738.4" r="1.05"/><circle cx="519.1" cy="728.1" r="1.05"/><circle cx="507.4" cy="752.4" r="1.05"/><circle cx="499.9" cy="756.0" r="1.05"/><circle cx="522.4" cy="691.9" r="1.05"/><circle cx="491.8" cy="718.0" r="1.05"/><circle cx="511.7" cy="717.6" r="1.05"/><circle cx="522.5" cy="727.9" r="1.05"/><circle cx="522.4" cy="750.8" r="1.05"/><circle cx="503.9" cy="746.0" r="1.05"/><circle cx="490.7" cy="736.6" r="1.05"/><circle cx="521.5" cy="740.7" r="1.05"/><circle cx="496.9" cy="673.1" r="1.05"/><circle cx="510.8" cy="774.0" r="1.05"/><circle cx="489.4" cy="749.9" r="1.05"/><circle cx="515.0" cy="709.3" r="1.05"/><circle cx="525.8" cy="665.3" r="1.05"/><circle cx="492.3" cy="751.8" r="1.05"/><circle cx="517.6" cy="757.8" r="1.05"/><circle cx="491.1" cy="736.5" r="1.05"/><circle cx="497.2" cy="720.3" r="1.05"/><circle cx="502.0" cy="779.8" r="1.05"/><circle cx="512.7" cy="710.0" r="1.05"/><circle cx="515.8" cy="728.7" r="1.05"/><circle cx="504.9" cy="678.4" r="1.05"/><circle cx="504.6" cy="681.8" r="1.05"/><circle cx="492.3" cy="732.6" r="1.05"/><circle cx="507.5" cy="705.4" r="1.05"/><circle cx="510.4" cy="740.1" r="1.05"/><circle cx="497.3" cy="709.7" r="1.05"/><circle cx="512.8" cy="705.9" r="1.05"/><circle cx="525.5" cy="752.8" r="1.05"/><circle cx="496.0" cy="730.5" r="1.05"/><circle cx="511.5" cy="713.0" r="1.05"/><circle cx="509.6" cy="717.3" r="1.05"/><circle cx="525.6" cy="748.3" r="1.05"/><circle cx="507.8" cy="704.9" r="1.05"/><circle cx="508.9" cy="734.2" r="1.05"/><circle cx="515.8" cy="722.9" r="1.05"/><circle cx="503.0" cy="742.9" r="1.05"/><circle cx="511.8" cy="760.8" r="1.05"/><circle cx="503.3" cy="731.4" r="1.05"/><circle cx="502.0" cy="688.5" r="1.05"/><circle cx="493.5" cy="742.9" r="1.05"/><circle cx="518.5" cy="730.7" r="1.05"/><circle cx="505.7" cy="744.8" r="1.05"/><circle cx="501.3" cy="750.3" r="1.05"/><circle cx="503.3" cy="752.8" r="1.05"/><circle cx="489.8" cy="744.0" r="1.05"/><circle cx="511.5" cy="717.9" r="1.05"/><circle cx="494.6" cy="750.2" r="1.05"/><circle cx="498.7" cy="760.8" r="1.05"/><circle cx="523.2" cy="751.5" r="1.05"/><circle cx="502.6" cy="752.7" r="1.05"/><circle cx="524.5" cy="684.3" r="1.05"/><circle cx="517.2" cy="745.4" r="1.05"/><circle cx="492.1" cy="687.0" r="1.05"/><circle cx="518.2" cy="769.2" r="1.05"/><circle cx="498.1" cy="737.7" r="1.05"/><circle cx="489.9" cy="735.9" r="1.05"/><circle cx="514.4" cy="763.9" r="1.05"/><circle cx="523.8" cy="720.0" r="1.05"/></g><line x1="578.57" y1="661" x2="578.57" y2="756.8" stroke="#d8b888" stroke-width="0.8"/><rect x="558.67" y="700.2" width="39.8" height="37.4" fill="#FDB827" stroke="#E0901A" stroke-width="0.7"/><line x1="558.67" y1="716.4" x2="598.47" y2="716.4" stroke="#E0901A" stroke-width="0.9"/><g fill="#C8680F"><circle cx="566.8" cy="660.4" r="1.15"/><circle cx="583.6" cy="682.0" r="1.15"/><circle cx="572.2" cy="686.4" r="1.15"/><circle cx="571.3" cy="692.7" r="1.15"/><circle cx="580.3" cy="693.9" r="1.15"/><circle cx="564.4" cy="700.2" r="1.15"/><circle cx="570.7" cy="699.3" r="1.15"/><circle cx="575.5" cy="702.9" r="1.15"/><circle cx="568.9" cy="709.2" r="1.15"/><circle cx="580.6" cy="712.8" r="1.15"/><circle cx="573.4" cy="716.4" r="1.15"/><circle cx="583.3" cy="726.9" r="1.15"/><circle cx="595.2" cy="726.3" r="1.15"/><circle cx="589.2" cy="735.8" r="1.15"/><circle cx="592.2" cy="733.7" r="1.15"/><circle cx="566.8" cy="738.8" r="1.15"/><circle cx="569.8" cy="739.7" r="1.15"/><circle cx="586.3" cy="743.3" r="1.15"/><circle cx="569.8" cy="750.2" r="1.15"/><circle cx="561.7" cy="756.8" r="1.15"/></g></svg></body></html>
